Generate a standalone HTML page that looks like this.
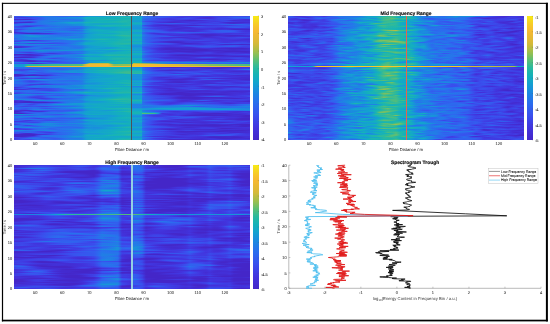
<!DOCTYPE html>
<html><head><meta charset="utf-8"><style>
html,body{margin:0;padding:0;background:#fff}
body{width:550px;height:324px;position:relative;overflow:hidden;font-family:"Liberation Sans",Arial,sans-serif}
.hm{position:absolute;overflow:hidden}
#heat{position:absolute;left:0;top:0;width:550px;height:324px;filter:blur(0.3px)}
.hm i{position:absolute;left:0;width:100%;height:1px;display:block}
</style></head><body>
<div id="heat"><div class="hm" style="left:14px;top:16px;width:236px;height:124px"><i style="top:0px;background:linear-gradient(90deg,#335bee,#3754ee,#3161ee,#2a6fee,#2576ea,#2676ea,#2577e9,#217fe5,#1f82e4,#237be7,#2872ec,#2c6aee,#2e66ee,#2e66ee,#2c6aee,#2c6bee,#2b6bee,#2a6fee,#1b89e0,#169ad6,#159cd4,#1699d6,#159cd4,#14a3ce,#14a5cb,#14a6ca,#14aac4,#14adc0,#14acc1,#14afbe,#1698d7,#1797d7,#2576ea,#2f64ee,#325eee,#3754ee,#3852ee,#3753ee,#3755ee,#3852ee,#3950ee,#3b48ea,#3f3fe4,#403ae1,#4039e1,#3f3de3,#3d44e7,#3c46e8,#3d44e7,#3d42e6,#3c46e8,#3c47e9,#3d43e6,#3e41e5,#3b49ea,#394eed,#394fed,#3a4dec,#3b4aeb,#3a4eed)"></i><i style="top:1px;background:linear-gradient(90deg,#3d44e7,#3f3ce3,#4137df,#403be2,#3d44e7,#3a4eed,#3656ee,#3160ee,#2a6eee,#2576ea,#237ae8,#227ce7,#217de6,#1d84e2,#1a8edd,#1990dc,#1990db,#1798d7,#14b0bc,#14b0bc,#14b2b9,#16b3b6,#14b2b8,#14b1ba,#14b2b9,#15b2b8,#1ab4b2,#21b6a9,#22b7a8,#21b6a9,#14abc2,#14aac4,#1b8adf,#2676ea,#2b6dee,#3062ee,#315fee,#345aee,#394fed,#3c47e9,#3e41e6,#4138e0,#4136df,#3e42e6,#3c47e9,#3e41e6,#4138e0,#4231d9,#432dd2,#432dd3,#4234de,#3d43e7,#3b4aea,#3a4ded,#3656ee,#315fee,#2f65ee,#2f64ee,#2e67ee,#2c6bee)"></i><i style="top:2px;background:linear-gradient(90deg,#3a4cec,#3853ee,#3950ee,#3b49ea,#3b4beb,#3754ee,#3754ee,#3161ee,#2773eb,#2578e9,#237ae8,#217ee6,#1f82e4,#1e83e3,#1d85e2,#1c87e1,#1b8bde,#1796d8,#14afbd,#14adc0,#14adc0,#14adc0,#14adc0,#14adbf,#14aebf,#14adc0,#14b0bc,#15b2b8,#14b2b9,#17b3b6,#14a3ce,#14a3ce,#217de6,#2e66ee,#325fee,#3852ee,#3c46e8,#3f3ee4,#403ae1,#4039e1,#3e3fe4,#3d42e6,#3b49ea,#3a4dec,#3c48ea,#3e3fe5,#4137e0,#4233dd,#4330d8,#4330d8,#4138e0,#3c47e9,#3a4cec,#3c47e9,#3b48ea,#3852ee,#3755ee,#3656ee,#325fee,#2f65ee)"></i><i style="top:3px;background:linear-gradient(90deg,#4429cd,#432bd0,#432bcf,#4428cc,#432bd0,#3f3de3,#3656ee,#3062ee,#2b6dee,#2577e9,#237ae8,#2577ea,#296fee,#2a6eee,#2674eb,#2479e8,#227de6,#1e84e3,#14a3cd,#14a9c6,#14abc3,#14b1ba,#1bb4b0,#1cb5af,#1cb5af,#1bb5b0,#1ab4b1,#1bb5b0,#1bb5b0,#1bb5b0,#14a3cd,#159dd4,#2872ec,#335dee,#335cee,#3755ee,#3b49ea,#3f3de3,#4039e1,#4234dd,#4136df,#3f3fe4,#3e42e6,#3f3fe4,#403ae2,#403be2,#3d45e8,#3a4eed,#3a4ceb,#3d43e7,#3e3fe4,#3d44e7,#3b4beb,#3a4eed,#3a4dec,#3c47e9,#3f3ee4,#4232dc,#432ed5,#432ed4)"></i><i style="top:4px;background:linear-gradient(90deg,#3853ee,#3951ee,#335dee,#2e66ee,#2c69ee,#2d69ee,#2c6aee,#2871ed,#2479e8,#217fe5,#1e83e3,#1e83e3,#207fe5,#217fe5,#227de6,#2577e9,#2577e9,#2080e4,#14a3ce,#14aac4,#14adc0,#14b0bc,#14b1bb,#14b0bb,#14afbd,#14afbe,#14b2b9,#1cb5af,#1fb6ac,#1fb6ac,#14a9c5,#14a7c9,#227de6,#315fee,#3656ee,#3a4cec,#3c48e9,#3c46e8,#3e41e6,#3f3ee4,#4136df,#4231da,#432fd6,#432bd0,#4428cb,#4429cc,#432cd1,#432ed5,#4233dd,#3f3de3,#3f3ee4,#3d43e7,#3b48ea,#3e41e5,#4232db,#432cd2,#432fd6,#4232db,#432fd6,#432ed5)"></i><i style="top:5px;background:linear-gradient(90deg,#325eee,#3755ee,#3754ee,#3b4beb,#3d43e6,#3851ee,#2a6dee,#2479e8,#237ae8,#2676ea,#2773eb,#2478e9,#2080e5,#1d85e2,#1e84e3,#1e83e3,#1c88e1,#1a8ddd,#14a7c9,#14abc2,#14afbd,#14b1bb,#14b0bb,#14b1ba,#15b2b8,#19b4b3,#1db5ad,#22b7a7,#22b7a8,#1bb4b0,#1798d7,#1a8ddd,#2e67ee,#3a4ceb,#3d44e7,#3e3fe4,#3f3de3,#403be2,#4137e0,#4232db,#432fd6,#432ed5,#4231da,#4233dc,#4232da,#4233dc,#4235df,#4039e1,#403ce2,#403ce2,#4138e0,#403ae1,#3d43e6,#3b4aea,#3c46e8,#403be2,#4234dd,#4233dc,#4232db,#4233dc)"></i><i style="top:6px;background:linear-gradient(90deg,#432cd1,#432ed5,#432cd2,#432ace,#432cd2,#3c46e8,#2a6fee,#237ae8,#227ce7,#217ee6,#1e84e3,#1a8cde,#1992db,#169bd5,#14a4cc,#14a6ca,#14a6ca,#14a6ca,#1ab4b2,#17b3b6,#1ab4b1,#1ab4b1,#18b3b4,#18b3b4,#19b4b2,#1ab4b2,#1bb4b0,#1eb6ac,#1db5ae,#1cb5af,#14a6ca,#14a4cd,#207fe5,#2f65ee,#3558ee,#3c47e9,#4138e0,#4231da,#432ed4,#4429cc,#4429cd,#432dd3,#4330d8,#4233dc,#4039e1,#3f3de3,#4138e0,#4233dd,#4234de,#3f3de3,#3c46e8,#3d44e7,#4234de,#432cd2,#4429cc,#4429cc,#432ace,#432ace,#432cd1,#432ed5)"></i><i style="top:7px;background:linear-gradient(90deg,#4039e1,#3a4ded,#2f64ee,#2b6dee,#2872ec,#2675eb,#2674eb,#2478e9,#207fe5,#1e83e3,#1d85e2,#1b89e0,#1b8adf,#1990dc,#159cd4,#14a1d0,#159cd4,#159bd5,#14adc0,#14aac5,#14a7c8,#14a7c9,#14a7c8,#14a8c6,#14a9c6,#14a8c7,#14acc1,#14b2b9,#17b3b6,#1cb5af,#14aebf,#14adc0,#1c87e1,#2c69ee,#335bee,#394fee,#394fed,#3754ee,#3656ee,#3459ee,#335dee,#345aee,#3753ee,#3b49ea,#3f3ee4,#4137df,#403be2,#3d43e6,#3d44e7,#3d44e7,#3e41e5,#3e42e6,#3d43e6,#4138e0,#432ed4,#432bd0,#4330d7,#4137e0,#3f3de3,#403be2)"></i><i style="top:8px;background:linear-gradient(90deg,#2d69ee,#2a6fee,#2577e9,#2479e8,#2577e9,#2774eb,#2871ed,#2773ec,#2675ea,#2577e9,#207fe5,#1e84e3,#2080e5,#2081e4,#1c88e0,#1a8ddd,#198fdc,#1894d9,#14a8c7,#14a7c8,#14a6ca,#14a6ca,#14a7c9,#14a9c5,#14adc0,#14afbe,#14b0bc,#14b2b9,#17b3b5,#1eb5ad,#14aebf,#14adbf,#1b89e0,#2d69ee,#3853ee,#3f3ee3,#4235de,#4235df,#403ae2,#3f3fe4,#3f3ee3,#4039e1,#403be2,#3e3fe4,#3f3fe4,#3f3fe4,#3c46e8,#3a4cec,#3a4cec,#3a4ded,#3a4cec,#3a4cec,#3558ee,#325fee,#3061ee,#2e66ee,#2c69ee,#3063ee,#3657ee,#3a4dec)"></i><i style="top:9px;background:linear-gradient(90deg,#2577e9,#2a6eee,#335cee,#3b49ea,#3a4eed,#394fed,#394fee,#3558ee,#2d68ee,#2774eb,#2577e9,#237be7,#227de6,#217ee6,#1f82e3,#1c88e0,#1a8cde,#1892da,#14a7c8,#14a9c5,#14aebf,#16b3b7,#19b4b2,#1cb5af,#1eb5ad,#1cb5af,#1bb4b0,#20b6aa,#22b7a7,#22b7a8,#14a5cb,#1991db,#3160ee,#3d43e7,#403ce2,#4232db,#432dd3,#432ace,#4426c8,#4426c8,#432ace,#432dd2,#432ed5,#432cd2,#4428cc,#4428cb,#432bd0,#4330d8,#4233dd,#4136df,#4039e1,#3f3ce2,#3f3de3,#403ae1,#3f3ce3,#3d45e8,#3b4beb,#3851ee,#3557ee,#335cee)"></i><i style="top:10px;background:linear-gradient(90deg,#3754ee,#3b49ea,#3e41e6,#4138e0,#4234de,#3a4cec,#3063ee,#2f65ee,#2e67ee,#2c6bee,#2b6bee,#2773eb,#2676ea,#2872ec,#2971ed,#2871ec,#2971ed,#2773ec,#1a8cde,#169ad5,#159ed3,#14a6ca,#14adc0,#14b2b9,#14b2b9,#14afbd,#14afbd,#14b2b9,#14b2b9,#14b2b9,#1797d7,#1795d9,#2872ec,#3656ee,#3d45e8,#4136df,#4234de,#4137e0,#4136df,#432fd6,#432cd1,#432ed5,#4233dc,#3f3ee4,#3a4cec,#3852ee,#3853ee,#3a4eed,#3c46e8,#3d44e7,#3d45e8,#3d45e8,#3c47e9,#394fed,#3656ee,#3655ee,#3852ee,#3753ee,#3851ee,#3b49ea)"></i><i style="top:11px;background:linear-gradient(90deg,#3656ee,#3a4dec,#3852ee,#3061ee,#2774eb,#217ee6,#217ee6,#2479e8,#2478e9,#237be7,#217de6,#227de6,#2479e8,#2675eb,#2872ec,#296fed,#2a6eee,#2871ec,#1c89e0,#1796d8,#169ad5,#149fd3,#14a0d2,#14a0d2,#14a0d2,#149fd2,#14a6ca,#14aebe,#14b0bc,#14aebe,#1894d9,#169bd5,#207fe5,#2f65ee,#3755ee,#3c48e9,#3e3fe4,#4138e0,#4136df,#4232da,#4231d9,#4231d9,#432ed5,#432cd1,#432ed5,#4137e0,#3e41e5,#3d43e7,#3e41e6,#3e40e5,#3e40e5,#403be2,#4138e0,#3e42e6,#394fed,#3559ee,#335cee,#3558ee,#3a4dec,#3d44e7)"></i><i style="top:12px;background:linear-gradient(90deg,#2b6dee,#2d68ee,#2e65ee,#2a6eee,#217ee6,#1c86e1,#1d86e2,#217ee6,#2675ea,#2b6bee,#2a6eee,#2871ec,#296fed,#2c6aee,#2f65ee,#3160ee,#3062ee,#2d68ee,#1c88e1,#159cd5,#149fd2,#14a0d2,#159dd4,#159cd5,#149fd2,#14a3ce,#14a7c8,#14a9c6,#14a8c8,#14aac5,#1a8ddd,#1a8edd,#2b6cee,#3951ee,#3c47e9,#3e3fe4,#403ae1,#4137df,#403ae2,#4138e0,#432fd7,#432acf,#432cd2,#432ed5,#432ed5,#4330d8,#4233dd,#4136df,#4234de,#4232dc,#4232da,#432ed5,#432dd4,#432fd6,#432fd6,#432fd7,#4330d8,#4231d9,#4232db,#4234de)"></i><i style="top:13px;background:linear-gradient(90deg,#3e40e5,#3d42e6,#3a4eed,#2f64ee,#2a6eee,#2b6cee,#2f64ee,#3063ee,#2e67ee,#2b6cee,#2871ec,#2872ec,#2a6fee,#2b6cee,#2c6bee,#2a6dee,#2479e8,#1d84e2,#159ed3,#14a6ca,#14abc2,#14acc1,#14a8c6,#14a6ca,#14a5cb,#14a5cc,#14a9c6,#14afbd,#14b0bb,#14b0bc,#1894d9,#159cd4,#2080e5,#2e67ee,#345aee,#3a4dec,#3c46e8,#3e41e5,#4138e1,#4231d9,#432dd3,#432cd2,#4330d8,#4234de,#4234de,#4232da,#432fd6,#432fd5,#4234dd,#4139e1,#4232db,#432fd6,#4232db,#4234de,#432ed5,#4427ca,#4426c8,#4426c8,#4426c8,#4426c8)"></i><i style="top:14px;background:linear-gradient(90deg,#3f3de3,#3558ee,#2970ed,#2478e9,#2577e9,#2577e9,#2576ea,#2774eb,#237be7,#1f82e4,#227de6,#2773eb,#2871ec,#2970ed,#2e66ee,#3160ee,#2e66ee,#2871ec,#1894d9,#14a5cb,#14acc2,#14afbd,#14b0bc,#14adc0,#14abc3,#14a9c5,#14abc3,#14aebe,#14afbd,#15b2b8,#14a5cb,#14a8c7,#1d84e2,#2b6dee,#2d69ee,#3062ee,#3557ee,#3b4aeb,#403be2,#4231d9,#4232db,#4233dc,#4231da,#4330d8,#432fd5,#432fd6,#4232da,#4137e0,#3d42e6,#3a4eed,#3853ee,#3559ee,#325eee,#345bee,#3559ee,#3754ee,#3b49ea,#3f3ce3,#4234de,#4233dd)"></i><i style="top:15px;background:linear-gradient(90deg,#403be2,#335dee,#2b6dee,#2872ec,#2675ea,#2479e8,#2479e8,#2773ec,#2e65ee,#2f63ee,#2970ed,#217de6,#1e83e3,#1f81e4,#217ee6,#227de6,#237ae8,#227ce7,#159cd4,#14a5cb,#14a7c8,#14aac4,#14acc1,#14abc2,#14afbe,#16b3b7,#1bb4b1,#1bb4b0,#1ab4b1,#1eb5ad,#14b0bb,#14b2b9,#1b8bdf,#2872ec,#2970ed,#2e66ee,#325eee,#3459ee,#394fed,#3d43e6,#3e41e6,#3e41e5,#3f3de3,#4136df,#4231d9,#432fd6,#4234dd,#3f3ce3,#3e41e5,#3b49ea,#3852ee,#3558ee,#325dee,#3160ee,#3062ee,#345aee,#3c47e9,#4039e1,#4234dd,#4234dd)"></i><i style="top:16px;background:linear-gradient(90deg,#432acf,#4232db,#3f3de3,#3950ee,#325eee,#3558ee,#3754ee,#2f65ee,#2872ec,#2871ec,#2b6cee,#296fed,#2675eb,#2577e9,#237be7,#207fe5,#1f82e4,#1e84e3,#169bd5,#14a0d1,#14a2cf,#14a7c9,#14aac4,#14adc0,#14b0bc,#14b2b9,#19b4b3,#1db5ad,#1bb5b0,#19b4b3,#14a0d2,#159ed3,#2676ea,#345aee,#3950ee,#394eed,#3657ee,#325eee,#335cee,#3755ee,#345aee,#2f63ee,#2f65ee,#3160ee,#335cee,#345aee,#335cee,#325dee,#3753ee,#3a4dec,#3950ee,#3754ee,#3656ee,#3754ee,#394fee,#3a4eed,#3a4cec,#3d42e6,#403be2,#3f3de3)"></i><i style="top:17px;background:linear-gradient(90deg,#3d44e7,#3e3fe5,#4231d9,#4427c9,#4426c8,#4426c8,#432ace,#4330d8,#4232db,#4137e0,#3c47e9,#3558ee,#3061ee,#2f63ee,#2e66ee,#2a6eee,#2872ec,#2970ed,#1c86e1,#1699d6,#14a2cf,#14a7c9,#14a7c9,#14a5cb,#14a5ca,#14a8c7,#14afbd,#1bb4b0,#1eb5ad,#1cb5af,#14a1d1,#1798d7,#2872ec,#3753ee,#3e3fe4,#4231da,#4330d8,#4137e0,#3f3de3,#403be2,#3f3ee4,#3e42e6,#3c48e9,#3c48e9,#3d43e7,#3e40e5,#403ae2,#4137df,#4039e1,#4136df,#4233dd,#4137e0,#4138e0,#4232dc,#4233dc,#4137e0,#4137df,#4234de,#4136df,#3f3ce3)"></i><i style="top:18px;background:linear-gradient(90deg,#2e66ee,#2d69ee,#2b6dee,#2970ed,#2c6bee,#3161ee,#335dee,#3459ee,#3459ee,#335dee,#3061ee,#2d67ee,#2b6cee,#2970ed,#2577e9,#217ee6,#1f82e3,#1e84e3,#159dd4,#14a4cd,#14aac4,#14b0bc,#14b2b9,#14b0bb,#14b0bc,#14b2b9,#19b4b3,#1eb5ad,#1db5ae,#1cb5af,#14a6ca,#14a7c9,#1e83e3,#2f64ee,#3754ee,#3c46e9,#4039e1,#4233dd,#4233dd,#4234de,#4137e0,#4233dd,#4231da,#432fd6,#432dd3,#4428cb,#4426c8,#4426c8,#4426c8,#4428cb,#4429cd,#432cd2,#4330d8,#4233dc,#4138e0,#403ce2,#403ce2,#3f3ee3,#3e40e5,#3d43e7)"></i><i style="top:19px;background:linear-gradient(90deg,#217ee5,#237ae8,#1f82e4,#1990dc,#1796d8,#1991db,#1a8cde,#1c88e0,#1d86e2,#1f81e4,#237ae8,#2674eb,#2a6eee,#2c6aee,#2b6dee,#2675eb,#227de6,#1f81e4,#169ad6,#14a3ce,#14a8c7,#14abc3,#14adc0,#14b1bb,#17b3b5,#1cb5af,#23b7a6,#2dba9b,#2eba9a,#29b99f,#14b2b8,#14b0bb,#1a8cde,#2b6bee,#325eee,#3754ee,#3950ee,#3a4dec,#3d45e8,#4235df,#4330d8,#4330d8,#4231d9,#4232dc,#4234de,#4233dc,#432fd7,#432ace,#4426c8,#4426c8,#4428cb,#432bd1,#432dd3,#432bd0,#4429cc,#4428cb,#4429cd,#432cd1,#4330d8,#4232db)"></i><i style="top:20px;background:linear-gradient(90deg,#2479e8,#237be7,#237ae8,#1d85e2,#1895d9,#1798d7,#1893da,#1a8cde,#1d86e2,#2080e4,#237be7,#2479e9,#237ae8,#227de6,#1e84e3,#1b89e0,#1e84e3,#207fe5,#169ad6,#14a4cc,#14a7c9,#14a8c7,#14abc3,#14acc1,#14abc2,#14abc2,#14b1ba,#1db5ad,#23b7a7,#25b8a4,#14afbd,#14a9c5,#1f82e4,#2d67ee,#325fee,#3657ee,#3656ee,#3459ee,#345bee,#3755ee,#3b4aeb,#3d43e7,#3f3fe4,#4139e1,#4234dd,#4235df,#4236df,#432ed4,#4429cd,#432cd2,#4233dc,#4138e0,#4234dd,#432fd6,#432cd1,#432ed5,#4231da,#4231d9,#432fd6,#432ed5)"></i><i style="top:21px;background:linear-gradient(90deg,#2676ea,#227ce7,#237ae8,#227ce7,#2080e5,#1e83e3,#1e84e3,#217ee6,#237be7,#217ee6,#2081e4,#1d86e2,#1d86e2,#2081e4,#227de6,#237be7,#227ce7,#2080e5,#169bd5,#14a3ce,#14a5ca,#14a7c9,#14a6ca,#14a5cb,#14a6ca,#14a8c7,#14aebf,#17b3b5,#1cb5af,#1bb5b0,#14a1d1,#149ed3,#2479e8,#3160ee,#3558ee,#3a4eed,#3d43e6,#4137e0,#4233dd,#4231da,#432fd6,#432dd4,#432cd2,#432ed5,#4233dc,#4136df,#4234de,#4232db,#4330d8,#432fd7,#4330d8,#4234de,#3f3ce3,#3f3ee4,#3e40e5,#3d43e6,#3b4aeb,#394fed,#3a4cec,#3c47e9)"></i><i style="top:22px;background:linear-gradient(90deg,#325fee,#2970ed,#207fe5,#1c86e1,#2080e5,#2577e9,#237be7,#1f82e4,#1d85e2,#1e84e2,#1c86e1,#1a8edd,#1991db,#198fdc,#1a8ddd,#1a8edd,#1991db,#1894d9,#14a5cb,#14a7c9,#14abc3,#14aebe,#14b1bb,#14b1bb,#14b0bc,#14b0bc,#14b0bb,#15b2b7,#19b4b2,#1db5ae,#14a7c8,#14a7c8,#1f81e4,#2e65ee,#3656ee,#3b48ea,#3e42e6,#403ae2,#4137df,#4138e0,#3e40e5,#3c45e8,#3e41e5,#4136df,#4330d7,#432dd3,#4330d7,#4235df,#3f3de3,#3f3ce3,#4137e0,#4233dc,#4232db,#4137e0,#3f3ee4,#3e40e5,#3e3fe4,#403be2,#4136df,#4233dd)"></i><i style="top:23px;background:linear-gradient(90deg,#2b6dee,#2676ea,#237ae8,#1f81e4,#1d85e2,#1f82e4,#1f82e3,#1e83e3,#1d85e2,#1d86e2,#1e83e3,#1f81e4,#1e84e2,#1892da,#14a2d0,#14a3cd,#159ed3,#169ad6,#14adc0,#14b0bc,#17b3b5,#1db5ae,#21b6a9,#1db5ae,#16b3b7,#15b2b8,#19b4b2,#1eb5ad,#21b6a9,#24b8a5,#14aebe,#14a6c9,#237be7,#3160ee,#3657ee,#3851ee,#394fed,#3b49ea,#3c46e8,#3c47e9,#3b4aeb,#3b4aeb,#3b49ea,#3d43e7,#3f3ee4,#4039e1,#4138e0,#3f3de3,#3e42e6,#3e41e5,#3f3ee4,#403ae1,#4234dd,#4233dd,#4136df,#4136df,#4233dd,#4330d8,#432dd3,#432dd3)"></i><i style="top:24px;background:linear-gradient(90deg,#3557ee,#3754ee,#3a4eed,#3e41e5,#4234dd,#4233dd,#3e40e5,#3a4cec,#3557ee,#325fee,#2e66ee,#2b6cee,#2a6dee,#2872ec,#237ae8,#2081e4,#1f81e4,#217ee6,#1795d8,#14a2d0,#14a6c9,#14abc3,#14aebf,#14afbd,#14afbd,#14afbd,#15b3b7,#1db5ae,#20b6a9,#22b7a7,#17b3b6,#17b3b5,#1c86e1,#2f64ee,#325dee,#3657ee,#394fed,#3a4eed,#3a4dec,#3d44e7,#3f3ee4,#403be2,#3f3ce3,#3e3fe4,#3d43e6,#3c46e9,#3b4aea,#3b4aea,#3d44e7,#3e40e5,#3f3de3,#4138e0,#4234de,#4234de,#4233dc,#432fd7,#432fd6,#4231da,#4233dd,#4233dc)"></i><i style="top:25px;background:linear-gradient(90deg,#3e3fe5,#3a4beb,#3161ee,#2c6aee,#2a6eee,#2d69ee,#3062ee,#315fee,#3161ee,#2b6cee,#2676ea,#2774eb,#296fed,#2871ed,#2872ec,#2773eb,#2578e9,#2080e5,#1699d6,#14a0d2,#14a5cb,#14adc0,#14b2b9,#15b2b8,#15b2b8,#16b3b7,#1bb4b0,#1eb5ad,#1bb5b0,#1bb4b0,#14a3ce,#14a0d2,#227de6,#2e65ee,#3557ee,#3b49ea,#3f3ee3,#4232db,#432cd2,#4429cd,#432ace,#432acf,#432fd6,#4235df,#4039e1,#4235df,#4233dd,#4233dd,#4233dc,#4136df,#3f3ee4,#3f3de3,#4136df,#4234de,#4136df,#4235df,#4138e0,#3f3ce3,#4039e1,#4233dc)"></i><i style="top:26px;background:linear-gradient(90deg,#2970ed,#2577e9,#217ee6,#1d84e2,#1b89e0,#1f82e4,#237be7,#227ce7,#2478e9,#2b6bee,#3062ee,#3062ee,#2e67ee,#2b6cee,#2773ec,#237be7,#1c88e0,#1894d9,#14a7c8,#14a8c7,#14abc3,#14adc0,#14aac4,#14aac4,#14b0bc,#19b4b2,#1db5ad,#1db5ad,#1bb5b0,#1eb5ad,#14abc3,#14a9c6,#1d86e2,#2d68ee,#3951ee,#3e40e5,#3f3de3,#4235df,#432fd6,#4429cd,#4426c8,#4426c8,#432acf,#4232db,#4136df,#4234de,#4136df,#3f3de3,#3e41e5,#3d44e7,#3b48ea,#3d44e7,#4139e1,#4234de,#403ae2,#3e41e5,#3c46e8,#3c47e9,#3d44e7,#403ae2)"></i><i style="top:27px;background:linear-gradient(90deg,#394fed,#3656ee,#315fee,#3753ee,#3d43e7,#3d44e7,#3b48ea,#3b49ea,#3c47e9,#3b4aea,#3b4beb,#3950ee,#3557ee,#3160ee,#2a6eee,#237be7,#1c87e1,#1894d9,#14acc2,#14acc1,#14abc2,#14abc3,#14adc0,#14b0bb,#17b3b6,#1ab4b1,#20b6a9,#26b8a2,#27b9a1,#28b9a0,#1cb5af,#18b3b4,#1a8fdc,#2773eb,#2b6dee,#2f64ee,#315fee,#325dee,#3559ee,#394fee,#3d44e7,#4235de,#432cd1,#4426c9,#4428cc,#432cd1,#432ed5,#4234de,#3f3ce3,#403ce2,#3f3de3,#3c47e9,#3852ee,#3852ee,#394fed,#3853ee,#3852ee,#3b4beb,#3b4beb,#3b4beb)"></i><i style="top:28px;background:linear-gradient(90deg,#198fdc,#1b89e0,#1d85e2,#1e83e3,#1f82e4,#1d85e2,#1c88e1,#1d86e2,#1e83e3,#1f82e4,#2081e4,#2576ea,#2c6aee,#2a6eee,#237be7,#1c86e1,#1991db,#169ad5,#14abc2,#14a8c7,#14a9c5,#14aac4,#14aac4,#14adc0,#14b2b8,#19b4b2,#1db5ae,#20b6aa,#1eb6ac,#1cb5af,#14a2cf,#149fd3,#217de6,#2e66ee,#335cee,#3951ee,#3a4cec,#3b4beb,#3b4aea,#3d45e8,#3f3ee4,#4236df,#4233dd,#4233dc,#4232db,#4234de,#4234dd,#4233dc,#4039e1,#3e40e5,#3e41e6,#4138e0,#432dd4,#4428cb,#432ace,#432bd0,#4429cc,#4427c9,#432ace,#432bcf)"></i><i style="top:29px;background:linear-gradient(90deg,#3753ee,#2f64ee,#2970ed,#227de6,#217de6,#2773eb,#2a6eee,#2970ed,#2970ed,#2d68ee,#2e65ee,#2d67ee,#2c6bee,#2a6eee,#2872ec,#2478e9,#207fe5,#1e83e3,#1797d7,#14a0d2,#14a6ca,#14aac4,#14aac4,#14abc2,#14aebe,#15b2b8,#17b3b6,#14b1ba,#14adc0,#14acc2,#1991db,#169ad6,#227ce7,#2f65ee,#3459ee,#3b4aeb,#3f3ee4,#4235df,#4233dd,#4234de,#4137e0,#4039e1,#3c45e8,#3852ee,#3753ee,#3a4dec,#3c48e9,#3b48ea,#3a4dec,#394fed,#3b49ea,#3d44e7,#3c47e9,#3a4dec,#3852ee,#3557ee,#3754ee,#3b4beb,#3c47e9,#3e40e5)"></i><i style="top:30px;background:linear-gradient(90deg,#4136df,#4231d9,#4233dc,#403ae1,#3d44e7,#345aee,#2c6aee,#2872ec,#2676ea,#2479e8,#227de6,#217ee6,#217de6,#2478e9,#2774eb,#2576ea,#2479e8,#227be7,#1893da,#159cd5,#159ed3,#14a2d0,#14a5cc,#14a8c7,#14adc0,#14b1bb,#15b2b8,#17b3b6,#14b2b9,#14aebf,#1c88e0,#1b89e0,#2b6cee,#3558ee,#3851ee,#3b4aeb,#3c46e8,#3f3ee4,#4236df,#4233dc,#4235de,#403ae1,#3f3ee4,#3e42e6,#3c48e9,#3950ee,#3656ee,#3559ee,#3559ee,#3557ee,#3755ee,#3655ee,#3558ee,#335cee,#325eee,#335cee,#3951ee,#3d44e7,#3e41e5,#3d44e7)"></i><i style="top:31px;background:linear-gradient(90deg,#4426c8,#4429cc,#4233dd,#3c46e8,#325eee,#2774eb,#2478e9,#2773eb,#2c6aee,#2d68ee,#2a6eee,#2872ec,#2578e9,#217ee6,#237be7,#2872ec,#2773eb,#2676ea,#1a8dde,#169ad5,#14a1d1,#14a4cc,#14a2cf,#159ed3,#159dd4,#14a0d2,#14a7c8,#14b0bc,#14b2b9,#14b2b9,#1699d6,#1990db,#2e65ee,#3a4ded,#3b4beb,#3d45e8,#403be2,#4232db,#432ed5,#432cd1,#432dd2,#432ed5,#432fd6,#432dd3,#432dd2,#4232da,#3e3fe4,#3c48e9,#3b4aeb,#3b4aea,#3d45e8,#3f3fe4,#4139e1,#4235de,#4137e0,#4039e1,#4136df,#4235df,#403ae1,#3f3ce3)"></i><i style="top:32px;background:linear-gradient(90deg,#2773eb,#2478e9,#217ee6,#2080e5,#227ce7,#2479e8,#2774eb,#3062ee,#3754ee,#335dee,#2e66ee,#2b6cee,#2774eb,#227ce7,#217de6,#2478e9,#2577ea,#217ee6,#159cd4,#14a2cf,#14a0d1,#159ed3,#159cd4,#1699d6,#159dd4,#14a4cd,#14aac5,#14acc1,#14adc0,#14afbd,#169ad6,#1699d6,#2a6fee,#3951ee,#3d44e7,#4136df,#4330d7,#432bcf,#4426c8,#4426c8,#4426c8,#4426c8,#4426c8,#4429cc,#432acf,#4429cd,#432bd0,#432ed5,#4231d9,#4330d8,#432cd2,#4429cd,#432ace,#4428cc,#4426c8,#4426c8,#4426c8,#4426c8,#4428cb,#432dd4)"></i><i style="top:33px;background:linear-gradient(90deg,#2675ea,#2773eb,#2a6fee,#2c6aee,#3160ee,#3062ee,#2b6cee,#2872ec,#2479e9,#237ae8,#2478e9,#237ae8,#237be7,#217de6,#1d84e2,#1b8adf,#1a8edd,#1990dc,#14a5cb,#14a6ca,#14a6ca,#14a7c9,#14a9c5,#14afbd,#17b3b5,#17b3b5,#18b4b4,#1bb4b1,#1ab4b1,#1bb4b0,#14a7c8,#14a2d0,#2871ec,#3754ee,#3a4cec,#3f3de3,#4231d9,#432bd0,#4427ca,#4426c8,#4427c9,#4429cd,#4426c8,#4426c8,#4426c8,#4426c8,#4426c8,#4426c8,#4426c8,#432bd0,#4330d8,#432fd6,#432fd6,#432fd5,#432bcf,#4429cd,#432cd1,#432cd1,#432cd2,#4330d8)"></i><i style="top:34px;background:linear-gradient(90deg,#2e66ee,#2774eb,#217de6,#227ce7,#2478e9,#1f82e4,#198fdc,#1990db,#1b8adf,#1c88e1,#1b89e0,#1a8edd,#1892da,#1893da,#1991db,#1a8fdc,#1a8edd,#1b8bdf,#159cd4,#149fd3,#159dd4,#159cd4,#159dd4,#14a0d2,#149fd3,#169bd5,#159ed3,#14a6ca,#14aac4,#14aebf,#1797d8,#1796d8,#2970ed,#335cee,#3656ee,#3c46e8,#4235df,#4231d9,#4232db,#432fd6,#4429cd,#4428cb,#432acf,#432bd0,#432ace,#4426c8,#4426c8,#4426c8,#4426c8,#4429cc,#432ace,#4428cc,#432acf,#432cd1,#432bcf,#432ace,#432cd1,#432fd6,#4330d8,#4231d9)"></i><i style="top:35px;background:linear-gradient(90deg,#3062ee,#3063ee,#2f64ee,#2f65ee,#2f64ee,#2c6aee,#2478e9,#1f81e4,#227ce7,#2773eb,#2971ed,#2871ec,#2b6bee,#2e66ee,#2b6bee,#2871ec,#2871ec,#2970ed,#1c88e0,#1699d6,#159ed3,#14a4cc,#14a8c8,#14a2cf,#159ed3,#14a2cf,#14a9c6,#14aebf,#14b2ba,#1bb4b0,#14acc2,#14aebf,#1b89e0,#2d68ee,#3853ee,#3e41e6,#4039e1,#4233dd,#432fd7,#432bd0,#4429cd,#4427ca,#4426c8,#4426c8,#4426c8,#4427c9,#432bd0,#432dd3,#432ed5,#432fd6,#432dd3,#432dd4,#432bd0,#4426c8,#4426c8,#4426c8,#4426c8,#4426c8,#4426c8,#4429cd)"></i><i style="top:36px;background:linear-gradient(90deg,#335cee,#3754ee,#3b4aea,#3e41e5,#3f3ce3,#3a4cec,#2f64ee,#2b6dee,#2d69ee,#325fee,#325fee,#3160ee,#335cee,#325dee,#2e66ee,#2a6fee,#2577e9,#2478e9,#1a8dde,#1698d7,#1698d7,#169bd5,#14a0d2,#14a2cf,#14a8c7,#14adc0,#14afbd,#14b1ba,#14b2b9,#14b1ba,#169bd5,#159dd4,#2478e9,#3558ee,#3b49ea,#3f3ee3,#4039e1,#4233dd,#432fd7,#432ed5,#4233dd,#4138e0,#4235de,#4330d7,#432dd3,#432dd4,#4330d8,#4233dd,#3f3de3,#3f3ee4,#4232da,#432cd2,#432dd2,#432dd4,#432ed5,#4330d7,#432fd7,#432cd1,#4428cc,#432cd1)"></i><i style="top:37px;background:linear-gradient(90deg,#2e65ee,#2c6aee,#2d67ee,#325dee,#3950ee,#3a4eed,#3b49ea,#3e42e6,#3f3de3,#4136df,#4136df,#3c45e8,#3852ee,#3655ee,#345aee,#3061ee,#2d68ee,#2a6eee,#1b8cde,#169bd5,#159cd4,#159dd4,#14a2cf,#14a9c5,#14adc0,#14adc0,#14afbd,#14b1ba,#14b2b8,#19b4b3,#14abc3,#14b0bc,#1a8cde,#2c6bee,#325eee,#3755ee,#3951ee,#3a4dec,#3b4beb,#3d45e8,#3d42e6,#3d43e6,#3d44e7,#3d43e7,#3e41e5,#403be2,#4137e0,#4137e0,#3f3ee4,#3f3fe4,#4236df,#4232da,#4232db,#4136df,#403be2,#4136df,#4233dc,#4234de,#4235df,#4232db)"></i><i style="top:38px;background:linear-gradient(90deg,#432ace,#4426c8,#4426c8,#4426c8,#4426c8,#4330d7,#403ae1,#3b4beb,#335cee,#3061ee,#335cee,#335cee,#3061ee,#2b6cee,#2577e9,#217ee6,#1c88e1,#1796d8,#14aebe,#14aebf,#14adc0,#14aebf,#14b1ba,#19b4b3,#1cb5b0,#1db5ae,#1fb6ab,#1fb6ab,#1eb5ad,#20b6aa,#14b1bb,#14b2b9,#1a8cde,#2b6dee,#325eee,#3a4cec,#3d43e7,#3d42e6,#3f3ee4,#4234de,#4231d9,#432ed4,#432cd1,#432dd3,#4231d9,#4235de,#4136df,#4234de,#4231d9,#432ed4,#432fd5,#4231da,#4234dd,#4039e1,#3e40e5,#3d44e7,#3d45e8,#3b49ea,#3a4eed,#3a4cec)"></i><i style="top:39px;background:linear-gradient(90deg,#4233dd,#3f3ce3,#403ae1,#4330d8,#432bd0,#432cd1,#432ed5,#4138e0,#3a4dec,#2e66ee,#2676ea,#237be7,#2081e4,#1f82e3,#2080e5,#217fe5,#207fe5,#1e84e3,#14a1d1,#14a5cb,#14a6c9,#14aac4,#14b2b8,#1fb6ab,#25b8a4,#23b7a6,#23b7a7,#22b7a7,#21b7a9,#21b7a9,#14a9c6,#14a4cd,#2479e8,#345aee,#3a4dec,#3d44e7,#3e40e5,#403be2,#4235df,#4330d7,#432acf,#4426c8,#4426c8,#4426c8,#4426c8,#4426c8,#4426c8,#4426c8,#4426c8,#4426c8,#4426c8,#4426c8,#4426c8,#432cd1,#4330d8,#4233dc,#4234de,#4233dc,#4233dd,#4235df)"></i><i style="top:40px;background:linear-gradient(90deg,#335bee,#3b4beb,#403be2,#4039e1,#4138e0,#3f3ee4,#3a4eed,#2f64ee,#2773eb,#227de6,#2080e5,#217ee6,#227de6,#227be7,#227be7,#227ce7,#237be7,#237be7,#1893da,#159ed3,#159dd4,#149fd2,#14a4cc,#14aac4,#14adc0,#14adc0,#14aebf,#14b1bb,#16b3b7,#1ab4b2,#14a4cc,#14a2cf,#2478e9,#3558ee,#3b4beb,#3d45e8,#3d43e7,#3e41e6,#3f3de3,#4235df,#4232db,#4231d9,#4330d8,#4330d8,#432fd6,#432dd3,#432dd3,#4330d7,#4232db,#4231da,#432fd6,#432ed5,#432ed5,#432ed5,#432dd2,#4429cc,#4428cb,#4429cc,#432bd0,#432dd3)"></i><i style="top:41px;background:linear-gradient(90deg,#4426c8,#4426c8,#4426c8,#4426c9,#432ace,#4234de,#3852ee,#2d68ee,#296fed,#2970ed,#2c6aee,#2e65ee,#2e67ee,#2871ed,#227de6,#1d84e2,#1990dc,#169bd5,#14aebf,#14acc1,#14acc1,#14acc1,#14adc0,#14aebf,#14b2ba,#18b3b4,#18b4b3,#19b4b2,#1ab4b2,#1bb4b0,#14a2cf,#1795d8,#2b6dee,#3459ee,#3852ee,#3c46e8,#403be2,#4233dc,#4330d8,#432ed5,#432ed5,#432dd4,#432dd3,#432ed4,#4330d8,#4136df,#3d44e7,#3a4dec,#3851ee,#3851ee,#3b48ea,#3f3ee3,#4039e1,#403be2,#3f3ee4,#3e41e5,#3d44e7,#3d43e7,#403ae1,#4233dd)"></i><i style="top:42px;background:linear-gradient(90deg,#3b4beb,#3a4eed,#335cee,#2f64ee,#2f64ee,#2e65ee,#2c6aee,#2b6bee,#3063ee,#3a4eed,#3d45e8,#394fed,#325dee,#2d68ee,#2b6dee,#296fed,#2577e9,#1e84e3,#14a7c9,#14adc0,#14afbd,#14afbd,#14afbd,#14b0bc,#17b3b5,#1fb6ab,#22b7a8,#22b7a8,#20b6a9,#21b7a9,#14adc0,#14aac4,#1d86e2,#2c69ee,#325eee,#3558ee,#3852ee,#3e40e5,#4234de,#4234dd,#4233dc,#4231d9,#432ed5,#432dd4,#432fd7,#4232db,#4235de,#4138e0,#4039e1,#4234de,#4232db,#4233dd,#4138e0,#3f3ce3,#3e40e5,#3c47e9,#3b4aeb,#3d45e8,#3e41e6,#3d43e7)"></i><i style="top:43px;background:linear-gradient(90deg,#3d45e8,#3f3ce3,#4232dc,#3d42e6,#2d67ee,#2774eb,#2479e8,#227de6,#217de6,#237ae8,#2478e9,#296fed,#2e65ee,#2f64ee,#2c6bee,#2675ea,#2080e5,#1b8adf,#14a7c8,#14acc2,#14afbd,#14aebe,#14abc3,#14acc1,#16b3b7,#1db5ae,#1db5ad,#1db5ae,#1cb5af,#1fb6ac,#14afbd,#14b0bb,#1b8bdf,#2d69ee,#345aee,#3a4eed,#3a4cec,#3a4dec,#3c48e9,#3d43e6,#3e3fe5,#4138e1,#4234de,#4233dc,#4231d9,#432dd2,#4428cc,#4427ca,#4427c9,#4426c8,#4426c8,#4428cc,#432dd3,#432bd0,#432bd0,#4330d8,#4136df,#403be2,#3e3fe4,#3d44e7)"></i><i style="top:44px;background:linear-gradient(90deg,#432fd6,#432dd3,#432cd1,#4426c8,#4426c8,#432fd6,#3d44e7,#3a4cec,#3a4dec,#3950ee,#345aee,#3160ee,#2f64ee,#2b6bee,#2970ed,#2773eb,#2577ea,#2774eb,#1c88e1,#1797d7,#1797d7,#1895d9,#1894d9,#1798d7,#14a2cf,#14aac4,#14b0bc,#19b4b3,#1cb5b0,#1db5ad,#14a7c9,#159ed3,#2a6eee,#394fee,#3d44e7,#403ae2,#4138e0,#4138e0,#4137e0,#4234de,#4330d8,#432dd3,#432dd3,#432cd1,#432cd2,#432fd7,#4232db,#403ae2,#3e41e5,#403ae2,#4232db,#432fd5,#432fd5,#4234de,#3b49ea,#3951ee,#394fee,#3a4dec,#3c46e8,#3f3fe4)"></i><i style="top:45px;background:linear-gradient(90deg,#3b4aeb,#3f3ee4,#4039e1,#432ed5,#4426c8,#4426c8,#4233dc,#4039e1,#4235df,#4138e0,#3e41e5,#3a4cec,#3559ee,#3063ee,#2d68ee,#2d68ee,#296fed,#2577e9,#1990dc,#159dd4,#14a2cf,#14a7c8,#14abc3,#14adc0,#14b2b9,#1ab4b1,#21b7a9,#23b7a6,#21b7a9,#24b8a5,#16b3b6,#14afbd,#1b8adf,#296fed,#2e67ee,#2e66ee,#2c6aee,#2d69ee,#2e66ee,#3160ee,#3657ee,#3950ee,#3951ee,#3656ee,#3655ee,#3950ee,#3a4dec,#3a4eed,#3b4aeb,#3e41e6,#3f3fe4,#3d44e7,#3c47e9,#3c46e8,#3b4aea,#3851ee,#3656ee,#3852ee,#3a4cec,#3a4beb)"></i><i style="top:46px;background:linear-gradient(90deg,#2a6eee,#237be7,#2676ea,#2d68ee,#2d68ee,#2774eb,#2576ea,#2773eb,#2c6bee,#3656ee,#3a4cec,#3a4ded,#3851ee,#3558ee,#315fee,#3061ee,#2f64ee,#2d68ee,#2080e5,#1892da,#169ad6,#14a2cf,#14aac4,#14b1ba,#19b4b3,#1cb5af,#1cb5ae,#1fb6ac,#24b7a6,#29b99f,#18b3b4,#14b1bb,#1990dc,#237be7,#2577e9,#2478e9,#2080e5,#1d85e2,#1e84e2,#1e84e3,#1e83e3,#1e83e3,#1e84e3,#1d85e2,#1d86e2,#1d85e2,#1f82e4,#2080e5,#207fe5,#2080e5,#2080e5,#2080e5,#2080e5,#1f82e4,#1f82e3,#1f82e3,#1f82e3,#1e84e3,#1d85e2,#1d85e2)"></i><i style="top:47px;background:linear-gradient(90deg,#3062ee,#345aee,#3755ee,#3a4eed,#403be2,#4231d9,#4231d9,#403be2,#3a4eed,#335cee,#2e65ee,#2d68ee,#2f63ee,#325fee,#3160ee,#2f64ee,#2d68ee,#2c6bee,#1e83e3,#1895d9,#1699d6,#159cd5,#149fd3,#14a2cf,#14a7c8,#14adbf,#16b3b6,#1eb6ac,#1fb6ab,#1fb6ac,#14aac4,#14a6ca,#227be7,#2f64ee,#3160ee,#3062ee,#2d68ee,#2b6cee,#2b6bee,#2c6aee,#2c6aee,#2c6aee,#2c6aee,#2c69ee,#2d67ee,#2e65ee,#2e65ee,#2f65ee,#2f64ee,#2f65ee,#2e65ee,#2d68ee,#2b6bee,#2c6aee,#2d67ee,#2e66ee,#2d68ee,#2d68ee,#2e66ee,#2e65ee)"></i><i style="top:48px;background:linear-gradient(90deg,#3d44e7,#3e41e5,#4138e0,#4235de,#4232db,#4234dd,#3c47e9,#2f64ee,#2578e9,#207fe5,#217de6,#237be7,#207fe5,#1e84e3,#1f82e4,#2081e4,#1e84e3,#1c87e1,#1699d6,#149fd3,#14a2d0,#14a4cc,#14a8c7,#14afbd,#18b3b5,#1db5ae,#23b7a6,#27b9a1,#27b9a2,#27b9a1,#1ab4b2,#1ab4b2,#1797d8,#2675ea,#3062ee,#3754ee,#3852ee,#3753ee,#3852ee,#3853ee,#3754ee,#3b49ea,#3e3fe5,#3f3ee4,#3f3ee4,#3f3de3,#3c45e8,#3950ee,#394fee,#3c48ea,#3f3ee4,#4136df,#4235de,#4136df,#4234de,#4232db,#4330d8,#432fd7,#432fd6,#432ed4)"></i><i style="top:49px;background:linear-gradient(90deg,#2675eb,#2872ec,#2774eb,#227ce7,#1f82e4,#2080e5,#217ee6,#227de6,#1e83e3,#1c88e0,#1e84e2,#2080e5,#1f81e4,#1c88e0,#1990dc,#1a8edd,#1c87e1,#1e83e3,#1795d8,#159ed3,#14a4cd,#14a8c6,#14aac4,#14abc2,#14adc0,#14b0bb,#1ab4b2,#21b7a9,#26b8a3,#2eba9b,#1fb6ab,#18b4b4,#1797d7,#2080e4,#2578e9,#2a6fee,#2d67ee,#3161ee,#315fee,#325eee,#3657ee,#3a4cec,#3c47e9,#3c48e9,#3b48ea,#3c48e9,#394fed,#345bee,#3459ee,#3a4dec,#3e42e6,#403be2,#4138e0,#4233dd,#4231d9,#4232da,#432fd7,#4428cc,#4426c8,#4426c8)"></i><i style="top:50px;background:linear-gradient(90deg,#2c6aee,#2871ec,#2675ea,#2479e8,#2578e9,#2675ea,#237ae8,#2080e5,#2080e5,#227de6,#217ee6,#1e84e3,#1990dc,#169ad6,#169bd5,#1798d7,#1797d8,#1895d9,#14a4cd,#14a5cb,#14a6ca,#14a6c9,#14a7c9,#14a9c5,#14aebe,#14b1ba,#14b2b9,#18b3b5,#1fb6ac,#27b9a2,#1ab4b1,#15b3b7,#1a8dde,#2c6bee,#335cee,#3a4cec,#3f3ce3,#4233dc,#432ed5,#4429cc,#4429cc,#432dd4,#4232db,#4234de,#4136df,#4137e0,#4138e0,#403be2,#3f3de3,#403be2,#4235df,#4231d9,#432ed4,#4428cb,#4426c8,#4426c8,#4426c8,#4426c8,#4426c8,#4426c8)"></i><i style="top:51px;background:linear-gradient(90deg,#2f65ee,#2c6aee,#2b6dee,#2970ed,#2b6bee,#2b6cee,#237ae8,#1f81e4,#227de6,#2577e9,#2577e9,#227ce7,#2081e4,#1d85e2,#1c88e0,#1b8bde,#1a8ddd,#1a8cde,#149fd3,#14a5cb,#14aac4,#14adc0,#14adc0,#14b0bc,#14b1ba,#14afbd,#14aebe,#14b0bc,#14b0bc,#14aebe,#1a8ddd,#1b8bdf,#2c6aee,#3853ee,#3a4cec,#3e40e5,#4234de,#432ed5,#432bcf,#4428cb,#4427ca,#432acf,#432ed4,#4330d8,#4232db,#432fd7,#432bcf,#4429cc,#432bcf,#432dd2,#432bd1,#4429cd,#4426c8,#4426c8,#4428cb,#432ace,#432ed4,#4233dd,#4235df,#4235de)"></i><i style="top:52px;background:linear-gradient(90deg,#2872ec,#2a6dee,#2d68ee,#2c6aee,#2a6dee,#2c6aee,#3062ee,#345bee,#325eee,#3063ee,#3062ee,#3061ee,#3062ee,#2e67ee,#2b6dee,#2a6fee,#2872ec,#2479e8,#1796d8,#14a5cb,#14abc3,#14aebf,#14b1bb,#14b2b9,#14afbd,#14acc1,#14acc1,#14adc0,#14afbd,#14b2ba,#169ad6,#1796d8,#2577e9,#3160ee,#3a4eed,#403be2,#4137e0,#3e40e5,#3c47e9,#3d44e7,#3e41e5,#3d45e7,#3c46e8,#3e40e5,#403ae1,#4039e1,#4039e1,#4232db,#432ed4,#432ace,#4426c8,#4426c8,#4429cd,#432fd6,#4234de,#4136df,#4235df,#403ce2,#3e41e6,#403ce2)"></i><i style="top:53px;background:linear-gradient(90deg,#3d42e6,#3e41e6,#3d45e8,#3c47e9,#3d42e6,#3950ee,#2f63ee,#2d68ee,#2b6cee,#296fee,#2c6bee,#2f64ee,#2f64ee,#2c6aee,#2970ed,#2676ea,#2080e5,#1b8bde,#14a5cb,#14a8c7,#14a8c7,#14a8c7,#14a9c5,#14acc1,#14b2b9,#1cb5b0,#1fb6ab,#1eb5ad,#1fb6ab,#1fb6ab,#14a5cc,#14a0d2,#247ae8,#335cee,#3950ee,#3c48ea,#3d45e8,#3d42e6,#3e40e5,#4137e0,#4234dd,#4137e0,#3f3de3,#403ae1,#4232db,#4330d7,#4232db,#4136df,#4137e0,#4039e1,#3f3ce3,#3f3de3,#403ae1,#403ae1,#3e3fe4,#3c48e9,#3753ee,#3161ee,#2b6dee,#237be7)"></i><i style="top:54px;background:linear-gradient(90deg,#394fed,#3a4cec,#3d44e7,#3951ee,#2d67ee,#2d68ee,#335dee,#3063ee,#2970ed,#2479e8,#227ce7,#2479e8,#2577e9,#217de6,#1b8adf,#1990db,#1990db,#1893da,#14a4cc,#14a7c9,#14adc0,#16b3b6,#1db5ae,#1db5ad,#1cb5af,#1eb6ac,#22b7a8,#23b7a6,#26b8a3,#27b9a1,#16b3b7,#14acc1,#1f82e4,#2f63ee,#3754ee,#3e42e6,#4234de,#432ed5,#432acf,#4429cd,#432bd0,#432bd0,#432cd2,#432fd6,#4330d8,#4232da,#4137e0,#3f3ee4,#3e41e5,#3f3de3,#4235df,#4232db,#4231d9,#4232db,#4234dd,#4233dd,#4235df,#4136df,#4039e1,#3e41e5)"></i><i style="top:55px;background:linear-gradient(90deg,#2b6cee,#2b6bee,#315fee,#3160ee,#2971ed,#2576ea,#2970ed,#2e66ee,#2b6cee,#237ae8,#1f81e4,#1e83e3,#1c88e0,#1990dc,#1894d9,#1893da,#1990dc,#1991db,#14a5cb,#14a8c7,#14abc2,#14afbd,#15b2b8,#18b4b3,#1cb5af,#1fb6ab,#23b7a7,#2ab99e,#35ba95,#38bb92,#25b8a4,#21b7a9,#159cd5,#2675ea,#325fee,#3a4dec,#3c47e9,#3c47e9,#3d44e7,#3d43e7,#3b49ea,#3c47e9,#3d43e6,#3c47e9,#3c48e9,#3d45e8,#3c47e9,#3a4eed,#3852ee,#3b49ea,#403be2,#4136df,#4039e1,#4235de,#432fd6,#432bd0,#432bd0,#432cd2,#432cd1,#432cd2)"></i><i style="top:56px;background:linear-gradient(90deg,#2674eb,#2676ea,#2d69ee,#325eee,#3160ee,#345bee,#3755ee,#335cee,#2d69ee,#2c6aee,#2b6cee,#2774eb,#217de6,#1c87e1,#1991db,#1895d9,#1893da,#1699d6,#14aebe,#14aebe,#14b1bb,#17b3b6,#19b4b3,#1bb4b1,#20b6aa,#26b8a3,#2fba99,#3abb90,#3dbb8e,#3dbb8d,#26b8a2,#1cb5af,#1894d9,#2774eb,#2d68ee,#315fee,#3558ee,#3950ee,#3b49ea,#3d44e7,#3b49ea,#3852ee,#3559ee,#3558ee,#3852ee,#3a4dec,#3c48e9,#403be2,#4235df,#3f3ce3,#3e41e6,#3e41e6,#3f3fe4,#4137df,#4234de,#4137df,#4136df,#4234de,#4137e0,#403ae1)"></i><i style="top:57px;background:linear-gradient(90deg,#2774eb,#2c6aee,#315fee,#2f64ee,#2a6eee,#2a6fee,#3062ee,#3754ee,#3655ee,#3558ee,#3657ee,#3657ee,#3559ee,#3657ee,#3657ee,#3558ee,#325fee,#2c69ee,#1f82e4,#1893da,#159cd5,#14a3ce,#14a7c9,#14abc3,#14b1ba,#1ab4b1,#1fb6ab,#25b8a3,#32ba97,#3ebb8c,#34ba95,#27b9a1,#149fd2,#227ce7,#2c6aee,#335bee,#3557ee,#3755ee,#3950ee,#3d44e7,#4136df,#4235df,#3f3ce3,#3e42e6,#3a4beb,#3656ee,#345bee,#3753ee,#3b49ea,#3c46e8,#3b4aeb,#3a4eed,#3a4dec,#3b49ea,#3d43e7,#3f3de3,#403ae1,#3e40e5,#3c47e9,#3d43e6)"></i><i style="top:58px;background:linear-gradient(90deg,#4427ca,#4428cc,#4137e0,#3a4dec,#3f3de3,#4234dd,#3e42e6,#3a4dec,#3c47e9,#3c48e9,#335bee,#2d69ee,#2d68ee,#2f64ee,#2e66ee,#2d68ee,#2c69ee,#2a6eee,#1d86e2,#1895d9,#169ad6,#14a0d2,#14a4cd,#14a7c8,#14acc2,#14acc1,#14aac4,#14a8c7,#14a8c6,#14aac4,#1a8edd,#1893da,#2576ea,#3160ee,#3656ee,#394fed,#3a4eed,#3754ee,#3459ee,#345bee,#2e65ee,#2b6cee,#3062ee,#3754ee,#3a4dec,#3b4beb,#3a4dec,#394fed,#394fee,#3d44e7,#4138e0,#4039e1,#4039e1,#4138e0,#3e41e5,#3c48e9,#3c46e8,#3d42e6,#3f3ee4,#4039e1)"></i><i style="top:59px;background:linear-gradient(90deg,#4429cd,#4426c8,#4426c8,#4426c8,#4426c8,#4426c8,#4429cc,#432ace,#432fd6,#3f3ce3,#3a4cec,#3558ee,#2f64ee,#2c6bee,#2a6dee,#2b6cee,#2a6dee,#2773ec,#1b8bdf,#1797d7,#1798d7,#169bd5,#149fd3,#14a0d2,#14a2cf,#14a6ca,#14a9c6,#14abc3,#14adc1,#14aebf,#1895d9,#1797d8,#2577e9,#3062ee,#335cee,#3557ee,#3558ee,#3459ee,#3753ee,#3b4beb,#3b4beb,#3b4aea,#3c46e9,#3d44e7,#3e41e5,#403ae1,#4234dd,#4231da,#4234dd,#4138e0,#4235df,#4232db,#4231da,#4233dc,#4231da,#432dd3,#432bd0,#432cd1,#432cd2,#432ed4)"></i><i style="top:60px;background:linear-gradient(90deg,#4235de,#4039e1,#3a4eed,#2c6aee,#227ce7,#227de6,#2a6eee,#345aee,#345aee,#2f64ee,#2b6cee,#296fee,#2b6bee,#2b6dee,#2675ea,#237be7,#227ce7,#237ae8,#1a8fdc,#169bd5,#14a0d1,#14a4cc,#14a4cd,#14a1d0,#14a3ce,#14a6ca,#14a9c6,#14abc3,#14abc2,#14acc1,#1a8edd,#198fdc,#2674eb,#335cee,#3950ee,#3b49ea,#3c45e8,#3d44e7,#3d44e7,#3e40e5,#3e41e6,#3b48ea,#394fed,#3a4eed,#3f3ee4,#4330d7,#432ed4,#432fd5,#432ed5,#4231da,#4136df,#4136df,#4233dc,#4231d9,#4231d9,#4233dc,#4232db,#4231d9,#4330d8,#432cd2)"></i><i style="top:61px;background:linear-gradient(90deg,#3063ee,#2f64ee,#3061ee,#3160ee,#2d68ee,#2c6aee,#2e65ee,#335bee,#315fee,#2c69ee,#2d68ee,#2d68ee,#2970ed,#2774eb,#2675ea,#2576ea,#2479e8,#217ee6,#1990dc,#1798d7,#169ad5,#149fd3,#14a1d0,#14a2cf,#14a5cb,#14a9c6,#14abc3,#14aac4,#14aac4,#14abc2,#1991db,#1796d8,#2479e8,#3062ee,#3950ee,#403be2,#4231d9,#432dd4,#432ed5,#4234dd,#3f3ee4,#3e40e5,#3e3fe4,#3f3de3,#4139e1,#403be2,#3b49ea,#3951ee,#3950ee,#394fed,#3a4cec,#3c48e9,#3d44e7,#3e3fe4,#4136df,#4232db,#4330d7,#432cd2,#432cd2,#432dd3)"></i><i style="top:62px;background:linear-gradient(90deg,#325eee,#3a4dec,#4137e0,#403ae1,#3d42e6,#3d43e6,#3f3ce3,#3f3ee4,#3c47e9,#3656ee,#2d67ee,#2871ec,#2675eb,#2773ec,#2970ed,#2675ea,#227ce7,#227de6,#1b8adf,#1797d8,#149fd3,#14a3cd,#14a7c9,#14abc3,#14adc0,#14abc2,#14aac4,#14abc3,#14abc3,#14abc3,#198fdc,#1892da,#2674eb,#345aee,#3b49ea,#4039e1,#4233dd,#4233dd,#4137e0,#4137e0,#4136df,#4235de,#4330d8,#432bcf,#432acf,#432ed4,#4234de,#3e3fe5,#3f3ee4,#4232db,#432cd2,#432cd2,#432cd2,#432cd2,#432cd1,#432bd0,#432cd2,#432dd3,#432bd0,#432bcf)"></i><i style="top:63px;background:linear-gradient(90deg,#2773eb,#2578e9,#2576ea,#2578e9,#1e84e2,#1991db,#1992da,#1a8dde,#1d86e1,#217ee6,#237be7,#217ee6,#217fe5,#217ee6,#227ce7,#207fe5,#1e83e3,#1d85e2,#1698d7,#14a1d1,#14a4cc,#14a6ca,#14a7c9,#14a8c6,#14a9c6,#14a8c7,#14a8c7,#14acc2,#14afbe,#14aebe,#198fdc,#1b8adf,#2d68ee,#3951ee,#3c47e9,#403ce2,#4235df,#4232db,#432dd4,#4426c8,#4426c8,#4427ca,#4427c9,#4429cd,#432cd1,#432ed5,#403be2,#3852ee,#325dee,#325dee,#3558ee,#394fed,#3d43e7,#403ae1,#4138e0,#4234de,#432fd6,#432acf,#4428cb,#4429cc)"></i><i style="top:64px;background:linear-gradient(90deg,#1e84e3,#2479e8,#2c69ee,#3559ee,#3950ee,#3657ee,#2d68ee,#2773eb,#2479e8,#2577e9,#2773eb,#2a6eee,#2c6bee,#2b6bee,#2c6aee,#2d69ee,#2871ed,#237be7,#1990dc,#169ad6,#149fd3,#14a3ce,#14a5cb,#14a5cb,#14a7c9,#14a7c8,#14aac4,#14b2b9,#19b4b2,#18b3b4,#14a0d2,#159cd4,#237ae8,#2f63ee,#345bee,#3a4eed,#3c48e9,#3d42e6,#4039e1,#4231d9,#432ed5,#432ed4,#432ed5,#4232db,#403be2,#3d42e6,#3e3fe4,#4235df,#4330d8,#4330d8,#432fd6,#432cd1,#432dd3,#432ed5,#4330d7,#4234de,#4136df,#4233dd,#4330d8,#432ed5)"></i><i style="top:65px;background:linear-gradient(90deg,#2a6dee,#2d68ee,#3160ee,#3852ee,#3c45e8,#3c46e9,#3a4eed,#3755ee,#3062ee,#2a6fee,#2872ec,#2871ed,#2a6eee,#2970ed,#2872ec,#2970ed,#2a6fee,#2478e9,#1797d7,#14a0d1,#14a2d0,#14a5cc,#14a8c7,#14a9c5,#14abc3,#14aebe,#14b0bb,#14b0bc,#14b2ba,#19b4b3,#14a7c8,#14a6ca,#1d86e2,#296fed,#2f65ee,#335bee,#3852ee,#3d44e7,#4136df,#432fd5,#432ace,#4429cc,#432bd0,#432cd1,#4330d7,#4233dc,#4330d8,#432ed4,#432fd6,#432fd7,#4330d8,#4330d7,#4231da,#4234de,#4235df,#4136df,#403ae1,#3e3fe5,#3d43e6,#3d44e7)"></i><i style="top:66px;background:linear-gradient(90deg,#2871ec,#2872ec,#2b6cee,#325fee,#3753ee,#345aee,#3063ee,#2c6bee,#2871ec,#2577e9,#237ae8,#237be7,#237be7,#227ce7,#227ce6,#237be7,#2479e9,#217de6,#1795d8,#169ad6,#1699d6,#159bd5,#149fd2,#14a2cf,#14a5cb,#14aac4,#14b2ba,#1ab4b2,#19b4b3,#18b4b4,#14a0d2,#1895d9,#2772ec,#335bee,#3b4beb,#4039e1,#4231da,#432fd7,#432dd3,#432ace,#4429cc,#4426c8,#4426c8,#432bd0,#4231da,#4233dc,#4330d8,#432ed5,#432ed5,#4330d8,#4235df,#3d44e7,#3b49ea,#3d44e7,#403be2,#4232db,#4330d8,#4232db,#4136df,#4136df)"></i><i style="top:67px;background:linear-gradient(90deg,#2970ed,#2971ed,#2a6fee,#2c6bee,#2c6aee,#2b6cee,#2e67ee,#3657ee,#335cee,#2c69ee,#296fed,#2a6eee,#2b6bee,#2a6eee,#2774eb,#2577e9,#2577e9,#2478e9,#1c86e1,#1990db,#1892da,#1797d7,#14a1d1,#14a8c7,#14acc1,#14afbd,#14b1ba,#18b4b3,#1fb6ab,#23b7a6,#14acc1,#14a1d0,#2577e9,#3558ee,#3b49ea,#3f3de3,#403ae1,#3f3de3,#3f3fe4,#3f3de3,#3e3fe4,#3e3fe4,#3e3fe4,#3e40e5,#3e40e5,#4137df,#4232db,#4231d9,#432ed5,#432cd1,#432dd2,#4330d8,#4232db,#4138e1,#3f3ee4,#4138e1,#4233dc,#4232db,#4233dd,#4138e1)"></i><i style="top:68px;background:linear-gradient(90deg,#325eee,#3061ee,#2f65ee,#345aee,#3e3fe4,#4039e1,#403be2,#4139e1,#3f3fe4,#3b49ea,#3753ee,#335cee,#3160ee,#2d68ee,#2871ec,#2479e9,#217ee6,#2080e5,#1893da,#1699d6,#169ad5,#159dd4,#14a0d2,#14a2cf,#14a4cc,#14a6c9,#14a6c9,#14a7c9,#14acc2,#14b1ba,#159ed3,#1797d7,#2a6eee,#3a4eed,#3d43e7,#403be2,#4138e0,#4233dc,#4231d9,#4234de,#4137e0,#4233dd,#4231da,#432fd6,#432fd6,#4231da,#4232db,#4235de,#3d44e7,#3852ee,#3852ee,#3b49ea,#3e41e5,#3f3ee4,#3f3ee4,#3e40e5,#3c46e9,#3b4aeb,#3a4cec,#3754ee)"></i><i style="top:69px;background:linear-gradient(90deg,#2e66ee,#3161ee,#345aee,#3a4cec,#3b49ea,#3161ee,#2970ed,#2676ea,#237be7,#217ee5,#217de6,#227be7,#237be7,#227ce7,#1e83e3,#1a8ddd,#1992db,#1795d8,#14a7c9,#14a6ca,#14a7c8,#14a9c5,#14abc2,#14acc2,#14acc2,#14adc0,#14b0bc,#14b2b9,#1ab4b2,#20b6a9,#14aebe,#14abc3,#1c88e0,#2c6aee,#345bee,#3a4dec,#3c46e8,#403be2,#4231da,#4231d9,#4233dd,#4233dc,#4136df,#403be2,#403ae1,#403ae2,#403be2,#3f3ee4,#3d44e7,#3c48e9,#3c47e9,#3c47e9,#3b49ea,#394fed,#3852ee,#3a4eed,#3a4cec,#3950ee,#3950ee,#3c47e9)"></i><i style="top:70px;background:linear-gradient(90deg,#2f63ee,#335cee,#3851ee,#3063ee,#2676ea,#217de6,#2478e9,#2872ec,#2970ed,#2576ea,#2080e5,#1d86e2,#1c88e0,#1d85e2,#1f81e4,#1e83e3,#1c87e1,#1a8cde,#159ed3,#149fd3,#149fd3,#14a0d2,#14a2cf,#14a5ca,#14a9c5,#14aac5,#14a7c8,#14a6c9,#14a7c8,#14a8c7,#1f81e4,#2479e8,#3655ee,#3f3de3,#4137e0,#4232dc,#4232db,#4233dc,#4232da,#4330d7,#4231d9,#4330d7,#432fd6,#4233dc,#403be2,#403be2,#4233dc,#432ed5,#432acf,#432bd0,#432fd7,#4232db,#4231d9,#432dd2,#432ace,#432bd0,#4330d7,#4138e0,#3f3de3,#4039e1)"></i><i style="top:71px;background:linear-gradient(90deg,#432fd7,#4138e0,#3c48e9,#3755ee,#3161ee,#2c69ee,#2a6eee,#2b6bee,#2b6cee,#2675eb,#217fe5,#1f81e4,#1f82e4,#1e84e2,#1c87e1,#1d85e2,#1c87e1,#1991db,#14a2cf,#14a2d0,#14a4cd,#14a5cb,#14a4cc,#14a5ca,#14aac4,#14adbf,#14b0bb,#14b2b9,#14b1ba,#14b1bb,#1797d7,#198fdc,#2e67ee,#3b4aea,#3e3fe4,#4235de,#4232db,#4232db,#4233dc,#4235de,#403ae1,#3f3ee4,#3f3fe4,#3f3ee4,#3e41e6,#3d44e7,#3e40e5,#4234de,#4330d7,#432ed4,#432cd2,#432cd1,#432fd7,#4232db,#4233dc,#4236df,#4234de,#4330d8,#432fd7,#4330d8)"></i><i style="top:72px;background:linear-gradient(90deg,#3f3ee4,#3a4dec,#345bee,#3753ee,#403ae2,#4231d9,#4235de,#3e40e5,#3d44e7,#3b4aeb,#394fed,#3558ee,#2a6dee,#1e83e3,#198fdc,#1893da,#1795d8,#1797d8,#14a3ce,#14a3ce,#14a5cb,#14a9c6,#14b0bb,#1bb5b0,#1eb6ac,#1eb5ad,#1db5ae,#18b3b4,#14b2ba,#17b3b5,#14a3cd,#159dd4,#2576ea,#3459ee,#3b4aeb,#403be2,#4233dc,#432fd6,#432bd0,#4429cd,#432ed5,#403ae1,#3d43e6,#3d43e6,#3e40e5,#403be2,#4137e0,#4235df,#4234de,#4233dc,#4330d7,#432fd6,#4233dc,#3e40e5,#3c48e9,#3b4aeb,#3a4cec,#3b49ea,#3d43e7,#3e3fe5)"></i><i style="top:73px;background:linear-gradient(90deg,#432cd2,#4330d7,#4231d9,#4137e0,#3c48ea,#3a4ded,#3b4beb,#3c48e9,#3c47e9,#3c47e9,#3a4eed,#3558ee,#325eee,#2e66ee,#2970ed,#2871ec,#2c6aee,#2e67ee,#227ce7,#1990db,#1699d6,#149fd3,#14a2d0,#14a6ca,#14a9c6,#14abc2,#14aebf,#14b1bb,#15b2b7,#18b3b4,#14a2cf,#169ad6,#2871ec,#3558ee,#3951ee,#3c47e9,#3f3ee4,#4138e0,#4233dd,#432ed4,#432ed5,#4231d9,#4233dc,#4138e1,#3c46e8,#3950ee,#3853ee,#3851ee,#3c48e9,#3e40e5,#3f3ee4,#3f3fe4,#3d44e7,#3b4aea,#3c48e9,#3c47e9,#3c48e9,#3c48e9,#3b4beb,#3a4eed)"></i><i style="top:74px;background:linear-gradient(90deg,#2577e9,#2b6cee,#2d68ee,#2c6aee,#2c6aee,#3062ee,#3851ee,#3b49ea,#3c45e8,#3d43e6,#3b48ea,#3655ee,#2f64ee,#2a6fee,#2871ec,#2871ec,#2774eb,#2479e8,#1a8cde,#1895d9,#1797d7,#159dd4,#14a0d2,#14a0d2,#14a4cc,#14adc0,#16b3b7,#18b4b4,#1ab4b2,#1bb4b0,#14a5cb,#14a1d0,#237be7,#335bee,#3b4beb,#3f3de3,#4137e0,#4233dc,#432ed5,#432acf,#432bcf,#432dd2,#432fd5,#432fd7,#432fd5,#432dd3,#432dd4,#432dd4,#432dd3,#432fd6,#4232dc,#4138e0,#403be2,#4138e0,#4233dc,#4233dc,#4234dd,#4233dc,#4233dc,#4233dc)"></i><i style="top:75px;background:linear-gradient(90deg,#2e66ee,#2f65ee,#2c6aee,#296fed,#2b6dee,#2d68ee,#2c6aee,#296fed,#2c6aee,#325fee,#3062ee,#2c6bee,#2774eb,#237be7,#1e83e3,#1a8ddd,#1991db,#198fdc,#169bd5,#159dd4,#159cd5,#159cd5,#159dd4,#14a0d2,#14a4cc,#14aac4,#14b1ba,#1bb4b1,#1eb5ad,#1bb5b0,#14a3cd,#149fd3,#2774eb,#3951ee,#3d43e6,#3f3ee3,#3f3ee4,#4138e0,#4231da,#432fd6,#432fd6,#432ed4,#432dd3,#432bcf,#4428cc,#4428cb,#432ace,#432dd2,#432cd1,#432bd0,#432ed4,#432ed5,#432dd3,#432cd2,#432ace,#4428ca,#4429cd,#432cd1,#432bd1,#432cd2)"></i><i style="top:76px;background:linear-gradient(90deg,#3754ee,#3b4beb,#3559ee,#2e66ee,#2c69ee,#2b6cee,#2a6eee,#2676ea,#207fe5,#1d85e2,#1c88e0,#1b89e0,#1a8cde,#1990dc,#1797d8,#14a0d2,#14a5cb,#14aac4,#1cb5af,#14b1ba,#14afbe,#14afbd,#14b2b9,#16b3b6,#19b4b3,#1eb6ac,#23b7a6,#24b7a5,#22b7a7,#26b8a3,#1eb6ac,#19b4b3,#1992db,#2a6eee,#3755ee,#3f3fe4,#4136df,#4234de,#4232db,#432fd7,#432cd1,#4426c8,#4426c8,#432bd0,#432ed5,#432ed4,#432fd6,#4330d8,#4231d9,#4233dc,#4232db,#432fd6,#432cd1,#432bd0,#432ed4,#4330d8,#432fd6,#432dd4,#4231d9,#4039e1)"></i><i style="top:77px;background:linear-gradient(90deg,#4136df,#3d43e7,#3754ee,#3657ee,#3754ee,#394fed,#3b49ea,#3b4beb,#3951ee,#335cee,#2f65ee,#2d68ee,#2c6bee,#2773ec,#217ee5,#1b8adf,#1795d8,#169ad5,#14a5cb,#14a4cd,#14a2cf,#14a3ce,#14a5cb,#14a8c8,#14acc2,#15b2b8,#1ab4b1,#19b4b3,#17b3b5,#18b3b4,#14a1d1,#169bd5,#2872ec,#3851ee,#3e40e5,#4234de,#4231d9,#432ace,#4426c8,#4426c8,#4426c8,#4426c8,#4426c8,#4426c8,#4426c9,#4429cc,#4427ca,#4426c8,#4426c8,#4426c8,#432bcf,#432cd1,#432bd0,#432cd1,#432dd3,#432fd6,#4330d8,#4231da,#4233dc,#4136df)"></i><i style="top:78px;background:linear-gradient(90deg,#237ae8,#2080e5,#1c88e0,#1b89e0,#1f81e4,#247ae8,#2479e8,#2478e9,#2478e9,#2676ea,#2970ed,#2c6bee,#2a6eee,#2774eb,#2675ea,#2676ea,#2479e8,#227de6,#1893da,#159dd4,#14a0d2,#14a3ce,#14a4cd,#14a4cd,#14a6ca,#14a7c8,#14a8c7,#14a9c5,#14acc2,#14adc1,#1b8adf,#1f82e4,#3161ee,#3b4beb,#3d43e7,#4137df,#432cd1,#4426c8,#4426c8,#4426c8,#4426c8,#4426c8,#4426c8,#4426c8,#4426c8,#4426c8,#4426c8,#4428cb,#4427c9,#4427ca,#4426c8,#4426c8,#4426c8,#4429cd,#432dd3,#4231d9,#4232db,#4233dd,#4233dd,#4232db)"></i><i style="top:79px;background:linear-gradient(90deg,#237ae8,#2774eb,#2871ec,#2774eb,#2970ed,#2f64ee,#3753ee,#3754ee,#3459ee,#345aee,#3656ee,#3853ee,#3558ee,#2f64ee,#2b6bee,#2c6bee,#2e65ee,#315fee,#2675eb,#1b8adf,#1a8fdc,#1895d9,#1699d6,#169bd5,#159ed3,#14a2cf,#14a5ca,#14aac4,#14adbf,#14b2b9,#14a2cf,#159ed3,#2773eb,#3557ee,#3950ee,#3b4aea,#3c45e8,#3e41e6,#403be2,#4233dd,#4232db,#4232db,#432cd2,#4426c8,#4426c8,#4428cc,#432dd3,#4231d9,#4232db,#4235de,#403be2,#3e3fe4,#3f3de3,#4235df,#4231da,#4231da,#4137df,#3f3ee4,#3d42e6,#3d43e7)"></i><i style="top:80px;background:linear-gradient(90deg,#2b6cee,#2a6eee,#2c6bee,#2f64ee,#3851ee,#3b49ea,#3d44e7,#3c47e9,#3161ee,#2773eb,#2478e9,#2577e9,#2675eb,#2675ea,#227ce7,#217fe5,#227ce7,#217ee6,#1892da,#169bd5,#169ad6,#1798d7,#169bd5,#159ed3,#14a2cf,#14a7c8,#14abc3,#14aebe,#14b1bb,#14b2b9,#14a0d2,#14a3ce,#227ce7,#3062ee,#3558ee,#394fed,#3b4aeb,#3c45e8,#3e42e6,#3e3fe4,#4138e0,#4330d8,#432cd2,#432bcf,#432acf,#432dd3,#4234de,#3e42e6,#3a4dec,#3557ee,#325eee,#325eee,#3655ee,#3c47e9,#3f3de3,#4039e1,#403ae1,#4039e1,#3e3fe4,#3a4eed)"></i><i style="top:81px;background:linear-gradient(90deg,#2970ed,#2f65ee,#3160ee,#3558ee,#3c46e8,#403be2,#3f3de3,#3b49ea,#3459ee,#2b6cee,#237ae8,#207fe5,#227ce7,#2577e9,#2577e9,#2577e9,#2577ea,#237be7,#1894d9,#14a0d1,#14a3ce,#14a2d0,#14a2cf,#14a5cb,#14a8c7,#14abc3,#14b0bb,#16b3b7,#17b3b6,#19b4b3,#14a4cd,#159dd4,#2872ec,#3061ee,#335cee,#3753ee,#394fed,#3b4beb,#3d44e7,#403ae2,#4330d7,#4428cb,#4426c8,#4426c8,#4426c8,#4426c8,#4426c8,#4426c8,#4426c8,#4427c9,#4428cb,#4429cc,#432bd1,#432fd6,#4231d9,#4235df,#4039e1,#4138e0,#4136df,#4233dc)"></i><i style="top:82px;background:linear-gradient(90deg,#237be7,#2a6dee,#2d68ee,#2f64ee,#335cee,#3754ee,#3e41e6,#4234de,#403ce2,#3d44e7,#3a4eed,#345aee,#3063ee,#2e67ee,#2c6aee,#2871ed,#237be7,#1e83e3,#1699d6,#14a0d2,#14a2cf,#14a5cb,#14aac4,#14afbd,#15b2b8,#17b3b5,#1cb5af,#23b7a6,#23b7a6,#1fb6ac,#14a2cf,#1797d7,#2a6eee,#3063ee,#345bee,#3a4eed,#3c45e8,#3d42e6,#3f3fe4,#403be2,#4232db,#432bd0,#4427c9,#4428cb,#4427ca,#4426c9,#4427ca,#432ace,#432dd3,#432ed4,#432dd3,#432cd2,#432bcf,#432ace,#4429cd,#4427c9,#4428cc,#432ed5,#4232db,#403ae1)"></i><i style="top:83px;background:linear-gradient(90deg,#1d86e2,#1d85e2,#1e83e3,#2080e4,#2479e9,#2970ed,#2b6cee,#335dee,#394fee,#3557ee,#3062ee,#2c6aee,#2a6eee,#2872ec,#2577e9,#217ee6,#1c86e1,#1a8edd,#14a2cf,#14a4cc,#14a8c8,#14adc0,#14b2ba,#18b4b4,#22b7a8,#2dba9b,#30ba98,#2cb99d,#28b9a0,#27b9a1,#14b2b9,#14aac4,#296fed,#3063ee,#335cee,#3755ee,#3852ee,#3851ee,#394fee,#3a4dec,#3c46e8,#403be2,#4233dc,#4231d9,#432ed5,#432dd3,#432ed5,#4232db,#4136df,#4138e0,#3f3ce3,#3d44e7,#3c45e8,#3d43e6,#3e41e6,#3e3fe5,#3e40e5,#3e41e5,#3e3fe4,#403be2)"></i><i style="top:84px;background:linear-gradient(90deg,#4233dc,#4138e0,#3e40e5,#325eee,#2970ed,#217de6,#1d86e2,#1c87e1,#1e83e3,#2081e4,#1e84e3,#1d85e2,#2081e4,#217ee6,#227ce6,#2479e8,#2479e8,#2080e4,#169bd5,#14a3ce,#14a8c7,#14adbf,#14afbe,#14aebf,#14b0bc,#16b3b7,#19b4b2,#1bb4b1,#1db5ad,#24b8a5,#1eb6ac,#22b7a8,#217de6,#2773eb,#2b6dee,#2d68ee,#2e65ee,#3062ee,#345aee,#3951ee,#3d44e7,#4235df,#432dd3,#432dd3,#4330d8,#403be2,#394fee,#335dee,#3557ee,#3d45e7,#4233dc,#4330d8,#4233dc,#4136df,#4138e0,#4137e0,#4039e1,#3f3ce3,#4235df,#432fd6)"></i><i style="top:85px;background:linear-gradient(90deg,#4426c8,#432fd7,#432dd4,#4426c8,#4428cb,#4039e1,#3d44e7,#3c45e8,#3a4eed,#335cee,#3062ee,#2f64ee,#2c6bee,#2773eb,#2478e9,#227ce7,#227de6,#237be7,#1b8bdf,#1798d7,#169bd5,#169ad5,#159dd4,#14a5ca,#14adc0,#14b2b9,#1cb5b0,#23b7a7,#23b7a6,#1fb6ab,#14aac4,#14abc3,#2479e8,#2d68ee,#335cee,#3950ee,#3b4beb,#3c46e8,#3d43e7,#3c45e8,#3e40e5,#4233dc,#432ed5,#4330d7,#4232da,#4232db,#4231d9,#432fd6,#432fd6,#4231d9,#4232db,#4233dc,#4137e0,#3f3de3,#3f3ce3,#4136df,#4231da,#432ed5,#432bd0,#4429cd)"></i><i style="top:86px;background:linear-gradient(90deg,#4428cc,#432cd1,#432ace,#4426c8,#4426c8,#4426c8,#4426c8,#4426c8,#4426c8,#432fd6,#4234dd,#3d43e6,#335bee,#2971ed,#237ae8,#237be7,#227ce7,#2080e5,#1796d8,#159dd4,#159ed3,#159ed3,#14a2cf,#14a5ca,#14a9c6,#14acc1,#14aebf,#14b2ba,#1cb5af,#20b6aa,#14abc2,#14a7c9,#2675ea,#345aee,#394fed,#3d45e8,#3e40e5,#3e40e5,#3f3de3,#4138e0,#4235df,#4138e0,#3f3de3,#3d45e8,#3b48ea,#3c47e9,#3c47e9,#3b49ea,#3a4dec,#3a4ceb,#3c45e8,#3f3ee4,#4234de,#4231d9,#4233dd,#4138e0,#403ae1,#3f3ee4,#3f3fe4,#403ae1)"></i><i style="top:87px;background:linear-gradient(90deg,#3d43e7,#3c48e9,#325eee,#2d68ee,#315fee,#3b49ea,#3b4aeb,#3753ee,#3656ee,#315fee,#2c6bee,#2970ed,#2478e9,#1e83e3,#1a8edd,#1798d7,#159cd4,#159dd4,#14a8c7,#14a6ca,#14a6ca,#14a7c8,#14a8c6,#14aac4,#14aebf,#14b1ba,#16b3b7,#19b4b3,#19b4b2,#16b3b7,#159cd5,#1795d8,#2577ea,#2f64ee,#325eee,#3655ee,#3a4cec,#3d43e7,#4039e1,#4233dd,#4137e0,#3e40e5,#3b49ea,#3951ee,#3557ee,#3657ee,#3852ee,#3a4eed,#3c46e8,#3e40e5,#3e3fe5,#3f3ee4,#4136df,#432fd6,#432cd2,#4231d9,#4039e1,#3f3ee4,#3f3ee4,#3e41e6)"></i><i style="top:88px;background:linear-gradient(90deg,#4138e0,#3a4eed,#325eee,#3655ee,#3e41e6,#3b48ea,#3161ee,#2d69ee,#2e65ee,#2773eb,#1a8cde,#1699d6,#1699d6,#1798d7,#1698d7,#1699d6,#1796d8,#1798d7,#14a9c5,#14a8c6,#14abc3,#14acc1,#14a9c5,#14a8c7,#14a9c6,#14a8c7,#14a7c8,#14a9c6,#14a8c7,#14a4cc,#2479e8,#247ae8,#2970ed,#2c6aee,#2d68ee,#335dee,#394fed,#3c45e8,#3e40e5,#3d42e6,#3b4beb,#3753ee,#335dee,#2f64ee,#2e66ee,#2d67ee,#2e65ee,#3061ee,#325eee,#335cee,#3558ee,#3852ee,#3a4eed,#3a4cec,#3a4cec,#3753ee,#325fee,#2d68ee,#2b6dee,#2971ed)"></i><i style="top:89px;background:linear-gradient(90deg,#3852ee,#2e66ee,#2d68ee,#335cee,#3754ee,#335dee,#2e66ee,#2b6cee,#2773eb,#2578e9,#2577ea,#2577e9,#227ce7,#2080e5,#2080e5,#1e83e3,#1b8adf,#1892da,#14a4cd,#14a3ce,#14a5cb,#14a8c6,#14abc3,#14abc2,#14aebe,#14b0bc,#14b1bb,#14b0bc,#14aebf,#14acc2,#1b8adf,#1e83e3,#1f81e4,#2080e5,#227de6,#2675ea,#2b6dee,#2e67ee,#2e66ee,#2b6cee,#2577ea,#1e83e3,#1a8cde,#1991db,#1991db,#1a8cde,#1e83e3,#237ae8,#2773eb,#2a6fee,#2c6aee,#2f65ee,#315fee,#3558ee,#3753ee,#3655ee,#325dee,#2d67ee,#2970ed,#2674eb)"></i><i style="top:90px;background:linear-gradient(90deg,#2f64ee,#3754ee,#3c47e9,#3d43e7,#3b4aea,#3852ee,#3a4ceb,#3d44e7,#3c46e8,#3951ee,#335cee,#3161ee,#2e65ee,#2d69ee,#2b6bee,#2970ed,#237be7,#1c86e1,#159ed3,#14a3ce,#14a6c9,#14a8c7,#14a8c7,#14a7c8,#14a7c8,#14a7c9,#14a6ca,#14a7c9,#14abc3,#14aebf,#1991db,#2478e9,#2774eb,#2871ec,#2773eb,#2576ea,#237ae8,#217ee6,#2080e5,#1f81e4,#1f81e4,#207fe5,#227ce7,#2676ea,#2b6dee,#2f63ee,#325eee,#325fee,#2f64ee,#2b6bee,#296fee,#2970ed,#2970ed,#2970ed,#2871ec,#2675ea,#227be7,#1f81e4,#1d85e2,#1d85e2)"></i><i style="top:91px;background:linear-gradient(90deg,#3063ee,#2e65ee,#2e66ee,#2b6dee,#296fed,#2b6dee,#2c6aee,#2e66ee,#2e67ee,#2a6eee,#2578e9,#217ee6,#217ee6,#1e83e3,#1a8ddd,#1895d9,#1797d8,#169ad5,#14abc2,#14abc3,#14adc1,#14aebf,#14adc0,#14aac4,#14a7c9,#14a6c9,#14aac5,#14acc1,#14adc0,#14abc3,#1d85e2,#2478e9,#2774eb,#2774eb,#2578e9,#227de6,#1e83e3,#1c87e1,#1b89e0,#1b8adf,#1b8bde,#1990dc,#1795d9,#1798d7,#1698d7,#1796d8,#1991db,#1b89e0,#2080e4,#2578e9,#2970ed,#2c69ee,#2e66ee,#2d68ee,#2b6dee,#2872ec,#2675ea,#2576ea,#2577e9,#2577e9)"></i><i style="top:92px;background:linear-gradient(90deg,#2872ec,#2b6cee,#3061ee,#3656ee,#3062ee,#2b6dee,#2c6bee,#3558ee,#3a4eed,#3754ee,#325dee,#2d67ee,#2773eb,#237ae8,#217ee6,#1e84e2,#1b89e0,#1a8cde,#149fd2,#14a2cf,#14a4cd,#14a6ca,#14aac4,#14b0bc,#17b3b6,#19b4b2,#1cb5af,#20b6aa,#24b7a5,#23b7a6,#14a8c7,#1797d8,#1894d9,#1893da,#1797d8,#159cd4,#14a1d1,#14a2cf,#14a3ce,#14a2cf,#14a2cf,#14a2cf,#14a2cf,#14a2cf,#14a2d0,#14a1d0,#14a1d1,#14a0d2,#159ed3,#169bd5,#1798d7,#1895d9,#1894d9,#1894d9,#1894d9,#1991db,#1a8edd,#1b8bdf,#1c88e0,#1d85e2)"></i><i style="top:93px;background:linear-gradient(90deg,#335dee,#325eee,#3950ee,#3951ee,#2b6cee,#217ee6,#1e83e3,#217fe5,#237be7,#2478e9,#296fed,#2b6cee,#296fed,#2b6cee,#2d69ee,#2b6cee,#2971ed,#2577ea,#1992da,#14a0d2,#14a4cd,#14a7c8,#14abc3,#14acc1,#14acc2,#14adc0,#14b0bc,#15b2b8,#17b3b5,#1cb5af,#14a9c6,#14a3cd,#149fd3,#1698d7,#1893da,#1990dc,#198fdc,#1990db,#1895d9,#159cd5,#14a1d1,#14a1d1,#149fd2,#159ed3,#149fd3,#14a0d2,#14a1d1,#14a0d2,#149fd3,#159ed3,#149fd3,#14a0d2,#14a1d1,#149fd2,#159cd4,#1798d7,#1894d9,#1990db,#1a8fdc,#1990dc)"></i><i style="top:94px;background:linear-gradient(90deg,#4232db,#4330d8,#432ed5,#432acf,#4330d7,#3b49ea,#3657ee,#3851ee,#3951ee,#3853ee,#3853ee,#3557ee,#345aee,#3559ee,#3558ee,#345aee,#2f64ee,#2773ec,#1991db,#159dd4,#14a1d1,#14a1d1,#159ed3,#169ad6,#159bd5,#14a1d0,#14a6c9,#14acc1,#14b2b9,#1ab4b1,#14a8c7,#14a1d0,#1a8ddd,#2576ea,#2d69ee,#3062ee,#325eee,#345bee,#3558ee,#3657ee,#345bee,#325eee,#3160ee,#3161ee,#3061ee,#3061ee,#2f63ee,#2e66ee,#2d68ee,#2c6aee,#2b6cee,#2b6cee,#2c6aee,#2c6aee,#2b6dee,#296fed,#2871ec,#2576ea,#217ee6,#1f81e4)"></i><i style="top:95px;background:linear-gradient(90deg,#4426c8,#4426c8,#3e3fe4,#3852ee,#3f3de3,#4232da,#4330d8,#4231d9,#3d43e7,#325dee,#2f63ee,#325eee,#325dee,#2f64ee,#2b6bee,#2675eb,#1e84e3,#1a8edd,#14a1d1,#14a5ca,#14a7c8,#14a5ca,#14a4cc,#14a5ca,#14aac4,#14b0bc,#16b3b6,#1cb5ae,#23b7a6,#27b9a1,#1ab4b2,#14b0bc,#198fdc,#2577ea,#2a6dee,#325eee,#394fee,#3c47e9,#3e3fe4,#4234de,#4330d8,#4231d9,#403ae1,#3e41e6,#3e40e5,#3f3ee4,#3d44e7,#3b4aea,#3b4beb,#3b49ea,#3b48ea,#3d44e7,#3f3ee4,#403ae1,#4234de,#4232db,#4330d7,#4330d8,#4232db,#4231d9)"></i><i style="top:96px;background:linear-gradient(90deg,#4426c8,#4231d9,#3d44e7,#3853ee,#3160ee,#2e65ee,#325fee,#2f64ee,#296fed,#2675ea,#2675ea,#2773eb,#2479e8,#1d85e2,#198fdc,#1797d8,#159cd5,#1698d7,#14a1d0,#14a3ce,#14a6c9,#14a8c7,#14a7c8,#14a6c9,#14a7c8,#14aac5,#14acc2,#14adbf,#14b1ba,#1cb5af,#14aebf,#1fb6ab,#14b1ba,#14a3ce,#1698d7,#198fdc,#2479e8,#3852ee,#3b4beb,#3e41e5,#403ae1,#4138e0,#3f3ee3,#3e41e6,#403ae2,#4330d7,#432ed5,#4233dd,#403ae1,#403ce2,#4039e1,#4039e1,#3f3ee4,#3f3de3,#4233dd,#432fd6,#4231d9,#4138e0,#3f3de3,#4235de)"></i><i style="top:97px;background:linear-gradient(90deg,#4429cd,#4426c8,#4428cb,#4234de,#3c47e9,#325fee,#2a6eee,#2b6dee,#2d68ee,#296fed,#2578e9,#227ce7,#217fe5,#1f82e4,#1d85e2,#1b8adf,#1892da,#1698d7,#14a6ca,#14a3cd,#14a2cf,#14a3cd,#14a7c9,#14a9c6,#14a8c7,#14aac4,#14aebe,#14b0bb,#14b1ba,#16b3b6,#14a3ce,#35ba94,#5bbe74,#4dbd7f,#46bc85,#3bbb8f,#1699d6,#4232db,#4137df,#4039e1,#403ae1,#3f3ce3,#403ae2,#4136df,#4233dc,#4330d7,#432ed4,#432cd1,#4429cc,#4428ca,#4426c8,#4426c8,#4426c8,#4428cb,#432cd2,#4231d9,#4232db,#4330d8,#4232db,#3f3ce3)"></i><i style="top:98px;background:linear-gradient(90deg,#1892da,#1892da,#1a8fdc,#1f82e4,#217ee6,#227ce7,#2676ea,#2b6cee,#3160ee,#325eee,#3558ee,#3852ee,#3557ee,#2f65ee,#2a6fee,#296fed,#2674eb,#1d86e2,#14a5cb,#14a9c6,#14abc3,#14abc3,#14a9c5,#14a6ca,#14a7c9,#14aac4,#14adbf,#14afbd,#14b1ba,#14b2b9,#159dd4,#14a3ce,#1b8adf,#2872ec,#2e65ee,#3656ee,#3c48e9,#403be2,#4232db,#432ed5,#4233dd,#3f3ce3,#403ae1,#4233dc,#432ed5,#432bd0,#4429cd,#4427c9,#4426c8,#4427ca,#4429cd,#432ace,#432ace,#432ace,#432cd1,#432cd2,#432bd0,#432cd2,#4231d9,#4136df)"></i><i style="top:99px;background:linear-gradient(90deg,#3754ee,#3557ee,#335bee,#3657ee,#3755ee,#3160ee,#2b6cee,#2b6dee,#2a6dee,#2a6eee,#2c6aee,#2b6cee,#2872ec,#2675eb,#2478e9,#217ee6,#1f82e4,#207fe5,#1a8fdc,#169ad6,#159cd4,#169bd5,#169bd5,#159bd5,#159cd4,#14a1d0,#14a7c8,#14aac4,#14adc0,#14afbd,#1893da,#1a8edd,#2b6cee,#394fed,#3d42e6,#4039e1,#4136df,#403be2,#3f3ce3,#4234de,#4137df,#4136df,#432fd6,#4429cd,#4426c8,#4426c8,#4426c8,#4426c8,#4426c8,#4426c8,#4426c8,#4426c8,#4426c8,#4426c8,#432acf,#432ed4,#432ed4,#432bcf,#4426c8,#4426c8)"></i><i style="top:100px;background:linear-gradient(90deg,#217ee6,#217de6,#217ee6,#1e83e3,#1d85e2,#207fe5,#217ee6,#1f82e4,#1c87e1,#1d86e2,#217ee6,#2479e8,#2479e8,#217de6,#1e83e3,#1b89e0,#1a8cde,#1b8adf,#169ad6,#14a0d2,#14a2cf,#14a1d0,#14a0d2,#149fd3,#159dd4,#159ed3,#14a5cb,#14abc2,#14aebe,#14aebe,#1a8edd,#1b8cde,#296fed,#3459ee,#3a4cec,#3f3ee4,#403ae1,#3f3de3,#3c46e8,#394fed,#3557ee,#3656ee,#3b4beb,#3d44e7,#3b49ea,#3b4aeb,#3c46e8,#3d44e7,#3d42e6,#403ae1,#4234de,#4138e0,#4136df,#4231d9,#432ed5,#432ed4,#432cd2,#4429cd,#4426c8,#4426c9)"></i><i style="top:101px;background:linear-gradient(90deg,#2871ec,#217de6,#227ce7,#2871ec,#2e66ee,#315fee,#2a6fee,#2479e8,#2577ea,#2872ec,#296fed,#2c69ee,#2e67ee,#2b6dee,#2774eb,#2676ea,#2773eb,#2774eb,#1c88e0,#1796d8,#1699d6,#169bd5,#169ad5,#159cd4,#14a3ce,#14aac5,#14afbd,#14b2b9,#18b3b5,#19b4b2,#14a4cd,#14a5cc,#1c86e1,#2b6cee,#335dee,#3951ee,#3950ee,#394fed,#3b49ea,#3c45e8,#3c45e8,#3b4beb,#3558ee,#335dee,#335bee,#3755ee,#3c47e9,#403be2,#4235de,#4232db,#4330d8,#4231d9,#4233dc,#4234dd,#4233dd,#4233dc,#4231d9,#432dd3,#432ace,#432ace)"></i><i style="top:102px;background:linear-gradient(90deg,#2f65ee,#2f64ee,#345aee,#3754ee,#3755ee,#3b48ea,#403be2,#3c46e8,#3557ee,#345aee,#3559ee,#3459ee,#3558ee,#3459ee,#345bee,#3557ee,#3656ee,#3557ee,#2a6fee,#1d86e2,#1b8adf,#1a8edd,#1893da,#159bd5,#14a3cd,#14a7c8,#14adc0,#14b2ba,#15b2b8,#16b3b6,#14a5cc,#14a7c9,#1f82e4,#2e66ee,#325eee,#3557ee,#3656ee,#3753ee,#3b48ea,#3d43e6,#3a4cec,#3851ee,#3b4beb,#3d44e7,#3e3fe5,#3f3ce3,#4138e0,#4233dc,#4231d9,#4231da,#4138e0,#3e40e5,#3e41e5,#4234de,#432ed5,#432ed4,#432acf,#4426c8,#4426c8,#4426c8)"></i><i style="top:103px;background:linear-gradient(90deg,#345bee,#335cee,#2d68ee,#2a6dee,#2970ed,#2970ed,#296fed,#2e65ee,#3951ee,#3655ee,#3160ee,#2f65ee,#2c6aee,#2b6dee,#2a6dee,#2871ec,#237ae8,#1f82e4,#1893da,#1699d6,#169bd5,#159dd4,#159cd4,#159dd4,#14a2cf,#14a7c8,#14abc3,#14acc1,#14adc0,#14afbe,#1796d8,#1893da,#2871ec,#335cee,#3459ee,#345aee,#325eee,#335bee,#3950ee,#3f3fe4,#4231d9,#432bcf,#432cd1,#4231d9,#4232db,#4330d8,#4231d9,#4232db,#432fd6,#432ed4,#4330d8,#4232db,#4231d9,#432ed4,#432dd2,#432cd1,#4427c9,#4426c8,#4426c8,#4426c8)"></i><i style="top:104px;background:linear-gradient(90deg,#2d68ee,#3062ee,#3a4eed,#403be2,#4039e1,#3a4cec,#3754ee,#3950ee,#3a4cec,#3b4aeb,#3a4cec,#3656ee,#3161ee,#2e65ee,#2c6bee,#2773ec,#217ee6,#1a8cde,#14a6ca,#14a7c8,#14a6ca,#14a6ca,#14a8c6,#14abc2,#14aebf,#14adbf,#14acc2,#14adc0,#14b0bc,#15b2b8,#14a2cf,#14a5cc,#1e84e2,#2f64ee,#3754ee,#3b4aea,#3f3de3,#4233dc,#4232da,#4233dc,#4234dd,#4232db,#4330d7,#432ed5,#432fd6,#432ed5,#4231d9,#4039e1,#3c46e8,#3852ee,#3656ee,#394fee,#3c47e9,#3c46e8,#3c48e9,#3f3fe4,#4233dc,#4330d7,#4231da,#4235de)"></i><i style="top:105px;background:linear-gradient(90deg,#4138e0,#3f3ce3,#403ae1,#3d43e7,#3852ee,#3755ee,#3557ee,#3160ee,#2b6cee,#2576ea,#237ae8,#2773ec,#2c6bee,#296fed,#2576ea,#2479e8,#2479e8,#2478e9,#1a8cde,#169ad5,#14a1d0,#14a4cc,#14a3cd,#14a2cf,#14a3ce,#14a3cd,#14a4cc,#14a5cc,#14a6c9,#14aebe,#14a7c9,#14abc3,#1e83e3,#3161ee,#3950ee,#3e40e5,#4232da,#432cd2,#432acf,#4429cd,#432cd2,#432ed5,#4232db,#4137e0,#4136df,#4232db,#4330d7,#4330d7,#4232da,#4233dd,#4235de,#4138e1,#3f3ce2,#3f3ce3,#3f3ce3,#3f3de3,#3e40e5,#3c47e9,#3b4aea,#3f3fe4)"></i><i style="top:106px;background:linear-gradient(90deg,#3950ee,#345aee,#3853ee,#3a4ceb,#3c46e8,#3d43e6,#3b49ea,#2e66ee,#2773ec,#2872ec,#2b6cee,#2c69ee,#2c6aee,#2a6dee,#2871ed,#2871ec,#2774eb,#2479e8,#1a8dde,#1699d6,#159ed3,#14a0d1,#14a2d0,#14a3ce,#14a6ca,#14aac4,#14aac4,#14a8c6,#14a9c5,#14aebf,#1699d6,#1797d8,#2774eb,#335dee,#3951ee,#3d43e7,#3f3fe4,#3f3fe4,#3f3de3,#4137e0,#4236df,#4231da,#432dd2,#432bcf,#432bd0,#432ed5,#432fd6,#432cd2,#432dd2,#432fd6,#432ed5,#432bd0,#432ace,#432dd2,#4232da,#4139e1,#3e40e5,#3f3ee4,#4235df,#4232db)"></i><i style="top:107px;background:linear-gradient(90deg,#3656ee,#2e65ee,#2577e9,#237ae8,#2676ea,#2871ec,#2676ea,#1d85e2,#1a8edd,#1a8edd,#1b8adf,#1f82e4,#217de6,#1f81e4,#1c87e1,#1b89e0,#1b8bdf,#1a8fdc,#14a0d2,#149fd3,#159dd4,#14a0d1,#14a4cc,#14aac5,#14aebf,#14b1ba,#18b3b4,#19b4b3,#15b2b8,#14b0bb,#1796d8,#1894d9,#2872ec,#3459ee,#3852ee,#3c47e9,#3f3ce3,#4234de,#4234de,#4039e1,#3d43e7,#3d44e7,#3f3fe4,#3f3ee4,#3f3ee4,#403ae1,#4234de,#4231d9,#4231d9,#4137e0,#3f3ce3,#403ce2,#3d44e7,#3b49ea,#3c48ea,#3d43e6,#4039e1,#4234de,#4235df,#4137df)"></i><i style="top:108px;background:linear-gradient(90deg,#403ae2,#3b4aeb,#2d68ee,#2577e9,#1f82e4,#1d86e2,#1d86e1,#1c88e1,#1b89e0,#1d86e2,#217ee6,#2675ea,#2970ed,#2872ec,#2674eb,#2674eb,#237ae8,#1e83e3,#1894d9,#1699d6,#159ed3,#14a3ce,#14a1d1,#14a0d2,#14a2cf,#14a6ca,#14a9c5,#14acc2,#14adbf,#14b0bc,#159bd5,#1698d7,#2577e9,#335cee,#3c47e9,#4233dd,#432fd6,#432fd5,#432cd2,#4428cb,#432bd0,#432ed5,#432ed4,#432acf,#432bcf,#432bd1,#432dd2,#432dd2,#432ace,#4429cc,#4428cc,#432bcf,#432ed4,#432dd4,#432bcf,#4429cd,#4427c9,#4426c8,#4426c8,#4426c8)"></i><i style="top:109px;background:linear-gradient(90deg,#2e67ee,#2c69ee,#3161ee,#3d43e7,#3c47e9,#2e65ee,#2774eb,#2080e5,#1c89e0,#1b8bde,#1b8adf,#1c86e1,#1f82e4,#207fe5,#207fe5,#227de6,#227ce7,#227ce7,#1b89e0,#1992db,#1894d9,#1798d7,#1797d7,#1894d9,#1796d8,#169bd5,#149fd3,#14a2d0,#14a4cd,#14a7c8,#198fdc,#1991db,#2970ed,#345bee,#3852ee,#3c47e9,#3f3ee4,#4137e0,#4232da,#432ed5,#432dd4,#432bd0,#4427ca,#4426c8,#4426c8,#4426c8,#4426c8,#4426c8,#4426c8,#4426c8,#4426c8,#4426c8,#4426c8,#4426c8,#432ace,#432fd7,#432ed4,#4427c9,#4426c8,#4426c8)"></i><i style="top:110px;background:linear-gradient(90deg,#1b89e0,#217ee6,#296fed,#2c69ee,#2e67ee,#325eee,#3161ee,#2b6dee,#2675ea,#237be7,#227ce7,#237ae8,#2675ea,#2a6fee,#2a6eee,#2675ea,#237ae8,#1f81e4,#1795d8,#1798d7,#1796d8,#1798d7,#1699d6,#1798d7,#1699d6,#159cd4,#14a1d0,#14a8c7,#14afbd,#17b3b5,#14a5cb,#14a3ce,#207fe5,#2d68ee,#315fee,#3657ee,#3851ee,#3a4beb,#3d43e7,#4138e0,#4233dc,#4232db,#4232da,#432fd6,#432ed4,#432ed5,#432dd4,#432dd3,#432cd2,#432acf,#4429cc,#4429cd,#432dd2,#432ed5,#432ed5,#432ed4,#432bd0,#4427c9,#4426c8,#432ace)"></i><i style="top:111px;background:linear-gradient(90deg,#2675ea,#227de6,#1f81e4,#1b89e0,#1a8edd,#1e84e3,#2080e5,#1d85e2,#1f82e3,#2577e9,#2b6dee,#2e66ee,#2f64ee,#2c69ee,#2b6dee,#2c6aee,#2d68ee,#296fed,#1c87e1,#1990db,#1a8ddd,#1a8edd,#1894d9,#159dd4,#14a5cb,#14abc3,#14b0bc,#18b3b4,#1db5ae,#1fb6ab,#14acc1,#14a9c5,#2081e4,#3063ee,#335bee,#3557ee,#3753ee,#3a4dec,#3a4cec,#3b4aea,#3e41e5,#4136df,#432fd7,#432bcf,#432acf,#432dd4,#4231da,#4138e0,#403ae1,#4137e0,#4234dd,#4232da,#4232db,#4233dd,#4233dc,#4232db,#4232db,#4233dc,#4234de,#4233dd)"></i><i style="top:112px;background:linear-gradient(90deg,#432dd3,#4138e0,#3b4aea,#3951ee,#3459ee,#2d68ee,#296fed,#2674eb,#2970ed,#2f63ee,#2d68ee,#2871ed,#2774eb,#2773ec,#2773eb,#2578e9,#2479e8,#237ae8,#1b8cde,#1893da,#1991db,#1991db,#1894d9,#169ad5,#149fd2,#14a1d1,#14a5cb,#14aac3,#14aebf,#14aebf,#198fdc,#1a8cde,#2b6cee,#3753ee,#3b4beb,#3e42e6,#403ae1,#4233dd,#4330d8,#432ed5,#432fd6,#432ed5,#4330d8,#4233dc,#4233dd,#4233dd,#4137e0,#403be2,#403be2,#3f3ee4,#403ae1,#432fd6,#4426c8,#4426c8,#4427ca,#432bcf,#432dd3,#432fd6,#4330d7,#4330d8)"></i><i style="top:113px;background:linear-gradient(90deg,#3d43e7,#3d43e7,#3e40e5,#403ae1,#3e42e6,#345aee,#2c6bee,#2872ec,#2774eb,#2b6cee,#2f65ee,#2c6bee,#2675eb,#237be7,#1f81e4,#1b89e0,#1990dc,#1992db,#149fd2,#169bd5,#1796d8,#169ad6,#14a1d0,#14a4cd,#14a6ca,#14a9c5,#14adc0,#14b0bc,#14b0bb,#14b2b9,#159ed3,#1699d6,#2774eb,#3558ee,#3a4beb,#3f3fe4,#4136df,#4330d7,#432ace,#4426c8,#4427ca,#432cd2,#4330d7,#4231da,#4231d9,#432ed5,#432bd0,#432cd1,#432cd2,#432bd0,#432cd1,#432fd5,#4330d7,#4330d8,#4232db,#4231da,#4330d7,#432fd6,#432ed5,#432cd1)"></i><i style="top:114px;background:linear-gradient(90deg,#1d84e2,#1c88e0,#1e84e3,#2578e9,#2774eb,#2675eb,#2578e9,#217de6,#1e84e3,#1d85e2,#227de6,#2872ec,#2b6dee,#2a6eee,#2872ec,#227ce7,#1b89e0,#1990dc,#169ad6,#169bd5,#159dd4,#14a2d0,#14a5cb,#14a8c7,#14aac5,#14acc1,#14aebe,#14b0bc,#15b2b8,#19b4b2,#14a6c9,#14a3ce,#237be7,#335cee,#3753ee,#3851ee,#3754ee,#3754ee,#3b4beb,#3f3de3,#403be2,#4137e0,#4138e0,#3e40e5,#3e41e6,#4039e1,#4234dd,#4233dc,#4231da,#4330d8,#4330d8,#432ed4,#4428cb,#4426c8,#4426c8,#4427ca,#4426c8,#4426c8,#4429cd,#432cd1)"></i><i style="top:115px;background:linear-gradient(90deg,#2872ec,#2a6fee,#2c69ee,#3061ee,#2e66ee,#3061ee,#3a4ded,#3b4beb,#3754ee,#3062ee,#2a6dee,#2a6eee,#2871ec,#2577e9,#237be7,#207fe5,#1c88e1,#1892da,#14a2cf,#14a0d1,#14a1d1,#14a4cd,#14a6c9,#14a7c8,#14a9c5,#14afbd,#19b4b2,#1fb6ab,#21b7a9,#26b8a3,#1db5ae,#19b4b2,#1796d8,#2675ea,#2f64ee,#3853ee,#3c47e9,#3e40e5,#403ae1,#4234dd,#4330d8,#4429cd,#4426c8,#4428ca,#4427c9,#4426c8,#4426c8,#4428cb,#4429cc,#4429cd,#4427ca,#4426c8,#4426c8,#4429cd,#432ace,#432bd0,#432cd1,#432cd1,#432dd2,#432fd6)"></i><i style="top:116px;background:linear-gradient(90deg,#3852ee,#3753ee,#335bee,#2d68ee,#2c69ee,#325fee,#3753ee,#3b4aea,#3f3ee4,#403ae2,#3c48e9,#325eee,#2c6aee,#296fed,#2872ec,#2478e9,#1e84e2,#1990dc,#14a3cd,#14a4cc,#14a5cc,#14a7c8,#14a9c5,#14aac4,#14adc0,#14b2ba,#17b3b5,#18b3b4,#1ab4b2,#1ab4b2,#14a0d2,#14a0d2,#1e84e3,#2b6cee,#335cee,#3951ee,#3a4eed,#3b4aeb,#3d43e7,#3f3ee4,#4136df,#432fd7,#432cd2,#432bd0,#432dd3,#432ed5,#4330d8,#4232db,#4232db,#4233dc,#4234de,#4234de,#4234de,#4232db,#432dd2,#4429cd,#4429cd,#432bcf,#432cd1,#432fd5)"></i><i style="top:117px;background:linear-gradient(90deg,#3b48ea,#3b4aeb,#4233dd,#432ace,#432bd0,#403be2,#3753ee,#345aee,#3a4eed,#3a4cec,#3559ee,#2e67ee,#2c6aee,#2b6cee,#2576ea,#1f82e4,#1d85e2,#1e83e3,#1892da,#1699d6,#1699d6,#159bd5,#14a2d0,#14a6ca,#14a8c7,#14acc2,#14b0bc,#15b3b7,#17b3b5,#18b3b5,#14a0d2,#14a3ce,#1c87e1,#2b6cee,#345bee,#3a4cec,#3c48e9,#3d44e7,#3f3ee4,#403ae1,#4136df,#4233dd,#4233dd,#4231d9,#432ed5,#432ed5,#4330d8,#4232db,#403ae1,#3e41e5,#3f3ce3,#4234dd,#4231da,#4233dc,#4039e1,#3d43e7,#3c47e9,#3f3de3,#4234dd,#4233dc)"></i><i style="top:118px;background:linear-gradient(90deg,#4426c8,#4426c8,#4426c8,#4426c8,#4426c8,#4426c8,#432dd3,#4330d8,#4234de,#3c46e8,#3755ee,#335dee,#3063ee,#2c6aee,#2674eb,#227de6,#1f81e4,#1c87e1,#149fd3,#14a2cf,#14a2cf,#14a1d1,#14a4cd,#14a7c8,#14adc1,#16b3b7,#1ab4b1,#1bb5b0,#21b6a9,#28b9a0,#18b4b4,#14acc1,#2080e4,#325eee,#3852ee,#3a4cec,#3c48e9,#3d44e7,#3d43e6,#3f3fe4,#4235de,#432ed5,#432acf,#432cd2,#4231d9,#4232da,#4330d8,#4233dc,#403be2,#3d44e7,#3b49ea,#3b4aeb,#3a4eed,#3852ee,#3656ee,#3851ee,#3c46e8,#3f3fe4,#403ae1,#4235df)"></i><i style="top:119px;background:linear-gradient(90deg,#4426c8,#4427ca,#4426c8,#4426c8,#4426c8,#4426c8,#3b4beb,#2b6dee,#2872ec,#2871ec,#2773eb,#2773eb,#2576ea,#227ce7,#2080e5,#1f82e4,#1c87e1,#1a8edd,#14a8c6,#14adc1,#14aebe,#14acc1,#14acc1,#14b2b9,#19b4b3,#18b3b4,#16b3b7,#18b3b4,#1cb5af,#1eb6ac,#14abc3,#14a7c9,#1e84e3,#2c6aee,#325eee,#3853ee,#3a4cec,#3d44e7,#3f3ce3,#3f3ce3,#3e41e5,#3f3ee4,#4236df,#4234de,#4039e1,#403be2,#3f3de3,#3b49ea,#3755ee,#3655ee,#3655ee,#345aee,#325eee,#335bee,#3853ee,#3c46e8,#3f3de3,#403be2,#403be2,#4138e0)"></i><i style="top:120px;background:linear-gradient(90deg,#4426c8,#4426c8,#4426c8,#432bd0,#4233dc,#3e40e5,#3950ee,#2c6bee,#2675ea,#2576ea,#2675ea,#2576ea,#2478e9,#217ee6,#1b89e0,#1796d8,#169ad5,#1797d8,#14a3cd,#14a4cd,#14a4cd,#14a6c9,#14aac3,#14abc2,#14a9c6,#14a6c9,#14a7c9,#14a8c7,#14a8c6,#14aac3,#1990db,#1893da,#2970ed,#3852ee,#3e41e6,#4233dc,#4231d9,#4232da,#4231da,#432ed5,#432ed5,#4232db,#4235de,#4138e0,#4039e1,#4235de,#4233dc,#4233dc,#4232da,#432cd2,#4429cd,#432bcf,#432ace,#4429cd,#432ace,#4429cc,#432bd1,#432fd6,#4330d8,#4330d8)"></i><i style="top:121px;background:linear-gradient(90deg,#3a4eed,#3b49ea,#3e41e5,#3c46e8,#335cee,#2d68ee,#2d68ee,#335cee,#3557ee,#335dee,#3063ee,#2b6dee,#2478e9,#207fe5,#1e84e3,#1b8adf,#1a8cde,#1a8edd,#14a3cd,#14a7c8,#14abc3,#14aebf,#14adc0,#14aac4,#14aac4,#14aac4,#14abc3,#14adc0,#14adc0,#14adc0,#1699d6,#14a0d2,#1d85e2,#2872ec,#2e66ee,#3558ee,#3a4eed,#3c46e9,#403be2,#4330d7,#432dd4,#432ed5,#4330d8,#4232db,#4232db,#4330d8,#4330d7,#4330d8,#432dd3,#4427ca,#4426c9,#4426c8,#4426c8,#4427ca,#4429cd,#4426c9,#4426c8,#432acf,#4330d7,#4330d8)"></i><i style="top:122px;background:linear-gradient(90deg,#4233dc,#3d42e6,#3852ee,#2f63ee,#296fed,#2774eb,#2a6eee,#2e66ee,#2f63ee,#325fee,#3557ee,#345aee,#2f64ee,#2a6fee,#2676ea,#2478e9,#237ae8,#1f82e4,#14a1d0,#14a6ca,#14a5cb,#14a4cd,#14a4cc,#14a4cc,#14a6ca,#14a9c5,#14b0bc,#16b3b7,#15b2b7,#18b3b4,#14aac4,#14abc3,#1d86e2,#2f65ee,#3950ee,#3f3fe4,#4138e0,#4235df,#4136df,#3f3ee4,#3c46e9,#3d44e7,#3e40e5,#403ce2,#4136df,#4232db,#432fd7,#432ed5,#4231d9,#4233dc,#4231d9,#432bd0,#4427c9,#4427c9,#4428cb,#432bcf,#432dd2,#432dd4,#432cd2,#432bcf)"></i><i style="top:123px;background:linear-gradient(90deg,#3e40e5,#3c48e9,#3950ee,#3c47e9,#3d45e8,#335cee,#2b6cee,#2773eb,#2871ec,#2e67ee,#325fee,#3161ee,#2b6bee,#2578e9,#1f81e4,#1d85e2,#1e83e3,#1d86e2,#14a1d0,#14a8c7,#14acc2,#14acc1,#14aac4,#14a7c8,#14a9c5,#14aebf,#15b2b8,#1eb5ad,#23b7a6,#21b7a8,#14a8c6,#149fd2,#2675ea,#325fee,#3459ee,#3a4cec,#3e40e5,#4137df,#432fd6,#4427ca,#4427c9,#4428cc,#4428cc,#4428cb,#4428cb,#4428cb,#4429cc,#432acf,#432ed4,#4232dc,#4136df,#4137e0,#4235df,#4233dd,#4234de,#4136df,#4137e0,#403ae1,#3f3ce2,#4138e0)"></i></div><div style="position:absolute;left:132.4px;top:16px;width:9.8px;height:124px;background:linear-gradient(180deg,#1798d7,#14abc3,#14a3ce,#14a1d1,#14a8c7,#1893da,#14a5cb,#14adbf,#14aebf,#159cd4,#1796d8,#1797d7,#1a8edd,#1798d7,#14a6c9,#14b1ba,#149fd3,#159dd4,#14a6ca,#14b1ba,#14acc1,#14a0d2,#14a7c8,#14aac4,#17b3b5,#14a2d0,#14aac5,#1ab4b1,#14a1d1,#1795d8,#1b89e0,#1895d9,#1699d6,#14a4cc,#1796d8,#14adc0,#159cd4,#14aebf,#14b1ba,#14a6c9,#14a3ce,#159cd4,#14acc2,#14b0bc,#14a3ce,#14b1ba,#15b2b8,#14a8c7,#1ab4b2,#1cb5af,#18b3b4,#1a8cde,#1798d7,#14a2cf,#14b0bc,#23b7a6,#21b7a8,#2dba9c,#1991db,#1796d8,#1a8fdc,#1893da,#1991db,#1a8dde,#159ed3,#14a7c9,#169ad5,#14a7c9,#169bd5,#14acc1,#217de6,#1893da,#14a1d1,#159ed3,#14a3cd,#14a1d0,#1cb5af,#159ed3,#1d86e2,#14a0d1,#14a2d0,#14a1d1,#159dd4,#14aebe,#20b6aa,#14abc3,#14a9c5,#1699d6,#2479e8,#1c86e1,#1e84e3,#217fe5,#14a1d1,#14a6ca,#14a5cc,#15b3b7,#17b3b6,#17b3b5,#14a0d2,#1991db,#1a8ddd,#14a4cc,#14a6ca,#1895d9,#14a4cd,#14a9c6,#1798d7,#1895d9,#169ad6,#1990dc,#14a4cd,#14abc3,#1a8edd,#159cd5,#14a5cb,#1bb4b0,#14a0d2,#14a1d0,#14b1bb,#14a9c6,#1991db,#159cd4,#14aac4,#14a4cd)"></div><div class="hm" style="left:288px;top:16px;width:236px;height:124px"><i style="top:0px;background:linear-gradient(90deg,#3063ee,#3754ee,#4137e0,#4231d9,#4234de,#3d44e7,#3a4dec,#3b4aeb,#3c47e9,#4136df,#3b49ea,#3160ee,#2a6eee,#217fe5,#2872ec,#2576ea,#2774eb,#2774eb,#237ae8,#1893da,#14a6c9,#14a4cd,#14a7c9,#14b1ba,#1db5ae,#30ba99,#43bc88,#33ba96,#14b0bc,#16b3b6,#33ba96,#19b4b2,#1895d9,#1c88e0,#2578e9,#2674eb,#2479e8,#1e83e3,#2773eb,#2b6dee,#237ae8,#1d85e2,#1797d7,#1a8cde,#1a8fdc,#1992da,#1895d9,#2479e8,#2871ed,#2872ec,#3459ee,#3b4beb,#403ce2,#4232db,#432ed4,#432fd6,#403ae2,#3f3de3,#4234de,#4232db)"></i><i style="top:1px;background:linear-gradient(90deg,#3655ee,#3951ee,#3a4eed,#3c48e9,#4039e1,#4231d9,#3e40e5,#345aee,#3559ee,#3558ee,#2e66ee,#325dee,#335bee,#2970ed,#2773ec,#2080e5,#2479e8,#2080e5,#1a8cde,#198fdc,#14a2cf,#14a7c8,#14adc0,#2dba9c,#44bc87,#4abd82,#40bc8b,#1cb5af,#14a1d0,#14acc1,#23b7a7,#14abc3,#14a1d1,#1a8dde,#1f81e4,#1f81e4,#2675ea,#217ee6,#2675eb,#2478e9,#1f82e4,#2081e4,#1b89e0,#2773eb,#2872ec,#2c6aee,#3b4beb,#403ae1,#4234de,#3e41e5,#403be2,#4330d8,#4330d8,#432fd7,#4330d8,#3e41e5,#3e40e5,#4137e0,#4233dd,#432dd3)"></i><i style="top:2px;background:linear-gradient(90deg,#3b49ea,#3f3ce2,#4233dd,#3951ee,#3559ee,#3b49ea,#3b4aea,#335cee,#2a6eee,#3559ee,#3655ee,#345aee,#325fee,#2e66ee,#2971ed,#2578e9,#1e84e3,#198fdc,#1798d7,#14a8c8,#14a2cf,#1990db,#1894d9,#21b7a9,#39bb91,#3abb90,#67bf6d,#48bd83,#28b9a0,#46bc85,#2eba9b,#18b3b4,#14adc0,#1c88e0,#2d67ee,#3558ee,#3655ee,#2e65ee,#2a6eee,#2b6cee,#2971ed,#296fed,#296fed,#2971ed,#2576ea,#3062ee,#3c47e9,#3c46e8,#3f3fe4,#432dd3,#4429cd,#4232db,#4233dc,#4138e1,#3e40e5,#3f3ee4,#4138e1,#3e42e6,#3e42e6,#3d44e7)"></i><i style="top:3px;background:linear-gradient(90deg,#3e40e5,#4233dd,#4234de,#4231d9,#432dd3,#4234de,#3e41e6,#3b49ea,#3b4beb,#3f3ee4,#3656ee,#2b6cee,#217fe5,#1a8ddd,#1990db,#1d84e2,#2970ed,#1d84e2,#1895d9,#169ad6,#14acc1,#16b3b6,#14a0d2,#14afbd,#42bc89,#55be78,#44bc87,#22b7a8,#22b7a7,#27b9a2,#14afbd,#14a3ce,#1797d7,#1c87e1,#1f81e4,#2d68ee,#345aee,#3062ee,#3061ee,#325eee,#335cee,#2b6cee,#2675ea,#2774eb,#2a6eee,#2e66ee,#3558ee,#3755ee,#3160ee,#3b49ea,#3d44e7,#3d44e7,#403ae1,#3d45e8,#3e42e6,#3d44e7,#3754ee,#3b4beb,#4232da,#403be2)"></i><i style="top:4px;background:linear-gradient(90deg,#3b4aea,#3e3fe4,#3d45e7,#4138e0,#4429cd,#4429cd,#4232da,#3f3ee4,#3e3fe4,#403ae1,#3a4eed,#2c6aee,#2576ea,#2b6bee,#2d69ee,#3160ee,#3062ee,#2b6dee,#2080e5,#1893da,#1a8cde,#1796d8,#14b0bb,#28b9a0,#40bc8a,#3fbc8b,#2bb99d,#14b0bb,#14aac4,#14a9c5,#14a9c6,#14abc3,#169ad6,#1a8edd,#1c87e1,#1d85e2,#1e83e3,#2676ea,#2e67ee,#2a6eee,#237ae8,#1b89e0,#237ae8,#2c6bee,#315fee,#3754ee,#3950ee,#3a4dec,#3f3fe4,#3c47e9,#3b49ea,#3d42e6,#3e41e6,#3f3de3,#3f3de3,#3c45e8,#3e41e5,#3e40e5,#4232da,#4136df)"></i><i style="top:5px;background:linear-gradient(90deg,#3d45e8,#3950ee,#394fed,#3f3ce3,#4136df,#4234de,#3950ee,#3852ee,#3d43e6,#3f3de3,#3f3de3,#3558ee,#2d68ee,#2674eb,#2478e9,#237ae8,#1d86e2,#1b8bdf,#1893da,#1894d9,#14a0d2,#14a2cf,#1893da,#14a9c5,#2bb99d,#38bb92,#3fbc8c,#3fbc8c,#3cbb8e,#24b8a5,#14a4cc,#149fd2,#14acc2,#14a1d0,#1a8edd,#1798d7,#169bd5,#2675ea,#3160ee,#3655ee,#3656ee,#2c6bee,#2774eb,#237ae8,#2b6bee,#3558ee,#3c48e9,#3c46e8,#3e40e5,#3c46e8,#3558ee,#3655ee,#403be2,#4233dd,#4233dc,#432dd3,#432ace,#3f3fe4,#3a4eed,#3f3fe4)"></i><i style="top:6px;background:linear-gradient(90deg,#432ed4,#432fd6,#4136df,#432ed4,#432cd1,#4136df,#3d45e8,#3d42e6,#3e41e5,#3b49ea,#3852ee,#3656ee,#325dee,#2676ea,#237be7,#217ee6,#1d85e2,#169bd5,#14adc0,#14aebe,#14a9c5,#14aac4,#14a2cf,#14acc1,#3dbb8d,#3fbc8c,#39bb91,#2bb99e,#14afbd,#14a6ca,#14a9c6,#159bd5,#1b8adf,#1c88e0,#1f81e4,#2a6dee,#237ae8,#2a6dee,#3161ee,#3061ee,#3853ee,#3655ee,#3557ee,#315fee,#3161ee,#345bee,#394fee,#3951ee,#3c47e9,#4235df,#3d44e7,#3b4beb,#3f3ce3,#432ed4,#432cd1,#432fd7,#3d42e6,#3b4beb,#4138e0,#4231da)"></i><i style="top:7px;background:linear-gradient(90deg,#4233dc,#432ed5,#3e3fe4,#4234dd,#4233dd,#403ae2,#4136df,#4138e0,#3f3de3,#3f3de3,#3d43e7,#3754ee,#3656ee,#2e65ee,#247ae8,#217fe5,#2872ec,#1d86e2,#14a1d1,#1893da,#1698d7,#22b7a7,#48bd83,#3ebb8c,#40bc8a,#2ab99e,#24b8a5,#27b9a2,#14b1ba,#14a4cd,#14acc2,#14a7c9,#159dd4,#14a1d0,#1894d9,#1f82e4,#2773ec,#3160ee,#335cee,#2a6dee,#2b6bee,#325eee,#3558ee,#3755ee,#325eee,#2f64ee,#335bee,#3c48e9,#3a4dec,#3062ee,#3951ee,#3b48ea,#3b4beb,#4137e0,#432fd6,#432fd6,#4231d9,#4231d9,#4233dc,#4233dd)"></i><i style="top:8px;background:linear-gradient(90deg,#3950ee,#3d43e7,#3f3de3,#3e41e5,#4235df,#4233dd,#4231d9,#4232db,#403be2,#3e3fe4,#3b49ea,#394fed,#3950ee,#3557ee,#345aee,#2c6aee,#2577e9,#2080e5,#1c87e1,#1893da,#14a5cc,#19b4b3,#14b2b9,#14b1bb,#1cb5af,#24b7a5,#35ba95,#2cb99d,#14afbd,#14a4cc,#14a3ce,#1893da,#227ce7,#237ae8,#1c87e1,#1a8edd,#227de6,#2c69ee,#3160ee,#3656ee,#3755ee,#3755ee,#3160ee,#2b6cee,#2c6bee,#3754ee,#403be2,#403ae1,#3f3de3,#3c47e9,#3b4aea,#3a4cec,#3c46e8,#3e42e6,#3c46e8,#4233dc,#432dd2,#4232dc,#3d43e7,#3f3de3)"></i><i style="top:9px;background:linear-gradient(90deg,#3e41e5,#3a4cec,#325eee,#3b4aeb,#4233dd,#4138e0,#4330d8,#4234de,#3a4eed,#3656ee,#3557ee,#3062ee,#2e65ee,#2c6aee,#227ce7,#217de6,#247ae8,#1e83e3,#207fe5,#217fe5,#1c87e1,#1a8cde,#14acc1,#3fbc8c,#47bc85,#2fba9a,#2dba9c,#26b8a2,#14b0bc,#18b3b4,#15b2b8,#149fd3,#217de6,#2e67ee,#3655ee,#2d68ee,#1699d6,#14a2cf,#1d86e2,#227ce7,#2081e4,#227ce7,#2872ec,#2d69ee,#2e65ee,#2576ea,#2872ec,#3a4eed,#4137e0,#4138e0,#4039e1,#4138e0,#3e41e5,#3b49ea,#3f3de3,#4039e1,#4138e0,#4235df,#4235de,#4232db)"></i><i style="top:10px;background:linear-gradient(90deg,#3c46e8,#4234de,#3e41e6,#3d44e7,#4330d8,#4235de,#432fd6,#432bd0,#403ce2,#3f3ce3,#3a4cec,#3c47e9,#3753ee,#2674eb,#217ee6,#2578e9,#2774eb,#237be7,#1a8ddd,#159ed3,#14a6ca,#14a7c9,#14abc2,#25b8a3,#36bb94,#25b8a4,#21b7a9,#25b8a3,#24b7a5,#2fba9a,#1bb4b0,#1fb6ac,#14a6c9,#1c88e0,#2479e8,#2a6eee,#2479e8,#2479e8,#2c6aee,#3160ee,#3063ee,#325eee,#2d69ee,#2774eb,#2b6cee,#2872ec,#2c69ee,#3f3ee4,#432dd3,#432dd3,#4233dc,#3b49ea,#3b48ea,#3d43e6,#403be2,#3f3fe4,#3f3de3,#3e3fe5,#3a4eed,#3e42e6)"></i><i style="top:11px;background:linear-gradient(90deg,#3e41e6,#403be2,#403be2,#4233dc,#432dd3,#4330d8,#4330d7,#4231d9,#403ce2,#4330d8,#4234de,#3c46e8,#3063ee,#2872ec,#335bee,#2f65ee,#2478e9,#1d86e2,#1699d6,#1894d9,#1b89e0,#1797d7,#14a7c9,#1bb5b0,#2fba9a,#25b8a3,#21b7a9,#1fb6ab,#15b2b8,#14a2cf,#14a1d0,#14a1d1,#1a8edd,#1a8ddd,#1e84e3,#2970ed,#2d68ee,#2b6cee,#2773eb,#2773eb,#2a6dee,#3161ee,#3063ee,#2a6eee,#2a6eee,#3160ee,#3d43e7,#3f3fe4,#3b49ea,#3e40e5,#3e40e5,#3c47e9,#3852ee,#3b4aeb,#3c48e9,#3b48ea,#4136df,#4138e0,#3e40e5,#4231da)"></i><i style="top:12px;background:linear-gradient(90deg,#3853ee,#335cee,#3753ee,#3d43e7,#403ce2,#4039e1,#4233dc,#3e41e6,#3d42e6,#3e42e6,#3a4cec,#3061ee,#227de6,#207fe5,#2675ea,#2478e9,#2479e8,#1c88e1,#169bd5,#159cd5,#1a8cde,#149fd3,#16b3b7,#14afbd,#16b3b6,#1ab4b2,#1ab4b2,#19b4b2,#14aebf,#14a6c9,#1798d7,#1990dc,#14a2cf,#1795d8,#1b8bdf,#2773eb,#2970ed,#2774eb,#2d69ee,#2f64ee,#335bee,#335cee,#2b6bee,#2a6dee,#2e65ee,#2d67ee,#3459ee,#3c46e8,#345aee,#3852ee,#3b4aeb,#3c48e9,#3d45e8,#403ae2,#403ae1,#432ed4,#4427ca,#4232da,#4233dc,#4235de)"></i><i style="top:13px;background:linear-gradient(90deg,#3b4beb,#394fee,#394fee,#3656ee,#3657ee,#3d43e6,#403ce2,#3852ee,#3852ee,#3a4eed,#3655ee,#3d42e6,#3656ee,#2b6dee,#2872ec,#1f82e3,#1893da,#1797d7,#14abc2,#14a6c9,#1895d9,#14b1bb,#1bb4b0,#22b7a7,#3bbb8f,#29b99f,#21b7a8,#16b3b7,#14b0bc,#14b1ba,#17b3b5,#14b2b9,#14afbd,#14a7c8,#14a0d2,#237be7,#2675ea,#296fed,#2b6dee,#2b6cee,#2e66ee,#3754ee,#345aee,#3459ee,#3754ee,#3558ee,#3656ee,#335cee,#335cee,#3160ee,#3558ee,#3d42e6,#4235df,#3e3fe4,#3852ee,#3d42e6,#3f3ce3,#3e41e6,#3f3ee4,#3d44e7)"></i><i style="top:14px;background:linear-gradient(90deg,#3557ee,#3951ee,#3950ee,#3b4beb,#4232db,#4428cb,#432fd6,#4139e1,#3e3fe4,#403ae2,#4138e0,#3e40e5,#345aee,#227ce7,#1a8dde,#1991db,#1d85e2,#2080e5,#1b8bde,#1699d6,#14a6ca,#14b1ba,#1ab4b2,#1bb4b0,#50bd7c,#7ebf5f,#9ebf4d,#b6bd44,#4bbd81,#3bbb8f,#39bb91,#26b8a2,#14acc2,#1990db,#1b89e0,#237ae8,#2d67ee,#2f64ee,#2b6cee,#2c6aee,#2871ec,#2e67ee,#3160ee,#2c6bee,#3657ee,#3c47e9,#3c46e8,#3e40e5,#4234de,#3a4cec,#3c48e9,#4232da,#432bcf,#4139e1,#3e41e5,#3c46e8,#3e41e6,#432fd5,#432acf,#432bcf)"></i><i style="top:15px;background:linear-gradient(90deg,#3b48ea,#3f3ce3,#3e3fe4,#4233dd,#4232da,#4231d9,#3d44e7,#3a4beb,#4234de,#3c46e8,#2d69ee,#3062ee,#325dee,#2a6dee,#217fe5,#1c88e0,#159bd5,#14a8c7,#149fd2,#1893da,#159cd5,#14a3ce,#14a3ce,#14a8c6,#19b4b3,#2eba9b,#3bbb8f,#44bc87,#25b8a4,#1ab4b1,#14a3ce,#14a0d2,#159cd5,#1c86e1,#198fdc,#1c88e1,#237be7,#2b6dee,#2b6cee,#2970ed,#2a6eee,#2478e9,#2577e9,#2772ec,#2d68ee,#3558ee,#3852ee,#394fed,#3b4aea,#3e41e5,#3d45e8,#3d45e7,#3d43e6,#3b49ea,#4039e1,#4232dc,#4426c8,#4426c8,#4234de,#3c47e9)"></i><i style="top:16px;background:linear-gradient(90deg,#3b4aea,#403be2,#4231da,#3f3ce3,#3e40e5,#3d44e7,#3c45e8,#3b49ea,#3851ee,#3557ee,#3559ee,#2d67ee,#2872ec,#2676ea,#1d86e2,#1892da,#14a5cb,#1798d7,#1d85e2,#1a8cde,#1991db,#1c87e1,#169ad5,#19b4b3,#29b99f,#55be78,#40bc8a,#24b8a5,#14b1bb,#159cd4,#149fd3,#14abc3,#169ad6,#1b89e0,#1b8cde,#1e84e3,#2e65ee,#2a6fee,#2676ea,#2578e9,#335cee,#3c47e9,#3558ee,#3063ee,#2f63ee,#2b6dee,#335cee,#403be2,#4137e0,#3d43e6,#3950ee,#3a4beb,#432fd6,#4426c8,#4429cc,#4429cd,#432bcf,#4234de,#403be2,#4136df)"></i><i style="top:17px;background:linear-gradient(90deg,#394fed,#4137e0,#4233dc,#4234dd,#4138e0,#3d43e7,#3951ee,#3755ee,#3e40e5,#3e3fe4,#3d44e7,#3a4dec,#3160ee,#227de6,#1a8ddd,#1c87e1,#198fdc,#169ad5,#1895d9,#1991db,#169ad5,#149fd3,#14b2b9,#2fba9a,#25b8a3,#24b8a4,#3dbb8d,#48bd83,#2dba9c,#1fb6ac,#21b6a9,#14aebe,#14a2cf,#1796d8,#1e83e3,#1c88e0,#2674eb,#2d67ee,#2577e9,#2578e9,#3755ee,#3b49ea,#3559ee,#3558ee,#3559ee,#3459ee,#3755ee,#3a4cec,#3b4aeb,#3d44e7,#3a4cec,#3c45e8,#4137df,#4233dd,#432fd6,#4330d7,#403ae2,#3d45e8,#3f3ce3,#4138e0)"></i><i style="top:18px;background:linear-gradient(90deg,#4139e1,#4232db,#4039e1,#3e41e5,#3c46e8,#3d45e8,#3852ee,#3063ee,#3951ee,#3a4eed,#3160ee,#325eee,#3161ee,#2872ec,#2479e9,#1c88e0,#1c88e1,#217fe5,#14a2d0,#14b2ba,#14a8c7,#14b0bc,#14b0bb,#38bb92,#4abd82,#2eba9a,#68bf6d,#58be76,#2ab99e,#29b99f,#20b6aa,#14a6c9,#14aac4,#149fd2,#149fd3,#14a7c9,#169bd5,#1f82e3,#2080e4,#1f82e4,#1e84e3,#2577e9,#2479e8,#237be7,#2676ea,#2a6dee,#3951ee,#432fd7,#4427ca,#432dd4,#3f3ee4,#3e3fe4,#4136df,#3d43e7,#3e40e5,#4231da,#4231da,#4137e0,#4235df,#403be2)"></i><i style="top:19px;background:linear-gradient(90deg,#3459ee,#3c46e8,#3d44e7,#3852ee,#394fed,#325dee,#3755ee,#3c48ea,#3a4eed,#3062ee,#2b6bee,#325dee,#3851ee,#335cee,#2a6eee,#1d85e2,#198fdc,#169bd5,#14b0bc,#1db5ad,#20b6aa,#1eb6ac,#32ba97,#81bf5d,#5fbe72,#1eb6ac,#14abc2,#14b0bc,#1cb5b0,#22b7a7,#15b2b8,#14a3ce,#159cd4,#1796d8,#1d86e2,#1e84e2,#1d84e2,#2b6dee,#315fee,#2d67ee,#217ee6,#1893da,#1990dc,#2b6bee,#2577e9,#2d68ee,#3b49ea,#4138e0,#4232dc,#4136df,#403ae1,#3e41e5,#3e41e5,#3d42e6,#4137e0,#432dd3,#4429cd,#432ed5,#403ae2,#3e40e5)"></i><i style="top:20px;background:linear-gradient(90deg,#3754ee,#3655ee,#3160ee,#3061ee,#345aee,#325fee,#2c69ee,#2d68ee,#3160ee,#3459ee,#3655ee,#3656ee,#2774eb,#2479e8,#2478e9,#1991db,#1795d8,#14a1d1,#14a6ca,#159cd4,#14a4cd,#14b0bc,#22b7a8,#56be77,#6cbf6a,#51be7c,#43bc88,#3bbb8f,#26b8a2,#19b4b3,#169ad5,#198fdc,#1a8dde,#296fed,#3061ee,#315fee,#2c69ee,#2675ea,#217ee6,#217de6,#1a8cde,#1b89e0,#227ce7,#2a6dee,#325eee,#345aee,#3853ee,#3853ee,#3f3ce3,#4138e0,#3b49ea,#335cee,#3c45e8,#403ae1,#4137df,#3f3de3,#3f3de3,#4233dc,#4233dd,#4234de)"></i><i style="top:21px;background:linear-gradient(90deg,#3b49ea,#3c48e9,#3950ee,#3a4eed,#2d68ee,#345aee,#3852ee,#3853ee,#3950ee,#394fee,#3559ee,#3559ee,#296fed,#1d86e2,#1990dc,#1893da,#159ed3,#1892da,#1c87e1,#159bd5,#14a9c5,#14afbd,#14abc3,#14a9c6,#14acc1,#14b0bc,#18b3b4,#33ba96,#26b8a2,#1cb5af,#1ab4b2,#14adc0,#14a9c6,#159ed3,#227ce7,#2b6cee,#2479e8,#227ce7,#1e83e3,#2675eb,#3459ee,#3852ee,#3754ee,#3656ee,#3656ee,#2e66ee,#3459ee,#3f3ee4,#4137e0,#403ae2,#3b4aea,#3b4beb,#3c46e9,#3c46e8,#3753ee,#3160ee,#3a4dec,#4235df,#4236df,#3f3ee4)"></i><i style="top:22px;background:linear-gradient(90deg,#3459ee,#2f64ee,#2a6fee,#3f3ee4,#432cd1,#432acf,#3e40e5,#3657ee,#3a4cec,#3c47e9,#3e41e6,#403be2,#325fee,#227de6,#1f81e4,#1795d8,#14a0d2,#1893da,#1a8dde,#14a0d2,#1cb5af,#14abc3,#159cd5,#14aebe,#17b3b5,#14b1ba,#27b9a1,#3dbb8d,#27b9a2,#21b6a9,#24b8a5,#17b3b6,#159ed3,#1991db,#1a8edd,#2080e5,#2576ea,#2674eb,#2c6bee,#3062ee,#2d69ee,#2e67ee,#3656ee,#3a4dec,#3d44e7,#3b4aea,#3d42e6,#4235de,#345aee,#325eee,#3a4eed,#3d43e7,#4136df,#403ae1,#3852ee,#2c6aee,#335cee,#3e40e5,#4231d9,#432cd2)"></i><i style="top:23px;background:linear-gradient(90deg,#3a4dec,#3851ee,#3a4eed,#3a4eed,#3c46e9,#3e40e5,#3c47e9,#3d43e6,#3f3fe4,#3c48ea,#3b4beb,#3c48e9,#325eee,#237be7,#1b8adf,#149fd2,#14a6ca,#14a6ca,#14a5ca,#14aebe,#20b6aa,#1cb5b0,#20b6aa,#3abb90,#30ba99,#33ba96,#3cbb8e,#55be78,#26b8a2,#14afbd,#17b3b5,#159cd4,#1a8dde,#159ed3,#1699d6,#1a8ddd,#2773eb,#3160ee,#325eee,#345bee,#2871ec,#1f82e3,#2d68ee,#394fee,#3754ee,#3a4eed,#3d44e7,#3f3ce3,#3c46e8,#3f3ce2,#403ae1,#3c46e8,#3d44e7,#4138e0,#403ae1,#3b48ea,#3e41e5,#4136df,#4235df,#4232da)"></i><i style="top:24px;background:linear-gradient(90deg,#3853ee,#3950ee,#394fee,#3b4beb,#3e41e5,#432fd6,#403ae1,#3a4beb,#3950ee,#3b4beb,#3a4cec,#394fed,#3559ee,#296fed,#217fe5,#1796d8,#169ad5,#1796d8,#1797d8,#159dd4,#1698d7,#14aebf,#43bc88,#7dbf5f,#86c05a,#75bf64,#63be70,#5abe75,#24b8a5,#14afbc,#16b3b6,#18b3b4,#14a3cd,#14a4cd,#149fd2,#237ae8,#3062ee,#2b6cee,#2674eb,#2b6bee,#2b6bee,#2872ec,#2774eb,#227de6,#227de6,#3754ee,#3c48e9,#394fed,#3c46e8,#3f3ce3,#403ae1,#3c47e9,#394fee,#3e42e6,#4136df,#3d43e6,#394fee,#403be2,#4235df,#3d42e6)"></i><i style="top:25px;background:linear-gradient(90deg,#3d42e6,#4330d7,#4235de,#3b49ea,#3f3fe4,#3f3fe4,#3b4aeb,#3a4beb,#3753ee,#3657ee,#3f3ee4,#403ae2,#3160ee,#1894d9,#1991db,#1c86e1,#1990dc,#159cd4,#207fe5,#227be7,#1b8adf,#14a3cd,#55be78,#6dbf69,#50bd7d,#79bf62,#9fbf4d,#a4be4b,#7ebf5f,#4dbd7f,#26b8a3,#24b8a5,#1eb5ad,#14a7c9,#1a8ddd,#2e67ee,#2e66ee,#2675ea,#2a6dee,#2675ea,#296fee,#2a6eee,#2b6cee,#3160ee,#325fee,#335dee,#3852ee,#3656ee,#394fee,#403ae1,#3f3de3,#3851ee,#345bee,#345aee,#3b49ea,#4232dc,#432fd6,#4231d9,#3f3fe4,#3e40e5)"></i><i style="top:26px;background:linear-gradient(90deg,#3a4cec,#4235de,#432dd3,#4232db,#4138e0,#3d44e7,#3d43e6,#3e3fe4,#3754ee,#2d67ee,#3a4dec,#3b4aeb,#315fee,#2b6cee,#2b6cee,#2c69ee,#2576ea,#1990dc,#1b8bdf,#1b8bde,#14a0d2,#14aac5,#1bb4b1,#27b9a1,#3dbb8d,#53be7a,#41bc89,#5bbe75,#75bf65,#73bf66,#27b9a2,#14a7c8,#1991db,#2c6bee,#2d68ee,#2971ed,#2970ed,#2d68ee,#3061ee,#2675ea,#296fed,#3558ee,#2971ed,#207fe5,#296fee,#2b6cee,#394fed,#3e41e5,#3b49ea,#3c45e8,#3a4cec,#3a4dec,#3c47e9,#3d44e7,#4139e1,#4234de,#4233dd,#4235de,#3d45e8,#3e40e5)"></i><i style="top:27px;background:linear-gradient(90deg,#3e41e5,#403be2,#3d42e6,#3a4eed,#3a4dec,#3d45e8,#3a4cec,#315fee,#2b6bee,#325dee,#3a4dec,#3557ee,#2970ed,#2c69ee,#2d67ee,#2970ed,#227ce7,#198fdc,#1894d9,#159cd4,#159dd4,#1796d8,#1797d7,#14a5cb,#14b2ba,#22b7a8,#23b7a6,#2bb99e,#41bc8a,#51be7c,#1eb6ac,#14a7c9,#1798d7,#1a8ddd,#1a8cde,#1f82e4,#2676ea,#227ce6,#2871ec,#3160ee,#2c6aee,#2e65ee,#335dee,#2f64ee,#2d68ee,#2c69ee,#2d68ee,#335dee,#3b4aeb,#4138e0,#4233dd,#403ae1,#3f3ee4,#3f3fe4,#3e41e6,#4330d8,#432cd1,#4139e1,#3d45e8,#3c46e8)"></i><i style="top:28px;background:linear-gradient(90deg,#3b4aeb,#3e42e6,#3f3ee3,#3d43e7,#3b49ea,#3d42e6,#3e40e5,#3e41e6,#3f3ce3,#4138e0,#403be2,#3c48e9,#394fee,#394fed,#335cee,#2d67ee,#2a6eee,#1f82e4,#1894d9,#159ed3,#1796d8,#1892da,#14a9c5,#39bb91,#8bc057,#7dbf5f,#68bf6c,#47bc84,#1bb4b0,#1bb4b0,#14b2b9,#14abc3,#14a4cd,#1699d6,#1992db,#2080e5,#2c69ee,#237ae8,#1e83e3,#237be7,#1f82e4,#2b6bee,#3657ee,#3558ee,#3a4cec,#3950ee,#3a4eed,#345aee,#3557ee,#4234dd,#432ed5,#4137e0,#3e40e5,#3f3ee4,#403be2,#4232db,#4428cb,#4426c8,#4233dc,#3e40e5)"></i><i style="top:29px;background:linear-gradient(90deg,#3e42e6,#3c46e8,#3c47e9,#3160ee,#2a6eee,#3559ee,#3d44e7,#4232db,#3f3de3,#3d42e6,#3852ee,#2c6bee,#1c86e1,#1992da,#237ae8,#2970ed,#217ee6,#14a2cf,#159cd5,#1699d6,#14adc1,#1eb5ad,#2bb99d,#3bbb8f,#23b7a6,#1eb6ac,#14acc1,#14b0bc,#14b2b9,#14a7c8,#14a5cb,#14b2b9,#14a4cc,#1991db,#149fd3,#227ce7,#2c6bee,#2970ed,#3062ee,#2e66ee,#2a6eee,#2b6dee,#2c6aee,#3063ee,#3754ee,#3656ee,#3755ee,#3a4cec,#3f3fe4,#3c45e8,#3a4dec,#335cee,#345aee,#3c46e8,#4138e0,#4233dc,#4330d8,#4233dd,#3f3ce3,#3d43e6)"></i><i style="top:30px;background:linear-gradient(90deg,#4138e0,#3e42e6,#3e3fe4,#3852ee,#325fee,#3559ee,#3950ee,#3753ee,#3d43e6,#3f3ee3,#325eee,#3062ee,#2d67ee,#2774eb,#2479e8,#1f81e4,#207fe5,#1d85e2,#14a0d2,#1797d8,#1b89e0,#1796d8,#14adc0,#45bc87,#69bf6c,#47bc85,#28b9a0,#25b8a4,#14aac4,#14a1d1,#14a9c6,#14b0bc,#14aac4,#14a6ca,#14a6ca,#1e83e3,#2a6eee,#2577e9,#237be7,#2b6cee,#2a6fee,#2576ea,#2871ec,#2f63ee,#3754ee,#3b4aeb,#3951ee,#3d44e7,#3f3ee4,#3b4beb,#3853ee,#3c46e9,#4233dd,#4231d9,#4234de,#3c45e8,#3d45e8,#4137e0,#4232db,#432bd1)"></i><i style="top:31px;background:linear-gradient(90deg,#3e40e5,#403ae2,#4232da,#3d44e7,#3950ee,#3161ee,#2b6cee,#3754ee,#3f3ee4,#3e42e6,#3d44e7,#3754ee,#2a6dee,#1c87e1,#1797d7,#1797d8,#1798d7,#1e84e3,#1c87e1,#217ee6,#1f82e4,#1895d9,#1bb5b0,#2cb99c,#1cb5af,#20b6aa,#28b9a0,#1fb6ac,#14b0bc,#1fb6ac,#1ab4b1,#14aac4,#14a2cf,#14a1d1,#14a1d0,#1d86e2,#296fed,#2c6aee,#2970ed,#2a6eee,#2e66ee,#345aee,#3061ee,#2676ea,#3a4ded,#3a4cec,#2e67ee,#335cee,#3853ee,#3950ee,#3b49ea,#3f3de3,#3e40e5,#3c48e9,#3754ee,#3557ee,#3f3ee4,#432bd1,#432ed4,#4234de)"></i><i style="top:32px;background:linear-gradient(90deg,#3c47e9,#3f3ee3,#4039e1,#3e3fe4,#3c45e8,#3f3fe4,#3d44e7,#3d44e7,#403ce2,#3b48ea,#2e65ee,#2872ec,#2970ed,#217fe5,#217ee6,#1b8adf,#1b89e0,#1c86e1,#159cd4,#14a5cb,#159dd4,#14a8c7,#14adc0,#15b2b8,#29b99f,#3ebb8c,#44bc87,#6abf6b,#50bd7c,#46bc85,#27b9a2,#14a6c9,#1894d9,#1b8adf,#169ad6,#1a8dde,#217ee5,#2b6bee,#2a6fee,#2d68ee,#3755ee,#3950ee,#3950ee,#3753ee,#3b49ea,#3558ee,#3559ee,#3061ee,#3656ee,#3755ee,#325eee,#3b4beb,#394fed,#3853ee,#3c47e9,#4136df,#432fd7,#432fd6,#4234de,#4137e0)"></i><i style="top:33px;background:linear-gradient(90deg,#325dee,#325dee,#3d44e7,#4136df,#4039e1,#3f3fe4,#3f3de3,#3b49ea,#3c46e8,#403ae2,#3a4dec,#325eee,#2a6dee,#1c87e1,#2a6dee,#2773eb,#1e84e2,#1698d7,#14a4cc,#14a6c9,#14a8c6,#14b1ba,#3dbb8e,#39bb91,#1db5ae,#1ab4b2,#1eb6ac,#1fb6ac,#14a5cb,#14a3ce,#26b8a2,#20b6aa,#1b8bdf,#2970ed,#1c89e0,#1a8cde,#2b6cee,#325fee,#2774eb,#237ae8,#2f65ee,#325eee,#2f64ee,#3161ee,#3950ee,#3950ee,#3a4eed,#3558ee,#3754ee,#3a4dec,#3a4eed,#3853ee,#3e3fe4,#4231d9,#4137e0,#4231d9,#4330d8,#4138e1,#403be2,#403ae1)"></i><i style="top:34px;background:linear-gradient(90deg,#3d45e8,#3d43e6,#4231d9,#4330d7,#432fd7,#3e41e5,#315fee,#325fee,#3c48e9,#3c45e8,#3d44e7,#3a4eed,#3062ee,#227ce7,#1894d9,#159ed3,#1894d9,#198fdc,#1892da,#14a6ca,#18b3b4,#19b4b3,#1ab4b2,#21b7a9,#2cb99d,#23b7a6,#1eb6ac,#16b3b6,#14a9c5,#14a4cc,#14a9c5,#14a6ca,#1f81e4,#2773eb,#1e83e3,#2479e8,#2b6bee,#296fed,#237be7,#1d86e2,#217fe5,#2872ec,#227de6,#2774eb,#3656ee,#3754ee,#3d43e6,#4232da,#4233dd,#3e40e5,#3852ee,#335cee,#3a4cec,#3d44e7,#3f3ee4,#403ce2,#4137e0,#4233dd,#4233dd,#4136df)"></i><i style="top:35px;background:linear-gradient(90deg,#4231d9,#3c48e9,#3e3fe4,#4231d9,#4235df,#3a4eed,#2d69ee,#345bee,#3c46e8,#3b49ea,#345bee,#345bee,#3558ee,#2d67ee,#2478e9,#1991db,#1a8edd,#2080e5,#227ce7,#1b89e0,#14a4cc,#18b3b4,#1eb5ad,#2eba9b,#44bc87,#58be76,#45bc86,#34ba96,#21b7a9,#1db5ad,#28b9a1,#14a7c9,#1699d6,#1a8ddd,#2478e9,#2872ec,#1f81e4,#227de6,#2b6bee,#2a6eee,#2d68ee,#296fed,#2971ed,#2c69ee,#2f65ee,#2970ed,#3558ee,#4137e0,#4039e1,#4137e0,#3f3de3,#3f3fe4,#3a4dec,#394fed,#3b4beb,#3e41e5,#4138e0,#432fd7,#432dd3,#432ed5)"></i><i style="top:36px;background:linear-gradient(90deg,#403be2,#3e40e5,#3c47e9,#3b49ea,#3a4dec,#3b4beb,#394fee,#3b4beb,#3a4ded,#3950ee,#3852ee,#3558ee,#2c6aee,#1f81e4,#237be7,#227ce7,#2871ec,#2676ea,#1c87e1,#1a8ddd,#1894d9,#169ad6,#14aac3,#14a7c8,#14aac4,#1ab4b2,#45bc86,#65be6e,#4dbd7f,#43bc88,#1bb4b0,#14aac4,#14a6c9,#1893da,#1b89e0,#1b89e0,#1b89e0,#1d86e2,#1f82e3,#2676ea,#2479e8,#2a6eee,#2e65ee,#227de6,#2577e9,#3459ee,#403ae1,#4137e0,#3e42e6,#3f3ce3,#4231d9,#432bcf,#4234dd,#3d43e6,#3e41e5,#4137e0,#432ed5,#4136df,#3f3de3,#4138e0)"></i><i style="top:37px;background:linear-gradient(90deg,#3f3ce2,#3d42e6,#403ce2,#3c48ea,#345aee,#3657ee,#3d42e6,#3f3ee4,#3e41e5,#3f3de3,#3e41e5,#3950ee,#2774eb,#1797d8,#1894d9,#1d86e2,#2080e5,#1e83e3,#1b8cde,#14a2d0,#14adc0,#14a6ca,#14a4cc,#14abc3,#26b8a2,#23b7a6,#15b2b8,#3abb90,#39bb91,#1cb5af,#1bb4b1,#14b2b9,#1796d8,#1e83e3,#1a8edd,#1f82e4,#2871ec,#2e66ee,#2b6dee,#3853ee,#3459ee,#2675ea,#2872ec,#237be7,#237be7,#3160ee,#4235df,#4235df,#3d44e7,#3d43e6,#3d43e6,#3f3ce3,#4039e1,#3e3fe4,#4233dd,#4235de,#4039e1,#3f3de3,#3d42e6,#3f3de3)"></i><i style="top:38px;background:linear-gradient(90deg,#394fee,#3755ee,#3f3fe4,#3a4dec,#3a4ceb,#3754ee,#3657ee,#3f3ce3,#4234de,#3c48e9,#3b4aeb,#3656ee,#2872ec,#2578e9,#227ce6,#1d85e2,#207fe5,#227de6,#1d85e2,#1f82e3,#1a8ddd,#1893da,#1c88e0,#14a5cb,#20b6aa,#2ab99e,#1fb6ab,#14abc2,#14a4cc,#1cb5b0,#1bb4b0,#14acc1,#1797d7,#1c87e1,#1a8edd,#227ce7,#2478e9,#2970ed,#2872ec,#2773eb,#237be7,#2675ea,#2e67ee,#2577e9,#2773ec,#2d68ee,#335bee,#3950ee,#3c45e8,#3b4aeb,#3459ee,#3b4aea,#4136df,#4234de,#4137e0,#403ce2,#3d43e6,#3e3fe4,#403be2,#4039e1)"></i><i style="top:39px;background:linear-gradient(90deg,#3558ee,#2c6bee,#2e65ee,#2d67ee,#335cee,#3b49ea,#3e41e6,#4136df,#3e41e6,#3b4aeb,#3a4dec,#3a4eed,#345bee,#237be7,#2479e8,#2675ea,#2674eb,#2081e4,#1797d8,#169bd5,#1a8edd,#1796d8,#14acc2,#22b7a7,#24b8a5,#26b8a3,#2ab99e,#24b8a5,#14b1ba,#14a3ce,#14adc0,#19b4b2,#14a9c6,#1b8bdf,#2676ea,#2478e9,#1a8dde,#1f82e4,#2f63ee,#2d69ee,#2774eb,#2676ea,#2578e9,#2c6bee,#3656ee,#3a4ded,#3754ee,#3a4eed,#3c46e8,#335cee,#2d67ee,#3b4beb,#403be2,#4136df,#3f3ee4,#3f3de3,#4137e0,#3c45e8,#3557ee,#3062ee)"></i><i style="top:40px;background:linear-gradient(90deg,#3d42e6,#3b48ea,#3a4eed,#3851ee,#325dee,#3062ee,#335cee,#3a4ded,#3f3de3,#4232db,#403ce2,#3a4cec,#345bee,#217ee6,#2576ea,#1d86e2,#169bd5,#1a8dde,#1796d8,#159dd4,#1b8bdf,#1c88e0,#14a7c8,#24b7a5,#44bc87,#3cbb8e,#1db5ad,#19b4b3,#16b3b7,#1bb4b1,#2ab99f,#14b2b9,#159cd4,#14a0d2,#1892da,#1f82e3,#217fe5,#237ae8,#2e65ee,#2871ed,#2675eb,#2774eb,#2479e8,#2d68ee,#335cee,#3558ee,#3655ee,#3b4beb,#3d44e7,#3d43e7,#3a4dec,#3d45e8,#3e41e5,#3b49ea,#3b4beb,#3b49ea,#4139e1,#432fd6,#4231da,#4233dd)"></i><i style="top:41px;background:linear-gradient(90deg,#335cee,#3b48ea,#3b4aeb,#3d43e6,#3f3ee4,#3d43e7,#403be2,#4139e1,#3b4aeb,#3a4cec,#3b4aeb,#3c46e9,#3852ee,#3161ee,#2e65ee,#2080e4,#169bd5,#1894d9,#1699d6,#14b0bc,#14afbd,#15b2b8,#14aac4,#14a6ca,#14abc3,#14aebe,#1ab4b2,#23b7a6,#15b2b8,#14adc0,#21b6a9,#3fbc8b,#15b2b8,#14a9c5,#1a8edd,#217ee6,#1e83e3,#227ce7,#217de6,#1f82e3,#217fe5,#2970ed,#3657ee,#3b4beb,#3b49ea,#3e40e5,#3f3ce2,#4234de,#403ce2,#3d43e7,#3b49ea,#403be2,#432ed5,#4233dd,#4234de,#4233dc,#4138e0,#4330d8,#432fd7,#4231da)"></i><i style="top:42px;background:linear-gradient(90deg,#3851ee,#345aee,#3558ee,#3b49ea,#3d44e7,#345aee,#3559ee,#325dee,#2e65ee,#3755ee,#3b49ea,#394fed,#2c6bee,#237ae8,#2872ec,#2a6dee,#227de6,#1c86e1,#1893da,#14a3ce,#14a9c6,#14b2ba,#1eb5ad,#25b8a4,#1cb5af,#16b3b6,#24b7a5,#62be70,#51be7b,#3fbc8c,#32ba97,#1bb4b1,#14a7c9,#14a1d0,#159cd4,#217ee6,#2c6aee,#2d68ee,#2774eb,#2b6bee,#2970ed,#2871ed,#2f64ee,#3558ee,#3061ee,#3160ee,#394fed,#3e41e6,#4234dd,#403ae1,#403ae2,#4234dd,#403be2,#4138e1,#4232dc,#4235df,#3f3de3,#3f3ee4,#403be2,#4330d8)"></i><i style="top:43px;background:linear-gradient(90deg,#4039e1,#403be2,#403be2,#3e40e5,#325dee,#335cee,#3a4eed,#345bee,#3c47e9,#3f3ee4,#3a4eed,#3755ee,#3061ee,#1f82e3,#1990dc,#1e83e3,#1e84e3,#1e84e3,#1992db,#149fd3,#14a5cb,#14a0d2,#1cb5af,#35ba95,#42bc89,#51be7c,#3dbb8e,#31ba98,#1ab4b2,#27b9a1,#67bf6d,#31ba98,#14b2ba,#14a3cd,#159ed3,#149fd2,#1a8cde,#2773ec,#325fee,#2578e9,#1f82e4,#2d68ee,#2e65ee,#325eee,#2f65ee,#2479e8,#2f65ee,#3b4beb,#4232db,#4231da,#4234dd,#4231d9,#4137e0,#3e40e5,#3b48ea,#3851ee,#335cee,#345aee,#345aee,#3d44e7)"></i><i style="top:44px;background:linear-gradient(90deg,#403ae1,#4138e0,#4136df,#4232db,#3f3de3,#3e3fe5,#3d44e7,#3d43e6,#3d43e6,#3951ee,#2f64ee,#2871ec,#296fed,#1d85e2,#149fd2,#14a4cc,#1b8bdf,#1a8ddd,#1796d8,#159bd5,#14a1d1,#1893da,#14a0d2,#19b4b3,#2cb99d,#1eb5ad,#16b3b6,#23b7a6,#1bb4b0,#14b1bb,#14aebe,#14adc0,#15b2b8,#14a4cc,#1b8adf,#2a6eee,#315fee,#2d67ee,#2a6eee,#2a6fee,#2d68ee,#2970ed,#2d67ee,#3657ee,#335cee,#2b6dee,#2576ea,#335dee,#3b4beb,#3e41e6,#3d45e8,#3c47e9,#403ce2,#4232db,#4234de,#4235de,#3e41e5,#3e3fe5,#403ae2,#4232dc)"></i><i style="top:45px;background:linear-gradient(90deg,#3851ee,#3b49ea,#4137e0,#3e40e5,#3c46e8,#3f3ee4,#3c46e8,#3c46e8,#3a4cec,#3558ee,#3656ee,#345aee,#325dee,#2a6eee,#227de6,#1f81e4,#1a8cde,#1b89e0,#1797d7,#14a1d0,#14a5cb,#149fd2,#14a8c7,#14afbd,#14b1ba,#1eb6ac,#26b8a3,#29b99f,#14acc1,#169bd5,#1894d9,#149fd3,#1892da,#1d85e2,#1f82e4,#227de6,#2774eb,#3061ee,#2872ec,#2774eb,#325fee,#2c6aee,#2c6aee,#237ae8,#1f82e3,#2970ed,#2e66ee,#335cee,#345aee,#3c48e9,#3c46e8,#3558ee,#3950ee,#3a4dec,#3950ee,#3d44e7,#3d45e7,#3e42e6,#3e40e5,#403be2)"></i><i style="top:46px;background:linear-gradient(90deg,#3754ee,#345aee,#3e3fe5,#403ae1,#3d43e7,#3a4beb,#3b4beb,#3a4cec,#3754ee,#394fee,#335cee,#3558ee,#3853ee,#3853ee,#3160ee,#1e84e3,#1796d8,#1698d7,#1796d8,#1d86e1,#1b8bdf,#14a8c7,#1bb4b0,#17b3b5,#22b7a8,#4fbd7d,#2bb99e,#14abc3,#1990db,#1a8edd,#169ad6,#14a9c6,#14a8c7,#1b8adf,#1f82e4,#1f82e3,#2773ec,#345aee,#3656ee,#3558ee,#3657ee,#345aee,#335cee,#2f63ee,#2e65ee,#2e65ee,#3851ee,#3e41e5,#3f3ce3,#3c46e8,#325fee,#3657ee,#394fed,#3c45e8,#3f3ce3,#4138e0,#4234de,#3d45e8,#3c46e8,#4232dc)"></i><i style="top:47px;background:linear-gradient(90deg,#3754ee,#3c48e9,#4039e1,#3f3ee4,#3a4eed,#335cee,#2c69ee,#2675ea,#2577e9,#2773ec,#227be7,#1a8cde,#1894d9,#1892da,#227ce7,#2e67ee,#2576ea,#1892da,#14a3ce,#14b1ba,#2bb99d,#1db5ae,#18b3b4,#1bb5b0,#3abb90,#4cbd80,#1db5ae,#1bb5b0,#14adc0,#16b3b7,#28b9a0,#30ba99,#17b3b5,#1990dc,#1c87e1,#1e83e3,#1f82e3,#2774eb,#237ae8,#2478e9,#3063ee,#3656ee,#3061ee,#2f63ee,#3753ee,#335cee,#3950ee,#403be2,#3d45e8,#3853ee,#3b49ea,#3f3de3,#3f3ce3,#3e42e6,#3c48e9,#3558ee,#3950ee,#3f3ee4,#3c48e9,#3e42e6)"></i><i style="top:48px;background:linear-gradient(90deg,#3160ee,#2f64ee,#325eee,#3062ee,#2b6cee,#2d68ee,#2f65ee,#2676ea,#1e84e2,#2d67ee,#2871ec,#1a8edd,#2080e4,#1b8bde,#14a4cc,#14aebf,#15b2b8,#14a8c7,#14a7c8,#18b3b4,#1eb5ad,#18b3b4,#20b6aa,#26b8a3,#51be7c,#60be71,#3ebb8c,#4ebd7e,#30ba99,#23b7a6,#38bb91,#44bc87,#23b7a7,#14aebe,#159ed3,#1b8bdf,#1893da,#14a1d1,#1797d8,#1892da,#159cd5,#159cd4,#169ad6,#1796d8,#1d85e2,#2774eb,#2d67ee,#2c69ee,#2675ea,#2c6aee,#3160ee,#325eee,#335cee,#315fee,#345aee,#3061ee,#3063ee,#3f3ee4,#3f3ce3,#3a4eed)"></i><i style="top:49px;background:linear-gradient(90deg,#2b6bee,#2f63ee,#3755ee,#3b49ea,#3e42e6,#3e3fe4,#3655ee,#3852ee,#3a4dec,#3c46e8,#3b49ea,#3753ee,#2e65ee,#2a6eee,#1f82e4,#14a8c7,#14abc3,#149fd3,#17b3b5,#16b3b7,#14a6ca,#14acc1,#1eb5ad,#33ba96,#57be77,#66bf6e,#36bb93,#3bbb8f,#30ba99,#39bb91,#19b4b3,#14a9c5,#14a4cc,#1892da,#2479e8,#2872ec,#1d85e2,#227ce7,#237ae8,#1a8cde,#217fe5,#2970ed,#2c69ee,#335bee,#3459ee,#335dee,#3b4beb,#3f3ee4,#3c47e9,#3558ee,#3558ee,#3558ee,#3d44e7,#3d43e7,#3a4cec,#3c48e9,#3a4ceb,#3d45e8,#3d43e6,#3951ee)"></i><i style="top:50px;background:linear-gradient(90deg,#3a4eed,#3d43e6,#394fed,#3b49ea,#3a4eed,#3c47e9,#3e41e5,#4234de,#3d43e6,#3c47e9,#4235df,#4234de,#3062ee,#1699d6,#169bd5,#149fd3,#14a9c5,#14b0bc,#14a7c8,#1795d8,#1893da,#1796d8,#14a0d2,#18b3b4,#23b7a6,#1bb5b0,#19b4b2,#16b3b7,#15b3b7,#35ba94,#1bb5b0,#14a8c7,#14a3cf,#14a2d0,#1d84e2,#227de6,#227be7,#2d68ee,#3657ee,#335bee,#3160ee,#345aee,#3852ee,#3b48ea,#3a4cec,#394fed,#4235de,#3d43e6,#3657ee,#3062ee,#325fee,#325dee,#325fee,#3c47e9,#4138e0,#3d44e7,#3d44e7,#4234dd,#432bd0,#432bd0)"></i><i style="top:51px;background:linear-gradient(90deg,#3c47e9,#3d43e7,#403be2,#3f3ee4,#3d42e6,#3d44e7,#3c47e9,#3e41e5,#4231da,#4136df,#3d45e8,#394fee,#2f64ee,#1f82e3,#169bd5,#16b3b7,#14afbd,#1895d9,#1c88e0,#2080e5,#1e83e3,#169bd5,#17b3b5,#3cbb8e,#78bf62,#68bf6c,#4fbd7e,#4bbd81,#18b3b4,#14afbd,#17b3b5,#159bd5,#1c88e1,#1b8bdf,#2081e4,#237ae8,#2577e9,#2d67ee,#3061ee,#345aee,#3851ee,#3d43e7,#3c47e9,#2f63ee,#2773ec,#345aee,#3c46e9,#3950ee,#3a4eed,#345aee,#2e66ee,#3557ee,#3754ee,#3852ee,#3b48ea,#3d43e6,#403ae1,#4232db,#4232db,#432cd1)"></i><i style="top:52px;background:linear-gradient(90deg,#3b48ea,#3950ee,#3d45e8,#3e40e5,#3e41e5,#3d44e7,#403be2,#4233dd,#4231da,#432ed4,#3f3ee4,#2f63ee,#2970ed,#2872ec,#217fe5,#1b89e0,#1c88e0,#1c88e0,#1c88e0,#169bd5,#14aebe,#25b8a4,#49bd83,#54be79,#75bf64,#58be76,#28b9a0,#32ba97,#38bb92,#14abc3,#159ed3,#14a3ce,#1892da,#1a8edd,#1796d8,#2080e5,#2970ed,#2c6aee,#3558ee,#2b6bee,#2578e9,#2872ec,#345aee,#2d68ee,#2675ea,#2d67ee,#3b4beb,#3e42e6,#2f63ee,#2e65ee,#3062ee,#335cee,#3950ee,#3c47e9,#3b49ea,#3c47e9,#403ae1,#3f3ce3,#4136df,#432fd6)"></i><i style="top:53px;background:linear-gradient(90deg,#3062ee,#325eee,#345aee,#3851ee,#3853ee,#3c47e9,#3754ee,#3754ee,#3c48e9,#3c47e9,#394fed,#325eee,#2e66ee,#2d69ee,#2080e4,#1991db,#1a8cde,#169ad6,#14a1d0,#14acc2,#14afbd,#14acc1,#14b0bb,#36bb94,#46bc85,#29b99f,#28b9a0,#25b8a4,#14a9c5,#14a3ce,#14abc3,#14a0d2,#1d85e2,#2478e9,#217fe5,#1f81e4,#237be7,#2774eb,#2774eb,#1f82e4,#217ee6,#2c69ee,#3558ee,#3851ee,#3062ee,#2a6eee,#335cee,#3e42e6,#3e40e5,#4235df,#4233dc,#4137e0,#3e40e5,#3c46e9,#3851ee,#3e41e5,#4231d9,#4330d8,#4429cd,#432cd1)"></i><i style="top:54px;background:linear-gradient(90deg,#3160ee,#2576ea,#2c6aee,#3063ee,#325eee,#345aee,#2f64ee,#3951ee,#3c48e9,#325dee,#325eee,#3061ee,#2c6bee,#2577e9,#2080e4,#1d85e2,#227de6,#2c6aee,#2a6eee,#1f82e3,#1b89e0,#159bd5,#14b1ba,#37bb93,#33ba96,#14b1bb,#15b2b8,#19b4b3,#14a3ce,#1992da,#198fdc,#2676ea,#2871ec,#2970ed,#207fe5,#1894d9,#1d85e2,#2a6dee,#2774eb,#2578e9,#2871ec,#2d68ee,#345bee,#2f65ee,#207fe5,#2872ec,#3459ee,#3b49ea,#403ae1,#3c46e9,#3b4aeb,#3a4dec,#3d44e7,#3d44e7,#3d44e7,#3d45e8,#3d44e7,#4138e0,#4233dc,#4137e0)"></i><i style="top:55px;background:linear-gradient(90deg,#2c69ee,#2a6dee,#335bee,#3852ee,#3950ee,#3950ee,#3a4cec,#3e42e6,#3c46e8,#3f3de3,#3b49ea,#3852ee,#325eee,#2872ec,#217ee5,#1f81e4,#2577e9,#217ee6,#169ad6,#14a6ca,#14a5cb,#149ed3,#14a9c6,#24b7a5,#3dbb8d,#35ba95,#38bb91,#48bd84,#2ab99e,#14b0bb,#14a9c5,#14a0d2,#1a8dde,#237be7,#1f81e4,#217ee6,#227ce7,#217ee5,#2a6eee,#3063ee,#3160ee,#2f63ee,#2c6aee,#3062ee,#3063ee,#3459ee,#3a4beb,#3e3fe4,#3f3ce3,#325eee,#3062ee,#3a4cec,#403be2,#432ed5,#403be2,#3f3ee4,#3e40e5,#3d44e7,#3c47e9,#4138e0)"></i><i style="top:56px;background:linear-gradient(90deg,#3f3fe4,#3459ee,#345aee,#3a4cec,#3754ee,#3852ee,#394fee,#3a4ceb,#3755ee,#325eee,#2e65ee,#2f64ee,#3559ee,#2872ec,#2676ea,#2d68ee,#1f81e4,#1991db,#1c86e1,#1c87e1,#1d86e2,#1a8cde,#14a7c9,#18b4b4,#49bd83,#54be78,#53be7a,#73bf66,#37bb92,#29b99f,#3dbb8d,#28b9a0,#18b4b3,#149ed3,#217fe5,#1e84e3,#198fdc,#1b89e0,#2e67ee,#3950ee,#3557ee,#325eee,#3657ee,#3d44e7,#4136df,#3d45e8,#3656ee,#3a4eed,#3b4beb,#3754ee,#3459ee,#3d42e6,#4137e0,#3e3fe4,#4137e0,#4232db,#432dd3,#4234dd,#3f3de3,#3d42e6)"></i><i style="top:57px;background:linear-gradient(90deg,#4234de,#432ed4,#432bcf,#4235df,#3c47e9,#3b4aea,#394fee,#3f3ce3,#4235de,#3b49ea,#3a4cec,#394fed,#3655ee,#2577e9,#1795d8,#1b89e0,#1e84e3,#1a8dde,#1d85e2,#1699d6,#14a5cb,#149fd3,#14b2ba,#1cb5af,#4bbd81,#7cbf60,#3bbb8f,#22b7a7,#14b1bb,#14afbd,#14abc3,#14a8c7,#14a6c9,#169ad6,#1a8fdc,#1a8cde,#217ee6,#2c6bee,#2d69ee,#2872ec,#2675ea,#2871ec,#2a6eee,#325eee,#3852ee,#2e66ee,#3655ee,#4236df,#403ae1,#3b48ea,#3853ee,#4234de,#432dd2,#3f3de3,#3c45e8,#3f3ce3,#4234de,#4137df,#4235de,#403be2)"></i><i style="top:58px;background:linear-gradient(90deg,#3656ee,#3b4aeb,#3a4cec,#3c48e9,#3d43e7,#3d43e7,#3c47e9,#3d44e7,#3e40e5,#3d45e7,#3d44e7,#3f3ee4,#394fed,#296fed,#1c87e1,#149fd3,#14a0d2,#1796d8,#1892da,#1895d9,#14a6ca,#14a9c6,#14b1bb,#26b8a2,#3bbb8f,#48bd84,#3fbc8c,#34ba96,#14b1ba,#14a9c6,#1db5ad,#35ba94,#14b0bc,#1a8dde,#2a6fee,#2c6aee,#2d67ee,#3655ee,#3b49ea,#3557ee,#2c6aee,#2c69ee,#2e66ee,#2676ea,#2971ed,#3063ee,#3d44e7,#432ed5,#4138e1,#3b48ea,#3853ee,#3a4eed,#3853ee,#3657ee,#3b49ea,#3d44e7,#3d43e6,#3a4eed,#3e40e5,#4233dd)"></i><i style="top:59px;background:linear-gradient(90deg,#3951ee,#3c48ea,#3c48e9,#3c47e9,#3c46e8,#3c48e9,#3d44e7,#3b4beb,#3b4beb,#3c47e9,#345aee,#3062ee,#2971ed,#217ee6,#1f82e4,#1795d8,#169bd5,#217ee5,#217fe5,#1990dc,#1894d9,#159cd4,#17b3b6,#30ba99,#56be78,#85bf5a,#75bf64,#58be76,#1fb6ab,#14b0bc,#14a9c5,#14afbd,#14b0bc,#1990dc,#247ae8,#2b6cee,#2a6dee,#2479e8,#2478e9,#2577ea,#2675ea,#335cee,#3852ee,#3161ee,#2f65ee,#335cee,#3c46e9,#403be2,#3c46e8,#3459ee,#3c46e8,#4231d9,#3e40e5,#3d45e8,#4235df,#4234de,#403ce2,#4137e0,#3e41e6,#3f3ee4)"></i><i style="top:60px;background:linear-gradient(90deg,#4234de,#4330d8,#3d42e6,#3754ee,#3d45e8,#3e40e5,#3754ee,#3a4eed,#3a4eed,#3c48e9,#394fed,#2e67ee,#2479e8,#1a8edd,#1699d6,#159bd5,#1796d8,#1a8ddd,#1990dc,#14a7c8,#14a3cd,#1797d7,#14aac4,#24b8a5,#51be7c,#52be7b,#3bbb8f,#2dba9c,#14b2b9,#14a5ca,#14a2cf,#169ad6,#1990dc,#217ee5,#2970ed,#2c69ee,#217ee6,#237ae8,#237ae8,#1d86e2,#217ee6,#2c69ee,#3558ee,#3655ee,#3a4dec,#3459ee,#3950ee,#3c45e8,#3d44e7,#3e41e5,#3d43e7,#3a4beb,#3c47e9,#3f3ee4,#4039e1,#4137e0,#4330d8,#432ed5,#4233dd,#4330d8)"></i><i style="top:61px;background:linear-gradient(90deg,#3c48e9,#3e40e5,#403ae2,#3b49ea,#3e40e5,#403be2,#3b4aeb,#403ae1,#3f3ee4,#3a4eed,#3951ee,#3559ee,#296fed,#217ee6,#1a8ddd,#1e83e3,#1c87e1,#14a1d1,#159dd4,#14a9c6,#2fba99,#2fba9a,#14b2b9,#1eb6ac,#39bb91,#27b9a1,#3bbb8f,#3dbb8d,#1eb6ac,#1cb5af,#14adc0,#14a4cd,#1699d6,#1798d7,#1a8edd,#227de6,#296fed,#2f63ee,#2b6dee,#227ce7,#1e83e3,#227ce7,#2b6cee,#3062ee,#2f64ee,#2e66ee,#345bee,#3951ee,#3b4aeb,#3d43e6,#4234de,#4137e0,#3b4beb,#3951ee,#3a4dec,#3c47e9,#3f3de3,#4330d8,#3d45e8,#3950ee)"></i><i style="top:62px;background:linear-gradient(90deg,#3a4dec,#3f3ee4,#4138e0,#3d43e7,#3a4cec,#3c48e9,#3c45e8,#3b48ea,#3b49ea,#394fed,#3851ee,#2e67ee,#1d85e2,#1a8ddd,#1d85e2,#1991db,#1a8edd,#159cd5,#1892da,#198fdc,#1795d9,#169bd5,#14a9c5,#23b7a7,#2fba99,#24b8a5,#50bd7c,#5bbe74,#27b9a2,#14aebf,#14abc2,#14a0d2,#207fe5,#207fe5,#1f82e4,#1b8bde,#1b8bdf,#1f82e3,#1e84e2,#2773eb,#2774eb,#2f64ee,#325fee,#3754ee,#3950ee,#3d44e7,#403be2,#3d44e7,#3b4beb,#3951ee,#3459ee,#3b4beb,#3f3ee4,#3d43e6,#3655ee,#3950ee,#3d43e6,#403be2,#4234de,#4231da)"></i><i style="top:63px;background:linear-gradient(90deg,#3a4eed,#325fee,#345aee,#3753ee,#3e42e6,#4138e1,#3e3fe4,#3f3de3,#4137e0,#4137e0,#3b4beb,#3755ee,#394fed,#2e66ee,#2479e8,#1a8edd,#1796d8,#1892da,#1a8ddd,#159dd4,#22b7a7,#3abb90,#17b3b5,#18b3b4,#24b8a5,#24b7a5,#46bc86,#3cbb8e,#14abc2,#14a6ca,#27b9a2,#14adc0,#1797d7,#1797d7,#149fd3,#14a5cb,#1c87e1,#1f82e4,#1b8bde,#2773eb,#2a6eee,#2577e9,#237ae8,#2577e9,#2478e9,#2872ec,#3b49ea,#3d42e6,#3b49ea,#3852ee,#3160ee,#3161ee,#3754ee,#3a4cec,#3d43e6,#3f3de3,#4137df,#4231da,#4234de,#4330d7)"></i><i style="top:64px;background:linear-gradient(90deg,#3b49ea,#325fee,#2e66ee,#3657ee,#3b4beb,#3d43e7,#4136df,#3f3ce3,#4136df,#432fd7,#3e3fe5,#3a4eed,#3950ee,#2e66ee,#2773ec,#2479e8,#1b8bde,#1a8edd,#1c86e1,#14a2cf,#19b4b2,#27b9a2,#39bb91,#42bc89,#5abe75,#3cbb8e,#25b8a3,#22b7a7,#14aebf,#14a4cc,#14b0bc,#14a5ca,#1d85e2,#1f81e4,#1a8edd,#1c87e1,#1c87e1,#1f83e3,#2d69ee,#3755ee,#2f64ee,#2b6bee,#3160ee,#2d68ee,#2872ec,#2d69ee,#3e42e6,#403ae1,#3b4aeb,#3a4cec,#403be2,#3a4cec,#3754ee,#4235de,#4233dd,#3c46e9,#3d42e6,#432ed5,#4231da,#4138e0)"></i><i style="top:65px;background:linear-gradient(90deg,#3f3fe4,#3851ee,#3d43e6,#4231d9,#3e3fe4,#3c46e8,#3c46e8,#3f3ee4,#3e3fe4,#3a4dec,#3a4dec,#3f3de3,#3d43e6,#335cee,#2774eb,#237be7,#1798d7,#14a9c6,#14a5cb,#149fd2,#14a5cb,#15b2b8,#1bb4b0,#14b2b9,#14adc0,#14afbd,#16b3b6,#17b3b5,#14aac4,#14a6ca,#14adc0,#1c88e0,#2b6dee,#2a6eee,#1f82e4,#1c87e1,#2676ea,#2871ec,#2478e9,#207fe5,#237ae8,#2a6eee,#315fee,#3950ee,#3d44e7,#3b4beb,#3e41e5,#4233dd,#3a4eed,#3753ee,#3b49ea,#3d42e6,#3b49ea,#3c48e9,#4231d9,#4233dc,#4137e0,#432dd2,#4426c8,#4426c8)"></i><i style="top:66px;background:linear-gradient(90deg,#3e42e6,#3b48ea,#4233dc,#4231da,#432ed4,#4231d9,#4233dd,#4137e0,#3657ee,#325eee,#3951ee,#3a4dec,#3062ee,#2773eb,#159dd4,#14a3ce,#14a0d2,#1991db,#14abc3,#1cb5af,#14a3ce,#149fd2,#14aac5,#14afbc,#1bb4b0,#5fbe72,#6dbf69,#22b7a7,#14a7c8,#14a2cf,#14a7c8,#14a3ce,#1990dc,#1a8edd,#2081e4,#237ae8,#1f82e3,#1f81e4,#237ae8,#1b89e0,#1b89e0,#217ee6,#1e84e3,#227ce7,#2c6aee,#2e65ee,#2d67ee,#3559ee,#3a4dec,#3853ee,#3558ee,#3753ee,#3851ee,#3656ee,#3951ee,#4039e1,#403ae1,#4235df,#432fd7,#4231da)"></i><i style="top:67px;background:linear-gradient(90deg,#3c46e8,#394fee,#3f3ee4,#4233dc,#3f3de3,#3e40e5,#3d43e7,#335cee,#296fed,#3459ee,#3459ee,#2d68ee,#2d69ee,#2970ed,#1d85e2,#1b8adf,#2080e4,#237ae8,#217ee6,#1b8bdf,#207fe5,#1c88e0,#14a9c5,#14afbd,#1bb4b1,#36bb93,#48bd84,#2dba9c,#1cb5b0,#14adc0,#14a5cb,#14a6ca,#1796d8,#207fe5,#2970ed,#2b6cee,#2a6eee,#335cee,#3459ee,#335bee,#325fee,#325dee,#3063ee,#2e66ee,#2e65ee,#2f63ee,#2f63ee,#3852ee,#3b4aeb,#394fee,#3e40e5,#4233dc,#3f3ce3,#3d43e7,#3c46e8,#3d45e8,#3e42e6,#4233dc,#403be2,#4137e0)"></i><i style="top:68px;background:linear-gradient(90deg,#3f3ee4,#4136df,#3f3ce3,#3d43e6,#3950ee,#335dee,#3657ee,#3b48ea,#3d45e7,#3e40e5,#4039e1,#3e3fe4,#3a4cec,#3062ee,#2774eb,#237be7,#1b8bde,#1f81e4,#2b6bee,#2774eb,#217fe5,#2675eb,#1d86e2,#14a9c6,#14adbf,#18b3b4,#33ba96,#3ebb8c,#1db5ae,#14aac4,#14aebf,#14a3ce,#1d85e2,#2479e8,#217ee6,#2577e9,#2e65ee,#3558ee,#2773eb,#1f82e3,#2e66ee,#3a4ceb,#3950ee,#2e66ee,#3063ee,#3c48ea,#403ce2,#3d45e8,#3a4dec,#3753ee,#3950ee,#3c47e9,#394fed,#3852ee,#3a4eed,#3a4eed,#3c47e9,#3f3ce3,#4137e0,#4330d7)"></i><i style="top:69px;background:linear-gradient(90deg,#4233dd,#4136df,#4232da,#3f3fe4,#3a4cec,#3755ee,#3755ee,#3852ee,#3d43e7,#3c46e8,#3a4eed,#3e3fe4,#3852ee,#2a6fee,#2479e8,#227de6,#1892da,#1796d8,#217fe5,#1c87e1,#14b2b9,#31ba98,#1eb6ac,#17b3b6,#14b0bb,#19b4b3,#1cb5af,#1db5ae,#14a4cd,#1698d7,#14a1d1,#14a3cd,#14a9c6,#14a8c7,#1b8bde,#2676ea,#2479e8,#227de6,#217ee6,#2d67ee,#3950ee,#394fee,#3a4cec,#345aee,#335dee,#3c48e9,#403ce2,#3c46e8,#3a4eed,#3c47e9,#3e40e5,#3d42e6,#3a4ceb,#3754ee,#3e41e5,#3f3fe4,#3b4aeb,#3d44e7,#3c46e8,#3c45e8)"></i><i style="top:70px;background:linear-gradient(90deg,#4233dd,#4233dd,#4138e1,#4233dd,#4231d9,#3d43e7,#3950ee,#3b49ea,#3a4cec,#3a4cec,#3559ee,#3a4dec,#394fed,#3063ee,#2c6aee,#2a6eee,#1f82e4,#1c87e1,#1e83e3,#1b8bdf,#169bd5,#15b2b8,#27b8a2,#4bbd81,#5cbe74,#3fbc8c,#31ba98,#14afbd,#169bd5,#14a9c5,#14aebf,#1b8adf,#1f81e4,#1f82e4,#2871ed,#2b6dee,#2b6cee,#2d67ee,#3160ee,#325eee,#3754ee,#3b4beb,#394fed,#3558ee,#335cee,#325eee,#3a4eed,#3753ee,#3a4ceb,#4138e0,#4231d9,#432ed5,#4234dd,#3e41e6,#3f3de3,#4136df,#4235df,#4234de,#3c47e9,#3d42e6)"></i><i style="top:71px;background:linear-gradient(90deg,#3d43e6,#3558ee,#3061ee,#3754ee,#3c46e8,#3e42e6,#3b49ea,#3a4dec,#3b4aeb,#3f3de3,#3d44e7,#3b49ea,#3951ee,#2c6aee,#1b8bdf,#1b8bdf,#1e83e3,#1b89e0,#1b8bdf,#1b89e0,#1f81e4,#1b8adf,#16b3b6,#55be78,#42bc88,#22b7a7,#19b4b3,#29b99f,#22b7a7,#14adc0,#14a9c5,#1b8adf,#1d84e2,#1990db,#2b6cee,#3951ee,#3062ee,#2d68ee,#3061ee,#3063ee,#315fee,#2e65ee,#2774eb,#2a6fee,#335cee,#345aee,#3a4eed,#3d44e7,#3c47e9,#3c48e9,#3d45e8,#3c47e9,#3f3ee4,#403be2,#403be2,#4137e0,#4233dc,#3e42e6,#3a4eed,#3b48ea)"></i><i style="top:72px;background:linear-gradient(90deg,#3a4eed,#3f3ee4,#3f3ee4,#3f3de3,#4137df,#4234de,#4233dd,#3f3ce3,#3b4aea,#3d45e8,#3d43e7,#3459ee,#2080e5,#1893da,#1991db,#14a2cf,#1990dc,#2c6bee,#237ae8,#1796d8,#14a2cf,#14a0d1,#14a9c5,#37bb92,#69bf6c,#81bf5d,#3dbb8e,#30ba99,#14afbc,#14adc0,#1eb6ac,#16b3b7,#169bd5,#2080e4,#2774eb,#2773ec,#2774eb,#1c86e1,#1f81e4,#217de6,#217ee6,#296fed,#2577e9,#237be7,#217ee5,#296fed,#3a4cec,#3d45e8,#3a4ded,#3754ee,#3a4dec,#3c48e9,#3f3de3,#4235df,#4232db,#432fd7,#4138e0,#4233dd,#4233dc,#4233dd)"></i><i style="top:73px;background:linear-gradient(90deg,#4234dd,#403ae2,#3e41e5,#403be2,#4136df,#403be2,#3d43e7,#394fed,#3a4dec,#3d45e8,#3e42e6,#394fee,#2576ea,#1e84e3,#227de6,#2773eb,#227ce7,#217ee6,#2676ea,#217fe5,#1699d6,#19b4b2,#39bb91,#74bf65,#8fc054,#5abe75,#2fba9a,#28b9a0,#14a9c5,#14a4cc,#159dd4,#1a8edd,#14a2cf,#14a6c9,#1990dc,#2a6eee,#2c6bee,#2675ea,#2773eb,#217de6,#2a6dee,#3161ee,#2578e9,#1796d8,#1a8ddd,#2872ec,#3a4eed,#4138e0,#3a4eed,#3a4eed,#3c48e9,#3d43e7,#4234de,#4232dc,#432ace,#432ace,#403be2,#4139e1,#403be2,#3f3ce3)"></i><i style="top:74px;background:linear-gradient(90deg,#3852ee,#3b4beb,#403ae1,#4231d9,#3d45e8,#3a4cec,#3e40e5,#3f3fe4,#3c47e9,#3d43e7,#4136df,#4039e1,#3656ee,#2674eb,#1b8adf,#1797d7,#14a1d0,#1797d7,#1d86e2,#1797d7,#149fd3,#14afbd,#26b8a2,#1eb6ac,#18b3b4,#38bb92,#46bc86,#4fbd7d,#36bb94,#14acc1,#159ed3,#14a0d2,#14a0d2,#198fdc,#1d86e2,#2577e9,#3062ee,#2d69ee,#2a6dee,#2b6bee,#2b6dee,#325dee,#3559ee,#335cee,#3061ee,#325eee,#3c48e9,#4137e0,#4136df,#403be2,#3e42e6,#3c48e9,#4136df,#432ed5,#4429cc,#4426c8,#432bcf,#4233dd,#4231d9,#432cd2)"></i><i style="top:75px;background:linear-gradient(90deg,#3c47e9,#3e41e5,#403be2,#3f3ee3,#3e41e6,#403ce2,#4039e1,#403ae1,#3b49ea,#2d69ee,#3558ee,#3c48ea,#3a4cec,#2b6dee,#2d69ee,#2c6aee,#2578e9,#2b6cee,#1a8cde,#14aebf,#15b2b8,#14b2b9,#26b8a2,#22b7a7,#27b9a1,#59be76,#68bf6c,#29b99f,#14aac5,#14aac5,#1db5ae,#20b6aa,#14a7c9,#159dd4,#1892da,#2c69ee,#345bee,#3061ee,#325eee,#2f63ee,#2872ec,#325fee,#3755ee,#345bee,#315fee,#2c6bee,#3852ee,#3b4aeb,#3a4dec,#3e41e5,#3c45e8,#3f3ee4,#4233dc,#403ae1,#3f3de3,#4137e0,#4234de,#4231d9,#432dd3,#4330d7)"></i><i style="top:76px;background:linear-gradient(90deg,#2f64ee,#3b4beb,#3950ee,#335cee,#3851ee,#3e3fe5,#403be2,#3f3de3,#3f3ee3,#3d43e7,#3657ee,#2e66ee,#2d68ee,#2774eb,#1e84e3,#14a1d1,#14a3ce,#1893da,#149fd3,#14a6c9,#14afbe,#1ab4b2,#18b4b3,#28b9a0,#42bc89,#41bc89,#36bb94,#2cb99c,#17b3b5,#14b0bc,#25b8a4,#19b4b3,#1a8fdc,#2478e9,#237be7,#2871ec,#2f65ee,#2774eb,#2970ed,#296fed,#2d68ee,#2f64ee,#2a6eee,#2970ed,#296fed,#2b6dee,#3657ee,#3f3de3,#432fd7,#4233dc,#3d43e6,#3e41e5,#403ce2,#3e40e5,#3c47e9,#3c46e8,#3d43e6,#3d43e6,#3c47e9,#4136df)"></i><i style="top:77px;background:linear-gradient(90deg,#3558ee,#3a4dec,#3e42e6,#403ce2,#3d44e7,#3d45e7,#3c46e8,#3f3de3,#403ae1,#3a4dec,#315fee,#2e65ee,#2f64ee,#3459ee,#2a6eee,#1698d7,#14a8c6,#14acc1,#14a5cc,#14a5cb,#14b1bb,#1fb6ab,#1eb6ac,#3ebb8c,#7abf61,#78bf63,#4abd82,#2bb99e,#14acc2,#14a0d2,#14a6c9,#1796d8,#1d85e2,#1b8bde,#1798d7,#1c88e1,#2e66ee,#3062ee,#2774eb,#1c87e1,#207fe5,#2577e9,#2675ea,#2c6bee,#2773eb,#2774eb,#3655ee,#3d43e7,#3a4cec,#3852ee,#3b49ea,#3d43e7,#4233dc,#432fd7,#4136df,#3e41e5,#403ae1,#403ae1,#3c47e9,#3a4dec)"></i><i style="top:78px;background:linear-gradient(90deg,#3755ee,#315fee,#2d69ee,#3753ee,#3951ee,#3557ee,#3656ee,#3b4beb,#3a4ceb,#3753ee,#3a4dec,#3b4aea,#345aee,#2774eb,#227ce7,#217fe5,#1d85e2,#1b8cde,#1990dc,#169ad6,#169ad6,#1699d6,#14a6c9,#25b8a4,#60be71,#4abd82,#38bb92,#20b6a9,#14a3ce,#14a9c5,#15b2b8,#14a9c5,#1796d8,#1991db,#1796d8,#1a8dde,#1e84e2,#207fe5,#2479e8,#2674eb,#2e66ee,#2d69ee,#2a6dee,#2b6bee,#2f64ee,#3950ee,#3e42e6,#3c47e9,#394fee,#3c47e9,#4235df,#4330d7,#432fd6,#4232da,#403be2,#4233dd,#4427c9,#432acf,#432ed5,#4429cd)"></i><i style="top:79px;background:linear-gradient(90deg,#3c47e9,#3e41e6,#3a4cec,#3753ee,#3a4beb,#3c48e9,#3851ee,#3b49ea,#3f3ee4,#3754ee,#325dee,#3a4eed,#3656ee,#2773ec,#2675ea,#2080e5,#14a2cf,#14aac4,#14a1d1,#14a2d0,#159cd5,#1a8dde,#159dd4,#1eb6ac,#45bc87,#26b8a2,#24b8a5,#51be7c,#2bb99d,#14b1bb,#1ab4b2,#1cb5af,#14b2b9,#1797d7,#2674eb,#2971ed,#2774eb,#2478e9,#2a6eee,#2b6cee,#2c6bee,#2f64ee,#3558ee,#3950ee,#394fed,#3656ee,#3851ee,#3a4eed,#3e41e6,#3e42e6,#3655ee,#3b4aea,#403be2,#3f3ee4,#4232db,#432cd2,#432fd6,#4235de,#4136df,#432ace)"></i><i style="top:80px;background:linear-gradient(90deg,#3b4beb,#3753ee,#3755ee,#3d44e7,#3e3fe4,#4235df,#3f3de3,#3852ee,#4235df,#432fd6,#4136df,#3b49ea,#2e66ee,#2478e9,#1b89e0,#1b8bde,#1d86e2,#1e83e3,#1f81e4,#1796d8,#18b3b4,#2cb99c,#22b7a8,#39bb91,#5ebe73,#4dbd7f,#44bc87,#3bbb8f,#1ab4b2,#14a3cd,#14aac4,#14aebe,#14a3ce,#1699d6,#1893da,#1b89e0,#2578e9,#237be7,#2d68ee,#3754ee,#3558ee,#2c6bee,#237be7,#2676ea,#2c6aee,#2e66ee,#3a4cec,#3f3ce3,#4137e0,#403ae1,#3d44e7,#3e40e5,#4235df,#4136df,#4233dc,#403ae2,#403be2,#432dd3,#432ed4,#4429cc)"></i><i style="top:81px;background:linear-gradient(90deg,#3d44e7,#3d43e7,#3a4eed,#3b49ea,#3852ee,#3d44e7,#4234de,#3b4beb,#3754ee,#3a4dec,#3950ee,#3655ee,#2675ea,#1c86e1,#217fe5,#2478e9,#2080e4,#1991db,#1f81e4,#207fe5,#14a0d2,#1cb5b0,#22b7a8,#38bb92,#7cbf60,#4fbd7d,#44bc87,#46bc85,#1cb5af,#14adc0,#19b4b3,#19b4b3,#14aac4,#1796d8,#1c87e1,#247ae8,#2576ea,#2970ed,#2d67ee,#2d68ee,#2c6aee,#2d69ee,#2e67ee,#3160ee,#3656ee,#3559ee,#345aee,#345bee,#3558ee,#3a4eed,#3a4cec,#394fed,#3d43e6,#4234dd,#4234de,#3b49ea,#3161ee,#3d45e7,#432ed4,#4428cb)"></i><i style="top:82px;background:linear-gradient(90deg,#3b4aeb,#4233dc,#4330d8,#4233dc,#3d42e6,#3a4cec,#394fed,#3b4beb,#3a4cec,#3a4cec,#3459ee,#325eee,#2b6cee,#1e84e3,#2675ea,#2773ec,#1a8edd,#1699d6,#1a8edd,#1990dc,#169bd5,#21b7a8,#6bbf6a,#44bc87,#26b8a2,#27b9a1,#2fba9a,#43bc88,#2cb99d,#20b6aa,#14a7c8,#1699d6,#1798d7,#1d85e2,#1f82e4,#207fe5,#237be7,#2675ea,#2675ea,#2b6dee,#2f63ee,#335dee,#345bee,#2c69ee,#3558ee,#3557ee,#3a4eed,#3e41e5,#3951ee,#3b49ea,#3c47e9,#3a4ded,#3d44e7,#403ae1,#3c45e8,#3950ee,#403ae2,#432ed5,#403be2,#4234de)"></i><i style="top:83px;background:linear-gradient(90deg,#2e66ee,#3754ee,#3c46e8,#3b49ea,#394fed,#394fee,#3950ee,#3e40e5,#3b49ea,#3d43e7,#3f3ce3,#3559ee,#2478e9,#1f81e4,#227ce7,#217ee6,#1c88e0,#1b89e0,#1a8ddd,#14a2cf,#14acc1,#14a7c8,#14abc3,#21b6a9,#3bbb8f,#3ebb8c,#49bd82,#49bd83,#26b8a3,#16b3b6,#18b3b4,#14b2b9,#1a8fdc,#217ee6,#1991db,#1992da,#1d85e2,#2478e9,#3063ee,#2e67ee,#335cee,#3852ee,#3063ee,#237ae8,#2479e8,#2675ea,#3a4eed,#403ce2,#3754ee,#335cee,#3a4cec,#403ae1,#4234dd,#4235de,#4138e0,#4232db,#4233dc,#4231da,#4330d8,#4330d7)"></i><i style="top:84px;background:linear-gradient(90deg,#3b4beb,#3f3de3,#3f3de3,#3e40e5,#3d43e7,#403be2,#3d44e7,#3b4beb,#3d43e7,#4039e1,#3b4beb,#2e66ee,#2c6bee,#2871ec,#1f82e4,#1c88e0,#1c89e0,#1b89e0,#217ee5,#1d85e2,#1796d8,#1798d7,#169bd5,#14a9c6,#16b3b6,#22b7a8,#4bbd81,#4bbd81,#36bb94,#44bc87,#14b0bc,#1a8ddd,#2773eb,#2577e9,#1e83e3,#227ce7,#2774eb,#1f82e4,#217ee6,#2872ec,#2970ed,#3062ee,#325fee,#3557ee,#3754ee,#3459ee,#3d44e7,#4136df,#3f3de3,#4137e0,#4231d9,#3e3fe4,#3d43e6,#4137df,#432dd2,#432cd2,#4136df,#4233dc,#4232da,#4232dc)"></i><i style="top:85px;background:linear-gradient(90deg,#3950ee,#3c47e9,#3950ee,#3557ee,#325eee,#2f64ee,#3851ee,#3f3ee4,#3e41e5,#3a4eed,#3061ee,#2e65ee,#2e66ee,#217ee5,#1e84e3,#1a8edd,#1894d9,#1795d8,#1796d8,#1892da,#1796d8,#14a1d1,#14a8c7,#14a4cc,#14abc3,#1eb5ad,#3bbb8f,#54be79,#20b6aa,#18b3b4,#14abc2,#1a8edd,#1f81e4,#217ee5,#1e83e3,#2479e8,#3160ee,#3657ee,#3559ee,#3557ee,#3062ee,#2f65ee,#3b4beb,#4137e0,#3e42e6,#3557ee,#3852ee,#3d42e6,#3b4aea,#4138e0,#4233dc,#403be2,#3a4eed,#335cee,#3a4dec,#403ae1,#4234de,#4234de,#4136df,#4234de)"></i><i style="top:86px;background:linear-gradient(90deg,#325eee,#3656ee,#3b49ea,#3f3ce3,#3e41e5,#3558ee,#3559ee,#3e3fe4,#4137df,#3e42e6,#3b49ea,#394fed,#2c6aee,#1e83e3,#207fe5,#1a8fdc,#1796d8,#159dd4,#159cd4,#149fd3,#14afbd,#159ed3,#14a5cb,#1ab4b1,#2eba9b,#3cbb8e,#2eba9b,#3ebb8d,#33ba97,#1fb6ab,#18b3b5,#14a5cb,#2479e8,#2872ec,#217ee5,#1f82e3,#2479e9,#2c6bee,#2c69ee,#2f64ee,#325eee,#3160ee,#2f63ee,#325eee,#335cee,#2b6bee,#2b6cee,#3950ee,#3d45e8,#3851ee,#3557ee,#325dee,#3852ee,#3c47e9,#3c45e8,#3e3fe4,#432fd6,#432bd0,#432ed5,#3f3de3)"></i><i style="top:87px;background:linear-gradient(90deg,#3b49ea,#4137e0,#3d43e7,#3e3fe4,#4234dd,#4235de,#3b49ea,#3e42e6,#3d44e7,#3754ee,#3a4dec,#4039e1,#3b4aeb,#2f64ee,#2970ed,#1d85e2,#14aac4,#1cb5af,#14b1bb,#159dd4,#14a4cc,#14a4cd,#14a6c9,#1eb6ac,#1db5ae,#32ba97,#4dbd7f,#3ebb8d,#1fb6ac,#14abc2,#14a8c7,#14a0d2,#1b8adf,#1a8cde,#1894d9,#1d85e2,#1c87e1,#296fee,#3657ee,#325eee,#2e65ee,#2b6bee,#2b6bee,#2d68ee,#3062ee,#3b4beb,#3e40e5,#3655ee,#335cee,#3557ee,#345bee,#3655ee,#3f3ee4,#4231d9,#4330d8,#4231d9,#432bcf,#432fd6,#4232db,#432ed5)"></i><i style="top:88px;background:linear-gradient(90deg,#345aee,#3d42e6,#3d42e6,#394fed,#3851ee,#3e41e6,#4039e1,#4231da,#4137e0,#3e42e6,#3d43e7,#3d43e7,#3656ee,#2e67ee,#2675ea,#247ae8,#1a8edd,#1797d7,#1d85e2,#227de6,#1f82e4,#1f81e4,#1f82e4,#14a2cf,#1bb5b0,#1fb6ab,#17b3b6,#17b3b5,#14b1bb,#14aebe,#14afbd,#169ad6,#1c88e0,#1f82e3,#2080e5,#1e83e3,#217ee6,#2f65ee,#3160ee,#2d67ee,#2b6cee,#2d68ee,#2e66ee,#2774eb,#2a6eee,#2d67ee,#3558ee,#3a4cec,#3a4ceb,#3558ee,#335dee,#3a4ceb,#3c48e9,#394fed,#3d43e7,#4137e0,#4232db,#4235de,#4235de,#4234de)"></i><i style="top:89px;background:linear-gradient(90deg,#3e40e5,#3c46e8,#3a4cec,#3b4beb,#325dee,#3852ee,#403be2,#3e40e5,#3b49ea,#3b49ea,#3b4aea,#335bee,#2e65ee,#325dee,#315fee,#2675ea,#2577e9,#217fe5,#1a8cde,#1b8bdf,#149fd3,#14afbe,#14a9c5,#14aebe,#22b7a7,#14b2b9,#14afbd,#17b3b5,#1db5ae,#26b8a2,#20b6aa,#14abc2,#1894d9,#217ee6,#2970ed,#3062ee,#2e66ee,#2f64ee,#2c6aee,#2774eb,#2a6dee,#2f64ee,#2e66ee,#2c6aee,#2d69ee,#2e67ee,#3160ee,#3754ee,#3e3fe4,#4233dd,#3e41e6,#3c46e8,#3d43e6,#3c46e8,#3e41e5,#403ce2,#3f3ce3,#3e41e5,#3f3ee4,#394fed)"></i><i style="top:90px;background:linear-gradient(90deg,#335cee,#394fed,#3755ee,#3b4aea,#4138e0,#4233dd,#3f3ee4,#3c47e9,#3e41e6,#3c47e9,#3062ee,#3062ee,#3062ee,#2872ec,#1d85e2,#237be7,#2577e9,#2b6bee,#2a6dee,#1f82e4,#1b8bdf,#14a2d0,#14abc3,#28b9a1,#51be7b,#3bbb8f,#3dbb8d,#40bc8a,#1fb6ab,#1bb5b0,#14abc3,#159ed3,#227de6,#2871ed,#1e83e3,#1f81e4,#1895d9,#1990db,#1d85e2,#217ee6,#2970ed,#2970ed,#2a6dee,#2674eb,#335bee,#3557ee,#3753ee,#3f3ce3,#4138e0,#3d43e7,#3b49ea,#3d43e7,#3b48ea,#3c48ea,#4039e1,#432cd2,#4231da,#3d42e6,#3b4aeb,#3e40e5)"></i><i style="top:91px;background:linear-gradient(90deg,#2c6bee,#3655ee,#3a4eed,#3852ee,#3755ee,#3852ee,#3656ee,#3558ee,#3a4dec,#3f3ee4,#3c46e8,#3c47e9,#325eee,#2872ec,#2080e5,#227de6,#227be7,#1c87e1,#1699d6,#1795d8,#149fd3,#14afbe,#1db5ad,#2bb99e,#2fba9a,#25b8a4,#1eb6ac,#21b7a9,#1bb4b0,#14b1bb,#14a8c6,#14a4cc,#1894d9,#2577ea,#2080e4,#1f81e4,#2c69ee,#2c69ee,#3161ee,#2f63ee,#2c6aee,#3161ee,#3754ee,#3b49ea,#3c47e9,#394fed,#3a4cec,#3c47e9,#3d45e8,#3753ee,#2f63ee,#335cee,#394fee,#3b49ea,#4330d7,#432bd0,#3f3de3,#3e40e5,#4231da,#432fd6)"></i><i style="top:92px;background:linear-gradient(90deg,#335bee,#3a4eed,#3e41e6,#3e41e5,#3c45e8,#3c47e9,#3755ee,#345bee,#3656ee,#3c46e8,#3e42e6,#3853ee,#2a6dee,#2b6cee,#2a6dee,#2578e9,#1990dc,#14a1d0,#1797d7,#14a3cf,#14a2cf,#149fd2,#16b3b7,#23b7a7,#4cbd80,#6dbf69,#37bb92,#23b7a6,#14b0bc,#14a4cd,#14a0d2,#1a8cde,#1f81e4,#237ae8,#2b6cee,#2478e9,#2080e5,#2a6fee,#325fee,#2f65ee,#2675ea,#2e66ee,#2e65ee,#335cee,#3c47e9,#3b4beb,#3e41e5,#3e42e6,#3c45e8,#3e41e6,#3e40e5,#3a4ceb,#3f3ee4,#3e41e5,#3c45e8,#403be2,#3c46e8,#3a4eed,#3e40e5,#4232db)"></i><i style="top:93px;background:linear-gradient(90deg,#2f65ee,#3753ee,#3d45e8,#3656ee,#2a6dee,#335cee,#3a4dec,#3655ee,#3657ee,#345bee,#3161ee,#325fee,#2e66ee,#1f82e4,#1a8cde,#1a8ddd,#159dd4,#14a3ce,#14a5cb,#14a3ce,#149fd3,#169ad5,#14a9c6,#17b3b5,#35ba95,#4cbd80,#28b9a0,#26b8a2,#14adc1,#14a2d0,#1795d9,#1990dc,#1d86e2,#2b6cee,#2e67ee,#2d68ee,#2872ec,#1f81e4,#237be7,#2676ea,#237be7,#2a6dee,#2a6fee,#237ae8,#2675ea,#2b6cee,#3a4ded,#4234dd,#4330d8,#4231da,#3e3fe5,#3d43e7,#3e40e5,#3a4dec,#3851ee,#3e40e5,#403be2,#403be2,#4039e1,#403be2)"></i><i style="top:94px;background:linear-gradient(90deg,#2c6aee,#3558ee,#3a4cec,#3a4cec,#3558ee,#335dee,#3c46e8,#3f3ce3,#3f3ee4,#3754ee,#315fee,#3657ee,#3950ee,#2c6aee,#198fdc,#1a8ddd,#1a8edd,#1992db,#1990db,#1796d8,#14a2cf,#14abc3,#16b3b6,#1eb6ac,#34ba95,#45bc86,#41bc89,#41bc8a,#19b4b3,#19b4b3,#23b7a6,#14a4cc,#227de6,#2d69ee,#3656ee,#3755ee,#2c6aee,#2b6cee,#2e67ee,#296fed,#3161ee,#3558ee,#2d68ee,#2d68ee,#2d69ee,#3062ee,#3b4beb,#4231d9,#4039e1,#3c45e8,#3755ee,#3459ee,#394fed,#3b4aea,#3a4dec,#3f3de3,#4232db,#4136df,#3f3de3,#4039e1)"></i><i style="top:95px;background:linear-gradient(90deg,#2970ed,#2b6cee,#3656ee,#3754ee,#345bee,#3852ee,#3a4cec,#3c48e9,#3e42e6,#3e3fe4,#3d44e7,#3d44e7,#3950ee,#3061ee,#2d68ee,#1d85e2,#1a8cde,#1c88e0,#159ed3,#14a4cd,#14a1d1,#14a8c8,#1ab4b2,#46bc85,#72bf66,#79bf62,#42bc89,#1bb5b0,#14a8c7,#14a6ca,#16b3b7,#1798d7,#2577e9,#2773ec,#2872ec,#2d68ee,#2970ed,#2773ec,#217ee5,#1e83e3,#2871ed,#2b6dee,#2871ec,#2b6bee,#2f64ee,#335cee,#3a4dec,#3950ee,#3852ee,#3755ee,#3853ee,#4039e1,#4231d9,#3d43e7,#3f3fe4,#432cd2,#4429cd,#4138e0,#3e41e5,#4138e0)"></i><i style="top:96px;background:linear-gradient(90deg,#3160ee,#3951ee,#3a4cec,#3e40e5,#4235df,#4039e1,#3c48e9,#345aee,#3753ee,#3d42e6,#3d45e8,#3b4beb,#3851ee,#2a6eee,#217fe5,#1e83e3,#1c89e0,#169ad5,#14aac5,#14a3ce,#1895d9,#1b8adf,#19b4b3,#78bf62,#74bf65,#41bc8a,#21b6a9,#17b3b6,#14aebe,#14afbd,#14adbf,#14a6c9,#1b8bde,#2774eb,#207fe5,#2773eb,#2a6eee,#1c86e1,#2081e4,#2675ea,#2773eb,#2576ea,#2970ed,#3062ee,#3754ee,#325eee,#3a4beb,#3f3fe4,#3d44e7,#3c48e9,#3e40e5,#4136df,#3c47e9,#3558ee,#3f3de3,#4233dd,#4232db,#4232dc,#4235de,#4231da)"></i><i style="top:97px;background:linear-gradient(90deg,#3558ee,#3160ee,#3559ee,#3852ee,#3a4cec,#3a4dec,#3a4eed,#3558ee,#345aee,#3754ee,#2b6cee,#2478e9,#2577e9,#2773ec,#1f82e4,#159ed3,#14a3cd,#198fdc,#237be7,#2080e5,#1b8adf,#159dd4,#18b3b4,#30ba99,#27b9a1,#25b8a4,#28b9a1,#29b99f,#14b0bc,#14a3ce,#14a6c9,#14a7c8,#1699d6,#14a3cd,#14aebe,#1a8dde,#1d86e2,#217ee5,#3160ee,#2970ed,#2080e4,#2971ed,#296fed,#2b6bee,#3063ee,#3062ee,#3950ee,#3853ee,#3557ee,#3657ee,#3b4aea,#3b49ea,#3c48e9,#3a4beb,#3852ee,#3a4dec,#3853ee,#3b49ea,#4232db,#432ace)"></i><i style="top:98px;background:linear-gradient(90deg,#3b4aea,#3c47e9,#3558ee,#2f65ee,#3655ee,#4235df,#4231d9,#3e41e5,#3e41e5,#4234de,#3d45e8,#3950ee,#2c6aee,#1d86e1,#14a3ce,#14a1d1,#198fdc,#1894d9,#1893da,#1e83e3,#1d85e2,#14a4cd,#2eba9a,#33ba97,#3cbb8e,#5dbe73,#24b8a5,#26b8a3,#1db5ad,#14b0bc,#14a4cc,#1893da,#1a8edd,#1895d9,#1c88e0,#2479e9,#1d86e2,#1e83e3,#2970ed,#2e65ee,#3063ee,#2c69ee,#2d67ee,#3459ee,#394fee,#3d44e7,#3f3de3,#4233dd,#432fd6,#4233dd,#4137e0,#4039e1,#4137df,#3c47e9,#3c48e9,#3852ee,#3a4dec,#4139e1,#4232db,#4232db)"></i><i style="top:99px;background:linear-gradient(90deg,#335bee,#3a4ded,#3a4beb,#3c47e9,#3951ee,#296fed,#237be7,#315fee,#3e40e5,#403be2,#3c45e8,#3753ee,#3062ee,#2773eb,#1b8adf,#1c87e1,#1795d9,#159cd5,#1699d6,#14a2d0,#14a6ca,#14aac4,#17b3b5,#24b8a5,#2bb99e,#37bb92,#3bbb8f,#85bf5a,#34ba96,#14aebe,#14a5cb,#14a4cc,#14a9c5,#14b0bc,#14acc2,#1a8edd,#1795d8,#1892da,#2a6eee,#3853ee,#3062ee,#2576ea,#2773eb,#2e65ee,#3160ee,#3853ee,#3d45e8,#3f3ee4,#3d43e7,#3c48e9,#3d42e6,#3b4aeb,#3c45e8,#3d43e6,#4138e1,#4232dc,#432dd4,#4231d9,#4234de,#4136df)"></i><i style="top:100px;background:linear-gradient(90deg,#325eee,#2c6bee,#2c6bee,#2a6eee,#3063ee,#3a4eed,#335bee,#3853ee,#3e40e5,#3e40e5,#3d45e8,#3a4eed,#3559ee,#3459ee,#345aee,#2b6cee,#1e83e3,#1a8cde,#237ae8,#1a8cde,#1698d7,#159ed3,#14a8c6,#22b7a8,#3abb90,#3bbb8f,#3bbb8f,#1cb5af,#14a7c8,#14adc0,#20b6a9,#17b3b5,#14a5cc,#159bd5,#198fdc,#1e84e3,#1893da,#1b89e0,#2a6fee,#2d68ee,#2a6dee,#2676ea,#2b6dee,#296fed,#2c6aee,#3062ee,#3950ee,#3d43e7,#3d44e7,#3a4dec,#3950ee,#3655ee,#3852ee,#3754ee,#3459ee,#3e40e5,#4231d9,#3f3ce3,#3c46e8,#4138e0)"></i><i style="top:101px;background:linear-gradient(90deg,#325eee,#3852ee,#3a4cec,#2e66ee,#2c6aee,#3c45e8,#3f3ee4,#4233dd,#4232db,#4039e1,#3e40e5,#3a4ded,#2a6dee,#2871ed,#237ae8,#1e84e2,#1990db,#1a8edd,#1b8bde,#2577e9,#237be7,#1b8bdf,#149ed3,#14a8c7,#15b2b8,#3bbb90,#4dbd7f,#3ebb8d,#14acc2,#14afbd,#2ab99e,#16b3b7,#169bd5,#1e83e3,#207fe5,#207fe5,#2d68ee,#2c6aee,#227de6,#2479e8,#3063ee,#2d68ee,#237ae8,#1e84e2,#227de6,#3061ee,#3b4beb,#3d45e8,#3b48ea,#3f3de3,#3f3ee4,#3c47e9,#3a4dec,#3b4aeb,#3b4aeb,#3b4aeb,#3d42e6,#3d45e8,#3b4beb,#3a4ceb)"></i><i style="top:102px;background:linear-gradient(90deg,#2f65ee,#3063ee,#3b4aeb,#3f3ee4,#3c45e8,#3a4dec,#3656ee,#3e41e6,#4039e1,#3a4eed,#3656ee,#3a4cec,#394fed,#3950ee,#3559ee,#2773ec,#1990dc,#2080e5,#1796d8,#14abc2,#14abc2,#14a0d2,#159cd5,#14abc3,#17b3b5,#16b3b7,#31ba98,#3bbb8f,#149fd2,#1b8adf,#1893da,#1a8cde,#1b89e0,#217ee6,#2f65ee,#2e66ee,#3160ee,#2c6aee,#2676ea,#237ae8,#2b6cee,#3558ee,#3459ee,#3161ee,#2e66ee,#325eee,#3a4eed,#403ae1,#4138e0,#4137e0,#3f3ee4,#3a4dec,#3c45e8,#3e42e6,#403be2,#3f3ee3,#3e3fe4,#4231d9,#4330d8,#3f3de3)"></i><i style="top:103px;background:linear-gradient(90deg,#2675eb,#2e66ee,#335cee,#3a4ceb,#3e41e5,#3b4aea,#3a4dec,#3a4cec,#3557ee,#335bee,#3559ee,#3558ee,#335dee,#325fee,#325fee,#2d67ee,#217de6,#1c88e0,#159cd4,#14a5cb,#1991db,#1f82e4,#14a7c8,#19b4b3,#39bb91,#34ba96,#2dba9c,#2eba9b,#14b0bc,#14a4cd,#1798d7,#1c89e0,#2675eb,#2871ec,#2676ea,#2a6eee,#2a6dee,#2080e4,#237ae8,#2b6cee,#335bee,#3656ee,#3558ee,#325fee,#2d67ee,#3754ee,#3e42e6,#3559ee,#3754ee,#3b4beb,#3a4dec,#3e40e5,#4136df,#4233dc,#4234de,#4235de,#403ae1,#4235de,#4231d9,#3e42e6)"></i><i style="top:104px;background:linear-gradient(90deg,#1c87e1,#2b6cee,#3754ee,#3950ee,#3753ee,#3a4eed,#394fed,#2d68ee,#2f64ee,#394fed,#3c46e8,#345aee,#2b6cee,#2676ea,#2081e4,#1795d8,#149fd2,#1797d7,#14a0d2,#1796d8,#1892da,#159dd4,#14afbd,#3bbb8f,#5fbe72,#58be76,#46bc85,#21b7a9,#14a8c7,#14aebe,#24b8a5,#14adc0,#1a8edd,#227ce7,#2e65ee,#2d69ee,#2c6aee,#2b6dee,#3656ee,#3d43e7,#3557ee,#315fee,#345aee,#335cee,#2f64ee,#335bee,#3b4aeb,#3a4ded,#394fee,#3c46e8,#3e3fe5,#403be2,#3c46e8,#3a4cec,#3e40e5,#4138e0,#4233dc,#432fd6,#432ace,#432dd2)"></i><i style="top:105px;background:linear-gradient(90deg,#1e83e3,#2970ed,#3b4beb,#3754ee,#325eee,#3061ee,#3160ee,#3754ee,#3754ee,#3754ee,#3852ee,#3657ee,#2a6fee,#1e84e2,#1992db,#1992db,#1894d9,#14a1d0,#14aebe,#14b1bb,#14afbd,#14acc1,#14b0bc,#1bb5b0,#22b7a7,#27b9a1,#1ab4b1,#1eb6ac,#21b6a9,#26b8a3,#1db5ae,#14a2cf,#1c87e1,#1d86e2,#1d85e2,#2675ea,#2b6cee,#2676ea,#2871ec,#2a6eee,#3160ee,#3b4aeb,#3c47e9,#394fed,#2e66ee,#2d69ee,#345aee,#345aee,#3a4cec,#3f3fe4,#403ce2,#3e40e5,#3c47e9,#335bee,#315fee,#3853ee,#3d44e7,#4232db,#432acf,#432dd4)"></i><i style="top:106px;background:linear-gradient(90deg,#2080e4,#1f81e4,#2b6bee,#2f64ee,#2f64ee,#3558ee,#325fee,#3161ee,#3852ee,#4039e1,#3e3fe4,#325eee,#2d69ee,#2479e9,#14a0d2,#169bd5,#237be7,#2675ea,#1991db,#14a2cf,#14a2cf,#14a6ca,#14aac5,#17b3b6,#19b4b2,#1bb4b1,#1ab4b1,#26b8a2,#3dbb8d,#25b8a4,#24b7a5,#14acc1,#1991db,#14a6ca,#14a0d1,#2080e5,#2676ea,#2773eb,#2a6fee,#207fe5,#1e83e3,#2674eb,#325eee,#3160ee,#3061ee,#3657ee,#3853ee,#335dee,#3557ee,#3b49ea,#3754ee,#3557ee,#3d43e6,#4233dc,#4138e0,#4235df,#4136df,#4234de,#4233dd,#4233dd)"></i><i style="top:107px;background:linear-gradient(90deg,#1b8bde,#2a6dee,#3160ee,#3a4eed,#3b4aeb,#3a4eed,#3656ee,#2a6fee,#2a6eee,#3061ee,#3755ee,#3851ee,#3655ee,#2871ec,#1f82e3,#1c88e0,#1698d7,#159ed3,#14aac4,#159cd5,#14a5cc,#169bd5,#169bd5,#24b7a6,#54be79,#55be78,#28b9a0,#57be77,#77bf63,#37bb93,#17b3b5,#14adc0,#169ad6,#14a1d1,#14a3cd,#159cd4,#1a8ddd,#227ce7,#2773eb,#2b6bee,#325fee,#3852ee,#345aee,#2f64ee,#335cee,#3655ee,#3558ee,#315fee,#3a4cec,#3e3fe4,#3c48e9,#3f3de3,#3c45e8,#3a4cec,#3d45e8,#3d43e6,#3e41e6,#3f3de3,#4234de,#4138e0)"></i><i style="top:108px;background:linear-gradient(90deg,#3062ee,#335bee,#3852ee,#3b49ea,#3c47e9,#3852ee,#3161ee,#325eee,#3557ee,#325eee,#3160ee,#3062ee,#1f81e4,#1f81e4,#217fe5,#237ae8,#1b8adf,#1990db,#14a8c7,#14a8c6,#14aac3,#14aebf,#17b3b6,#28b9a0,#41bc8a,#4dbd7f,#75bf64,#99c04f,#65bf6e,#24b7a5,#18b3b4,#14b2b9,#1990db,#1c87e1,#1a8cde,#1e83e3,#2871ed,#3061ee,#2e66ee,#2a6dee,#2a6fee,#325eee,#3656ee,#2872ec,#2971ed,#3062ee,#3851ee,#3c48e9,#3c47e9,#3b49ea,#3852ee,#3951ee,#3c45e8,#4138e0,#4137e0,#4233dd,#432dd3,#432bd0,#432acf,#4233dd)"></i><i style="top:109px;background:linear-gradient(90deg,#2f65ee,#315fee,#2e67ee,#2773eb,#315fee,#3b4aeb,#3656ee,#3a4dec,#3f3de3,#3d45e7,#3655ee,#3063ee,#2a6eee,#2d68ee,#2871ed,#1992db,#1895d9,#1d86e2,#1f82e4,#14a7c8,#14a9c6,#14a2d0,#14aac5,#36bb93,#5ebe72,#3abb90,#40bc8a,#3ebb8c,#14aebe,#14a5cc,#169bd5,#217fe5,#2970ed,#2872ec,#217fe5,#1f82e3,#2773ec,#2871ec,#217ee6,#2478e9,#2871ec,#2773eb,#2479e8,#2872ec,#2b6cee,#2d68ee,#3c47e9,#4136df,#403ce2,#3b4aea,#3656ee,#2f64ee,#335cee,#3852ee,#3e41e5,#4139e1,#4138e1,#4235df,#4039e1,#4039e1)"></i><i style="top:110px;background:linear-gradient(90deg,#2c6aee,#3657ee,#3d44e7,#3657ee,#2d67ee,#2d68ee,#2e67ee,#394fed,#3459ee,#2f64ee,#3061ee,#2f64ee,#2970ed,#237ae8,#1990dc,#1798d7,#159ed3,#14adbf,#1fb6ab,#14adc0,#1893da,#1699d6,#14a4cc,#14b2b9,#3cbb8e,#41bc8a,#3dbb8d,#21b6a9,#1798d7,#1795d8,#1894d9,#1e83e3,#1b8adf,#1a8dde,#1698d7,#1e83e3,#2577ea,#1b89e0,#1b8bdf,#2773eb,#2a6eee,#315fee,#2f64ee,#2c6aee,#3063ee,#2f64ee,#3557ee,#3656ee,#3b48ea,#3e40e5,#3f3fe4,#4039e1,#4233dd,#4137e0,#3e42e6,#3d43e7,#4039e1,#3e3fe4,#3d43e6,#432ace)"></i><i style="top:111px;background:linear-gradient(90deg,#2b6dee,#2c69ee,#3754ee,#3755ee,#394fee,#3160ee,#2e66ee,#3852ee,#345bee,#2970ed,#2773ec,#296fee,#2478e9,#1797d7,#1c86e1,#217fe5,#217ee6,#2872ec,#2970ed,#1b8bdf,#14a4cc,#14aebf,#1fb6ab,#1ab4b2,#1db5ae,#1ab4b1,#19b4b3,#2ab99e,#24b7a5,#1bb5b0,#1ab4b2,#18b3b4,#14aebe,#14a8c7,#14a1d0,#1c87e1,#2774eb,#2578e9,#2a6dee,#2773ec,#2479e8,#2577e9,#2c6bee,#3063ee,#3853ee,#3c48e9,#3c46e9,#3a4dec,#3c47e9,#4039e1,#403ae1,#403be2,#4234dd,#4232da,#432ed4,#432bd0,#432fd6,#4231da,#4235df,#4235df)"></i><i style="top:112px;background:linear-gradient(90deg,#3063ee,#2f64ee,#335bee,#394fed,#325dee,#2f64ee,#2f64ee,#325eee,#3a4cec,#3c45e8,#3755ee,#335cee,#2773eb,#1797d7,#169ad6,#1795d8,#1b89e0,#227ce7,#237be7,#1798d7,#14a0d2,#169ad6,#14aebe,#42bc89,#62be70,#4ebd7e,#4fbd7e,#5bbe74,#22b7a8,#14a6c9,#14a8c7,#14b1ba,#14a5ca,#149fd2,#14a7c8,#1b8bdf,#2b6cee,#2d68ee,#2f63ee,#2d67ee,#2b6dee,#237be7,#2674eb,#315fee,#3a4cec,#3a4eed,#3656ee,#335dee,#3754ee,#3a4cec,#345aee,#3753ee,#3c46e8,#3c48e9,#3e42e6,#4235df,#3d43e7,#3d42e6,#403be2,#3f3ce3)"></i><i style="top:113px;background:linear-gradient(90deg,#2c6bee,#2d68ee,#325fee,#325dee,#227de6,#227ce6,#3851ee,#3c47e9,#3d44e7,#3755ee,#2676ea,#2a6fee,#2871ec,#227de6,#217ee6,#1991db,#14acc2,#15b2b8,#14acc1,#14b2b9,#14a4cc,#1a8ddd,#1894d9,#14a6ca,#14afbe,#1ab4b2,#25b8a4,#20b6ab,#14a8c7,#159bd5,#198fdc,#2080e4,#1f81e4,#1b8bdf,#1797d8,#1a8dde,#227be7,#2d67ee,#3755ee,#3656ee,#3753ee,#3754ee,#3753ee,#335dee,#2773eb,#3160ee,#3e40e5,#3853ee,#3d42e6,#4429cd,#432fd6,#4039e1,#3d45e8,#3a4dec,#3852ee,#3c48e9,#3c47e9,#3d43e7,#4138e0,#432fd6)"></i><i style="top:114px;background:linear-gradient(90deg,#2b6cee,#2d69ee,#2e66ee,#2479e9,#2675eb,#2f64ee,#3950ee,#3a4ded,#3557ee,#3a4eed,#3d45e8,#2e65ee,#2e66ee,#2d67ee,#2774eb,#1990dc,#159dd4,#14a4cd,#16b3b6,#14a6ca,#1699d6,#14a7c9,#14aebe,#1cb5af,#2ab99f,#27b9a2,#25b8a3,#1db5ae,#14a8c7,#14acc1,#14acc2,#1796d8,#1b89e0,#1797d8,#1992db,#2970ed,#2e66ee,#2478e9,#2675ea,#345aee,#3655ee,#3853ee,#3d43e7,#3a4dec,#3062ee,#345aee,#3852ee,#335bee,#3b4beb,#432ed5,#432ace,#4136df,#3e41e6,#4039e1,#4235df,#4137e0,#4231d9,#432cd2,#432bcf,#4231d9)"></i><i style="top:115px;background:linear-gradient(90deg,#2b6dee,#3851ee,#3852ee,#3161ee,#3b4beb,#3a4dec,#335cee,#3950ee,#3a4dec,#3a4eed,#3e42e6,#2f63ee,#1c86e1,#1b89e0,#1b8cde,#1a8edd,#1c87e1,#1c87e1,#1796d8,#14aac3,#14a2cf,#169ad6,#14a4cc,#14abc3,#16b3b6,#2eba9b,#2cb99c,#2fba9a,#16b3b6,#1ab4b2,#25b8a4,#14a8c7,#1796d8,#1a8edd,#227ce7,#237ae8,#237ae8,#237be7,#2675eb,#2773eb,#237ae8,#2a6dee,#2a6dee,#2774eb,#2b6dee,#2577e9,#2676ea,#3656ee,#3b4aeb,#3852ee,#3a4dec,#3b49ea,#3a4cec,#3e41e6,#3c47e9,#3d44e7,#432fd7,#4231d9,#4232db,#4138e0)"></i><i style="top:116px;background:linear-gradient(90deg,#1796d8,#2b6cee,#3558ee,#3558ee,#3c46e8,#3b4aeb,#3853ee,#394fee,#3a4dec,#3558ee,#325fee,#2c6bee,#2c6aee,#1d86e2,#14a4cd,#159dd4,#14a7c8,#14a8c6,#14acc2,#16b3b7,#14a2cf,#14a6c9,#17b3b5,#14aebf,#1cb5b0,#4bbd81,#3abb90,#4dbd7f,#26b8a2,#1ab4b1,#14b2b9,#14a5cb,#14aac4,#14a4cd,#1a8dde,#2479e8,#227de6,#237be7,#2b6dee,#325eee,#3160ee,#237be7,#227ce7,#2a6eee,#2d68ee,#335dee,#3851ee,#3b4beb,#3851ee,#325dee,#3b48ea,#3f3fe4,#4234de,#4138e0,#4137e0,#4137df,#4231d9,#432acf,#432fd7,#432cd2)"></i><i style="top:117px;background:linear-gradient(90deg,#227de6,#315fee,#345bee,#3656ee,#3063ee,#325fee,#3e40e5,#3b49ea,#325dee,#2970ed,#2c6aee,#325eee,#2b6bee,#1e84e2,#1797d7,#159cd5,#159cd4,#1f82e4,#1a8cde,#1699d6,#1e83e3,#1a8edd,#14adc0,#1db5ad,#14afbe,#16b3b6,#20b6aa,#50bd7d,#23b7a6,#14b2b9,#14afbd,#14a8c7,#1c87e1,#2577e9,#237ae8,#227ce7,#2080e5,#217fe5,#2971ed,#2e66ee,#2d68ee,#2f64ee,#3061ee,#335cee,#3558ee,#3655ee,#3c48ea,#4233dd,#3f3ce3,#3a4cec,#3a4dec,#3a4eed,#3d45e8,#4137e0,#3d43e7,#3e42e6,#4234de,#4137e0,#4231da,#432acf)"></i><i style="top:118px;background:linear-gradient(90deg,#3a4cec,#3c48e9,#3d44e7,#4235df,#3e40e5,#3a4beb,#3e40e5,#4234de,#3d42e6,#3951ee,#3852ee,#3656ee,#345aee,#2b6cee,#237be7,#217ee5,#169ad6,#14a4cc,#14a7c9,#14a5cb,#149fd3,#1894d9,#169bd5,#14aebf,#21b7a8,#30ba98,#36bb94,#64be6f,#2fba9a,#14afbd,#14a9c5,#14aebe,#159cd4,#1d85e2,#1b8bdf,#2675ea,#2675eb,#217de6,#2970ed,#2f64ee,#325fee,#2f64ee,#3062ee,#3557ee,#3853ee,#3655ee,#3a4dec,#4137e0,#3d43e6,#3656ee,#325fee,#325eee,#3755ee,#3753ee,#3a4ded,#4234de,#4234de,#3f3ee3,#432bd0,#4426c8)"></i><i style="top:119px;background:linear-gradient(90deg,#2a6eee,#2f63ee,#3c48e9,#3f3ee4,#3a4cec,#3b49ea,#3e40e5,#3f3de3,#3d44e7,#3c47e9,#3a4ceb,#3a4eed,#2c6aee,#1e83e3,#2577e9,#217ee6,#1a8cde,#14a1d0,#14b1bb,#14b1bb,#14b2b9,#1fb6ab,#1eb6ac,#28b9a0,#2bb99d,#2cb99c,#5cbe74,#5ebe72,#22b7a7,#19b4b3,#1db5ad,#14afbe,#14a4cd,#14a0d2,#1b8adf,#2e67ee,#2c69ee,#2d68ee,#2d68ee,#2a6eee,#2d68ee,#315fee,#3559ee,#3557ee,#3853ee,#325dee,#2970ed,#2f63ee,#3c46e8,#3f3ce3,#4138e0,#3a4dec,#3c46e8,#403be2,#4233dd,#432ed4,#432dd2,#4428cb,#4426c8,#4426c8)"></i><i style="top:120px;background:linear-gradient(90deg,#2a6fee,#325dee,#3656ee,#3160ee,#345aee,#3b4beb,#3c45e8,#3c46e8,#3d44e7,#3b4aea,#325fee,#3160ee,#2e67ee,#1c88e0,#1795d8,#14a3ce,#159ed3,#1796d8,#159dd4,#14a1d1,#14a7c8,#1eb5ad,#21b7a9,#31ba98,#2dba9c,#4ebd7e,#4fbd7d,#26b8a3,#21b6a9,#48bd83,#1eb5ad,#1699d6,#1a8edd,#1f83e3,#1f82e4,#1992db,#1a8dde,#2871ec,#2e66ee,#2b6bee,#3951ee,#403ce2,#3a4dec,#325eee,#2d68ee,#325eee,#4136df,#432dd3,#4232db,#3f3ce3,#3a4cec,#3d42e6,#3c46e8,#3d42e6,#403ce2,#3b49ea,#403ae1,#4330d8,#403ce2,#3c48e9)"></i><i style="top:121px;background:linear-gradient(90deg,#2872ec,#2872ec,#3062ee,#3656ee,#3459ee,#3655ee,#345bee,#3950ee,#3a4dec,#2c6aee,#1e84e3,#2577e9,#2871ed,#1c87e1,#1893da,#14a1d1,#149fd3,#14a3ce,#14a8c7,#1895d9,#14a0d2,#14aac5,#14a6ca,#14b1bb,#27b9a2,#28b9a0,#32ba97,#2cb99d,#14afbd,#14b2b9,#24b8a5,#16b3b6,#169ad5,#1892da,#169bd5,#1991db,#217ee6,#2b6dee,#2f64ee,#3559ee,#3f3ee4,#3d42e6,#3c46e9,#3558ee,#2b6cee,#2f63ee,#3a4eed,#3a4beb,#3b4beb,#4136df,#4233dd,#403ce2,#3d43e7,#3b4beb,#3f3de3,#3d43e6,#3b49ea,#403ce2,#3e40e5,#3e40e5)"></i><i style="top:122px;background:linear-gradient(90deg,#394fed,#3558ee,#3d43e7,#3f3ce3,#3b49ea,#3d45e7,#3e40e5,#3e40e5,#3b48ea,#3853ee,#3754ee,#3459ee,#2774eb,#1f82e3,#1d84e2,#1a8edd,#1d85e2,#1a8dde,#14a6ca,#14acc2,#14abc2,#1db5ae,#1bb5b0,#19b4b3,#29b99f,#22b7a8,#1fb6ab,#2cb99c,#14b2b9,#14a7c8,#14a9c6,#159ed3,#1a8edd,#14a7c8,#14aac4,#1893da,#1b8bde,#1e83e3,#2576ea,#335cee,#3557ee,#325dee,#2e65ee,#2e65ee,#2f63ee,#3063ee,#3161ee,#3061ee,#394fed,#403ae2,#403be2,#403be2,#403ae2,#3f3ee4,#3c46e9,#3a4cec,#3c46e8,#3b49ea,#3a4dec,#3e42e6)"></i><i style="top:123px;background:linear-gradient(90deg,#3d45e8,#3655ee,#335cee,#325dee,#3851ee,#3d43e6,#4139e1,#3e42e6,#3558ee,#394fee,#3b4aeb,#2e65ee,#1d85e2,#227be7,#1e84e2,#227ce7,#2e66ee,#2871ec,#227de6,#1895d9,#14b0bc,#15b2b8,#1ab4b2,#14b1ba,#1eb5ad,#22b7a7,#2bb99d,#4ebd7e,#28b9a1,#14b2b8,#14a9c6,#1699d6,#1d85e2,#198fdc,#1892da,#207fe5,#2b6cee,#3b48ea,#3f3de3,#3a4ceb,#345aee,#3852ee,#3754ee,#3161ee,#335bee,#2f64ee,#325fee,#3754ee,#3a4dec,#403ce2,#3c45e8,#3f3fe4,#403be2,#403be2,#4330d7,#4330d8,#3d43e6,#3754ee,#3753ee,#403be2)"></i></div><div class="hm" style="left:14px;top:165px;width:236px;height:124px"><i style="top:0px;background:linear-gradient(90deg,#432cd2,#432ed5,#432ed5,#432ed4,#432ed5,#4330d8,#4234de,#4039e1,#403ce2,#403be2,#4039e1,#4138e0,#4138e0,#4039e1,#3f3ce3,#3e41e6,#3c47e9,#3b49ea,#3c47e9,#3e40e5,#4137e0,#3f3ce3,#3a4dec,#3852ee,#315fee,#2970ed,#217fe5,#394fee,#394fed,#3b4aea,#2774eb,#2b6dee,#3160ee,#4138e0,#4136df,#4232db,#432ed5,#432bd0,#4429cd,#4427ca,#4426c8,#4426c8,#4426c8,#4426c8,#432dd2,#432dd2,#432ed5,#4233dc,#403be2,#3755ee,#3655ee,#3656ee,#3557ee,#3656ee,#345bee,#3b4beb,#3d44e7,#3f3ee4,#403ae1,#4235de)"></i><i style="top:1px;background:linear-gradient(90deg,#4428ca,#432cd2,#4231d9,#4136df,#3f3ee4,#3d45e7,#3b49ea,#3b49ea,#3c45e8,#3f3ee4,#4136df,#4232db,#4231da,#4234de,#3f3fe4,#3b4aeb,#3852ee,#3753ee,#3a4cec,#3e3fe4,#4233dd,#4138e0,#3b4aea,#3a4eed,#3755ee,#335cee,#2f63ee,#4137df,#3f3ee4,#3d44e7,#2577e9,#2773eb,#2f64ee,#403ae2,#4039e1,#4235df,#4330d8,#4429cd,#4426c8,#4426c8,#4426c8,#4426c8,#432acf,#403ae1,#345aee,#3160ee,#3160ee,#325eee,#3459ee,#3063ee,#3755ee,#3a4eed,#394fed,#3852ee,#315fee,#345aee,#335cee,#335bee,#3657ee,#3b4aeb)"></i><i style="top:2px;background:linear-gradient(90deg,#432acf,#432ed4,#4232db,#403ae1,#3d43e7,#3b4beb,#3950ee,#3852ee,#3852ee,#394fee,#3a4ceb,#3c47e9,#3d43e7,#3e40e5,#3e40e5,#3e41e6,#3e42e6,#3f3fe4,#4139e1,#4233dd,#4233dd,#3d45e8,#315fee,#3062ee,#325eee,#3459ee,#3559ee,#432fd6,#4233dd,#403be2,#2872ec,#2872ec,#2f64ee,#4138e0,#4233dc,#432fd7,#432cd1,#4429cd,#4427ca,#4427c9,#4427c9,#4429cc,#432cd1,#4231da,#3d42e6,#3d43e7,#3c46e8,#3b4aeb,#3b4beb,#3656ee,#3c48e9,#3e40e5,#3e3fe4,#3e40e5,#3b49ea,#3f3ee4,#3f3de3,#403ae1,#4138e0,#4233dc)"></i><i style="top:3px;background:linear-gradient(90deg,#3d42e6,#3a4eed,#335cee,#2c6aee,#2676ea,#227be7,#237ae8,#2774eb,#2d69ee,#335bee,#3a4eed,#3d44e7,#3f3fe4,#3e3fe5,#3d44e7,#3b49ea,#3a4cec,#3a4beb,#3c47e9,#3e40e5,#3f3ee4,#3951ee,#2b6cee,#2a6dee,#2d67ee,#325eee,#3558ee,#432cd2,#4330d8,#4138e0,#2773ec,#2674eb,#2e66ee,#403be2,#4137e0,#4235df,#4234dd,#4232db,#4330d8,#432ed5,#432cd1,#4429cd,#4427c9,#4427ca,#432ed5,#432ed5,#4232db,#403ae1,#3e40e5,#3950ee,#3c46e8,#3f3ee4,#403ae2,#4139e1,#3d43e7,#3e40e5,#3c47e9,#3a4cec,#3a4cec,#3c45e8)"></i><i style="top:4px;background:linear-gradient(90deg,#432cd1,#432dd3,#4330d7,#4233dc,#4138e0,#3e41e6,#3b4beb,#3851ee,#3852ee,#3a4dec,#3c46e8,#3e3fe4,#4039e1,#4137e0,#4039e1,#3e3fe4,#3c46e8,#3b4aea,#3b48ea,#3e40e5,#403ae1,#3b48ea,#2f63ee,#2d69ee,#2b6bee,#2b6cee,#2a6eee,#403ae1,#403be2,#403be2,#2a6dee,#2970ed,#2a6dee,#394fed,#3755ee,#3851ee,#3d45e8,#4235df,#432dd4,#4429cd,#4427ca,#4427ca,#4429cd,#432cd2,#4234de,#4232da,#4231d9,#4232db,#4234de,#3c48e9,#3d45e8,#3d44e7,#3d44e7,#3d44e7,#3a4cec,#3d43e7,#3d43e7,#3d42e6,#3e41e5,#403ae1)"></i><i style="top:5px;background:linear-gradient(90deg,#432cd2,#4330d7,#4234de,#3f3de3,#3c48e9,#3754ee,#3160ee,#2e67ee,#2f64ee,#345aee,#3a4eed,#3d43e7,#403ce2,#4137e0,#4234de,#4233dd,#4232db,#4232da,#432fd7,#432acf,#4427ca,#4330d8,#3a4ceb,#3656ee,#335cee,#3160ee,#2f64ee,#4233dd,#4235df,#4136df,#2d68ee,#2b6bee,#2e66ee,#3e42e6,#3e3fe4,#4137e0,#4330d8,#432dd2,#432bd0,#432cd2,#432ed5,#4231d9,#4232dc,#4138e0,#3c47e9,#3d44e7,#3d43e7,#3d43e7,#3e40e5,#3c48e9,#4137e0,#4231d9,#4330d7,#4231da,#3f3ce3,#4136df,#4235df,#4233dd,#4232db,#4330d7)"></i><i style="top:6px;background:linear-gradient(90deg,#432cd2,#432fd6,#4232db,#4138e0,#3e40e5,#3b49ea,#3a4dec,#3a4cec,#3c46e8,#3f3ee4,#4136df,#4231d9,#432cd1,#4427c9,#4426c8,#4426c8,#4426c8,#4426c8,#4426c8,#4426c8,#4426c8,#4429cc,#3e3fe4,#3b4aea,#3a4eed,#3950ee,#3950ee,#4429cc,#432ace,#432dd3,#325eee,#2e67ee,#2f63ee,#3f3fe4,#3f3ce2,#4137e0,#4234de,#4234de,#4136df,#4039e1,#403be2,#3f3ce3,#3f3de3,#3e40e5,#3b4aea,#3e41e6,#3f3fe4,#3e42e6,#3d44e7,#3754ee,#3b4beb,#3c47e9,#3c47e9,#3d44e7,#3c46e8,#4233dd,#432ed5,#432bd0,#432bd0,#432bcf)"></i><i style="top:7px;background:linear-gradient(90deg,#4234de,#3f3de3,#3d45e8,#3a4cec,#3852ee,#3657ee,#3558ee,#3754ee,#3a4dec,#3d42e6,#4136df,#432fd6,#4429cd,#4426c8,#4426c8,#4426c8,#4426c8,#4426c8,#4426c8,#4426c8,#4426c8,#4426c8,#4234de,#3f3ee4,#3c45e8,#3a4ceb,#3851ee,#432acf,#432bd0,#432dd2,#345aee,#335dee,#3951ee,#432cd2,#4428ca,#4426c8,#4426c8,#4426c8,#4426c8,#4429cd,#432dd2,#4330d7,#4231d9,#4232db,#4138e0,#4330d8,#432ed5,#4231d9,#4137df,#3a4dec,#3b49ea,#3c46e8,#3d44e7,#3e41e5,#3d44e7,#4234de,#4330d8,#432dd2,#432bd0,#4429cc)"></i><i style="top:8px;background:linear-gradient(90deg,#3852ee,#3a4eed,#3b4aeb,#3c48e9,#3c47e9,#3d45e8,#3e40e5,#403be2,#403ae1,#3f3ce3,#3e42e6,#3c45e8,#3d45e8,#3e40e5,#4136df,#4330d7,#432bd0,#4429cd,#4427ca,#4426c8,#4426c8,#4429cd,#4137e0,#4138e0,#4235df,#4233dd,#4234de,#4426c8,#4426c8,#4426c8,#3950ee,#345aee,#3656ee,#4233dc,#4233dd,#4234dd,#4234dd,#4234de,#4235de,#4137df,#4138e0,#4138e0,#4234de,#4233dc,#4235df,#432ed5,#432cd2,#432ed5,#4231da,#3e41e6,#403ae2,#4235df,#4234de,#4232db,#4233dc,#4429cd,#4426c8,#4426c8,#4426c8,#4426c8)"></i><i style="top:9px;background:linear-gradient(90deg,#335cee,#325eee,#3160ee,#3061ee,#3061ee,#325eee,#3559ee,#3753ee,#3a4eed,#3b4beb,#3c47e9,#3d42e6,#3f3ce3,#4136df,#4232db,#4330d8,#432fd6,#432ed4,#432bd0,#4427ca,#4426c9,#4232dc,#3853ee,#345aee,#3557ee,#3a4eed,#3d44e7,#4426c8,#4426c8,#4426c8,#4136df,#403be2,#3f3ce2,#432cd1,#4232db,#4137e0,#4136df,#4232db,#432fd6,#432dd3,#432dd3,#432ed5,#4231d9,#4138e0,#3b4aeb,#3c46e8,#3d42e6,#3e40e5,#3f3ee4,#3a4dec,#3c48e9,#3c48e9,#3b4aeb,#3c48e9,#3c48e9,#4233dc,#432bd0,#4426c8,#4426c8,#4426c8)"></i><i style="top:10px;background:linear-gradient(90deg,#3f3ee4,#3e3fe4,#3d45e8,#3a4dec,#3754ee,#3657ee,#3853ee,#3b4beb,#3d42e6,#4039e1,#4232db,#432fd6,#432ed4,#432fd6,#4231d9,#4233dc,#4234dd,#4232dc,#432fd5,#4429cc,#4426c8,#4231d9,#3950ee,#335cee,#3160ee,#325eee,#335cee,#432ed5,#432fd6,#4330d8,#325fee,#315fee,#3656ee,#4232db,#4233dc,#4232db,#4330d8,#432cd2,#4429cd,#4427ca,#4429cd,#432ed5,#4234de,#3e40e5,#3852ee,#3b4beb,#3d43e7,#3f3ee3,#403ae1,#3b48ea,#3d43e7,#3d44e7,#3c47e9,#3b49ea,#3a4eed,#403ce2,#4330d8,#4428cb,#4426c8,#4426c8)"></i><i style="top:11px;background:linear-gradient(90deg,#3062ee,#3558ee,#3a4cec,#3e41e5,#403ae1,#4138e0,#4138e0,#4139e1,#4137e0,#4233dd,#4231d9,#432fd6,#432fd6,#4330d8,#4231d9,#4231d9,#4330d8,#432fd6,#432dd2,#4429cc,#4426c9,#432fd6,#3c45e8,#3a4eed,#3655ee,#335cee,#2f64ee,#4235de,#4138e0,#403be2,#2b6dee,#2c6aee,#3459ee,#4330d7,#432cd2,#432ace,#432ace,#432bcf,#432dd3,#4330d7,#4233dc,#4136df,#4136df,#4235de,#403be2,#4232db,#4231d9,#4233dc,#4236df,#3c48e9,#3e41e6,#3f3de3,#403be2,#4235df,#4136df,#432bd1,#4426c8,#4426c8,#4426c8,#4426c8)"></i><i style="top:12px;background:linear-gradient(90deg,#394fee,#3a4cec,#3b4beb,#3a4dec,#3a4eed,#3b4beb,#3d45e7,#3f3de3,#4235df,#4232db,#4330d8,#432fd7,#432fd6,#432ed4,#432bd1,#4428cb,#4426c8,#4426c8,#4426c8,#4429cd,#432dd4,#3e40e5,#315fee,#2e66ee,#2d68ee,#2d69ee,#2c6aee,#4137e0,#4139e1,#403be2,#2a6fee,#2872ec,#2d69ee,#3e40e5,#403ae2,#4233dc,#432dd4,#432ace,#4429cd,#432dd3,#4233dd,#403be2,#403be2,#4136df,#4139e1,#4330d8,#432fd6,#4330d8,#4232db,#3e41e6,#403be2,#4138e1,#403ae2,#4039e1,#403be2,#432dd2,#4426c8,#4426c8,#4426c8,#4426c8)"></i><i style="top:13px;background:linear-gradient(90deg,#394fed,#3a4beb,#3c47e9,#3d44e7,#3d43e6,#3d42e6,#3e41e5,#3f3ee4,#3f3ee4,#3d42e6,#3b49ea,#3a4eed,#394fed,#3b4aeb,#3e42e6,#4138e0,#4232db,#4231d9,#4233dc,#4136df,#403ce2,#3a4eed,#2f64ee,#3062ee,#335dee,#3558ee,#3656ee,#432bd0,#432bd0,#432acf,#3a4eed,#3a4cec,#3d44e7,#432acf,#432acf,#4428cb,#4426c8,#4426c8,#4426c8,#4426c8,#4426c8,#4426c8,#4426c8,#4426c8,#432dd2,#432ed5,#4231da,#4234de,#4235df,#3d44e7,#3f3ee4,#3e3fe5,#3c47e9,#3a4cec,#3754ee,#3d42e6,#4233dd,#432cd1,#4429cc,#4429cc)"></i><i style="top:14px;background:linear-gradient(90deg,#3b4aeb,#3a4ded,#3950ee,#3950ee,#3a4eed,#3b4aea,#3c45e8,#3e42e6,#3e40e5,#3e42e6,#3d44e7,#3c46e8,#3c46e8,#3d45e8,#3d43e6,#3f3ee4,#4138e0,#4234de,#4234de,#403ae1,#3e41e6,#3754ee,#2e67ee,#3161ee,#3558ee,#3950ee,#3a4eed,#4429cc,#432cd1,#4330d8,#3062ee,#2f64ee,#3558ee,#4330d8,#432cd1,#4426c8,#4426c8,#4426c8,#4426c8,#4426c8,#4426c8,#4426c8,#4426c8,#4426c8,#432fd5,#4330d8,#4234de,#3f3fe4,#3c46e8,#345bee,#3558ee,#335bee,#3061ee,#3062ee,#2e65ee,#394fee,#3e40e5,#4232db,#432cd1,#4428cb)"></i><i style="top:15px;background:linear-gradient(90deg,#3c46e8,#3e41e6,#3f3ce2,#4138e0,#4235df,#4235df,#4138e0,#3f3ee4,#3d44e7,#3b48ea,#3b49ea,#3b49ea,#3b4beb,#394fed,#3754ee,#3655ee,#3852ee,#3b4beb,#3c45e8,#3d43e6,#3c47e9,#325eee,#217ee6,#1d86e2,#1d85e2,#227ce7,#2971ed,#4234de,#4233dc,#4235df,#2c6bee,#2b6cee,#325eee,#4231da,#432cd1,#4427ca,#4426c8,#4426c8,#4426c8,#4426c8,#4426c8,#4426c8,#4427c9,#4429cc,#432fd6,#432cd2,#432dd3,#4330d8,#4233dd,#3c47e9,#3d43e7,#3d44e7,#3c48e9,#3b4aea,#3951ee,#3e42e6,#4137e0,#432ed5,#4428cb,#4426c8)"></i><i style="top:16px;background:linear-gradient(90deg,#432ed5,#432bd0,#432bd0,#432fd6,#4137e0,#3d43e7,#3b4beb,#3950ee,#3754ee,#3753ee,#3a4eed,#3c47e9,#3f3ee4,#4138e0,#4233dd,#4232da,#4330d8,#432fd7,#432fd6,#432fd6,#4330d8,#3e41e5,#325fee,#2c69ee,#296fed,#296fed,#2c6aee,#4231d9,#432dd4,#432cd1,#3852ee,#394fed,#3e40e5,#4426c8,#4426c8,#4426c8,#4426c8,#4426c8,#4426c8,#4426c8,#4426c8,#4426c8,#4426c8,#4429cc,#4231d9,#432fd6,#432fd6,#4231da,#4137e0,#394fee,#394fed,#394fed,#3a4cec,#3d42e6,#403be2,#432ace,#4426c8,#4426c8,#4426c8,#4426c8)"></i><i style="top:17px;background:linear-gradient(90deg,#4330d7,#4231d9,#4232da,#4232db,#4232da,#4231d9,#4231d9,#4232da,#4233dd,#4137e0,#403be2,#3e3fe4,#3d44e7,#3b4beb,#3853ee,#345aee,#325eee,#325eee,#3459ee,#3853ee,#394fed,#325dee,#2576ea,#217de6,#1f82e4,#1e83e3,#1f81e4,#3d44e7,#403ce2,#4233dc,#3656ee,#3b49ea,#4234de,#4426c8,#4426c8,#4426c8,#4426c8,#4426c8,#4426c8,#4426c8,#4426c8,#4426c8,#4426c8,#4426c8,#432ed5,#432dd4,#432cd2,#432cd1,#432bd0,#4233dc,#4231da,#4234dd,#3f3de3,#3d44e7,#3b4aeb,#4136df,#432dd4,#4426c8,#4426c8,#4426c8)"></i><i style="top:18px;background:linear-gradient(90deg,#3c47e9,#3a4cec,#3a4eed,#3a4cec,#3b49ea,#3c46e8,#3d43e7,#3e41e5,#3f3de3,#4138e0,#4234de,#4137df,#3d42e6,#3755ee,#2e66ee,#2a6fee,#2a6eee,#2b6bee,#2d68ee,#2f64ee,#325dee,#3160ee,#2d68ee,#3161ee,#3160ee,#2f64ee,#2b6dee,#3e3fe4,#3e42e6,#3f3ee4,#2f64ee,#3557ee,#3d45e8,#4428cb,#4428cc,#4428cb,#4426c8,#4426c8,#4426c8,#4426c8,#4426c8,#4426c8,#4426c8,#4426c8,#4426c8,#4426c8,#4426c9,#432bd0,#432fd6,#3f3de3,#4138e0,#4136df,#4139e1,#403be2,#3d44e7,#4235df,#4330d8,#432cd1,#4429cc,#4426c8)"></i><i style="top:19px;background:linear-gradient(90deg,#3a4eed,#3b4aeb,#3c46e8,#3d43e7,#3e41e6,#3e41e5,#3e42e6,#3d43e6,#3e42e6,#3f3de3,#4136df,#4233dc,#4234de,#4139e1,#403be2,#4139e1,#4235df,#4136df,#403be2,#3d42e6,#3b49ea,#335bee,#2872ec,#2773eb,#2774eb,#2675eb,#2675ea,#3f3ce3,#4234de,#432ed5,#3a4cec,#3e40e5,#4232da,#4426c8,#4426c8,#4426c8,#4426c8,#4426c8,#4426c8,#4426c8,#4426c8,#4426c8,#4426c8,#4426c8,#432dd3,#432acf,#4428cc,#4429cc,#432bd0,#4039e1,#4139e1,#403ae1,#403be2,#403ae2,#3e3fe4,#4232db,#432cd2,#4426c8,#4426c8,#4426c8)"></i><i style="top:20px;background:linear-gradient(90deg,#335dee,#335cee,#3459ee,#3655ee,#3851ee,#3a4dec,#3b49ea,#3d43e6,#403be2,#4234dd,#4231da,#4232db,#4138e0,#3d42e6,#3b4aeb,#3a4eed,#3a4eed,#3a4dec,#3b49ea,#3c45e8,#3d43e6,#3852ee,#2a6eee,#2479e8,#1f81e4,#1e83e3,#217ee6,#3f3ee4,#4234de,#4330d7,#3655ee,#3950ee,#3e41e6,#4426c8,#4426c8,#4426c8,#4426c8,#4426c8,#4426c8,#4426c8,#4426c8,#4426c8,#4426c8,#4429cc,#4330d8,#432ed4,#432cd1,#432cd1,#432cd1,#4234de,#4232db,#4234de,#3f3de3,#3c45e8,#394fee,#3f3ee4,#4231d9,#4427ca,#4426c8,#4426c8)"></i><i style="top:21px;background:linear-gradient(90deg,#325dee,#325eee,#345aee,#3754ee,#3951ee,#3951ee,#3951ee,#3a4eed,#3b4aeb,#3c48e9,#3b49ea,#3a4eed,#3853ee,#3755ee,#3851ee,#3b49ea,#3d42e6,#3e40e5,#3d44e7,#3b4aea,#3950ee,#3062ee,#237be7,#207fe5,#1f81e4,#2080e5,#237ae8,#403ce2,#4233dc,#432fd6,#3656ee,#3754ee,#3b49ea,#432acf,#4428cb,#4426c8,#4426c8,#4426c8,#4426c8,#4426c8,#4426c9,#432ace,#432bd0,#432cd2,#4233dc,#4232db,#4235de,#3f3ce3,#3e40e5,#3a4eed,#3e41e6,#4138e0,#4235df,#4234dd,#403ae1,#4231d9,#432fd6,#432ed5,#4330d7,#4231d9)"></i><i style="top:22px;background:linear-gradient(90deg,#335bee,#335dee,#335dee,#3559ee,#3951ee,#3c47e9,#3f3ee4,#4136df,#4231da,#432fd6,#432fd7,#4235de,#3d45e7,#3753ee,#3559ee,#3753ee,#3b4beb,#3c48e9,#3b4aea,#3a4eed,#3852ee,#3063ee,#2478e9,#2577ea,#2872ec,#2a6eee,#2a6dee,#403be2,#3e40e5,#3e42e6,#2a6fee,#3062ee,#3c48e9,#4426c8,#4426c8,#4426c8,#4426c8,#4426c8,#4426c8,#4428cc,#4330d8,#4236df,#4137e0,#4137e0,#3e41e5,#4039e1,#4235de,#4234de,#4233dd,#3e42e6,#403be2,#403be2,#3e40e5,#3c45e8,#3950ee,#3c46e8,#3e41e5,#403ae1,#4234de,#4231d9)"></i><i style="top:23px;background:linear-gradient(90deg,#3c46e9,#3a4dec,#3655ee,#345aee,#3558ee,#3a4dec,#3f3ee4,#4231d9,#432bd1,#4429cd,#432cd1,#4232da,#3e41e6,#3853ee,#325eee,#315fee,#335cee,#3559ee,#3558ee,#3656ee,#3753ee,#325dee,#2a6eee,#2b6bee,#2d69ee,#2e67ee,#2e65ee,#4232da,#4330d8,#432fd5,#3852ee,#3b49ea,#4039e1,#4426c8,#4426c8,#4427ca,#4429cc,#4429cd,#4429cd,#432bd0,#432fd6,#4233dc,#4136df,#403be2,#3b49ea,#3d43e7,#3e40e5,#3e3fe4,#3f3ee4,#3b4beb,#3d43e7,#3d43e6,#3b4aea,#394fee,#3559ee,#3b49ea,#3e3fe4,#4136df,#4233dd,#4231da)"></i><i style="top:24px;background:linear-gradient(90deg,#3950ee,#3a4dec,#3b49ea,#3c46e8,#3e41e6,#403be2,#4234de,#4231d9,#432fd6,#4330d7,#4233dc,#403be2,#3c47e9,#3754ee,#325dee,#3161ee,#3160ee,#315fee,#315fee,#315fee,#3160ee,#2970ed,#1c87e1,#1c87e1,#1c86e1,#1d84e2,#2081e4,#3d44e7,#403ce2,#4234de,#335cee,#3754ee,#3d45e8,#4429cd,#432bd0,#432fd5,#4232da,#4233dd,#4136df,#4039e1,#3f3ee4,#3d42e6,#3c46e8,#3a4cec,#345bee,#3853ee,#3a4beb,#3c46e8,#3d42e6,#394fee,#3c47e9,#3e42e6,#3e40e5,#3f3de3,#3d44e7,#403ce2,#3f3de3,#3e3fe4,#3d43e7,#3d45e8)"></i><i style="top:25px;background:linear-gradient(90deg,#3f3fe4,#3e42e6,#3c47e9,#3a4dec,#3852ee,#3753ee,#394fed,#3c47e9,#3e3fe4,#403ce2,#3f3ee4,#3c47e9,#3656ee,#2e66ee,#2773ec,#2577e9,#2872ec,#2e66ee,#3558ee,#3a4eed,#394fed,#2b6dee,#169ad6,#14a7c9,#14a5cb,#1699d6,#1c87e1,#3c45e8,#3e41e5,#3e3fe4,#2a6dee,#2e66ee,#3754ee,#432ed5,#432cd2,#432bcf,#4429cd,#4428cb,#4428cb,#432bd0,#432fd7,#4235df,#3e41e5,#3a4eed,#3160ee,#3656ee,#3b4beb,#3d42e6,#403ce2,#3c47e9,#3f3ce3,#4235df,#4233dc,#4231d9,#4233dd,#432fd5,#4330d8,#4233dc,#4039e1,#403be2)"></i><i style="top:26px;background:linear-gradient(90deg,#345aee,#325dee,#335cee,#3558ee,#3656ee,#3559ee,#335dee,#325fee,#335cee,#3753ee,#3b49ea,#3e41e5,#3e40e5,#3c47e9,#3853ee,#325eee,#2f64ee,#2e65ee,#3061ee,#3459ee,#3655ee,#2c69ee,#1b89e0,#198fdc,#1a8ddd,#1c87e1,#1f81e4,#3c48e9,#3c47e9,#3c47e9,#2577e9,#296fed,#335dee,#4232db,#4231d9,#4330d7,#432fd5,#432dd3,#432dd2,#432dd3,#432ed4,#432fd6,#4330d8,#4235df,#3b49ea,#3b49ea,#3b4aeb,#3b4beb,#3b4aea,#3656ee,#3b49ea,#3e40e5,#403be2,#4039e1,#3e40e5,#4234de,#4231d9,#432ed5,#432ed4,#432ed4)"></i><i style="top:27px;background:linear-gradient(90deg,#3c48ea,#3b49ea,#3a4cec,#394fed,#3a4dec,#3c47e9,#3f3de3,#4234de,#4232db,#4233dc,#4137e0,#3f3fe4,#3c48e9,#3853ee,#325eee,#2e66ee,#2d69ee,#2e66ee,#325fee,#3852ee,#3b4aeb,#335bee,#2576ea,#2577e9,#2675eb,#2774eb,#2576ea,#3d42e6,#3d43e6,#3e42e6,#2773ec,#2871ed,#2f64ee,#403ae1,#4136df,#4233dd,#4232da,#4330d7,#432ed4,#432cd1,#432acf,#4428cb,#4426c8,#4427ca,#4330d7,#4231da,#4039e1,#3c48e9,#3753ee,#2d67ee,#335dee,#3753ee,#3a4dec,#3c47e9,#3c48ea,#4137e0,#4233dc,#4232db,#4136df,#4039e1)"></i><i style="top:28px;background:linear-gradient(90deg,#403be2,#3d42e6,#3c46e8,#3c45e8,#3f3ee4,#4233dd,#432ed4,#432cd1,#432ed5,#4234de,#3e42e6,#3a4dec,#3852ee,#3853ee,#3852ee,#3852ee,#3755ee,#3557ee,#3655ee,#3a4cec,#3c47e9,#325eee,#1f81e4,#1b89e0,#1b8bdf,#1b8adf,#1c88e1,#3b4aea,#3e41e6,#403ae1,#2f65ee,#315fee,#3950ee,#432fd6,#4330d8,#4235de,#3f3ce3,#3f3ee4,#403ae1,#4232db,#432ed4,#432acf,#4428cc,#4428cc,#432dd3,#4429cc,#4426c9,#4427ca,#432ace,#4039e1,#3f3ee4,#3c46e8,#3a4eed,#394fee,#3754ee,#3d43e7,#403ce2,#4137e0,#4039e1,#4039e1)"></i><i style="top:29px;background:linear-gradient(90deg,#4235df,#403be2,#3e3fe4,#3e40e5,#3f3ee4,#4138e1,#4234de,#4235df,#3f3de3,#3c45e8,#3b4aeb,#3b4beb,#3b49ea,#3c47e9,#3b48ea,#3a4beb,#3950ee,#3755ee,#3853ee,#3c48ea,#3e40e5,#394fee,#2c6aee,#2c6bee,#2e66ee,#2f63ee,#2f63ee,#4232db,#4232dc,#4233dc,#3063ee,#2f63ee,#335bee,#403ae1,#3e41e5,#3c47e9,#3b4beb,#3a4dec,#3a4dec,#3a4cec,#3b4aeb,#3c47e9,#3d42e6,#3e3fe4,#3d43e6,#4234de,#432fd7,#432fd6,#432fd6,#4137e0,#4330d8,#432dd3,#432dd3,#432cd2,#432fd6,#4428cb,#4426c8,#4426c9,#432bd0,#432fd7)"></i><i style="top:30px;background:linear-gradient(90deg,#4233dc,#4233dc,#4233dc,#4136df,#3f3ce2,#3d43e6,#3b49ea,#3a4dec,#3a4ded,#3b4aea,#3c46e9,#3b48ea,#394eed,#3755ee,#3656ee,#3851ee,#3b49ea,#3e3fe4,#4234dd,#432cd1,#4426c8,#432ed4,#3d43e7,#3b4beb,#394fee,#3754ee,#3459ee,#432fd7,#4231d9,#4232db,#3161ee,#325eee,#3852ee,#4330d8,#4330d7,#432fd6,#432dd4,#432bd0,#432ace,#432ace,#432bd0,#432bd0,#432bcf,#432cd1,#4232db,#432fd6,#432fd6,#4330d8,#4231da,#403be2,#4231d9,#432cd2,#432ace,#4429cc,#432cd1,#4426c8,#4426c8,#4426c8,#4426c8,#4427ca)"></i><i style="top:31px;background:linear-gradient(90deg,#432ed4,#4330d8,#4233dc,#4137e0,#3e3fe4,#3c47e9,#394fed,#3657ee,#335dee,#325dee,#3558ee,#3852ee,#3b4beb,#3d44e7,#3f3ee4,#4139e1,#4235df,#4136df,#4138e0,#4137e0,#4138e0,#3b4beb,#2e66ee,#2c6aee,#2b6bee,#2b6dee,#2b6dee,#4235df,#4233dc,#4232db,#3161ee,#3062ee,#3559ee,#4233dc,#4232da,#4231da,#4231da,#4330d8,#432dd3,#4429cc,#4426c8,#4426c8,#4426c8,#4426c9,#432fd5,#432cd2,#432bcf,#432acf,#432ace,#4231d9,#432dd3,#432cd2,#432ed5,#4330d7,#4233dc,#432bd0,#4427c9,#4426c8,#4426c8,#4426c8)"></i><i style="top:32px;background:linear-gradient(90deg,#4426c8,#4426c8,#4426c8,#432ace,#432ed4,#4231d9,#4136df,#3e40e5,#3b4aea,#3a4eed,#3a4cec,#3b49ea,#3c45e8,#3e40e5,#4137e0,#4231d9,#432cd2,#432bd0,#432dd3,#4330d8,#4233dc,#3e40e5,#3950ee,#3b4beb,#3b49ea,#3a4cec,#3853ee,#432dd3,#432ed5,#432ed5,#3558ee,#3559ee,#3852ee,#4232db,#4232da,#4330d8,#432fd6,#432fd6,#4330d8,#4231d9,#4330d8,#432fd6,#432ed4,#432fd6,#4039e1,#4137e0,#4138e0,#4039e1,#4136df,#3f3ee4,#4232db,#432fd7,#4330d7,#4330d8,#4234de,#432ed5,#432dd3,#432ed4,#4330d8,#4231da)"></i><i style="top:33px;background:linear-gradient(90deg,#432dd2,#4330d8,#4235df,#403ce2,#3f3ee4,#3f3ce3,#403ce2,#3e41e5,#3c47e9,#3c48e9,#3d44e7,#3e42e6,#3e42e6,#3e40e5,#403ae2,#4233dc,#432ed5,#432bd0,#432ace,#432ace,#432acf,#4231d9,#3f3ee4,#403ae1,#4136df,#4137e0,#3f3de3,#4426c8,#4428cb,#432bcf,#3852ee,#3851ee,#3c48e9,#432cd1,#432cd1,#432cd1,#432bcf,#432ace,#4428cc,#4428ca,#4427c9,#4426c8,#4426c8,#4426c8,#4426c8,#4426c8,#4426c8,#4426c8,#4427c9,#432cd2,#4426c8,#4426c8,#4426c8,#4428cb,#432ed5,#432ace,#4429cc,#4429cc,#432cd1,#432fd6)"></i><i style="top:34px;background:linear-gradient(90deg,#432cd1,#432fd6,#4330d8,#4232da,#4233dd,#4234de,#4039e1,#3d43e6,#3a4dec,#3951ee,#3950ee,#3950ee,#394fed,#3b4beb,#3d44e7,#3f3ee4,#403be2,#403be2,#4039e1,#4233dc,#432cd2,#432bd0,#432fd6,#432ed5,#4232da,#3f3ce3,#3b4beb,#432bd1,#432fd6,#4231d9,#3061ee,#2e66ee,#3061ee,#3e3fe4,#3e41e6,#3e41e5,#3e3fe4,#3f3de3,#4138e1,#4233dc,#432fd6,#432bd0,#4428cb,#4428cc,#432ed5,#432bd0,#4429cd,#4427ca,#4426c8,#4426c8,#4426c8,#4426c8,#4426c8,#4427ca,#4231da,#4330d8,#4330d8,#432fd7,#4330d8,#4330d7)"></i><i style="top:35px;background:linear-gradient(90deg,#4426c8,#4426c8,#4426c8,#432ace,#432ed5,#4330d7,#4330d8,#4233dd,#4138e1,#403ae1,#4138e0,#403ae2,#3e40e5,#3c45e8,#3c48e9,#3b48ea,#3c47e9,#3d44e7,#3f3fe4,#4235df,#432fd6,#432fd6,#4234de,#4233dc,#4136df,#3f3de3,#3e41e6,#4426c8,#4426c8,#4426c8,#3c47e9,#3a4dec,#3c47e9,#432bd0,#432ace,#4427ca,#4426c8,#4426c8,#4427ca,#432bcf,#432ed5,#4231d9,#4330d8,#4330d7,#4232da,#432bd0,#4427ca,#4428cb,#432acf,#4234de,#4232db,#4232db,#4233dd,#4234de,#403be2,#4231d9,#432ed4,#432cd1,#432dd2,#432ed4)"></i><i style="top:36px;background:linear-gradient(90deg,#4426c8,#4426c8,#4426c8,#4426c8,#4427ca,#4429cd,#432cd1,#432fd7,#4231da,#432fd7,#432bd1,#432ace,#432bd0,#432fd5,#4232db,#4136df,#4137df,#4233dc,#432fd6,#432acf,#4426c8,#4427ca,#432cd2,#432ace,#432acf,#432ed5,#4137e0,#4426c8,#432cd1,#4232da,#2d68ee,#2c69ee,#335cee,#4232db,#432fd7,#432ed4,#432fd5,#4330d8,#4232da,#4231d9,#432ed5,#432ace,#4427ca,#4428cb,#432ed4,#432ace,#4427ca,#4427ca,#432bcf,#403ce2,#3e41e6,#3b49ea,#3951ee,#3656ee,#2f64ee,#325fee,#315fee,#3557ee,#3b49ea,#4136df)"></i><i style="top:37px;background:linear-gradient(90deg,#4426c8,#4426c8,#4426c8,#4428cb,#432bd0,#432ed5,#4330d8,#4233dc,#4233dc,#432fd7,#432ace,#4426c8,#4426c8,#4426c8,#4428cb,#432acf,#432cd2,#432ed5,#4330d8,#4232da,#4233dc,#403ce2,#3c47e9,#3f3ee4,#4235df,#4233dc,#4233dd,#4426c8,#4426c8,#4426c8,#3b49ea,#3a4cec,#3c46e8,#432cd1,#432dd2,#432cd1,#432ace,#4427ca,#4426c9,#4427c9,#4427ca,#4427ca,#4427ca,#4429cd,#4231d9,#432fd7,#432fd7,#4330d8,#4232da,#3d42e6,#3e3fe4,#3e3fe4,#3e40e5,#3e3fe4,#3c48ea,#3e41e6,#3d43e7,#3e41e5,#3f3ee4,#4039e1)"></i><i style="top:38px;background:linear-gradient(90deg,#4429cc,#432bd0,#432dd4,#432fd6,#4330d7,#4330d8,#4330d7,#4330d7,#432fd7,#432ed5,#432cd2,#432bd0,#432acf,#432ace,#4429cd,#4429cd,#432ace,#432bcf,#432cd1,#432ed4,#4330d8,#403ae1,#3b4beb,#3c47e9,#3d45e8,#3c46e8,#3b4aea,#4428cb,#432cd1,#4330d8,#2f64ee,#2e66ee,#3459ee,#4232db,#4231da,#4231d9,#4330d8,#432fd6,#432dd3,#432bd0,#4428cc,#4426c8,#4426c8,#4427ca,#432fd6,#432dd3,#432dd3,#432fd7,#4232db,#3d45e8,#3d43e6,#3d44e7,#3c47e9,#3c47e9,#3950ee,#3b48ea,#3b49ea,#3c48e9,#3c47e9,#3d44e7)"></i><i style="top:39px;background:linear-gradient(90deg,#432fd6,#4330d8,#432ed5,#432cd1,#432bd0,#432cd2,#432ed5,#432fd7,#4231d9,#4232da,#4234dd,#4039e1,#3e40e5,#3c47e9,#3b4beb,#3a4beb,#3c48ea,#3d42e6,#403ce2,#4235df,#4231d9,#4233dc,#403ce2,#4137e0,#4137e0,#3f3ce3,#3e42e6,#4426c8,#4426c8,#4428cb,#3852ee,#3557ee,#394fee,#432fd6,#432fd6,#432ed4,#432dd3,#432dd2,#432cd1,#432ace,#4428ca,#4426c8,#4426c8,#4426c9,#432ed5,#432ed4,#4231d9,#403ae1,#3c47e9,#3161ee,#325eee,#335cee,#335cee,#325dee,#2d67ee,#335dee,#3558ee,#3a4eed,#3d45e8,#403ae2)"></i><i style="top:40px;background:linear-gradient(90deg,#432acf,#4428cc,#4426c8,#4426c8,#4426c8,#4426c8,#4426c9,#4429cd,#432ed5,#4234dd,#3f3ce3,#3e41e5,#3e41e6,#3e40e5,#3e41e5,#3d42e6,#3d43e7,#3d42e6,#3e40e5,#3f3ee4,#403be2,#3c45e8,#3657ee,#3558ee,#345aee,#325eee,#2f65ee,#4136df,#4039e1,#403ae1,#2b6bee,#2c6bee,#3061ee,#403be2,#4039e1,#4234de,#4330d7,#432cd2,#432bcf,#432bd0,#432cd2,#432dd3,#432cd2,#432cd2,#4330d7,#432bcf,#432ace,#432ed5,#4138e0,#3559ee,#325eee,#3161ee,#3062ee,#3161ee,#2d67ee,#3459ee,#3853ee,#3b4beb,#3c45e8,#3e41e5)"></i><i style="top:41px;background:linear-gradient(90deg,#4429cd,#432cd2,#432ed4,#432ed5,#432dd3,#432cd2,#432cd1,#432dd3,#432fd6,#4330d8,#4231d9,#4231da,#4232db,#4233dc,#4232db,#432fd7,#432cd1,#4428cc,#4427c9,#4427ca,#432acf,#4136df,#3851ee,#345aee,#335cee,#3558ee,#3852ee,#4428cb,#4429cd,#432ed4,#3063ee,#2c6bee,#2f63ee,#403be2,#4236df,#4231da,#432ed5,#432cd2,#432dd3,#4330d7,#4233dc,#4136df,#4236df,#4234de,#403be2,#4233dd,#4234de,#3f3ce3,#3d45e8,#345aee,#3754ee,#3950ee,#3851ee,#3853ee,#335bee,#3a4eed,#3c46e8,#403be2,#4233dc,#432fd5)"></i><i style="top:42px;background:linear-gradient(90deg,#4330d8,#432fd7,#432ed4,#432dd3,#432dd2,#432cd2,#432cd2,#432dd3,#432ed5,#4330d7,#4231d9,#4231da,#4232da,#4232da,#4232db,#4233dd,#4235de,#4137e0,#403ae1,#403ce2,#3f3ce3,#3b48ea,#335cee,#315fee,#2f64ee,#2c69ee,#2b6cee,#4136df,#4232db,#432fd6,#3852ee,#3a4cec,#3e3fe4,#4427c9,#4428cb,#432ace,#432bd0,#432bd0,#432acf,#432acf,#432cd1,#432ed4,#432fd5,#4330d7,#4235df,#4232dc,#4136df,#3d42e6,#3a4eed,#2f64ee,#345aee,#3853ee,#3951ee,#3950ee,#3657ee,#3c47e9,#3f3ee4,#4233dd,#432fd6,#432bcf)"></i><i style="top:43px;background:linear-gradient(90deg,#432cd1,#432bd0,#432bd0,#432dd3,#4330d7,#4231d9,#4330d8,#432ed5,#432ed5,#432fd6,#4330d8,#432fd7,#432dd3,#432bd0,#432bd0,#432fd6,#4137e0,#3c45e8,#3950ee,#3755ee,#3851ee,#3755ee,#335cee,#3754ee,#3753ee,#3559ee,#3160ee,#4232db,#4234de,#4139e1,#2970ed,#2676ea,#296fed,#3c48e9,#3d45e8,#3f3ee4,#4136df,#4231da,#432ed5,#432cd2,#432bd0,#4429cd,#4427ca,#4427c9,#432bcf,#4428cb,#432bcf,#4232dc,#3e42e6,#335dee,#3559ee,#3754ee,#3754ee,#3754ee,#335dee,#394fed,#3c46e8,#403be2,#4233dd,#4231d9)"></i><i style="top:44px;background:linear-gradient(90deg,#3f3ce3,#4233dd,#432fd6,#432cd2,#432cd1,#432dd3,#432ed4,#432fd6,#4330d8,#4233dc,#4137e0,#403be2,#3f3de3,#3f3de3,#3f3ee4,#3e41e5,#3e42e6,#3e41e5,#3f3de3,#4138e0,#4234de,#3f3fe4,#3851ee,#3853ee,#3753ee,#3754ee,#3755ee,#432cd1,#432ed5,#4330d8,#325dee,#345aee,#3a4dec,#432dd3,#432dd3,#432cd1,#4428cb,#4426c8,#4426c8,#4426c8,#4426c8,#4426c8,#4426c8,#4426c8,#432bd0,#432dd3,#4232da,#403be2,#3d43e6,#3754ee,#3b49ea,#3e40e5,#403ae1,#4234de,#403ae1,#4233dd,#4138e0,#3e40e5,#3b49ea,#394fed)"></i><i style="top:45px;background:linear-gradient(90deg,#4233dd,#4232db,#4231da,#4232db,#4233dd,#4136df,#4138e0,#4137e0,#4136df,#4137e0,#403be2,#3e41e6,#3d45e7,#3d43e7,#3e3fe4,#4039e1,#4234dd,#4231d9,#4330d8,#4232db,#4039e1,#3851ee,#2970ed,#2576ea,#2774eb,#2b6bee,#2f63ee,#432fd7,#4330d8,#4232db,#2e66ee,#2d67ee,#345aee,#4231d9,#432dd3,#4429cc,#4426c8,#4426c8,#4426c8,#4426c8,#4426c8,#4426c8,#4426c9,#4429cc,#432fd6,#432cd1,#432bcf,#432cd2,#432fd7,#3e40e5,#3f3ce3,#403be2,#403ce2,#3f3de3,#3c48ea,#3d43e7,#3c48e9,#3a4dec,#3754ee,#3655ee)"></i><i style="top:46px;background:linear-gradient(90deg,#4234de,#403ae1,#3e3fe4,#3d42e6,#3e42e6,#3e3fe4,#403ce2,#4138e1,#4137e0,#4138e0,#4138e1,#4137e0,#4232dc,#432ed5,#432bcf,#4429cd,#432bd0,#432fd6,#4234dd,#403be2,#3e3fe4,#3a4beb,#325eee,#325fee,#3061ee,#2e65ee,#2d68ee,#4136df,#4138e0,#4039e1,#2c6aee,#2d67ee,#3558ee,#4330d7,#432dd2,#432acf,#4429cc,#4428cb,#4428cb,#4428cb,#4428cb,#4427ca,#4427c9,#4428cc,#4330d8,#4330d7,#4232da,#4235df,#4137e0,#3d43e7,#4137e0,#4234de,#403ae2,#3d44e7,#3753ee,#3c47e9,#3f3ee4,#4136df,#4136df,#4039e1)"></i><i style="top:47px;background:linear-gradient(90deg,#3f3fe4,#3f3de3,#3e41e5,#3b49ea,#3851ee,#3657ee,#3557ee,#3754ee,#3950ee,#3a4cec,#3b49ea,#3c46e8,#3d43e6,#3f3ee4,#4138e0,#4233dd,#4233dc,#4235de,#403ae1,#3f3de3,#3f3ee4,#3a4dec,#2e66ee,#2a6eee,#2577e9,#227ce7,#227de6,#3e42e6,#403be2,#4235df,#3160ee,#3559ee,#3c48e9,#4428cb,#4426c8,#4426c8,#4426c8,#432ace,#432fd6,#4233dd,#4235de,#4233dc,#432fd7,#432ed5,#4235de,#4234de,#403be2,#3d43e7,#3c45e8,#3950ee,#3e41e5,#4039e1,#403ae2,#3e3fe4,#3b4beb,#3e41e5,#403ae1,#4233dd,#4233dc,#4233dc)"></i><i style="top:48px;background:linear-gradient(90deg,#4136df,#4233dd,#432fd7,#432cd1,#432bd0,#432ed4,#4233dc,#3f3de3,#3c47e9,#394fee,#3656ee,#3459ee,#3558ee,#3754ee,#394fed,#3b4aea,#3c47e9,#3c46e8,#3c47e9,#3b49ea,#3a4ded,#3161ee,#227ce7,#1f81e4,#1e83e3,#1f82e4,#227de6,#3e3fe4,#4136df,#4232db,#325fee,#3061ee,#335cee,#403ae1,#403ae2,#4137e0,#4233dd,#4231da,#4330d8,#4330d7,#432fd6,#432dd4,#432bd0,#432cd2,#4234de,#4136df,#3f3de3,#3d43e6,#3d43e7,#3a4eed,#3e40e5,#4039e1,#403ae2,#3f3fe4,#3a4cec,#3c47e9,#3b49ea,#3c47e9,#3c46e8,#3e41e5)"></i><i style="top:49px;background:linear-gradient(90deg,#4233dd,#4138e0,#3f3ee4,#3e42e6,#3d42e6,#3e41e6,#3e40e5,#3e3fe4,#3e40e5,#3d43e6,#3c46e9,#3b4beb,#3a4eed,#3851ee,#3852ee,#3951ee,#3a4eed,#3a4cec,#3a4dec,#3950ee,#3951ee,#335bee,#2c6aee,#2d67ee,#2d68ee,#2a6dee,#2872ec,#3e40e5,#3e41e5,#3d43e6,#2577e9,#2479e8,#2970ed,#3b4aea,#3b4beb,#3a4cec,#3a4dec,#3a4cec,#3b48ea,#3d42e6,#403ae2,#4233dc,#432ed5,#432ed4,#4234dd,#4232db,#4234dd,#4138e0,#403ae2,#3b48ea,#3e40e5,#3f3ee4,#3d42e6,#3c45e8,#394fed,#3d45e8,#3d44e7,#3d42e6,#3e41e6,#3f3de3)"></i><i style="top:50px;background:linear-gradient(90deg,#4138e0,#4039e1,#4039e1,#4137e0,#4235de,#4235df,#403be2,#3d45e8,#3851ee,#335cee,#3061ee,#3161ee,#335cee,#3755ee,#3a4eed,#3c48e9,#3d43e7,#3e41e5,#3d43e7,#3c47e9,#3b4beb,#3459ee,#2b6dee,#2b6dee,#2b6dee,#2b6bee,#2c6aee,#4235de,#4137e0,#3f3de3,#2676ea,#237ae8,#2872ec,#3b4beb,#3a4cec,#3a4eed,#394fed,#394eed,#3a4dec,#3b49ea,#3d43e7,#3f3ce3,#4136df,#4136df,#3d43e6,#3f3de3,#403ae1,#4138e0,#4137e0,#3c47e9,#3e41e5,#3e3fe4,#3e42e6,#3e42e6,#3c47e9,#4137e0,#4231d9,#432dd2,#432bcf,#432ace)"></i><i style="top:51px;background:linear-gradient(90deg,#4039e1,#4138e1,#4138e0,#4136df,#4233dc,#4231d9,#4231d9,#4233dc,#4039e1,#3e41e5,#3c46e8,#3c47e9,#3d43e7,#3f3ee4,#403ae1,#4138e1,#4039e1,#403ae2,#3f3ee4,#3d43e7,#3b49ea,#335cee,#2774eb,#2576ea,#2675eb,#2872ec,#2872ec,#3e3fe5,#3d45e8,#3b4aeb,#217fe5,#227ce7,#2b6cee,#3e40e5,#3f3fe4,#3e41e5,#3d44e7,#3c45e8,#3d43e6,#3f3de3,#4235df,#4330d8,#432cd2,#432cd1,#4232db,#4231d9,#4233dc,#4137e0,#3f3de3,#394fee,#3b4aea,#3c46e9,#3c45e8,#3d43e6,#3c47e9,#4138e0,#4233dc,#4231d9,#4232db,#4136df)"></i><i style="top:52px;background:linear-gradient(90deg,#4236df,#4234de,#4234dd,#4233dc,#4330d8,#432fd5,#432fd7,#4233dc,#403be2,#3d43e7,#3b49ea,#3a4cec,#3a4dec,#3b49ea,#3e42e6,#4039e1,#4233dc,#4232db,#4235de,#3e3fe4,#3a4cec,#2f65ee,#2080e4,#1e83e3,#207fe5,#2577e9,#2970ed,#4137e0,#4138e0,#3f3ce3,#2971ed,#2872ec,#2c6bee,#3c47e9,#3b49ea,#3b4aeb,#3b4aeb,#3b4beb,#3a4dec,#3950ee,#3853ee,#3852ee,#3a4eed,#3b4beb,#394fee,#3d43e7,#403ce2,#4139e1,#4136df,#3d43e7,#3f3ce3,#403ce2,#3f3de3,#4039e1,#4039e1,#432dd2,#4428cb,#4426c8,#4426c8,#4428cb)"></i><i style="top:53px;background:linear-gradient(90deg,#432bd0,#4428cb,#4427c9,#4428cb,#432acf,#432dd4,#4330d8,#4233dc,#4136df,#3f3ce3,#3d43e6,#3c48ea,#3b4beb,#3b49ea,#3d45e7,#3e40e5,#3f3ce3,#3f3ce3,#3e41e5,#3b49ea,#3656ee,#296fed,#1a8ddd,#1991db,#1a8ddd,#1d85e2,#227ce7,#3f3de3,#4236df,#4233dc,#3062ee,#3062ee,#3657ee,#4231da,#4231da,#4233dc,#4138e0,#3e3fe4,#3c46e9,#3a4eed,#3754ee,#3558ee,#3657ee,#3754ee,#3459ee,#3b4beb,#3d43e6,#3e40e5,#3f3de3,#3b49ea,#3f3ee4,#4039e1,#4138e0,#4235df,#4137e0,#432cd2,#4428cc,#4427ca,#432ace,#432cd1)"></i><i style="top:54px;background:linear-gradient(90deg,#4426c8,#4426c8,#4426c8,#4426c8,#4426c8,#4426c8,#4426c8,#432ace,#4330d7,#4233dd,#4235de,#4233dc,#4330d8,#432fd5,#432fd6,#4232da,#4137e0,#3f3de3,#3e42e6,#3c46e8,#3a4cec,#3160ee,#237ae8,#217fe5,#1f81e4,#1f81e4,#217fe5,#3e41e5,#4138e0,#4233dc,#3160ee,#3062ee,#335dee,#403ce2,#3e40e5,#3c46e8,#3a4beb,#3852ee,#345bee,#3063ee,#2c6bee,#2970ed,#2a6eee,#2d68ee,#2e65ee,#3a4dec,#3e3fe4,#3f3de3,#3e40e5,#3753ee,#3b4aeb,#3e40e5,#4137e0,#4231da,#4232db,#432bd0,#432bd0,#432cd1,#432ed4,#432ed5)"></i><i style="top:55px;background:linear-gradient(90deg,#4426c9,#4428cb,#432ace,#432cd1,#432ed5,#4232da,#4137e0,#3f3de3,#3e42e6,#3d44e7,#3d45e7,#3d43e7,#3e40e5,#403be2,#4136df,#4136df,#403ce2,#3c45e8,#3950ee,#3557ee,#345aee,#2d67ee,#2479e8,#2577e9,#2675ea,#2774eb,#2675ea,#3d44e7,#3b4beb,#3852ee,#1c88e0,#1e84e3,#2871ec,#3d44e7,#3d44e7,#3b49ea,#3a4eed,#3951ee,#3853ee,#3753ee,#3754ee,#3655ee,#3655ee,#3656ee,#335dee,#3a4dec,#3d44e7,#3d44e7,#3b48ea,#335cee,#3852ee,#3c47e9,#3f3de3,#4234de,#4233dd,#432acf,#4427c9,#4426c8,#4426c8,#4427ca)"></i><i style="top:56px;background:linear-gradient(90deg,#432bcf,#432fd7,#4235de,#3f3de3,#3d43e7,#3c46e8,#3c45e8,#3e41e5,#4138e1,#4330d8,#432ace,#4426c9,#4426c8,#4429cd,#432ed5,#4234de,#3d43e6,#3950ee,#3558ee,#3656ee,#394eed,#3754ee,#2e66ee,#2c69ee,#2b6dee,#2a6dee,#2b6cee,#4138e0,#3f3ce3,#3e41e6,#2577e9,#2577ea,#2b6cee,#3b48ea,#3853ee,#3062ee,#2871ed,#2577ea,#2970ed,#3062ee,#3852ee,#3c46e8,#3e3fe4,#3e3fe4,#3b4aea,#3e41e5,#4138e0,#4233dc,#4330d8,#4138e0,#4232da,#4231d9,#4232db,#4234dd,#3f3ce3,#4232db,#432fd6,#432dd2,#432ed4,#4330d8)"></i><i style="top:57px;background:linear-gradient(90deg,#4138e0,#4138e1,#403be2,#3f3fe4,#3d42e6,#3d44e7,#3d43e7,#3e42e6,#3e40e5,#3e40e5,#3e40e5,#3f3ee4,#4039e1,#4232db,#432ed4,#432bcf,#432ace,#432bd0,#432dd4,#4231d9,#4136df,#3c48e9,#325dee,#325dee,#335bee,#335cee,#3160ee,#4235de,#3f3de3,#3d43e7,#2676ea,#2971ed,#3161ee,#4039e1,#3f3ee3,#3c47e9,#3753ee,#315fee,#2d67ee,#2c6bee,#2c6aee,#2e65ee,#325dee,#3655ee,#3557ee,#3c48e9,#3e3fe4,#403be2,#4136df,#3e3fe4,#4233dc,#4330d8,#4231d9,#4233dd,#3e3fe5,#4138e0,#4138e0,#4137e0,#3f3ce3,#3e40e5)"></i><i style="top:58px;background:linear-gradient(90deg,#4330d8,#4330d7,#4330d8,#4232dc,#4137e0,#403ce2,#3f3de3,#4039e1,#4232db,#432ed5,#432cd1,#432dd3,#4231d9,#4235df,#4138e0,#4235df,#4231d9,#432ed5,#432ed5,#4232db,#403ce2,#3853ee,#2a6dee,#2a6fee,#2b6bee,#2e66ee,#3061ee,#4330d7,#4231d9,#4232db,#315fee,#3558ee,#3c45e8,#4427ca,#4429cc,#432ed5,#4138e1,#3c48e9,#3754ee,#335bee,#335cee,#345aee,#3656ee,#3755ee,#335bee,#3a4ceb,#3f3fe4,#4235de,#4330d7,#4233dd,#432ed4,#432dd4,#4330d8,#4233dc,#403be2,#4232db,#4231d9,#4330d8,#4330d8,#4330d7)"></i><i style="top:59px;background:linear-gradient(90deg,#3f3ce3,#3f3ce3,#3e40e5,#3d44e7,#3c47e9,#3c45e8,#3f3de3,#4232db,#432bd0,#4426c8,#4426c8,#4426c8,#4427ca,#432cd1,#432fd5,#432ed5,#432cd1,#4429cd,#4428cb,#4428cc,#4429cd,#4231d9,#3d45e8,#3a4dec,#3657ee,#335cee,#345aee,#4429cd,#4426c8,#4426c8,#3d45e8,#3b48ea,#3d43e7,#432bd0,#432dd4,#4330d8,#4235de,#3e40e5,#3a4cec,#3755ee,#3657ee,#3851ee,#3c48e9,#3e41e5,#3d44e7,#4136df,#4231d9,#432fd6,#432fd5,#4137e0,#4231d9,#432fd6,#4330d8,#4232da,#403be2,#4233dd,#4232db,#4330d8,#4330d8,#4231d9)"></i><i style="top:60px;background:linear-gradient(90deg,#315fee,#2f63ee,#2f64ee,#2f63ee,#3160ee,#345aee,#3951ee,#3c46e8,#3f3de3,#4137e0,#4233dc,#4231d9,#432fd7,#432fd6,#4330d8,#4234de,#3f3ce3,#3e40e5,#3e3fe4,#3f3ce3,#403be2,#3b49ea,#325eee,#315fee,#315fee,#325eee,#325dee,#432ed4,#432ed4,#432ed5,#325dee,#2f64ee,#3062ee,#3d42e6,#3c47e9,#3b4aeb,#3a4ded,#3851ee,#3754ee,#3852ee,#3a4cec,#3d42e6,#4137e0,#4231d9,#4330d8,#4428cc,#4426c8,#4426c8,#4426c8,#432ed5,#432dd3,#432ed5,#4232db,#4138e0,#3c46e8,#3f3de3,#4138e0,#4232db,#4330d8,#4330d8)"></i><i style="top:61px;background:linear-gradient(90deg,#3e41e5,#3c47e9,#3a4cec,#394fed,#394fee,#3a4eed,#3b4beb,#3c48e9,#3c45e8,#3d43e6,#3e40e5,#3f3de3,#403ce2,#403be2,#3f3ce3,#3f3de3,#3f3de3,#3f3de3,#3f3ee4,#3d42e6,#3b4aea,#325eee,#2675ea,#2774eb,#2a6eee,#2d68ee,#2f63ee,#4330d7,#432ed5,#432dd4,#3656ee,#3657ee,#394fed,#4330d8,#4233dc,#4137e0,#3f3ce3,#3e40e5,#3d42e6,#3e42e6,#3e40e5,#3e3fe4,#3e40e5,#3c46e8,#3755ee,#3a4cec,#3d42e6,#4138e0,#4330d8,#4234dd,#432ed5,#4330d8,#3f3ce2,#3a4eed,#3063ee,#3657ee,#3c47e9,#4234de,#432fd6,#432ed5)"></i><i style="top:62px;background:linear-gradient(90deg,#3f3ee4,#3f3ce3,#403be2,#403be2,#3f3de3,#3e40e5,#3d44e7,#3c47e9,#3c48e9,#3d44e7,#3f3ce3,#4233dc,#432ed5,#432cd1,#432cd1,#432dd3,#432ed5,#432ed5,#432ed4,#432dd3,#432cd1,#432fd6,#4137e0,#4235df,#4137e0,#3f3de3,#3d43e6,#4426c8,#4427ca,#432ace,#3852ee,#394fed,#3e40e5,#4426c8,#4429cd,#432fd6,#4137e0,#3e40e5,#3d44e7,#3d43e7,#3e3fe4,#4138e0,#4232db,#4231da,#4138e1,#4233dc,#4231d9,#432fd6,#432cd1,#4330d8,#432bd0,#432cd1,#4232db,#3e40e5,#3853ee,#3b4aeb,#3d42e6,#4137e0,#4233dc,#4233dc)"></i><i style="top:63px;background:linear-gradient(90deg,#4137e0,#3f3de3,#3e40e5,#3e41e6,#3e41e5,#3e40e5,#3f3fe4,#3f3ce3,#4138e1,#4235df,#4235df,#4039e1,#3f3ee4,#3e42e6,#3d43e7,#3d43e7,#3d43e7,#3e41e6,#3f3de3,#4136df,#4231da,#4235de,#3c46e8,#3b4aeb,#3852ee,#345bee,#3062ee,#4233dc,#4234dd,#4233dc,#335cee,#3853ee,#3d43e7,#432ace,#432fd6,#4137df,#3e41e5,#3c45e8,#3c45e8,#3d43e7,#3f3ee4,#4235de,#432fd6,#432cd2,#4330d8,#432dd3,#432cd2,#432bd0,#4429cc,#432dd3,#4429cc,#432ace,#4330d7,#4039e1,#3b49ea,#3e41e5,#3f3ce3,#4138e0,#4138e0,#4138e0)"></i><i style="top:64px;background:linear-gradient(90deg,#3f3ce3,#3b49ea,#394fee,#3950ee,#3a4cec,#3c47e9,#3d44e7,#3d45e8,#3b4aea,#3852ee,#345bee,#3160ee,#325eee,#3558ee,#3852ee,#3950ee,#3754ee,#3558ee,#3459ee,#3755ee,#3a4dec,#3853ee,#2f63ee,#2e66ee,#2b6dee,#2773eb,#2676ea,#3f3ee4,#4138e0,#4233dc,#335dee,#3459ee,#3a4eed,#432fd6,#4231d9,#4233dc,#4235df,#4138e1,#403be2,#403be2,#4139e1,#4233dd,#4330d7,#432ed4,#4231d9,#432bd0,#4427c9,#4426c8,#4426c8,#4428ca,#4426c8,#4426c8,#4428ca,#432ed5,#403ae2,#4234de,#4231da,#432ed4,#432dd3,#432dd4)"></i><i style="top:65px;background:linear-gradient(90deg,#4429cd,#432dd4,#4232dc,#403ae2,#3e41e6,#3d45e8,#3c46e8,#3c46e9,#3b49ea,#3a4eed,#3753ee,#3657ee,#3657ee,#3754ee,#3852ee,#3852ee,#3853ee,#3753ee,#3852ee,#394fed,#3b4aeb,#3950ee,#345bee,#3754ee,#3950ee,#3851ee,#3755ee,#432cd2,#432cd2,#432bcf,#3b4aeb,#3d44e7,#4039e1,#4427c9,#432cd1,#4231d9,#4234de,#4234dd,#4231d9,#432ed4,#432cd1,#432bd1,#432cd2,#432ed5,#4233dd,#432ed5,#432bcf,#4429cd,#4427ca,#432dd3,#4427ca,#4426c8,#4429cc,#432bd0,#4231d9,#432cd2,#432cd1,#432cd2,#4231da,#403be2)"></i><i style="top:66px;background:linear-gradient(90deg,#4137df,#4236df,#4233dc,#4330d8,#432fd6,#4330d7,#4232db,#4136df,#3f3de3,#3d43e6,#3b49ea,#394eed,#3853ee,#3853ee,#394fed,#3b49ea,#3d45e8,#3d44e7,#3d44e7,#3c46e8,#3c48e9,#3655ee,#2d67ee,#2f63ee,#325fee,#335cee,#335cee,#432fd7,#4231d9,#4232db,#325eee,#3558ee,#3b4beb,#432dd4,#4330d7,#4232db,#4233dc,#4232db,#4330d8,#432fd6,#432ed5,#432ed5,#432ed5,#432fd6,#4233dd,#432ed5,#432bd0,#432bd0,#432cd1,#4235de,#4232db,#4232db,#4136df,#403be2,#3c46e8,#403be2,#4138e1,#4138e0,#3f3de3,#3d43e6)"></i><i style="top:67px;background:linear-gradient(90deg,#432ed5,#432ed4,#432ed4,#432fd6,#4231d9,#4235de,#3f3ce3,#3d44e7,#3a4cec,#3755ee,#335dee,#3063ee,#2e66ee,#2f64ee,#325dee,#3655ee,#394fed,#3a4cec,#3a4dec,#394fee,#3852ee,#315fee,#2871ed,#2a6eee,#2c6aee,#2e67ee,#2f64ee,#4330d7,#432ed5,#432ed5,#335cee,#325eee,#3656ee,#4232da,#4231d9,#4330d8,#4330d8,#4231d9,#4231da,#4231da,#4231d9,#4330d8,#432fd6,#432fd6,#4231da,#4429cd,#4426c8,#4426c8,#4426c8,#432fd6,#4232db,#4137e0,#3f3ee4,#3e41e6,#3b4aeb,#3f3fe4,#403be2,#4136df,#4235de,#4233dc)"></i><i style="top:68px;background:linear-gradient(90deg,#4232dc,#4137e0,#3f3ee3,#3e41e6,#3d42e6,#3d42e6,#3c45e8,#3a4cec,#3655ee,#325dee,#3061ee,#3062ee,#2f64ee,#2d68ee,#2a6eee,#2872ec,#2871ed,#2b6cee,#2e65ee,#315fee,#3559ee,#325fee,#2b6bee,#2e67ee,#2f64ee,#2f64ee,#2f65ee,#4232da,#4330d8,#432ed5,#3755ee,#3853ee,#3b4aeb,#432fd5,#4231d9,#4232db,#4232db,#4330d8,#432dd3,#4429cd,#4427ca,#4428cb,#432bd0,#432fd6,#4235df,#432ed5,#4429cd,#4429cd,#432cd1,#403ae1,#4137e0,#4235de,#4234de,#4232db,#4233dd,#432bd0,#4428cb,#4426c8,#4426c8,#4426c8)"></i><i style="top:69px;background:linear-gradient(90deg,#4232da,#4231d9,#432fd7,#4330d7,#4232da,#4137e0,#3e41e5,#3b4beb,#3753ee,#3558ee,#345aee,#345bee,#335cee,#325dee,#315fee,#3160ee,#3061ee,#2f64ee,#2d67ee,#2c69ee,#2d68ee,#2970ed,#217ee6,#2577e9,#2871ec,#2b6dee,#2c6aee,#4233dc,#432fd7,#432acf,#3c47e9,#3d44e7,#3e41e5,#432ed5,#4236df,#3f3ee4,#3e3fe4,#403ae1,#4232dc,#432dd4,#4429cd,#4427c9,#4426c8,#4428cb,#4330d7,#432ed4,#432ed4,#432fd6,#432fd7,#4138e0,#4231d9,#432ed4,#432ed5,#4330d7,#4137e0,#4231d9,#432fd6,#432cd2,#432cd2,#432dd3)"></i><i style="top:70px;background:linear-gradient(90deg,#3e41e6,#3f3fe4,#3f3de3,#3f3fe4,#3e42e6,#3c46e8,#3b4aea,#394fed,#3655ee,#335cee,#3062ee,#2f64ee,#315fee,#3754ee,#3b49ea,#3d43e7,#3d45e7,#3b49ea,#3a4eed,#3852ee,#3755ee,#2f64ee,#237ae8,#237be7,#237ae8,#2675eb,#2a6dee,#4232db,#432fd7,#432ed5,#3558ee,#345aee,#3755ee,#4137e0,#3e3fe4,#3d44e7,#3c45e8,#3d43e6,#3f3de3,#4234de,#432fd6,#432bcf,#4429cd,#432bd0,#4233dc,#4231d9,#4330d7,#432ed5,#432bd0,#4330d8,#432bd0,#432cd1,#4330d8,#4235de,#3f3ce3,#432ed4,#4426c8,#4426c8,#4426c8,#4426c8)"></i><i style="top:71px;background:linear-gradient(90deg,#432bd0,#432cd1,#432fd6,#4233dd,#3f3ce3,#3d44e7,#3b4aea,#3950ee,#3558ee,#3160ee,#2e67ee,#2c6bee,#2b6bee,#2d69ee,#2f64ee,#3160ee,#325fee,#3160ee,#3062ee,#2e65ee,#2e65ee,#2a6fee,#227de6,#2479e8,#2578e9,#2578e9,#2576ea,#3f3de3,#403ae1,#4138e0,#2d68ee,#2d68ee,#315fee,#403be2,#3e3fe5,#3d44e7,#3c46e8,#3d44e7,#3f3ee3,#4136df,#4233dc,#4233dc,#4234de,#4139e1,#3d43e7,#4138e0,#4232da,#432fd6,#432dd3,#4234de,#4232da,#4234dd,#3f3de3,#3d44e7,#3a4dec,#3f3ce3,#4233dc,#432fd7,#432fd7,#4330d8)"></i><i style="top:72px;background:linear-gradient(90deg,#4426c8,#4427c9,#4429cd,#432cd2,#4330d8,#4136df,#3e40e5,#3a4ceb,#3558ee,#3063ee,#2c6aee,#2b6cee,#2d68ee,#3160ee,#3558ee,#3852ee,#3950ee,#3754ee,#335cee,#2f64ee,#2e67ee,#2a6dee,#2774eb,#2d69ee,#2f65ee,#2c6aee,#2576ea,#3b4aeb,#3a4eed,#3c47e9,#2d69ee,#3656ee,#3e41e5,#4427c9,#4429cd,#432cd1,#432cd2,#432bd0,#432acf,#432bd0,#432ed5,#4232db,#4235df,#4138e0,#3e40e5,#4235df,#4232da,#4231da,#4231d9,#403ae2,#4232db,#4330d8,#4330d8,#4330d7,#4233dc,#432cd1,#432ace,#4428cb,#4429cd,#432bd0)"></i><i style="top:73px;background:linear-gradient(90deg,#4232db,#4039e1,#3e40e5,#3d43e7,#3d43e7,#3d43e7,#3c46e8,#3c48ea,#3b49ea,#3b49ea,#3b4aea,#3a4cec,#394fee,#3754ee,#345aee,#3160ee,#2f65ee,#2e66ee,#2e66ee,#2e67ee,#2e67ee,#2871ec,#217ee6,#2675ea,#2970ed,#2970ed,#2576ea,#3c45e8,#3c45e8,#3e41e5,#2c6bee,#2e65ee,#345aee,#4137e0,#403be2,#3f3de3,#3e40e5,#3d44e7,#3c48ea,#3b4beb,#3b4aeb,#3c46e8,#3e40e5,#3e3fe4,#3b4beb,#3c47e9,#3b49ea,#3b4aeb,#3c46e8,#3b4beb,#4136df,#432dd3,#4428cb,#4426c8,#4427ca,#4426c8,#4426c8,#4429cc,#432dd2,#432fd6)"></i><i style="top:74px;background:linear-gradient(90deg,#3e41e5,#3e40e5,#3e41e6,#3e41e6,#3e3fe4,#3f3ce3,#403be2,#3f3ee4,#3d44e7,#3a4cec,#3853ee,#3557ee,#3558ee,#3754ee,#3950ee,#3a4eed,#3a4eed,#394fee,#3a4eed,#3b49ea,#3d43e6,#3b4aea,#335cee,#3160ee,#2d67ee,#2a6eee,#2773ec,#3e3fe4,#3f3fe4,#3f3de3,#2b6dee,#2a6eee,#2e67ee,#3e42e6,#3e41e6,#3e3fe4,#3f3ee4,#3e41e5,#3c47e9,#394fed,#3755ee,#3755ee,#394fed,#3b4beb,#3852ee,#3b49ea,#3c47e9,#3b48ea,#3c48e9,#3852ee,#3d42e6,#4235de,#4330d7,#432cd2,#432ed5,#4429cd,#4429cd,#432acf,#432ed5,#4233dc)"></i><i style="top:75px;background:linear-gradient(90deg,#4136df,#4138e0,#4039e1,#403ae2,#3f3de3,#3e40e5,#3d44e7,#3c47e9,#3b49ea,#3a4dec,#3852ee,#3558ee,#335dee,#325eee,#335cee,#345aee,#335bee,#325eee,#3062ee,#2f65ee,#2f64ee,#2a6eee,#217ee6,#2479e8,#2675ea,#2872ec,#296fed,#4137e0,#4235df,#4233dd,#3161ee,#325dee,#394fed,#432ed4,#432fd6,#4233dc,#3f3ce3,#3d44e7,#3c47e9,#3c45e8,#3e41e5,#3f3ce3,#403ae1,#3f3fe4,#3950ee,#394fed,#3a4ded,#3b4aea,#3e40e5,#3d43e6,#4231da,#432bd1,#432ace,#432acf,#432fd6,#432ace,#4427ca,#4426c8,#4428cc,#432cd2)"></i><i style="top:76px;background:linear-gradient(90deg,#432fd6,#4330d7,#4232db,#403be2,#3c47e9,#3754ee,#3160ee,#2c6bee,#2871ec,#2872ec,#2a6dee,#2e66ee,#3160ee,#325fee,#3062ee,#2f64ee,#3062ee,#345aee,#3951ee,#3b4aea,#3c47e9,#3656ee,#2a6dee,#2773eb,#237ae8,#1f82e4,#1b89e0,#3851ee,#3a4dec,#3c47e9,#2674eb,#2872ec,#2e66ee,#3f3ce3,#4138e0,#4235de,#4234de,#4137e0,#403be2,#3e3fe5,#3e41e6,#3e40e5,#3f3de3,#3f3de3,#3c48e9,#3e42e6,#3e3fe4,#3e3fe4,#3e3fe4,#3a4eed,#3d44e7,#3f3ce3,#4235df,#4231d9,#4232db,#432cd2,#432bcf,#4428cb,#4426c8,#4426c8)"></i><i style="top:77px;background:linear-gradient(90deg,#3e42e6,#3d43e7,#3c47e9,#3a4beb,#3a4ded,#3a4dec,#3b4beb,#3b4aea,#3b4beb,#394fed,#3755ee,#335bee,#3160ee,#3063ee,#2f63ee,#3061ee,#335cee,#3655ee,#3a4eed,#3c47e9,#3d44e7,#3950ee,#2e66ee,#2c69ee,#2a6dee,#2774eb,#217ee6,#394fee,#3754ee,#3754ee,#1f82e4,#2479e8,#2d67ee,#3f3de3,#3f3de3,#3e41e5,#3c47e9,#3a4dec,#3950ee,#3851ee,#394fee,#3a4dec,#3a4dec,#3853ee,#2f63ee,#325eee,#3558ee,#3754ee,#3a4eed,#3559ee,#3a4dec,#3c47e9,#3c46e8,#3d43e6,#3c46e8,#4137df,#4232db,#4330d7,#4330d7,#4330d8)"></i><i style="top:78px;background:linear-gradient(90deg,#3d43e6,#3c46e8,#3c47e9,#3d42e6,#403be2,#4235de,#4233dd,#4136df,#403be2,#3e41e5,#3c46e8,#3a4cec,#3852ee,#3755ee,#3754ee,#394fed,#3b49ea,#3c47e9,#3c48e9,#3a4beb,#3950ee,#3161ee,#2578e9,#237be7,#227ce6,#227ce7,#237be7,#3d45e8,#3c46e8,#3c47e9,#2479e8,#2576ea,#2c69ee,#3e41e6,#3e41e6,#3e41e5,#3e41e6,#3d43e6,#3d44e7,#3d45e8,#3d45e7,#3d44e7,#3c45e8,#3b4aeb,#3559ee,#3852ee,#3a4dec,#3b4aeb,#3c48e9,#3656ee,#3a4eed,#3b4aeb,#3c48e9,#3e41e5,#3e40e5,#4231da,#432fd6,#432fd6,#4231da,#4233dd)"></i><i style="top:79px;background:linear-gradient(90deg,#3f3de3,#3d44e7,#3c48ea,#3c46e9,#3e40e5,#4039e1,#4136df,#4138e0,#3e40e5,#3b49ea,#3950ee,#3754ee,#3656ee,#3656ee,#3656ee,#3754ee,#3852ee,#3a4eed,#3a4beb,#3b4beb,#3a4cec,#335cee,#2773ec,#2676ea,#2479e8,#237be7,#227de6,#3c46e8,#3d45e8,#3c45e8,#237be7,#217fe5,#2578e9,#3a4dec,#3c46e8,#403be2,#4233dc,#4330d7,#432ed4,#432bd0,#4429cc,#4427ca,#4428cb,#432cd1,#4137e0,#4137e0,#4137e0,#4137df,#4234de,#3f3ee4,#4233dc,#432fd7,#432fd5,#432fd6,#4234de,#4231da,#4136df,#3e40e5,#3a4dec,#3754ee)"></i><i style="top:80px;background:linear-gradient(90deg,#3d43e6,#3b49ea,#3b4aeb,#3c45e8,#3e3fe4,#403ae2,#4139e1,#4138e1,#4139e1,#4138e0,#4136df,#4234de,#4234dd,#4235df,#403ae2,#3e40e5,#3c45e8,#3b49ea,#3a4dec,#3951ee,#3755ee,#2f65ee,#237be7,#217ee6,#1f81e4,#1d85e2,#1b8adf,#3754ee,#3755ee,#3852ee,#1f81e4,#227ce7,#2a6eee,#3d42e6,#403be2,#4232db,#432dd2,#4428cc,#4426c8,#4426c9,#4428cb,#432acf,#432dd3,#4232da,#3e41e6,#3e3fe4,#3f3de3,#4039e1,#4233dc,#4235de,#432bcf,#4426c8,#4426c8,#4426c8,#432dd3,#432cd1,#432ed5,#4330d8,#4232dc,#4233dc)"></i><i style="top:81px;background:linear-gradient(90deg,#4137df,#4234de,#4233dc,#4233dc,#4233dd,#4136df,#403ae1,#403be2,#403ae1,#4039e1,#4039e1,#403ae1,#3f3ce3,#3e41e5,#3c48e9,#3950ee,#3459ee,#3061ee,#2e65ee,#2f64ee,#325eee,#3062ee,#2a6eee,#2b6bee,#2a6eee,#2675eb,#227ce6,#3b4beb,#3a4dec,#3950ee,#1c87e1,#1b8bdf,#1f82e4,#3657ee,#3950ee,#3d45e8,#4138e1,#4231d9,#432dd3,#432cd1,#432dd2,#432ed5,#432fd6,#4231d9,#403be2,#4235de,#4232db,#432fd7,#432cd1,#4330d7,#432acf,#432ace,#432cd1,#432ed5,#4234de,#4231d9,#4231da,#4231da,#4232db,#4233dd)"></i><i style="top:82px;background:linear-gradient(90deg,#4137df,#4234dd,#4234de,#403ae1,#3e41e6,#3c47e9,#3c47e9,#3e41e5,#4139e1,#4233dd,#4232db,#4233dc,#4234dd,#4235df,#4139e1,#3e3fe4,#3c48e9,#3950ee,#3853ee,#3a4eed,#3c46e8,#3a4dec,#3062ee,#2b6bee,#237ae8,#1c87e1,#1894d9,#3160ee,#3063ee,#3062ee,#1895d9,#1a8cde,#2478e9,#3c47e9,#3f3ee4,#4136df,#4231da,#432fd6,#432cd2,#432bcf,#432ace,#432bd0,#432ed4,#4231d9,#403ae2,#4232da,#432cd1,#4427c9,#4426c8,#4426c9,#4426c8,#4426c8,#432ace,#432ed5,#4136df,#4232da,#4232db,#4234de,#3f3ee4,#3b49ea)"></i><i style="top:83px;background:linear-gradient(90deg,#4234de,#4138e0,#3f3ee4,#3d44e7,#3c46e9,#3d45e8,#3e41e5,#3f3de3,#403ae2,#403be2,#3e40e5,#3c48e9,#3a4eed,#3a4dec,#3c46e8,#3f3de3,#403be2,#3e41e5,#3b49ea,#3a4eed,#394fed,#335bee,#2970ed,#2774eb,#237be7,#1d85e2,#1893da,#2f65ee,#2b6cee,#2c6bee,#1797d7,#1d86e2,#2a6eee,#3f3ee4,#403be2,#4039e1,#4137e0,#4234de,#4231d9,#432dd4,#432bd1,#432bd0,#432cd2,#432fd6,#4137e0,#4232db,#4330d7,#432ed5,#432cd2,#4233dc,#4231d9,#4233dc,#3f3ee4,#3c48e9,#3755ee,#3b4aea,#3d45e8,#3e40e5,#3e3fe4,#3e3fe4)"></i><i style="top:84px;background:linear-gradient(90deg,#3853ee,#394fed,#3b49ea,#3d42e6,#3f3de3,#4039e1,#4137e0,#4137df,#4137e0,#4136df,#4234dd,#4232db,#4233dc,#4235de,#4039e1,#3f3ce3,#3e41e5,#3c48e9,#3851ee,#345aee,#3161ee,#2971ed,#1d86e1,#1c88e0,#1b8bdf,#198fdc,#1893da,#345aee,#345aee,#345bee,#1992db,#1991db,#1e83e3,#3656ee,#3950ee,#3b48ea,#3f3fe4,#4235df,#4231d9,#4330d7,#4231da,#4136df,#3f3ee3,#3d44e7,#3a4dec,#3e40e5,#4137e0,#4233dd,#4232da,#403be2,#4233dc,#4233dc,#403be2,#3c48e9,#325eee,#3160ee,#2e66ee,#2d68ee,#2e66ee,#325dee)"></i><i style="top:85px;background:linear-gradient(90deg,#3558ee,#325eee,#3160ee,#325eee,#3557ee,#3a4dec,#3e41e6,#4235df,#4330d7,#432cd1,#4429cc,#4427ca,#4428cc,#432cd1,#4231d9,#4137e0,#3e40e5,#3b49ea,#394fee,#3753ee,#3753ee,#325eee,#2970ed,#2871ec,#2675ea,#237ae8,#207fe5,#3b49ea,#3c48e9,#3c45e8,#2577e9,#237ae8,#2676ea,#3754ee,#3656ee,#3753ee,#3a4dec,#3c46e8,#3e40e5,#3f3ce3,#403ae2,#403ae1,#403ae1,#3f3de3,#3b4aeb,#3d44e7,#3e3fe4,#403be2,#4234de,#403be2,#4231d9,#432ed5,#4231d9,#4138e0,#394fed,#3655ee,#3062ee,#2d68ee,#2c69ee,#2f65ee)"></i><i style="top:86px;background:linear-gradient(90deg,#4427ca,#4429cd,#432cd1,#432ed4,#432ed5,#432dd2,#4429cd,#4426c8,#4426c8,#4426c8,#432ace,#4330d7,#4039e1,#3c45e8,#394fed,#3655ee,#3459ee,#335cee,#325eee,#325fee,#325dee,#2e67ee,#2576ea,#2872ec,#2a6eee,#2c6aee,#2d68ee,#4232da,#432fd7,#432ed5,#345aee,#3160ee,#335bee,#4136df,#4234de,#4233dc,#4232db,#4232db,#4233dd,#4234de,#4138e0,#3f3ee3,#3c46e8,#3851ee,#3063ee,#345aee,#394fed,#3d44e7,#4137e0,#403ae2,#4231d9,#4330d7,#4234dd,#403be2,#3b4aeb,#3c45e8,#3b49ea,#3b4beb,#3a4eed,#394fee)"></i><i style="top:87px;background:linear-gradient(90deg,#4426c8,#4427c9,#4428cc,#4429cd,#432ace,#432bcf,#432cd1,#432dd3,#432ed4,#432fd6,#4330d7,#4232db,#4235df,#403be2,#3e41e6,#3c47e9,#3a4dec,#3852ee,#3557ee,#335bee,#335dee,#2d68ee,#2478e9,#2675eb,#2773ec,#2872ec,#2773ec,#3f3de3,#3f3de3,#3e3fe4,#2576ea,#227de6,#2578e9,#3852ee,#3853ee,#3950ee,#3b4beb,#3d45e8,#3e40e5,#3f3ce2,#403be2,#3f3ee4,#3d45e8,#3950ee,#3062ee,#3557ee,#3b49ea,#3f3ce3,#4233dc,#3f3ce3,#4136df,#4138e0,#3e3fe4,#3c46e8,#3753ee,#3a4eed,#3851ee,#3754ee,#3459ee,#335bee)"></i><i style="top:88px;background:linear-gradient(90deg,#432cd2,#432ed4,#4231d9,#4234dd,#4137e0,#4138e1,#4138e0,#4138e0,#4137e0,#4138e0,#403ae2,#3e3fe4,#3d45e8,#3b4aeb,#394fed,#3852ee,#3655ee,#3657ee,#3558ee,#345aee,#335cee,#2c69ee,#227ce7,#2479e8,#2577e9,#2675ea,#2676ea,#3e41e5,#3d43e6,#3c47e9,#207fe5,#1f82e4,#2674eb,#3d44e7,#403ae1,#4234dd,#4234de,#3f3de3,#3b49ea,#3853ee,#3557ee,#3657ee,#3754ee,#3852ee,#3657ee,#3c46e8,#403be2,#4137e0,#4138e0,#3b49ea,#3d44e7,#3d44e7,#3b49ea,#3a4dec,#3656ee,#3b49ea,#3d44e7,#3e41e5,#3d42e6,#3d44e7)"></i><i style="top:89px;background:linear-gradient(90deg,#4330d8,#4330d8,#4231da,#4233dd,#4137e0,#3f3ce3,#3e40e5,#3d43e7,#3d43e7,#3e42e6,#3e41e5,#3d43e6,#3c46e8,#3b4aeb,#394fed,#3853ee,#3656ee,#3558ee,#3459ee,#345aee,#345bee,#2d68ee,#217de6,#207fe5,#2080e5,#217de6,#2576ea,#4138e0,#4232dc,#4232da,#3161ee,#325fee,#3a4cec,#4428cb,#4426c8,#4426c8,#4426c8,#4429cc,#432cd1,#432fd6,#4232db,#4138e0,#3e3fe5,#3c46e8,#3950ee,#3d44e7,#403be2,#4039e1,#403ae1,#3b49ea,#3d42e6,#3e3fe5,#3e40e5,#3e3fe4,#3d43e7,#4234de,#4233dc,#4233dd,#403ae1,#3f3ee4)"></i><i style="top:90px;background:linear-gradient(90deg,#4330d7,#4231d9,#4330d8,#432ed5,#432cd1,#432bcf,#432acf,#432ace,#4428cb,#4426c8,#4426c8,#4429cd,#432fd6,#4138e0,#3c46e8,#3950ee,#3557ee,#335bee,#335dee,#325dee,#325dee,#2c6bee,#217fe5,#217ee6,#237ae8,#2774eb,#2b6bee,#4231d9,#432dd4,#432dd3,#345bee,#3062ee,#325eee,#3f3ce3,#3f3de3,#3f3ce3,#4039e1,#4136df,#4234de,#4234de,#4136df,#4137e0,#4136df,#4136df,#3e41e5,#403be2,#4039e1,#403ae1,#4138e0,#3d43e7,#4137e0,#4234dd,#4138e0,#3e3fe4,#3a4ded,#3c47e9,#3c47e9,#3c46e8,#3c47e9,#3c47e9)"></i><i style="top:91px;background:linear-gradient(90deg,#432acf,#4330d7,#4136df,#403ce2,#403ae1,#4233dc,#432fd5,#432cd1,#432cd2,#432fd7,#4234dd,#403ce2,#3e42e6,#3d45e8,#3c45e8,#3d43e6,#3e3fe4,#3f3de3,#3e3fe4,#3d44e7,#3b4beb,#325fee,#2577e9,#2479e8,#2676ea,#296fee,#2e67ee,#4330d7,#432dd3,#432dd3,#3558ee,#335bee,#3655ee,#4234dd,#4137e0,#403ae1,#3f3de3,#3e41e5,#3c45e8,#3b4aea,#3b4beb,#3b49ea,#3d44e7,#3d42e6,#3b4beb,#3d45e7,#3d43e7,#3c45e8,#3d45e8,#3950ee,#3e41e5,#4138e0,#4138e0,#3f3ce3,#3a4dec,#3b4beb,#3950ee,#3853ee,#3657ee,#3557ee)"></i><i style="top:92px;background:linear-gradient(90deg,#4426c8,#4426c8,#4426c8,#4426c8,#4426c8,#4427c9,#4428cb,#432ace,#432cd1,#432fd6,#4232db,#4235df,#403ae1,#403ce2,#4039e1,#4233dd,#4232da,#4233dc,#4138e0,#3e40e5,#3c46e8,#3558ee,#2773ec,#237be7,#2080e5,#217fe5,#2676ea,#4233dd,#432dd4,#432bd0,#3852ee,#3754ee,#3a4dec,#432fd5,#432fd7,#4231d9,#4233dc,#4136df,#4039e1,#403be2,#3f3de3,#3f3fe4,#3e40e5,#3d43e6,#3a4cec,#3e41e6,#403be2,#403be2,#3f3de3,#3a4eed,#3c45e8,#3e40e5,#3e40e5,#3d45e8,#3753ee,#3a4cec,#3b4aeb,#3c48e9,#3b4beb,#3951ee)"></i><i style="top:93px;background:linear-gradient(90deg,#4233dc,#4232da,#4330d8,#4330d8,#4233dc,#4138e0,#3f3ee4,#3e40e5,#3e40e5,#3f3ee4,#3f3ce3,#3f3de3,#3e3fe4,#3f3fe4,#403ae2,#4234dd,#4330d8,#432fd6,#4330d7,#4233dd,#3f3de3,#3655ee,#2774eb,#227ce7,#217fe5,#237ae8,#2871ed,#4233dc,#432ed4,#432ace,#3d45e8,#4039e1,#432dd3,#4426c8,#4426c8,#4426c8,#4429cc,#432fd6,#4232db,#4232db,#4232db,#4233dc,#4136df,#3f3ee4,#3a4eed,#3b4aeb,#3b4aeb,#3a4ceb,#3b48ea,#3a4eed,#403ae1,#4330d8,#432fd7,#4231d9,#403ae2,#4232db,#432fd7,#432dd2,#432dd3,#4330d8)"></i><i style="top:94px;background:linear-gradient(90deg,#432cd2,#4231da,#4137e0,#3f3ee3,#3e42e6,#3d44e7,#3d45e8,#3c46e8,#3c48e9,#3b4aeb,#3a4cec,#3a4eed,#3a4ded,#3b4beb,#3c47e9,#3e42e6,#3f3ee4,#403ce2,#3f3de3,#3d43e7,#3a4beb,#3062ee,#207fe5,#1d86e2,#1d85e2,#237be7,#2d69ee,#432bd0,#4426c8,#4426c8,#4137e0,#4136df,#4330d8,#4426c8,#4426c8,#432bcf,#4232dc,#3f3de3,#3d44e7,#3d45e8,#3e42e6,#3f3de3,#4137e0,#4234de,#3f3de3,#4137e0,#4138e0,#3e40e5,#3c48e9,#345aee,#3a4dec,#3f3fe4,#4233dd,#432dd3,#432cd1,#4426c8,#4426c8,#4426c8,#4426c8,#4429cc)"></i><i style="top:95px;background:linear-gradient(90deg,#4137e0,#3f3de3,#3e40e5,#3e41e5,#3e41e6,#3e40e5,#3f3fe4,#3e3fe4,#3d44e7,#3a4dec,#3655ee,#3559ee,#3656ee,#3950ee,#3b49ea,#3c45e8,#3d45e8,#3b49ea,#394fee,#3656ee,#345aee,#2c6aee,#2080e5,#1f82e4,#207fe5,#2676ea,#2d68ee,#432dd2,#4428cb,#4426c9,#3b4beb,#394fed,#3b4aeb,#432fd5,#4231d9,#4233dd,#403ae1,#3d45e8,#3951ee,#345aee,#345bee,#3655ee,#3a4eed,#3b4beb,#3950ee,#3e41e5,#4234dd,#432fd7,#432ed4,#4138e0,#4234de,#4233dc,#4231d9,#432dd3,#432dd3,#4426c8,#4426c8,#4427c9,#432bd0,#432fd7)"></i><i style="top:96px;background:linear-gradient(90deg,#3d43e7,#3e41e6,#3f3de3,#4137e0,#4330d8,#432acf,#4426c8,#4426c8,#4428ca,#432cd2,#4231da,#4138e0,#3f3ee4,#3e40e5,#3f3fe4,#403ce2,#403ae1,#403be2,#3f3de3,#3f3ee4,#3f3ee4,#3c47e9,#3657ee,#3853ee,#394fed,#3b4beb,#3c48e9,#4426c8,#4426c8,#4428cb,#3753ee,#3557ee,#3a4cec,#432bd0,#4429cd,#4428cc,#432ace,#432dd4,#4233dc,#3f3fe4,#3b49ea,#3a4eed,#3a4cec,#3b48ea,#3a4cec,#3f3ee4,#4235df,#4232db,#4231d9,#4138e0,#4330d8,#432cd1,#432ace,#4428cb,#4429cd,#4426c8,#4426c8,#4426c8,#4426c8,#4426c8)"></i><i style="top:97px;background:linear-gradient(90deg,#4039e1,#3e3fe5,#3e41e5,#3f3ce3,#4234de,#432ed5,#4429cc,#4426c8,#4426c8,#4426c8,#4426c8,#432acf,#4231da,#403be2,#3d44e7,#3c48e9,#3c48e9,#3c46e8,#3d45e7,#3d45e8,#3c46e8,#3754ee,#2d67ee,#2d68ee,#2d68ee,#2d68ee,#2d68ee,#4233dc,#4232da,#4231d9,#345bee,#3656ee,#3c47e9,#4429cd,#4429cd,#4429cd,#4428cc,#4427c9,#4426c9,#4428cc,#432cd2,#4330d8,#4233dd,#4039e1,#3b49ea,#3c46e8,#3c45e8,#3d45e8,#3e40e5,#3d44e7,#4232da,#432ace,#4427c9,#4427ca,#432ed5,#432dd3,#432ed5,#432dd3,#432cd1,#432ace)"></i><i style="top:98px;background:linear-gradient(90deg,#403ae1,#3d43e6,#3c46e8,#3d45e8,#3e40e5,#403ae1,#4235de,#4232db,#4231d9,#4330d8,#432fd7,#432fd6,#432ed5,#432ed5,#432fd6,#4231d9,#4233dc,#4235de,#4138e0,#3f3ee4,#3d45e7,#3657ee,#2b6dee,#2b6cee,#2c6aee,#2c6aee,#2b6dee,#403ae1,#4138e0,#4234dd,#325dee,#3459ee,#3950ee,#4232da,#4233dd,#4233dc,#4231d9,#432fd6,#432ed5,#432ed5,#432ed5,#432fd7,#4233dc,#3e3fe4,#3657ee,#3557ee,#3754ee,#3a4beb,#3f3ee4,#3f3ee4,#432fd6,#432acf,#432bcf,#432cd1,#4231da,#432cd1,#432ace,#4426c9,#4426c8,#4426c8)"></i><i style="top:99px;background:linear-gradient(90deg,#4233dc,#4136df,#4137e0,#4136df,#4233dc,#4231d9,#432ed5,#432dd2,#432cd2,#432ed4,#4330d7,#4231d9,#4231d9,#432fd6,#432ed4,#432ed5,#4330d8,#4233dc,#4137e0,#403ce2,#3e41e5,#3853ee,#2b6dee,#2773eb,#2675eb,#2871ec,#2c6aee,#4330d8,#432cd1,#4429cd,#3a4eed,#3754ee,#3754ee,#4136df,#4136df,#4232dc,#432fd7,#432ed5,#432fd6,#4232db,#4136df,#3f3de3,#3c45e8,#3950ee,#2f64ee,#3062ee,#3160ee,#325dee,#3755ee,#3656ee,#3f3de3,#432fd7,#432bd0,#4429cc,#432acf,#4426c8,#4426c8,#4426c8,#4426c8,#4426c8)"></i><i style="top:100px;background:linear-gradient(90deg,#3754ee,#3754ee,#3a4beb,#3f3de3,#4231d9,#432bcf,#4428ca,#4428cb,#432ace,#432dd3,#432fd6,#432fd6,#432dd4,#432dd3,#432ed4,#432fd6,#4330d8,#4232db,#4235df,#403be2,#3e40e5,#3950ee,#2d69ee,#2a6eee,#2970ed,#2b6bee,#3062ee,#432cd1,#4427c9,#4426c8,#3d42e6,#3c47e9,#3d44e7,#432cd2,#432ed5,#4231d9,#4234de,#403be2,#3e3fe5,#3e41e5,#3e40e5,#3e41e6,#3c46e8,#394fee,#3062ee,#325eee,#325fee,#3063ee,#2f64ee,#2a6dee,#3657ee,#3d43e7,#4235de,#432ed5,#432cd2,#4426c8,#4426c8,#4426c8,#4426c8,#4426c8)"></i><i style="top:101px;background:linear-gradient(90deg,#3655ee,#3160ee,#3161ee,#3459ee,#3b4beb,#4039e1,#432dd3,#4426c8,#4426c8,#4426c8,#4426c8,#4426c8,#4426c8,#4426c8,#432ace,#432ed5,#4231da,#4233dd,#4234de,#4235de,#4137e0,#3c48e9,#3062ee,#2c6aee,#2970ed,#2774eb,#2675ea,#403be2,#4233dd,#432fd6,#3852ee,#3a4dec,#3e41e5,#4427ca,#4429cc,#432cd1,#4330d7,#4232db,#4233dd,#4234de,#403ae1,#3d44e7,#3852ee,#3161ee,#2871ec,#2e66ee,#3459ee,#3a4cec,#3f3ce3,#403be2,#432dd3,#4428cb,#4428cc,#432ace,#432fd6,#4428cc,#4426c8,#4426c8,#4426c8,#4426c8)"></i><i style="top:102px;background:linear-gradient(90deg,#3d45e7,#3a4dec,#3a4eed,#3b4beb,#3d45e7,#3f3de3,#4234de,#4330d8,#432dd3,#432bd0,#4429cc,#4426c8,#4426c8,#4426c8,#4426c8,#432dd3,#4235df,#3e41e5,#3d43e6,#3f3ce3,#4233dd,#4137e0,#3c48e9,#3a4cec,#3753ee,#3559ee,#335bee,#432dd3,#432cd1,#432bcf,#394fee,#3950ee,#3a4beb,#4330d8,#4232db,#4233dd,#4233dc,#4231da,#4330d7,#432fd6,#4231d9,#4136df,#3e42e6,#3950ee,#2f65ee,#325fee,#3657ee,#3a4eed,#3d42e6,#3d44e7,#4232db,#432ed4,#432fd7,#4233dd,#3e42e6,#4137e0,#4330d7,#4427ca,#4426c8,#4426c8)"></i><i style="top:103px;background:linear-gradient(90deg,#3b4aeb,#3950ee,#3852ee,#3951ee,#3a4beb,#3d42e6,#4136df,#432fd7,#432cd2,#432cd1,#432dd3,#432ed4,#432dd3,#432cd2,#432dd3,#4330d8,#4234de,#4138e0,#4234de,#432fd5,#4428cc,#432bcf,#4234dd,#4138e0,#3f3de3,#3e41e5,#3d45e7,#4426c8,#4429cd,#432dd3,#345aee,#345bee,#3851ee,#4231d9,#4231d9,#4330d7,#432ed4,#432cd1,#432bd0,#432bd1,#432ed5,#4233dd,#3f3fe4,#3a4cec,#325fee,#3558ee,#3851ee,#3a4ceb,#3d45e8,#3a4cec,#3f3ee4,#4136df,#4235df,#4235de,#403ae1,#432ed5,#4428cb,#4426c8,#4426c8,#4426c8)"></i><i style="top:104px;background:linear-gradient(90deg,#4330d7,#4234de,#4039e1,#3f3ce3,#3f3fe4,#3d42e6,#3d44e7,#3e41e6,#3f3ce3,#4137df,#4232db,#432ed5,#4429cd,#4426c8,#4426c8,#4426c8,#4426c8,#4426c8,#4426c8,#4426c8,#432ace,#4233dc,#3c47e9,#3b4aea,#3a4cec,#394fed,#3851ee,#4429cd,#4429cd,#4429cd,#3a4eed,#3a4eed,#3d44e7,#4429cd,#4428cb,#4426c8,#4426c8,#4427c9,#432ace,#432ed5,#4233dc,#403ae1,#3e41e6,#3b49ea,#3557ee,#3a4dec,#3d44e7,#3f3de3,#4138e0,#3c45e8,#3f3fe4,#3f3de3,#3f3de3,#4137e0,#4235df,#432ace,#4426c8,#4426c8,#4426c8,#4426c8)"></i><i style="top:105px;background:linear-gradient(90deg,#4231d9,#4232dc,#4136df,#3f3ee4,#3b48ea,#3951ee,#3754ee,#3852ee,#3b4beb,#3e41e5,#4234de,#432fd6,#432bd0,#432ace,#432ace,#432acf,#4429cd,#4427c9,#4426c8,#4426c8,#4426c8,#4428cb,#4232db,#4233dc,#4136df,#3f3de3,#3c45e8,#4426c8,#4426c8,#4426c8,#4235df,#4232db,#432dd4,#4426c8,#4426c8,#432ace,#432fd6,#4231da,#4231da,#4330d7,#432ed5,#432dd3,#432cd2,#432dd3,#4233dc,#432fd6,#432ed5,#432fd7,#4330d7,#4137e0,#4330d7,#432dd3,#432fd5,#4330d8,#4136df,#432ed5,#432acf,#4427ca,#4428cb,#4429cd)"></i><i style="top:106px;background:linear-gradient(90deg,#4232db,#4039e1,#3d45e7,#3852ee,#3160ee,#2d69ee,#2d68ee,#335dee,#3b4beb,#4138e1,#432fd6,#432bd0,#432acf,#432acf,#432ace,#4427c9,#4426c8,#4426c8,#4426c8,#4427ca,#432cd2,#403ae2,#3655ee,#315fee,#2d69ee,#2871ed,#2674eb,#3f3ce3,#4235de,#432fd6,#3a4cec,#3e41e6,#4233dd,#4426c8,#4427ca,#432dd2,#4330d8,#4231da,#4330d8,#432fd6,#432fd6,#4231d9,#4233dd,#4139e1,#3d44e7,#403ae2,#4234de,#4232db,#432fd6,#4233dc,#432dd3,#432cd1,#432dd3,#432dd3,#432ed5,#4426c8,#4426c8,#4426c8,#4426c8,#4426c8)"></i><i style="top:107px;background:linear-gradient(90deg,#432ed5,#4330d8,#4233dd,#403be2,#3d45e7,#3a4eed,#3755ee,#3656ee,#3950ee,#3c46e8,#4139e1,#4330d8,#432cd2,#432acf,#4429cd,#4428cc,#4427ca,#4426c8,#4426c8,#4428cb,#432bd0,#4137e0,#3951ee,#3656ee,#3558ee,#3656ee,#3950ee,#4426c8,#4426c8,#4426c8,#3f3fe4,#3e41e5,#403ae1,#4426c8,#4427ca,#4428cb,#4428cc,#4428cb,#4428cb,#4428cc,#432bd0,#432fd6,#4235df,#3e42e6,#3852ee,#3b48ea,#3f3ce3,#4232db,#432cd2,#4231d9,#432dd3,#432ed4,#4330d8,#432fd6,#432fd5,#4426c8,#4426c8,#4426c8,#4426c8,#4426c8)"></i><i style="top:108px;background:linear-gradient(90deg,#4235de,#3d42e6,#3a4dec,#3754ee,#3559ee,#3558ee,#3852ee,#3b49ea,#3f3ee4,#4234dd,#432ed5,#432acf,#4427ca,#4426c8,#4427c9,#4428cb,#4429cd,#432bd0,#432cd1,#432bd0,#432bd0,#4231d9,#3e41e6,#3d44e7,#3c47e9,#3b4beb,#3951ee,#432bd0,#432cd2,#432bd0,#3a4beb,#3e41e6,#4232da,#4426c8,#4426c8,#4426c8,#4426c8,#432ace,#432ed5,#4232db,#4234de,#4137e0,#403ae1,#3e3fe4,#3a4dec,#3d44e7,#403be2,#4233dc,#432ed5,#4234de,#4330d7,#432fd6,#432fd7,#432fd6,#4232dc,#432cd2,#4429cd,#4426c8,#4426c8,#4426c8)"></i><i style="top:109px;background:linear-gradient(90deg,#403be2,#3e40e5,#3c45e8,#3b4beb,#3951ee,#3755ee,#3656ee,#3754ee,#3950ee,#3b48ea,#3f3ee4,#4233dd,#432ed4,#432ace,#4429cc,#4429cd,#432cd2,#4231d9,#4136df,#3f3de3,#3e40e5,#3a4cec,#335dee,#335cee,#325dee,#3063ee,#2c6bee,#3f3ce3,#3f3ee4,#403ae2,#3062ee,#3853ee,#403ce2,#4426c8,#4426c8,#4426c8,#4427c9,#432acf,#432dd2,#432dd4,#432ed4,#432ed5,#432fd6,#4232db,#3f3fe4,#403be2,#4137e0,#4234dd,#4330d8,#4234de,#432dd3,#432bd0,#432cd1,#432cd2,#4330d7,#4427ca,#4426c8,#4426c8,#4426c8,#4426c8)"></i><i style="top:110px;background:linear-gradient(90deg,#3e42e6,#3e41e6,#3f3fe4,#3f3de3,#3f3de3,#3f3ce3,#4039e1,#4234de,#4231d9,#432fd6,#432dd2,#432bd0,#4429cd,#4427ca,#4426c8,#4426c8,#4426c8,#4429cd,#4330d7,#4138e0,#3e40e5,#394fee,#2f65ee,#2d68ee,#2b6dee,#2871ec,#2774eb,#3f3de3,#403ae1,#4234de,#325fee,#3558ee,#3c47e9,#4428cb,#4426c8,#4426c8,#4426c8,#4426c8,#4426c8,#4427c9,#4429cd,#432cd1,#432ed5,#4232db,#3e3fe4,#3f3ce3,#3f3ce3,#3f3ce3,#4039e1,#3e41e5,#4233dc,#432ed4,#432bd0,#4429cd,#432acf,#4426c8,#4426c8,#4426c8,#4426c8,#4426c8)"></i><i style="top:111px;background:linear-gradient(90deg,#4233dc,#432fd6,#432cd2,#432cd1,#432dd4,#4330d8,#4233dd,#4138e0,#3f3de3,#3f3ce3,#4235de,#432ed5,#4428cb,#4426c8,#4426c8,#4426c8,#4426c8,#432ace,#4330d8,#4039e1,#3d44e7,#345aee,#2577ea,#227de6,#217ee6,#237be7,#2577e9,#3f3ee4,#3f3ce3,#4138e1,#3063ee,#3558ee,#3d44e7,#4426c8,#4426c8,#4426c8,#4426c8,#4426c8,#4428cb,#432bcf,#432cd1,#432bd1,#432acf,#432cd1,#4232db,#432ed5,#432bd0,#4429cc,#4427ca,#432ed5,#432bd0,#4429cd,#4426c8,#4426c8,#4426c8,#4426c8,#4426c8,#4426c8,#4426c8,#4426c8)"></i><i style="top:112px;background:linear-gradient(90deg,#4330d7,#4231d9,#4231d9,#4330d8,#432fd6,#432fd7,#4231d9,#4233dd,#4138e0,#403be2,#403ae1,#4233dd,#432dd3,#4426c9,#4426c8,#4426c8,#4426c8,#4426c8,#4426c8,#4428cb,#432acf,#4235df,#3950ee,#3558ee,#325dee,#3160ee,#2e65ee,#4235df,#4137e0,#4234de,#335cee,#3851ee,#3e40e5,#4426c8,#4426c8,#4426c8,#4426c8,#4426c8,#4426c8,#4426c8,#4426c8,#4426c8,#4426c8,#4427ca,#432dd3,#4429cd,#4428cb,#432acf,#432ed4,#3f3de3,#4039e1,#4136df,#4233dc,#4330d8,#4232da,#432bd0,#432acf,#432ace,#432cd1,#432dd3)"></i><i style="top:113px;background:linear-gradient(90deg,#4330d7,#432fd6,#432dd4,#432bd0,#4429cd,#4428cb,#4428cb,#4428cb,#4429cd,#432bd0,#432dd4,#432fd6,#4330d7,#432ed5,#432cd2,#432ace,#4428cc,#4428cb,#4428ca,#4428cb,#432bd0,#4039e1,#335cee,#2b6dee,#237ae8,#1e83e3,#1b8adf,#3853ee,#3a4dec,#3d43e6,#2e67ee,#345aee,#3b48ea,#432ace,#4429cd,#4428cb,#4426c8,#4426c8,#4426c8,#4426c8,#4426c8,#4427ca,#4429cd,#432bcf,#432dd3,#4426c8,#4426c8,#4426c8,#4426c8,#4330d8,#4330d8,#4231d9,#4231da,#432fd6,#432fd6,#4426c8,#4426c8,#4426c8,#4426c8,#4426c8)"></i><i style="top:114px;background:linear-gradient(90deg,#4426c8,#4427c9,#4429cd,#432dd3,#4231da,#4136df,#403be2,#3f3de3,#403be2,#4136df,#4232db,#432fd5,#432cd1,#432ace,#432ace,#432ace,#432bd0,#432cd1,#432ed5,#4231da,#4136df,#3b4aea,#2f65ee,#2a6eee,#2479e8,#1d85e2,#1990dc,#335bee,#345aee,#3852ee,#2478e9,#2d69ee,#3851ee,#432bd0,#4428ca,#4426c8,#4427c9,#432ace,#432ed5,#4233dc,#4138e0,#403be2,#403ae1,#4137e0,#4139e1,#432ed4,#4428cc,#4428ca,#4429cd,#4234de,#4233dc,#4233dc,#4232db,#432ed5,#432cd2,#4426c8,#4426c8,#4426c8,#4426c8,#4426c8)"></i><i style="top:115px;background:linear-gradient(90deg,#4426c8,#4426c8,#4426c8,#432cd1,#4232db,#403ae1,#403be2,#4235df,#432fd6,#4429cc,#4426c8,#4426c8,#4426c8,#4426c8,#4426c8,#4426c8,#4428cb,#432dd4,#4232db,#4137e0,#3f3ce3,#3b4beb,#3161ee,#2e66ee,#2b6dee,#2774eb,#2478e9,#3e42e6,#3f3ee4,#4137e0,#335cee,#3a4dec,#4137e0,#4426c8,#4426c8,#4426c8,#4426c8,#4426c8,#4426c8,#4426c8,#4426c8,#4428cb,#4427ca,#4426c8,#4429cd,#4426c8,#4426c8,#4429cc,#432cd1,#4137e0,#4233dd,#4233dd,#4234dd,#4232da,#4231da,#4426c8,#4426c8,#4426c8,#4426c8,#4426c8)"></i><i style="top:116px;background:linear-gradient(90deg,#4426c8,#4426c8,#4426c8,#4429cc,#432fd6,#4234de,#4139e1,#4138e1,#4235df,#4232db,#4330d7,#432ed5,#432dd3,#432bd0,#4429cc,#4428cb,#432acf,#4231d9,#3f3de3,#3b4beb,#3753ee,#2f63ee,#2577e9,#2577e9,#2675ea,#2871ed,#2b6cee,#4234de,#4233dc,#4231d9,#3459ee,#3852ee,#3e41e5,#4426c8,#4426c8,#4426c8,#4426c8,#4426c8,#4426c8,#4426c8,#4426c8,#4426c8,#4426c8,#4426c8,#432ed4,#432cd1,#432bd0,#432cd1,#432cd2,#4234de,#4231d9,#432fd7,#432ed5,#432cd1,#432ed4,#4428cc,#4429cd,#432bcf,#432cd2,#432cd1)"></i><i style="top:117px;background:linear-gradient(90deg,#4426c9,#432ace,#432cd2,#432ed5,#432ed5,#432ed5,#432dd3,#432bd0,#432ace,#4429cd,#432acf,#432cd2,#432ed4,#432dd4,#432cd2,#432bd0,#432cd1,#432ed5,#4233dc,#3f3ee4,#3b4aea,#315fee,#2578e9,#237ae8,#227ce7,#227de6,#227ce7,#3e41e5,#4039e1,#4232db,#3557ee,#3950ee,#3d44e7,#432acf,#432bd0,#432bcf,#4429cd,#4427ca,#4426c8,#4426c8,#4427ca,#432ace,#432dd2,#4330d7,#403ae1,#4137e0,#403ae1,#3f3ee4,#3e3fe4,#3b4beb,#3f3ee4,#4136df,#4234de,#4233dd,#4138e0,#432fd7,#432dd4,#432cd2,#432dd3,#432dd3)"></i><i style="top:118px;background:linear-gradient(90deg,#4429cc,#4429cd,#432bcf,#432dd3,#432fd7,#4233dc,#4136df,#4039e1,#4138e0,#4233dc,#432fd7,#432cd1,#4429cc,#4426c8,#4426c8,#4426c8,#4427c9,#432dd3,#4136df,#3c47e9,#3655ee,#2b6cee,#1e84e3,#1d85e2,#1c87e1,#1c88e0,#1c86e1,#3c48e9,#3f3de3,#4233dd,#335cee,#3558ee,#394fed,#4232da,#4139e1,#3e41e5,#3d44e7,#3e42e6,#403ce2,#4235df,#4233dc,#4231da,#4330d7,#432fd6,#4233dd,#4330d7,#4231d9,#4138e0,#3e41e6,#3655ee,#3a4cec,#3c45e8,#3e41e6,#3f3de3,#3f3de3,#432dd3,#4426c8,#4426c8,#4426c8,#4426c8)"></i><i style="top:119px;background:linear-gradient(90deg,#4233dd,#4232da,#4330d7,#432fd6,#432fd7,#4330d8,#4231d9,#432fd7,#432cd2,#4429cd,#4426c9,#4426c8,#4426c8,#4426c8,#4426c8,#4426c8,#432ace,#4231d9,#3f3ee4,#3a4eed,#335cee,#2674eb,#1892da,#1796d8,#1795d8,#1990db,#1b89e0,#3b48ea,#3f3de3,#4233dd,#335cee,#345aee,#3852ee,#4232db,#4234de,#4137df,#403ae1,#3f3ce3,#3f3ce3,#4139e1,#4233dc,#432fd5,#432bd0,#432acf,#432ed5,#432acf,#4429cd,#432cd2,#4330d8,#3d42e6,#3f3ee4,#403ce2,#403be2,#4139e1,#403be2,#432fd6,#432bd0,#4429cc,#432ace,#432cd1)"></i><i style="top:120px;background:linear-gradient(90deg,#4330d8,#4231da,#4233dc,#4235df,#403ae1,#3f3de3,#3f3de3,#403ae1,#4235df,#4232db,#432fd7,#432cd1,#4428cc,#4427c9,#4429cd,#4231d9,#3e41e6,#3755ee,#2f63ee,#2c6aee,#2c6aee,#2872ec,#217fe5,#2479e8,#2577ea,#2774eb,#2a6eee,#4232da,#432bd0,#4426c8,#3d43e7,#3c47e9,#3b4beb,#4136df,#3d44e7,#3b4beb,#3b4aeb,#3c46e8,#3e42e6,#3e40e5,#3f3de3,#4138e0,#4231da,#432ed4,#432fd6,#4428cb,#4426c8,#4426c8,#4427c9,#4232da,#4231d9,#4232db,#4234de,#4137df,#3e40e5,#4136df,#4234de,#4232db,#4231d9,#4330d8)"></i><i style="top:121px;background:linear-gradient(90deg,#4136df,#4136df,#403ae2,#3e41e5,#3c47e9,#3b4beb,#3a4dec,#3a4cec,#3b4beb,#3b4aeb,#3b4aeb,#3b49ea,#3c46e8,#3e41e5,#3f3de3,#3e3fe4,#3c46e8,#394eed,#3656ee,#345aee,#345bee,#2e67ee,#237ae8,#247ae8,#2774eb,#2d69ee,#345bee,#4427ca,#4426c8,#4426c8,#3e3fe4,#3b49ea,#3950ee,#3f3fe4,#3951ee,#345bee,#345aee,#3851ee,#3c47e9,#3f3fe4,#403ae1,#4137e0,#4234dd,#4232db,#4235df,#432ed4,#4429cd,#4429cd,#432bd1,#403ae1,#4039e1,#4039e1,#4138e0,#4234de,#4138e0,#4330d8,#4330d8,#4232da,#4235de,#4039e1)"></i><i style="top:122px;background:linear-gradient(90deg,#3b4beb,#3753ee,#3655ee,#3852ee,#3a4ceb,#3c47e9,#3d44e7,#3d43e6,#3e41e6,#3f3ee4,#403ae2,#4136df,#4233dc,#4231da,#4231da,#4232db,#4234de,#4138e0,#403be2,#3f3ee4,#3e40e5,#3a4eed,#3062ee,#3061ee,#325eee,#335bee,#3559ee,#432cd2,#432dd2,#432dd3,#3754ee,#3853ee,#3a4cec,#4231da,#4138e1,#3e41e5,#3c45e8,#3c46e8,#3d45e8,#3d42e6,#3f3ee4,#4138e0,#4231da,#432ed5,#4330d8,#432acf,#4429cd,#432cd1,#4330d8,#3d44e7,#3d42e6,#3d43e7,#3c45e8,#3d44e7,#3c47e9,#4137e0,#4233dc,#4232da,#4232db,#4231da)"></i><i style="top:123px;background:linear-gradient(90deg,#4139e1,#3f3de3,#3f3de3,#403be2,#4137e0,#4137e0,#3f3ce3,#3c45e8,#3a4cec,#3a4beb,#3d44e7,#403be2,#4234de,#4234de,#4138e0,#3f3ce3,#3f3ee4,#3f3de3,#3f3de3,#3f3de3,#3f3ce3,#3c45e8,#3755ee,#3753ee,#3754ee,#3656ee,#3558ee,#432dd4,#432ed5,#432fd6,#3558ee,#3754ee,#3b4aeb,#432ed4,#4231d9,#4236df,#3f3ce3,#3e41e5,#3e41e5,#3f3de3,#4137e0,#4231da,#432ed4,#432dd3,#4232da,#432fd6,#432fd7,#4233dd,#403be2,#3851ee,#3a4eed,#3a4dec,#3b4beb,#3d43e7,#3e40e5,#432ed5,#4429cc,#4426c8,#4429cc,#432dd3)"></i></div><div style="position:absolute;left:14px;top:63.9px;width:236px;height:1.7px;background:linear-gradient(90deg,#1795d8,#1795d8,#1795d8,#1795d8,#1795d8,#1795d8,#14afbe,#1fb6ab,#21b6a9,#23b7a7,#24b8a4,#26b8a2,#28b9a0,#2dba9c,#31ba98,#35ba95,#38bb92,#39bb91,#3bbb8f,#3dbb8e,#3ebb8c,#40bc8b,#42bc89,#43bc88,#45bc86,#46bc85,#48bd84,#4abd82,#4bbd81,#4dbd7f,#4fbd7e,#50bd7c,#52be7b,#53be79,#55be78,#a1bf4c,#d9b937,#f1b933,#f2b933,#f3b933,#f3b933,#f4b933,#f5b932,#f5b932,#f6b932,#f7b932,#f7b932,#f8b932,#e2b935,#bcbc41,#80bf5d,#83bf5c,#85bf5a,#88c059,#8bc057,#8dc055,#90c054,#92c052,#95c051,#deb936,#f7c02e,#f7bf2e,#f7be2f,#f7bd2f,#f8bd30,#f8bc30,#f8bb31,#f8ba31,#f8b932,#f8b932,#f7b932,#f6b932,#f5b932,#f5b932,#f2b933,#efb933,#ecb934,#e9b934,#e6b935,#e3b935,#e0b936,#ddb936,#dbb936,#d8b937,#d1ba39,#caba3c,#c4bb3e,#bfbc40,#babc42,#b5bd44,#afbd46,#aabe48,#a5be4a,#a0bf4c,#9bc04e,#95c051,#8ec055,#87c059,#80bf5d,#7dbf5f,#7abf61,#77bf63,#73bf65,#70bf67,#6dbf69,#6abf6b,#66bf6d,#63be6f,#60be71,#5dbe73,#59be75,#56be77,#54be79,#51be7b,#4fbd7d,#4dbd7f,#4abd81,#48bd83,#46bc85)"></div><div style="position:absolute;left:14px;top:65.5px;width:236px;height:1.5px;background:linear-gradient(90deg,#14a0d2,#14a0d2,#14a0d2,#14a0d2,#14a0d2,#14a0d2,#76bf64,#d8b937,#dab936,#dcb936,#dfb936,#e1b936,#e3b935,#e5b935,#e7b934,#eab934,#ebb934,#ebb934,#ecb934,#ecb934,#ecb934,#edb934,#edb934,#edb934,#eeb934,#eeb934,#eeb933,#efb933,#efb933,#efb933,#f0b933,#f0b933,#f0b933,#f1b933,#f1b933,#f1b933,#f1b933,#f1b933,#f1b933,#f1b933,#f1b933,#f1b933,#f1b933,#f1b933,#f1b933,#f1b933,#f1b933,#f1b933,#f1b933,#f1b933,#f1b933,#f1b933,#f1b933,#f1b933,#f1b933,#f1b933,#f1b933,#f1b933,#f1b933,#f8bd30,#f6c72a,#f6c62a,#f6c62a,#f7c52b,#f7c52b,#f7c42b,#f7c42b,#f7c32c,#f7c32c,#f7c22c,#f7c22d,#f7c12d,#f7c12d,#f7c02e,#f7bf2e,#f7bf2f,#f7be2f,#f7bd2f,#f8bd30,#f8bc30,#f8bb31,#f8ba31,#f8ba32,#f8b932,#f7b932,#f7b932,#f6b932,#f5b932,#f5b932,#f4b933,#f3b933,#f3b933,#f2b933,#f1b933,#f1b933,#f0b933,#efb933,#eeb933,#edb934,#edb934,#ecb934,#ebb934,#eab934,#e9b934,#e9b934,#e8b934,#e7b935,#e6b935,#e6b935,#e5b935,#e4b935,#e3b935,#e2b935,#e2b935,#e1b936,#e0b936,#dfb936,#deb936,#deb936)"></div><div style="position:absolute;left:84px;top:63.0px;width:30px;height:1.0px;clip-path:polygon(0 100%,20% 0,80% 0,100% 100%);background:linear-gradient(90deg,#37bb93,#60be71,#96c050,#bfbc40,#bfbc40,#bfbc40,#bfbc40,#bfbc40,#bfbc40,#bfbc40,#bfbc40,#bfbc40,#bfbc40,#96c050,#60be71,#37bb93)"></div><div style="position:absolute;left:133px;top:63.0px;width:40px;height:1.0px;clip-path:polygon(0 0,50% 20%,100% 100%,0 100%);background:linear-gradient(90deg,#bfbc40,#babc42,#b5bd44,#b0bd46,#acbe48,#a7be4a,#a2bf4b,#9dbf4d,#98c04f,#8fc054,#81bf5d,#73bf66,#65be6e,#56be77,#4cbd80,#42bc89,#39bb91,#2fba9a,#27b9a2,#22b7a7,#1eb6ac)"></div><div style="position:absolute;left:288px;top:65.5px;width:236px;height:1.5px;background:linear-gradient(90deg,#14a0d2,#14a0d2,#14a0d1,#14a1d1,#14a1d1,#14a1d1,#14a1d0,#14a2d0,#14a2d0,#14a2cf,#14a2cf,#14a2cf,#14a3ce,#44bc88,#d2ba39,#f6cb27,#f6cb27,#f6cb27,#f6cb27,#f6cb27,#f6cb27,#f6cb27,#f6cb27,#f6cb27,#f6cb27,#f6cb27,#f6cb27,#f6cb27,#f6cb27,#f6cb27,#f6cb27,#f6cb27,#f6cb27,#f6cb27,#f6cb27,#f6cb27,#f6cb27,#f6cb27,#f6cb27,#f6cb27,#f6cb27,#f6cb27,#f6cb27,#f6cb27,#f6cb27,#f6cb27,#f6cb27,#f6cb27,#f6cb27,#f6cb27,#f6cb27,#f6cb27,#f6cb27,#f6cb27,#f6cb27,#f6cb27,#f6cb27,#f6cb27,#f6cb27,#f6cb27,#f6cb27,#f6cb27,#f6cb27,#f6cb27,#f6cb27,#f6cb27,#f6cb27,#f6cb27,#f6cb27,#f6cb27,#f6cb27,#f6cb27,#f6cb27,#f6cb27,#f6cb27,#f6cb27,#f6cb27,#f6cb27,#f6cb27,#f6cb27,#f6cb27,#f6cb27,#f6cb27,#f6cb27,#f6cb27,#f6cb27,#f6cb27,#f7c02e,#f5b932,#ebb934,#e1b936,#d7b937,#d5b938,#d3b939,#d0ba3a,#ceba3a,#ccba3b,#caba3c,#c8bb3d,#c6bb3e,#c4bb3e,#c1bb3f,#bfbc40,#bdbc41,#bbbc42,#b9bc43,#b6bc44,#b4bd44,#b2bd45,#b0bd46,#aebd47,#acbe48,#aabe48,#a7be49,#52be7a,#14a5cb,#14a5cb,#14a5cb,#14a5cb)"></div><div style="position:absolute;left:14px;top:214.4px;width:236px;height:1.1px;background:linear-gradient(90deg,#2081e4,#1f81e4,#1f81e4,#1f82e4,#1f82e4,#1f82e3,#1e83e3,#1e83e3,#1e84e3,#1e84e3,#1e84e2,#1d85e2,#1d85e2,#1d85e2,#1d86e2,#1d86e2,#1c86e1,#1c87e1,#1c87e1,#1991db,#169ad6,#14a3ce,#14a9c5,#14b0bb,#1bb4b1,#24b7a6,#29b99f,#2ab99e,#2bb99d,#2dba9c,#2eba9b,#30ba99,#31ba98,#32ba97,#34ba96,#35ba94,#36bb93,#38bb92,#39bb91,#3abb90,#3cbb8e,#3dbb8d,#3ebc8c,#40bc8b,#41bc8a,#43bc88,#44bc87,#45bc86,#47bc85,#48bd84,#49bd82,#4bbd81,#4cbd80,#4ebd7f,#4fbd7d,#50bd7c,#52be7b,#53be7a,#54be79,#60be71,#62be70,#51be7b,#45bc86,#38bb92,#2cb99d,#24b8a5,#1eb6ac,#18b3b4,#14b0bb,#14abc2,#14a7c9,#14a2cf,#159cd4,#1795d8,#1795d8,#1795d8,#1795d8,#1795d8,#1795d8,#1795d8,#1795d8,#1795d8,#1795d8,#1795d8,#1795d8,#1795d8,#1795d8,#1795d8,#1795d8,#1795d8,#1795d8,#1795d8,#1795d8,#1795d8,#1795d8,#1795d8,#1795d8,#1795d8,#1795d8,#1795d8,#1795d8,#1795d8,#1795d8,#1795d8,#1795d8,#1795d8,#1795d8,#1795d8,#1795d8,#1795d8,#1795d8,#1795d8,#1795d8,#1795d8,#1991db,#1a8dde,#1c88e0,#1d84e2,#2081e4)"></div><div style="position:absolute;left:131.1px;top:16px;width:1.4px;height:124px;background:#4a5157"></div><div style="position:absolute;left:405.6px;top:16px;width:1.8px;height:124px;background:#e8604f"></div><div style="position:absolute;left:131.0px;top:165px;width:1.5px;height:124px;background:#94d0e4"></div><div style="position:absolute;left:253px;top:16px;width:6px;height:124px;background:linear-gradient(180deg,#f8eb14,#f6db1e,#f6cd26,#f7c12d,#f5b932,#eab934,#e0b936,#d2ba39,#b8bc43,#9ebf4d,#7ebf5f,#5bbe75,#41bc8a,#28b9a0,#1db5ad,#14b1ba,#14a9c6,#14a0d1,#1895d9,#1b8adf,#207fe5,#2675ea,#2b6bee,#3061ee,#3558ee,#3a4eed,#3c45e8,#3f3ce3,#4234dd,#432fd6,#432bcf,#4426c8)"></div><div style="position:absolute;left:527.2px;top:16px;width:6.2px;height:124px;background:linear-gradient(180deg,#f8eb14,#f6db1e,#f6cd26,#f7c12d,#f5b932,#eab934,#e0b936,#d2ba39,#b8bc43,#9ebf4d,#7ebf5f,#5bbe75,#41bc8a,#28b9a0,#1db5ad,#14b1ba,#14a9c6,#14a0d1,#1895d9,#1b8adf,#207fe5,#2675ea,#2b6bee,#3061ee,#3558ee,#3a4eed,#3c45e8,#3f3ce3,#4234dd,#432fd6,#432bcf,#4426c8)"></div><div style="position:absolute;left:253px;top:165px;width:6px;height:124px;background:linear-gradient(180deg,#f8eb14,#f6db1e,#f6cd26,#f7c12d,#f5b932,#eab934,#e0b936,#d2ba39,#b8bc43,#9ebf4d,#7ebf5f,#5bbe75,#41bc8a,#28b9a0,#1db5ad,#14b1ba,#14a9c6,#14a0d1,#1895d9,#1b8adf,#207fe5,#2675ea,#2b6bee,#3061ee,#3558ee,#3a4eed,#3c45e8,#3f3ce3,#4234dd,#432fd6,#432bcf,#4426c8)"></div></div>
<svg width="550" height="324" viewBox="0 0 550 324" style="position:absolute;left:0;top:0;font-family:'Liberation Sans',Arial,sans-serif;text-rendering:geometricPrecision;filter:blur(0.3px)"><text x="12.20" y="141.35" font-size="3.95" text-anchor="end" fill="#383838" stroke="#383838" stroke-width="0.07">0</text><text x="12.20" y="125.90" font-size="3.95" text-anchor="end" fill="#383838" stroke="#383838" stroke-width="0.07">5</text><text x="12.20" y="110.45" font-size="3.95" text-anchor="end" fill="#383838" stroke="#383838" stroke-width="0.07">10</text><text x="12.20" y="95.00" font-size="3.95" text-anchor="end" fill="#383838" stroke="#383838" stroke-width="0.07">15</text><text x="12.20" y="79.55" font-size="3.95" text-anchor="end" fill="#383838" stroke="#383838" stroke-width="0.07">20</text><text x="12.20" y="64.10" font-size="3.95" text-anchor="end" fill="#383838" stroke="#383838" stroke-width="0.07">25</text><text x="12.20" y="48.65" font-size="3.95" text-anchor="end" fill="#383838" stroke="#383838" stroke-width="0.07">30</text><text x="12.20" y="33.20" font-size="3.95" text-anchor="end" fill="#383838" stroke="#383838" stroke-width="0.07">35</text><text x="12.20" y="17.75" font-size="3.95" text-anchor="end" fill="#383838" stroke="#383838" stroke-width="0.07">40</text><text x="35.20" y="145.00" font-size="3.95" text-anchor="middle" fill="#383838" stroke="#383838" stroke-width="0.07">50</text><text x="62.29" y="145.00" font-size="3.95" text-anchor="middle" fill="#383838" stroke="#383838" stroke-width="0.07">60</text><text x="89.38" y="145.00" font-size="3.95" text-anchor="middle" fill="#383838" stroke="#383838" stroke-width="0.07">70</text><text x="116.47" y="145.00" font-size="3.95" text-anchor="middle" fill="#383838" stroke="#383838" stroke-width="0.07">80</text><text x="143.56" y="145.00" font-size="3.95" text-anchor="middle" fill="#383838" stroke="#383838" stroke-width="0.07">90</text><text x="170.65" y="145.00" font-size="3.95" text-anchor="middle" fill="#383838" stroke="#383838" stroke-width="0.07">100</text><text x="197.74" y="145.00" font-size="3.95" text-anchor="middle" fill="#383838" stroke="#383838" stroke-width="0.07">110</text><text x="224.83" y="145.00" font-size="3.95" text-anchor="middle" fill="#383838" stroke="#383838" stroke-width="0.07">120</text><text x="132.00" y="151.20" font-size="4.24" text-anchor="middle" fill="#383838" stroke="#383838" stroke-width="0.07">Fibre Distance / m</text><text x="0" y="0" font-size="4.05" text-anchor="middle" fill="#383838" transform="translate(5.50,77.90) rotate(-90)">Time / s</text><text x="286.20" y="141.35" font-size="3.95" text-anchor="end" fill="#383838" stroke="#383838" stroke-width="0.07">0</text><text x="286.20" y="125.90" font-size="3.95" text-anchor="end" fill="#383838" stroke="#383838" stroke-width="0.07">5</text><text x="286.20" y="110.45" font-size="3.95" text-anchor="end" fill="#383838" stroke="#383838" stroke-width="0.07">10</text><text x="286.20" y="95.00" font-size="3.95" text-anchor="end" fill="#383838" stroke="#383838" stroke-width="0.07">15</text><text x="286.20" y="79.55" font-size="3.95" text-anchor="end" fill="#383838" stroke="#383838" stroke-width="0.07">20</text><text x="286.20" y="64.10" font-size="3.95" text-anchor="end" fill="#383838" stroke="#383838" stroke-width="0.07">25</text><text x="286.20" y="48.65" font-size="3.95" text-anchor="end" fill="#383838" stroke="#383838" stroke-width="0.07">30</text><text x="286.20" y="33.20" font-size="3.95" text-anchor="end" fill="#383838" stroke="#383838" stroke-width="0.07">35</text><text x="286.20" y="17.75" font-size="3.95" text-anchor="end" fill="#383838" stroke="#383838" stroke-width="0.07">40</text><text x="309.20" y="145.00" font-size="3.95" text-anchor="middle" fill="#383838" stroke="#383838" stroke-width="0.07">50</text><text x="336.29" y="145.00" font-size="3.95" text-anchor="middle" fill="#383838" stroke="#383838" stroke-width="0.07">60</text><text x="363.38" y="145.00" font-size="3.95" text-anchor="middle" fill="#383838" stroke="#383838" stroke-width="0.07">70</text><text x="390.47" y="145.00" font-size="3.95" text-anchor="middle" fill="#383838" stroke="#383838" stroke-width="0.07">80</text><text x="417.56" y="145.00" font-size="3.95" text-anchor="middle" fill="#383838" stroke="#383838" stroke-width="0.07">90</text><text x="444.65" y="145.00" font-size="3.95" text-anchor="middle" fill="#383838" stroke="#383838" stroke-width="0.07">100</text><text x="471.74" y="145.00" font-size="3.95" text-anchor="middle" fill="#383838" stroke="#383838" stroke-width="0.07">110</text><text x="498.83" y="145.00" font-size="3.95" text-anchor="middle" fill="#383838" stroke="#383838" stroke-width="0.07">120</text><text x="406.00" y="151.20" font-size="4.24" text-anchor="middle" fill="#383838" stroke="#383838" stroke-width="0.07">Fibre Distance / m</text><text x="0" y="0" font-size="4.05" text-anchor="middle" fill="#383838" transform="translate(279.50,77.90) rotate(-90)">Time / s</text><text x="12.20" y="290.45" font-size="3.95" text-anchor="end" fill="#383838" stroke="#383838" stroke-width="0.07">0</text><text x="12.20" y="275.00" font-size="3.95" text-anchor="end" fill="#383838" stroke="#383838" stroke-width="0.07">5</text><text x="12.20" y="259.55" font-size="3.95" text-anchor="end" fill="#383838" stroke="#383838" stroke-width="0.07">10</text><text x="12.20" y="244.10" font-size="3.95" text-anchor="end" fill="#383838" stroke="#383838" stroke-width="0.07">15</text><text x="12.20" y="228.65" font-size="3.95" text-anchor="end" fill="#383838" stroke="#383838" stroke-width="0.07">20</text><text x="12.20" y="213.20" font-size="3.95" text-anchor="end" fill="#383838" stroke="#383838" stroke-width="0.07">25</text><text x="12.20" y="197.75" font-size="3.95" text-anchor="end" fill="#383838" stroke="#383838" stroke-width="0.07">30</text><text x="12.20" y="182.30" font-size="3.95" text-anchor="end" fill="#383838" stroke="#383838" stroke-width="0.07">35</text><text x="12.20" y="166.85" font-size="3.95" text-anchor="end" fill="#383838" stroke="#383838" stroke-width="0.07">40</text><text x="35.20" y="294.10" font-size="3.95" text-anchor="middle" fill="#383838" stroke="#383838" stroke-width="0.07">50</text><text x="62.29" y="294.10" font-size="3.95" text-anchor="middle" fill="#383838" stroke="#383838" stroke-width="0.07">60</text><text x="89.38" y="294.10" font-size="3.95" text-anchor="middle" fill="#383838" stroke="#383838" stroke-width="0.07">70</text><text x="116.47" y="294.10" font-size="3.95" text-anchor="middle" fill="#383838" stroke="#383838" stroke-width="0.07">80</text><text x="143.56" y="294.10" font-size="3.95" text-anchor="middle" fill="#383838" stroke="#383838" stroke-width="0.07">90</text><text x="170.65" y="294.10" font-size="3.95" text-anchor="middle" fill="#383838" stroke="#383838" stroke-width="0.07">100</text><text x="197.74" y="294.10" font-size="3.95" text-anchor="middle" fill="#383838" stroke="#383838" stroke-width="0.07">110</text><text x="224.83" y="294.10" font-size="3.95" text-anchor="middle" fill="#383838" stroke="#383838" stroke-width="0.07">120</text><text x="132.00" y="300.30" font-size="4.24" text-anchor="middle" fill="#383838" stroke="#383838" stroke-width="0.07">Fibre Distance / m</text><text x="0" y="0" font-size="4.05" text-anchor="middle" fill="#383838" transform="translate(5.50,227.00) rotate(-90)">Time / s</text><text x="132.00" y="14.70" font-size="4.92" text-anchor="middle" fill="#111" font-weight="bold" stroke="#111" stroke-width="0.16">Low Frequency Range</text><text x="406.00" y="14.70" font-size="4.92" text-anchor="middle" fill="#111" font-weight="bold" stroke="#111" stroke-width="0.16">Mid Frequency Range</text><text x="132.00" y="164.00" font-size="4.92" text-anchor="middle" fill="#111" font-weight="bold" stroke="#111" stroke-width="0.16">High Frequency Range</text><text x="415.00" y="164.00" font-size="4.92" text-anchor="middle" fill="#111" font-weight="bold" stroke="#111" stroke-width="0.16">Spectrogram Trough</text><text x="261.00" y="18.10" font-size="3.95" text-anchor="start" fill="#383838" stroke="#383838" stroke-width="0.07">3</text><path d="M258.80 15.90h-0.9" stroke="#555" stroke-width="0.35"/><text x="261.00" y="35.70" font-size="3.95" text-anchor="start" fill="#383838" stroke="#383838" stroke-width="0.07">2</text><path d="M258.80 33.50h-0.9" stroke="#555" stroke-width="0.35"/><text x="261.00" y="53.30" font-size="3.95" text-anchor="start" fill="#383838" stroke="#383838" stroke-width="0.07">1</text><path d="M258.80 51.10h-0.9" stroke="#555" stroke-width="0.35"/><text x="261.00" y="70.90" font-size="3.95" text-anchor="start" fill="#383838" stroke="#383838" stroke-width="0.07">0</text><path d="M258.80 68.70h-0.9" stroke="#555" stroke-width="0.35"/><text x="261.00" y="88.50" font-size="3.95" text-anchor="start" fill="#383838" stroke="#383838" stroke-width="0.07">-1</text><path d="M258.80 86.30h-0.9" stroke="#555" stroke-width="0.35"/><text x="261.00" y="106.10" font-size="3.95" text-anchor="start" fill="#383838" stroke="#383838" stroke-width="0.07">-2</text><path d="M258.80 103.90h-0.9" stroke="#555" stroke-width="0.35"/><text x="261.00" y="123.70" font-size="3.95" text-anchor="start" fill="#383838" stroke="#383838" stroke-width="0.07">-3</text><path d="M258.80 121.50h-0.9" stroke="#555" stroke-width="0.35"/><text x="261.00" y="141.30" font-size="3.95" text-anchor="start" fill="#383838" stroke="#383838" stroke-width="0.07">-4</text><path d="M258.80 139.10h-0.9" stroke="#555" stroke-width="0.35"/><text x="535.00" y="18.50" font-size="3.95" text-anchor="start" fill="#383838" stroke="#383838" stroke-width="0.07">-1</text><path d="M532.80 16.30h-0.9" stroke="#555" stroke-width="0.35"/><text x="535.00" y="33.95" font-size="3.95" text-anchor="start" fill="#383838" stroke="#383838" stroke-width="0.07">-1.5</text><path d="M532.80 31.75h-0.9" stroke="#555" stroke-width="0.35"/><text x="535.00" y="49.40" font-size="3.95" text-anchor="start" fill="#383838" stroke="#383838" stroke-width="0.07">-2</text><path d="M532.80 47.20h-0.9" stroke="#555" stroke-width="0.35"/><text x="535.00" y="64.85" font-size="3.95" text-anchor="start" fill="#383838" stroke="#383838" stroke-width="0.07">-2.5</text><path d="M532.80 62.65h-0.9" stroke="#555" stroke-width="0.35"/><text x="535.00" y="80.30" font-size="3.95" text-anchor="start" fill="#383838" stroke="#383838" stroke-width="0.07">-3</text><path d="M532.80 78.10h-0.9" stroke="#555" stroke-width="0.35"/><text x="535.00" y="95.75" font-size="3.95" text-anchor="start" fill="#383838" stroke="#383838" stroke-width="0.07">-3.5</text><path d="M532.80 93.55h-0.9" stroke="#555" stroke-width="0.35"/><text x="535.00" y="111.20" font-size="3.95" text-anchor="start" fill="#383838" stroke="#383838" stroke-width="0.07">-4</text><path d="M532.80 109.00h-0.9" stroke="#555" stroke-width="0.35"/><text x="535.00" y="126.65" font-size="3.95" text-anchor="start" fill="#383838" stroke="#383838" stroke-width="0.07">-4.5</text><path d="M532.80 124.45h-0.9" stroke="#555" stroke-width="0.35"/><text x="535.00" y="142.10" font-size="3.95" text-anchor="start" fill="#383838" stroke="#383838" stroke-width="0.07">-5</text><path d="M532.80 139.90h-0.9" stroke="#555" stroke-width="0.35"/><text x="261.00" y="167.40" font-size="3.95" text-anchor="start" fill="#383838" stroke="#383838" stroke-width="0.07">-1</text><path d="M258.80 165.20h-0.9" stroke="#555" stroke-width="0.35"/><text x="261.00" y="182.85" font-size="3.95" text-anchor="start" fill="#383838" stroke="#383838" stroke-width="0.07">-1.5</text><path d="M258.80 180.65h-0.9" stroke="#555" stroke-width="0.35"/><text x="261.00" y="198.30" font-size="3.95" text-anchor="start" fill="#383838" stroke="#383838" stroke-width="0.07">-2</text><path d="M258.80 196.10h-0.9" stroke="#555" stroke-width="0.35"/><text x="261.00" y="213.75" font-size="3.95" text-anchor="start" fill="#383838" stroke="#383838" stroke-width="0.07">-2.5</text><path d="M258.80 211.55h-0.9" stroke="#555" stroke-width="0.35"/><text x="261.00" y="229.20" font-size="3.95" text-anchor="start" fill="#383838" stroke="#383838" stroke-width="0.07">-3</text><path d="M258.80 227.00h-0.9" stroke="#555" stroke-width="0.35"/><text x="261.00" y="244.65" font-size="3.95" text-anchor="start" fill="#383838" stroke="#383838" stroke-width="0.07">-3.5</text><path d="M258.80 242.45h-0.9" stroke="#555" stroke-width="0.35"/><text x="261.00" y="260.10" font-size="3.95" text-anchor="start" fill="#383838" stroke="#383838" stroke-width="0.07">-4</text><path d="M258.80 257.90h-0.9" stroke="#555" stroke-width="0.35"/><text x="261.00" y="275.55" font-size="3.95" text-anchor="start" fill="#383838" stroke="#383838" stroke-width="0.07">-4.5</text><path d="M258.80 273.35h-0.9" stroke="#555" stroke-width="0.35"/><text x="261.00" y="291.00" font-size="3.95" text-anchor="start" fill="#383838" stroke="#383838" stroke-width="0.07">-5</text><path d="M258.80 288.80h-0.9" stroke="#555" stroke-width="0.35"/><path d="M288.8 165.2V288.3H541.0" fill="none" stroke="#8c8c8c" stroke-width="0.6"/><text x="288.80" y="294.00" font-size="3.95" text-anchor="middle" fill="#383838" stroke="#383838" stroke-width="0.07">-3</text><text x="324.83" y="294.00" font-size="3.95" text-anchor="middle" fill="#383838" stroke="#383838" stroke-width="0.07">-2</text><text x="360.86" y="294.00" font-size="3.95" text-anchor="middle" fill="#383838" stroke="#383838" stroke-width="0.07">-1</text><text x="396.89" y="294.00" font-size="3.95" text-anchor="middle" fill="#383838" stroke="#383838" stroke-width="0.07">0</text><text x="432.91" y="294.00" font-size="3.95" text-anchor="middle" fill="#383838" stroke="#383838" stroke-width="0.07">1</text><text x="468.94" y="294.00" font-size="3.95" text-anchor="middle" fill="#383838" stroke="#383838" stroke-width="0.07">2</text><text x="504.97" y="294.00" font-size="3.95" text-anchor="middle" fill="#383838" stroke="#383838" stroke-width="0.07">3</text><text x="541.00" y="294.00" font-size="3.95" text-anchor="middle" fill="#383838" stroke="#383838" stroke-width="0.07">4</text><text x="286.70" y="289.95" font-size="3.95" text-anchor="end" fill="#383838" stroke="#383838" stroke-width="0.07">0</text><text x="286.70" y="274.56" font-size="3.95" text-anchor="end" fill="#383838" stroke="#383838" stroke-width="0.07">5</text><text x="286.70" y="259.17" font-size="3.95" text-anchor="end" fill="#383838" stroke="#383838" stroke-width="0.07">10</text><text x="286.70" y="243.79" font-size="3.95" text-anchor="end" fill="#383838" stroke="#383838" stroke-width="0.07">15</text><text x="286.70" y="228.40" font-size="3.95" text-anchor="end" fill="#383838" stroke="#383838" stroke-width="0.07">20</text><text x="286.70" y="213.01" font-size="3.95" text-anchor="end" fill="#383838" stroke="#383838" stroke-width="0.07">25</text><text x="286.70" y="197.62" font-size="3.95" text-anchor="end" fill="#383838" stroke="#383838" stroke-width="0.07">30</text><text x="286.70" y="182.24" font-size="3.95" text-anchor="end" fill="#383838" stroke="#383838" stroke-width="0.07">35</text><text x="286.70" y="166.85" font-size="3.95" text-anchor="end" fill="#383838" stroke="#383838" stroke-width="0.07">40</text><path d="M288.80 288.3v-1.6M324.83 288.3v-1.6M360.86 288.3v-1.6M396.89 288.3v-1.6M432.91 288.3v-1.6M468.94 288.3v-1.6M504.97 288.3v-1.6M541.00 288.3v-1.6M288.8 288.30h1.6M288.8 272.91h1.6M288.8 257.52h1.6M288.8 242.14h1.6M288.8 226.75h1.6M288.8 211.36h1.6M288.8 195.97h1.6M288.8 180.59h1.6M288.8 165.20h1.6" stroke="#8c8c8c" stroke-width="0.5"/><text x="415" y="300.0" font-size="4.24" text-anchor="middle" fill="#383838">log<tspan font-size="2.9" dy="1.1">10</tspan><tspan dy="-1.1">(Energy Content in Frequency Bin / a.u.)</tspan></text><text x="0" y="0" font-size="4.05" text-anchor="middle" fill="#383838" transform="translate(279.7,226.4) rotate(-90)">Time / s</text><path d="M408.7,288.3 410.5,288.0 409.6,287.7 404.6,287.4 409.9,287.1 410.0,286.8 407.2,286.5 409.9,286.1 410.0,285.8 409.9,285.5 409.2,285.2 410.4,284.9 406.8,284.6 407.5,284.3 406.7,284.0 409.6,283.7 408.6,283.4 407.3,283.1 405.4,282.8 406.4,282.5 407.4,282.1 406.5,281.8 410.7,281.5 410.7,281.2 399.5,280.9 398.9,280.6 403.5,280.3 402.3,280.0 402.5,279.7 401.2,279.4 405.1,279.1 394.4,278.8 392.0,278.5 396.6,278.1 391.7,277.8 388.6,277.5 382.4,277.2 379.8,276.9 385.8,276.6 388.4,276.3 386.3,276.0 388.7,275.7 392.3,275.4 389.8,275.1 391.3,274.8 392.0,274.5 391.6,274.1 389.6,273.8 392.0,273.5 393.1,273.2 391.4,272.9 388.0,272.6 392.1,272.3 389.7,272.0 393.4,271.7 388.9,271.4 393.9,271.1 392.7,270.8 389.0,270.5 391.1,270.1 393.0,269.8 393.7,269.5 389.8,269.2 388.3,268.9 391.4,268.6 390.0,268.3 391.4,268.0 393.1,267.7 386.1,267.4 389.7,267.1 393.2,266.8 390.2,266.4 388.4,266.1 392.9,265.8 393.0,265.5 395.3,265.2 392.6,264.9 389.0,264.6 392.6,264.3 392.9,264.0 397.0,263.7 396.8,263.4 392.0,263.1 392.6,262.8 399.4,262.4 401.1,262.1 395.9,261.8 395.5,261.5 395.6,261.2 394.6,260.9 394.5,260.6 392.5,260.3 390.5,260.0 389.1,259.7 392.3,259.4 382.9,259.1 386.4,258.8 387.3,258.4 382.9,258.1 386.5,257.8 384.1,257.5 388.0,257.2 385.9,256.9 387.5,256.6 389.5,256.3 387.3,256.0 383.0,255.7 379.8,255.4 388.6,255.1 385.1,254.8 382.4,254.4 382.6,254.1 380.4,253.8 381.7,253.5 378.3,253.2 376.2,252.9 375.6,252.6 380.2,252.3 378.1,252.0 383.9,251.7 389.1,251.4 382.8,251.1 379.8,250.8 389.5,250.4 398.9,250.1 392.2,249.8 390.0,249.5 395.5,249.2 393.2,248.9 394.1,248.6 395.3,248.3 398.1,248.0 396.0,247.7 397.5,247.4 396.5,247.1 394.3,246.8 395.3,246.4 393.7,246.1 396.1,245.8 393.4,245.5 392.8,245.2 400.2,244.9 397.5,244.6 396.9,244.3 398.4,244.0 396.0,243.7 396.0,243.4 397.9,243.1 398.0,242.8 393.7,242.4 398.6,242.1 395.6,241.8 393.6,241.5 393.6,241.2 395.1,240.9 401.5,240.6 394.9,240.3 397.3,240.0 391.1,239.7 395.9,239.4 399.9,239.1 397.5,238.8 395.9,238.4 398.0,238.1 400.0,237.8 400.5,237.5 404.5,237.2 400.3,236.9 397.0,236.6 397.6,236.3 397.9,236.0 398.6,235.7 398.3,235.4 398.9,235.1 393.6,234.8 399.7,234.4 397.1,234.1 394.6,233.8 399.4,233.5 402.6,233.2 401.0,232.9 399.6,232.6 396.1,232.3 406.4,232.0 403.1,231.7 396.4,231.4 395.8,231.1 398.2,230.8 393.9,230.4 398.0,230.1 397.2,229.8 401.9,229.5 402.3,229.2 391.5,228.9 396.9,228.6 393.3,228.3 400.4,228.0 399.4,227.7 400.3,227.4 395.7,227.1 403.1,226.8 405.4,226.4 396.9,226.1 399.0,225.8 396.4,225.5 397.6,225.2 394.2,224.9 402.6,224.6 396.3,224.3 396.7,224.0 399.1,223.7 396.3,223.4 396.7,223.1 395.8,222.7 396.8,222.4 393.9,222.1 395.3,221.8 396.3,221.5 396.1,221.2 397.2,220.9 396.3,220.6 399.2,220.3 396.6,220.0 396.5,219.7 394.9,219.4 394.8,219.1 392.6,218.7 397.4,218.4 393.6,218.1 393.9,217.8 397.2,217.5 398.2,217.2 396.0,216.9 390.7,216.6 396.6,216.3 506.8,215.8 465.3,213.8 392.6,210.4 405.9,210.0 408.4,209.7 409.5,209.4 407.8,209.1 406.9,208.7 406.0,208.4 406.5,208.1 405.6,207.8 406.1,207.5 403.8,207.2 407.5,206.9 408.2,206.6 410.0,206.3 410.3,206.0 410.4,205.7 411.2,205.4 411.6,205.1 410.0,204.7 408.5,204.4 408.2,204.1 405.7,203.8 403.4,203.5 404.4,203.2 404.0,202.9 402.9,202.6 404.4,202.3 406.4,202.0 407.2,201.7 407.6,201.4 409.9,201.1 411.9,200.7 411.2,200.4 409.6,200.1 409.4,199.8 409.0,199.5 407.2,199.2 406.9,198.9 407.3,198.6 406.2,198.3 405.4,198.0 407.0,197.7 408.5,197.4 410.8,197.1 409.5,196.7 409.8,196.4 409.7,196.1 408.2,195.8 409.1,195.5 409.2,195.2 407.2,194.9 407.8,194.6 407.3,194.3 406.5,194.0 406.0,193.7 406.9,193.4 405.2,193.1 407.5,192.7 409.4,192.4 408.1,192.1 410.2,191.8 410.5,191.5 411.5,191.2 410.0,190.9 408.9,190.6 408.3,190.3 405.8,190.0 406.1,189.7 405.4,189.4 405.9,189.1 405.6,188.7 408.2,188.4 409.6,188.1 410.1,187.8 411.7,187.5 413.5,187.2 414.9,186.9 411.3,186.6 411.9,186.3 411.1,186.0 409.3,185.7 406.9,185.4 408.0,185.0 405.3,184.7 406.3,184.4 408.2,184.1 406.3,183.8 407.8,183.5 408.0,183.2 410.4,182.9 413.5,182.6 415.7,182.3 412.0,182.0 411.1,181.7 411.4,181.4 412.0,181.0 410.4,180.7 407.7,180.4 407.3,180.1 406.7,179.8 406.6,179.5 406.7,179.2 408.6,178.9 410.3,178.6 411.2,178.3 411.7,178.0 410.6,177.7 410.6,177.4 411.9,177.0 410.0,176.7 406.8,176.4 408.0,176.1 407.2,175.8 408.7,175.5 407.3,175.2 406.4,174.9 405.6,174.6 409.2,174.3 413.3,174.0 411.8,173.7 411.4,173.4 412.6,173.0 411.1,172.7 410.6,172.4 409.4,172.1 408.9,171.8 409.4,171.5 408.1,171.2 408.5,170.9 407.4,170.6 408.4,170.3 406.7,170.0 407.6,169.7 411.4,169.4 412.2,169.0 414.2,168.7 415.0,168.4 416.0,168.1 415.4,167.8 414.7,167.5 412.3,167.2 410.0,166.9 408.6,166.6 408.3,166.3 407.8,166.0 408.9,165.7 410.8,165.4" fill="none" stroke="#111" stroke-width="0.85" stroke-linejoin="round"/><path d="M312.0,288.3 306.0,288.0 308.7,287.7 308.2,287.4 308.4,287.1 309.0,286.8 306.5,286.5 308.5,286.1 308.5,285.8 315.5,285.5 313.4,285.2 311.7,284.9 311.4,284.6 310.8,284.3 310.0,284.0 311.0,283.7 313.0,283.4 312.8,283.1 314.9,282.8 314.0,282.5 314.2,282.1 316.8,281.8 316.3,281.5 314.5,281.2 314.4,280.9 315.7,280.6 318.6,280.3 316.2,280.0 315.4,279.7 317.3,279.4 315.0,279.1 315.2,278.8 317.3,278.5 317.8,278.1 317.3,277.8 318.1,277.5 312.8,277.2 317.1,276.9 315.7,276.6 314.1,276.3 316.7,276.0 318.4,275.7 317.1,275.4 315.6,275.1 316.7,274.8 317.1,274.5 319.6,274.1 319.5,273.8 318.5,273.5 319.6,273.2 317.8,272.9 315.9,272.6 317.6,272.3 318.3,272.0 317.2,271.7 315.8,271.4 316.9,271.1 312.8,270.8 316.4,270.5 317.5,270.1 314.4,269.8 315.9,269.5 314.8,269.2 317.2,268.9 313.4,268.6 313.8,268.3 316.5,268.0 318.3,267.7 313.5,267.4 314.3,267.1 315.9,266.8 315.0,266.4 318.2,266.1 314.9,265.8 316.0,265.5 314.1,265.2 316.8,264.9 315.0,264.6 313.3,264.3 309.9,264.0 313.8,263.7 313.4,263.4 312.8,263.1 312.7,262.8 311.0,262.4 308.2,262.1 307.3,261.8 306.9,261.5 310.5,261.2 307.3,260.9 307.5,260.6 308.1,260.3 309.3,260.0 310.5,259.7 308.0,259.4 306.3,259.1 308.5,258.8 311.5,258.4 312.0,258.1 311.4,257.8 310.3,257.5 312.0,257.2 312.4,256.9 315.1,256.6 314.1,256.3 315.9,256.0 316.9,255.7 319.1,255.4 320.1,255.1 322.8,254.8 321.5,254.4 320.2,254.1 313.2,253.8 312.6,253.5 311.2,253.2 311.8,252.9 306.8,252.6 310.8,252.3 312.1,252.0 308.7,251.7 307.7,251.4 307.6,251.1 308.8,250.8 310.3,250.4 313.1,250.1 310.4,249.8 310.9,249.5 310.0,249.2 312.2,248.9 311.3,248.6 311.9,248.3 307.8,248.0 307.4,247.7 306.0,247.4 309.0,247.1 308.7,246.8 306.7,246.4 305.4,246.1 306.3,245.8 304.4,245.5 303.1,245.2 305.1,244.9 309.2,244.6 306.3,244.3 304.7,244.0 303.1,243.7 302.2,243.4 304.9,243.1 306.6,242.8 305.9,242.4 306.1,242.1 305.9,241.8 305.9,241.5 303.1,241.2 303.8,240.9 305.1,240.6 304.1,240.3 304.2,240.0 303.8,239.7 304.4,239.4 306.6,239.1 305.5,238.8 305.4,238.4 307.0,238.1 307.4,237.8 309.3,237.5 303.9,237.2 306.6,236.9 305.5,236.6 306.1,236.3 307.5,236.0 308.6,235.7 309.0,235.4 307.8,235.1 309.8,234.8 307.5,234.4 306.9,234.1 308.3,233.8 306.7,233.5 310.7,233.2 310.4,232.9 312.3,232.6 309.5,232.3 307.9,232.0 308.2,231.7 309.3,231.4 307.7,231.1 308.7,230.8 308.5,230.4 311.2,230.1 308.6,229.8 310.3,229.5 308.2,229.2 306.8,228.9 306.6,228.6 305.7,228.3 307.6,228.0 309.7,227.7 309.1,227.4 309.7,227.1 311.5,226.8 310.0,226.4 309.2,226.1 308.1,225.8 305.4,225.5 308.3,225.2 305.2,224.9 308.0,224.6 307.9,224.3 309.8,224.0 308.5,223.7 306.8,223.4 308.1,223.1 307.1,222.7 307.4,222.4 307.9,222.1 307.8,221.8 307.7,221.5 306.6,221.2 307.2,220.9 304.3,220.6 306.4,220.3 305.6,220.0 309.1,219.7 310.7,219.4 306.1,219.1 307.7,218.7 308.0,218.4 306.5,218.1 308.6,217.8 307.8,217.5 305.3,217.2 306.9,216.9 307.7,216.6 407.7,216.0 342.8,214.4 322.6,212.9 315.3,212.6 319.9,212.3 320.5,212.0 323.1,211.7 322.8,211.4 326.8,211.1 326.4,210.7 326.4,210.4 323.9,210.1 320.5,209.8 315.6,209.5 315.1,209.2 316.4,208.9 316.7,208.6 314.6,208.3 313.8,208.0 310.8,207.7 315.6,207.4 313.6,207.1 315.2,206.7 313.9,206.4 315.7,206.1 315.3,205.8 312.7,205.5 313.3,205.2 309.0,204.9 310.7,204.6 306.3,204.3 307.3,204.0 308.6,203.7 308.3,203.4 307.3,203.1 306.4,202.7 307.1,202.4 310.0,202.1 311.1,201.8 309.7,201.5 307.7,201.2 310.4,200.9 308.0,200.6 308.9,200.3 309.1,200.0 312.0,199.7 312.5,199.4 313.3,199.1 313.2,198.7 311.6,198.4 313.1,198.1 315.3,197.8 313.7,197.5 314.3,197.2 313.2,196.9 314.9,196.6 315.0,196.3 315.4,196.0 314.7,195.7 316.8,195.4 314.1,195.1 313.2,194.7 312.4,194.4 314.3,194.1 312.9,193.8 312.4,193.5 314.6,193.2 316.3,192.9 316.0,192.6 310.3,192.3 311.1,192.0 311.2,191.7 311.1,191.4 312.5,191.1 317.0,190.7 315.1,190.4 313.7,190.1 315.7,189.8 315.4,189.5 315.5,189.2 314.1,188.9 314.9,188.6 316.0,188.3 312.4,188.0 311.5,187.7 315.9,187.4 317.3,187.1 315.6,186.7 313.9,186.4 314.6,186.1 313.0,185.8 313.9,185.5 317.6,185.2 316.4,184.9 317.7,184.6 315.7,184.3 315.9,184.0 317.7,183.7 313.6,183.4 313.6,183.0 313.9,182.7 314.8,182.4 317.3,182.1 316.7,181.8 312.6,181.5 313.1,181.2 312.1,180.9 311.6,180.6 316.8,180.3 313.6,180.0 314.6,179.7 313.5,179.4 315.9,179.0 316.1,178.7 315.9,178.4 315.6,178.1 317.7,177.8 315.0,177.5 314.4,177.2 313.6,176.9 317.7,176.6 316.5,176.3 314.9,176.0 315.5,175.7 320.8,175.4 318.6,175.0 319.4,174.7 319.2,174.4 318.3,174.1 316.8,173.8 316.9,173.5 317.0,173.2 313.8,172.9 321.0,172.6 321.0,172.3 319.6,172.0 318.6,171.7 317.2,171.4 319.7,171.0 318.8,170.7 319.7,170.4 316.8,170.1 318.8,169.8 322.5,169.5 320.0,169.2 321.0,168.9 320.1,168.6 321.6,168.3 322.0,168.0 320.3,167.7 318.4,167.4 319.0,167.0 318.7,166.7 317.3,166.4 318.6,166.1 318.9,165.8 316.6,165.5 317.0,165.2" fill="none" stroke="#4dbeee" stroke-width="0.85" stroke-linejoin="round"/><path d="M334.5,288.3 332.2,288.0 332.3,287.7 325.7,287.4 338.9,287.1 338.1,286.8 333.2,286.5 336.3,286.1 335.0,285.8 331.4,285.5 335.3,285.2 330.8,284.9 329.6,284.6 327.3,284.3 330.4,284.0 328.2,283.7 332.0,283.4 330.2,283.1 334.1,282.8 332.8,282.5 339.9,282.1 338.6,281.8 339.1,281.5 339.7,281.2 335.4,280.9 341.0,280.6 346.0,280.3 334.7,280.0 333.5,279.7 334.4,279.4 342.3,279.1 341.0,278.8 344.3,278.5 343.7,278.1 342.2,277.8 342.5,277.5 341.3,277.2 344.8,276.9 338.9,276.6 340.9,276.3 343.5,276.0 348.7,275.7 340.8,275.4 338.9,275.1 340.3,274.8 345.3,274.5 341.8,274.1 346.5,273.8 336.4,273.5 345.1,273.2 345.6,272.9 337.6,272.6 341.8,272.3 345.6,272.0 342.3,271.7 344.8,271.4 349.5,271.1 343.0,270.8 340.5,270.5 338.5,270.1 342.9,269.8 340.5,269.5 340.2,269.2 340.4,268.9 342.8,268.6 337.3,268.3 335.2,268.0 331.9,267.7 343.4,267.4 340.8,267.1 345.1,266.8 340.5,266.4 337.6,266.1 341.2,265.8 339.7,265.5 335.6,265.2 336.3,264.9 344.9,264.6 341.1,264.3 340.9,264.0 338.5,263.7 336.6,263.4 341.4,263.1 338.4,262.8 335.7,262.4 337.2,262.1 334.6,261.8 337.7,261.5 340.8,261.2 334.5,260.9 341.0,260.6 334.5,260.3 336.3,260.0 333.0,259.7 334.5,259.4 335.2,259.1 333.5,258.8 332.2,258.4 331.9,258.1 331.2,257.8 328.4,257.5 333.3,257.2 336.8,256.9 339.6,256.6 339.9,256.3 346.6,256.0 341.1,255.7 338.8,255.4 347.0,255.1 339.1,254.8 345.7,254.4 339.9,254.1 343.5,253.8 336.2,253.5 344.8,253.2 342.1,252.9 339.1,252.6 347.4,252.3 345.1,252.0 342.5,251.7 339.6,251.4 341.5,251.1 341.2,250.8 344.0,250.4 344.4,250.1 339.6,249.8 339.4,249.5 339.4,249.2 336.6,248.9 338.7,248.6 340.5,248.3 343.3,248.0 345.7,247.7 339.1,247.4 343.0,247.1 340.2,246.8 348.2,246.4 342.2,246.1 343.4,245.8 339.0,245.5 339.0,245.2 342.4,244.9 340.9,244.6 343.2,244.3 337.3,244.0 344.1,243.7 339.7,243.4 347.9,243.1 342.3,242.8 346.3,242.4 338.6,242.1 343.7,241.8 339.9,241.5 340.7,241.2 342.4,240.9 341.3,240.6 343.1,240.3 344.7,240.0 344.5,239.7 342.0,239.4 337.5,239.1 338.8,238.8 340.8,238.4 334.7,238.1 343.3,237.8 340.9,237.5 340.5,237.2 344.3,236.9 343.7,236.6 342.1,236.3 337.9,236.0 341.8,235.7 342.4,235.4 338.5,235.1 344.5,234.8 343.5,234.4 335.4,234.1 341.4,233.8 337.6,233.5 345.1,233.2 344.9,232.9 338.7,232.6 338.9,232.3 342.2,232.0 341.5,231.7 347.3,231.4 345.4,231.1 341.9,230.8 344.5,230.4 336.3,230.1 343.2,229.8 345.5,229.5 342.2,229.2 340.0,228.9 343.7,228.6 348.5,228.3 343.1,228.0 338.1,227.7 345.8,227.4 335.5,227.1 342.1,226.8 339.1,226.4 343.5,226.1 338.0,225.8 344.4,225.5 341.5,225.2 334.5,224.9 332.8,224.6 337.9,224.3 343.5,224.0 340.1,223.7 339.3,223.4 338.0,223.1 340.9,222.7 339.7,222.4 339.1,222.1 334.7,221.8 341.1,221.5 342.1,221.2 333.3,220.9 344.0,220.6 339.7,220.3 335.1,220.0 329.8,219.7 337.4,219.4 337.6,219.1 334.3,218.7 330.3,218.4 339.8,218.1 335.5,217.8 335.7,217.5 346.9,217.2 346.0,216.9 342.4,216.6 337.4,216.3 413.1,215.7 364.5,214.4 350.0,213.5 353.3,213.2 352.6,212.9 352.3,212.6 355.1,212.3 346.2,212.0 347.1,211.7 344.8,211.4 345.8,211.1 346.9,210.7 341.3,210.4 346.9,210.1 343.4,209.8 353.5,209.5 350.9,209.2 359.5,208.9 357.7,208.6 357.9,208.3 354.8,208.0 356.8,207.7 357.4,207.4 354.4,207.1 353.8,206.7 354.4,206.4 352.5,206.1 351.9,205.8 352.5,205.5 350.6,205.2 354.9,204.9 347.2,204.6 353.9,204.3 349.4,204.0 348.8,203.7 346.1,203.4 349.7,203.1 349.6,202.7 350.9,202.4 348.6,202.1 350.3,201.8 356.0,201.5 351.9,201.2 348.2,200.9 352.7,200.6 349.6,200.3 351.5,200.0 351.7,199.7 348.4,199.4 343.0,199.1 347.5,198.7 350.7,198.4 347.9,198.1 350.2,197.8 352.1,197.5 347.3,197.2 352.4,196.9 354.1,196.6 352.4,196.3 352.4,196.0 352.1,195.7 355.7,195.4 349.3,195.1 348.0,194.7 349.7,194.4 344.9,194.1 342.2,193.8 344.0,193.5 348.1,193.2 348.8,192.9 342.2,192.6 340.4,192.3 345.1,192.0 345.9,191.7 346.3,191.4 348.6,191.1 350.5,190.7 347.3,190.4 348.1,190.1 342.6,189.8 341.7,189.5 346.0,189.2 347.7,188.9 348.0,188.6 347.4,188.3 347.9,188.0 347.9,187.7 339.5,187.4 341.9,187.1 345.8,186.7 346.7,186.4 340.0,186.1 348.0,185.8 343.6,185.5 343.8,185.2 345.4,184.9 347.1,184.6 340.3,184.3 347.4,184.0 345.2,183.7 342.2,183.4 343.5,183.0 337.5,182.7 341.8,182.4 345.0,182.1 342.4,181.8 343.4,181.5 344.0,181.2 344.7,180.9 347.9,180.6 344.8,180.3 343.7,180.0 346.0,179.7 351.1,179.4 343.8,179.0 345.7,178.7 339.1,178.4 347.8,178.1 346.3,177.8 348.3,177.5 343.9,177.2 340.2,176.9 346.0,176.6 346.1,176.3 340.8,176.0 338.2,175.7 344.1,175.4 342.6,175.0 351.3,174.7 341.7,174.4 341.0,174.1 342.2,173.8 337.3,173.5 339.3,173.2 347.6,172.9 342.7,172.6 340.6,172.3 338.3,172.0 344.0,171.7 344.7,171.4 343.5,171.0 341.3,170.7 343.2,170.4 343.7,170.1 340.2,169.8 344.1,169.5 335.6,169.2 337.4,168.9 340.7,168.6 341.6,168.3 338.2,168.0 342.6,167.7 345.3,167.4 343.5,167.0 342.5,166.7 344.2,166.4 342.9,166.1 337.7,165.8 340.1,165.5 345.1,165.2" fill="none" stroke="#e01818" stroke-width="0.85" stroke-linejoin="round"/><rect x="488.2" y="168.4" width="49.8" height="15" fill="#fff" stroke="#b4b4b4" stroke-width="0.4"/><path d="M489 171.40H500" stroke="#111" stroke-width="0.45"/><text x="501.00" y="172.65" font-size="3.5" text-anchor="start" fill="#222" stroke="#222" stroke-width="0.07">Low Frequency Range</text><path d="M489 175.75H500" stroke="#e01818" stroke-width="0.6"/><text x="501.00" y="177.00" font-size="3.5" text-anchor="start" fill="#222" stroke="#222" stroke-width="0.07">Mid Frequency Range</text><path d="M489 180.10H500" stroke="#4dbeee" stroke-width="0.6"/><text x="501.00" y="181.35" font-size="3.5" text-anchor="start" fill="#222" stroke="#222" stroke-width="0.07">High Frequency Range</text><rect x="1.9" y="2.8" width="1.2" height="318.6" fill="#000"/><rect x="1.9" y="2.8" width="546" height="1.1" fill="#000"/><rect x="545.9" y="2.8" width="2" height="318.6" fill="#000"/><rect x="1.9" y="319.7" width="546" height="1.7" fill="#000"/></svg>
</body></html>
